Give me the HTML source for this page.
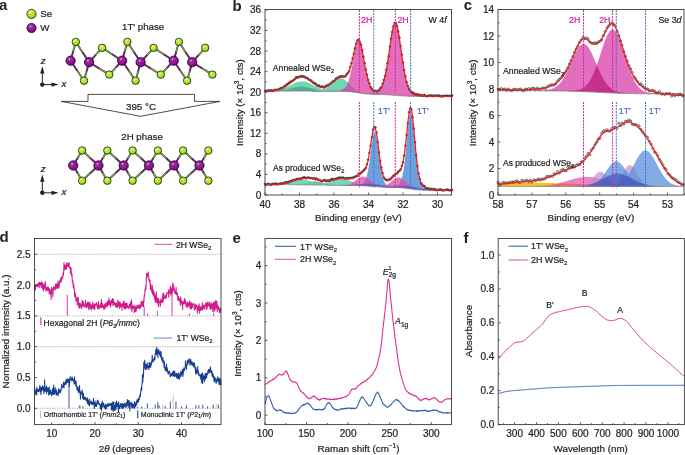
<!DOCTYPE html>
<html><head><meta charset="utf-8"><style>
html,body{margin:0;padding:0;background:#fff;width:685px;height:455px;overflow:hidden}
svg{display:block}
text{font-family:"Liberation Sans", sans-serif}
</style></head><body>
<svg width="685" height="455" viewBox="0 0 685 455">
<rect width="685" height="455" fill="#fff"/>
<text x="-1" y="10.4" font-size="15" text-anchor="start" font-weight="bold" font-style="normal" fill="#231f20" stroke="#231f20" stroke-width="0.0" >a</text>
<defs>
<radialGradient id="gse" cx="0.38" cy="0.33" r="0.75">
<stop offset="0" stop-color="#f4ffd0"/><stop offset="0.2" stop-color="#c2f048"/><stop offset="0.7" stop-color="#a2dc28"/><stop offset="1" stop-color="#6e9c10"/></radialGradient>
<radialGradient id="gw" cx="0.38" cy="0.33" r="0.75">
<stop offset="0" stop-color="#f4d0f4"/><stop offset="0.18" stop-color="#a22aa8"/><stop offset="0.7" stop-color="#88128e"/><stop offset="1" stop-color="#55065e"/></radialGradient>
</defs>
<circle cx="31.5" cy="13.9" r="4.6" fill="url(#gse)" stroke="#1e2410" stroke-width="0.8"/>
<text x="40.2" y="17.3" font-size="9.7" text-anchor="start" font-weight="normal" font-style="normal" fill="#231f20" stroke="#231f20" stroke-width="0.22" >Se</text>
<circle cx="31.5" cy="28" r="4.6" fill="url(#gw)" stroke="#1a0420" stroke-width="0.8"/>
<text x="40.2" y="31.3" font-size="9.7" text-anchor="start" font-weight="normal" font-style="normal" fill="#231f20" stroke="#231f20" stroke-width="0.22" >W</text>
<text x="122" y="30" font-size="9.7" text-anchor="start" font-weight="normal" font-style="normal" fill="#231f20" stroke="#231f20" stroke-width="0.22" >1T' phase</text>
<line x1="70.6" y1="60.7" x2="75.8" y2="41.9" stroke="#3b3b3b" stroke-width="1.9" />
<line x1="70.6" y1="60.7" x2="73.2" y2="51.3" stroke="#7d1d86" stroke-width="1.15" />
<line x1="73.2" y1="51.3" x2="75.8" y2="41.9" stroke="#86a83a" stroke-width="1.15" />
<line x1="70.6" y1="60.7" x2="84" y2="80.7" stroke="#3b3b3b" stroke-width="1.9" />
<line x1="70.6" y1="60.7" x2="77.3" y2="70.7" stroke="#7d1d86" stroke-width="1.15" />
<line x1="77.3" y1="70.7" x2="84" y2="80.7" stroke="#86a83a" stroke-width="1.15" />
<line x1="89.1" y1="62.2" x2="75.8" y2="41.9" stroke="#3b3b3b" stroke-width="1.9" />
<line x1="89.1" y1="62.2" x2="82.45" y2="52.05" stroke="#7d1d86" stroke-width="1.15" />
<line x1="82.45" y1="52.05" x2="75.8" y2="41.9" stroke="#86a83a" stroke-width="1.15" />
<line x1="89.1" y1="62.2" x2="84" y2="80.7" stroke="#3b3b3b" stroke-width="1.9" />
<line x1="89.1" y1="62.2" x2="86.55" y2="71.45" stroke="#7d1d86" stroke-width="1.15" />
<line x1="86.55" y1="71.45" x2="84" y2="80.7" stroke="#86a83a" stroke-width="1.15" />
<line x1="89.1" y1="62.2" x2="102.1" y2="47.8" stroke="#3b3b3b" stroke-width="1.9" />
<line x1="89.1" y1="62.2" x2="95.6" y2="55" stroke="#7d1d86" stroke-width="1.15" />
<line x1="95.6" y1="55" x2="102.1" y2="47.8" stroke="#86a83a" stroke-width="1.15" />
<line x1="89.1" y1="62.2" x2="109.3" y2="74.6" stroke="#3b3b3b" stroke-width="1.9" />
<line x1="89.1" y1="62.2" x2="99.2" y2="68.4" stroke="#7d1d86" stroke-width="1.15" />
<line x1="99.2" y1="68.4" x2="109.3" y2="74.6" stroke="#86a83a" stroke-width="1.15" />
<line x1="122.15" y1="60.7" x2="127.35" y2="41.9" stroke="#3b3b3b" stroke-width="1.9" />
<line x1="122.15" y1="60.7" x2="124.75" y2="51.3" stroke="#7d1d86" stroke-width="1.15" />
<line x1="124.75" y1="51.3" x2="127.35" y2="41.9" stroke="#86a83a" stroke-width="1.15" />
<line x1="122.15" y1="60.7" x2="135.55" y2="80.7" stroke="#3b3b3b" stroke-width="1.9" />
<line x1="122.15" y1="60.7" x2="128.85" y2="70.7" stroke="#7d1d86" stroke-width="1.15" />
<line x1="128.85" y1="70.7" x2="135.55" y2="80.7" stroke="#86a83a" stroke-width="1.15" />
<line x1="140.65" y1="62.2" x2="127.35" y2="41.9" stroke="#3b3b3b" stroke-width="1.9" />
<line x1="140.65" y1="62.2" x2="134" y2="52.05" stroke="#7d1d86" stroke-width="1.15" />
<line x1="134" y1="52.05" x2="127.35" y2="41.9" stroke="#86a83a" stroke-width="1.15" />
<line x1="140.65" y1="62.2" x2="135.55" y2="80.7" stroke="#3b3b3b" stroke-width="1.9" />
<line x1="140.65" y1="62.2" x2="138.1" y2="71.45" stroke="#7d1d86" stroke-width="1.15" />
<line x1="138.1" y1="71.45" x2="135.55" y2="80.7" stroke="#86a83a" stroke-width="1.15" />
<line x1="140.65" y1="62.2" x2="153.65" y2="47.8" stroke="#3b3b3b" stroke-width="1.9" />
<line x1="140.65" y1="62.2" x2="147.15" y2="55" stroke="#7d1d86" stroke-width="1.15" />
<line x1="147.15" y1="55" x2="153.65" y2="47.8" stroke="#86a83a" stroke-width="1.15" />
<line x1="140.65" y1="62.2" x2="160.85" y2="74.6" stroke="#3b3b3b" stroke-width="1.9" />
<line x1="140.65" y1="62.2" x2="150.75" y2="68.4" stroke="#7d1d86" stroke-width="1.15" />
<line x1="150.75" y1="68.4" x2="160.85" y2="74.6" stroke="#86a83a" stroke-width="1.15" />
<line x1="122.15" y1="60.7" x2="102.1" y2="47.8" stroke="#3b3b3b" stroke-width="1.9" />
<line x1="122.15" y1="60.7" x2="112.12" y2="54.25" stroke="#7d1d86" stroke-width="1.15" />
<line x1="112.12" y1="54.25" x2="102.1" y2="47.8" stroke="#86a83a" stroke-width="1.15" />
<line x1="122.15" y1="60.7" x2="109.3" y2="74.6" stroke="#3b3b3b" stroke-width="1.9" />
<line x1="122.15" y1="60.7" x2="115.72" y2="67.65" stroke="#7d1d86" stroke-width="1.15" />
<line x1="115.72" y1="67.65" x2="109.3" y2="74.6" stroke="#86a83a" stroke-width="1.15" />
<line x1="173.7" y1="60.7" x2="178.9" y2="41.9" stroke="#3b3b3b" stroke-width="1.9" />
<line x1="173.7" y1="60.7" x2="176.3" y2="51.3" stroke="#7d1d86" stroke-width="1.15" />
<line x1="176.3" y1="51.3" x2="178.9" y2="41.9" stroke="#86a83a" stroke-width="1.15" />
<line x1="173.7" y1="60.7" x2="187.1" y2="80.7" stroke="#3b3b3b" stroke-width="1.9" />
<line x1="173.7" y1="60.7" x2="180.4" y2="70.7" stroke="#7d1d86" stroke-width="1.15" />
<line x1="180.4" y1="70.7" x2="187.1" y2="80.7" stroke="#86a83a" stroke-width="1.15" />
<line x1="192.2" y1="62.2" x2="178.9" y2="41.9" stroke="#3b3b3b" stroke-width="1.9" />
<line x1="192.2" y1="62.2" x2="185.55" y2="52.05" stroke="#7d1d86" stroke-width="1.15" />
<line x1="185.55" y1="52.05" x2="178.9" y2="41.9" stroke="#86a83a" stroke-width="1.15" />
<line x1="192.2" y1="62.2" x2="187.1" y2="80.7" stroke="#3b3b3b" stroke-width="1.9" />
<line x1="192.2" y1="62.2" x2="189.65" y2="71.45" stroke="#7d1d86" stroke-width="1.15" />
<line x1="189.65" y1="71.45" x2="187.1" y2="80.7" stroke="#86a83a" stroke-width="1.15" />
<line x1="192.2" y1="62.2" x2="205.2" y2="47.8" stroke="#3b3b3b" stroke-width="1.9" />
<line x1="192.2" y1="62.2" x2="198.7" y2="55" stroke="#7d1d86" stroke-width="1.15" />
<line x1="198.7" y1="55" x2="205.2" y2="47.8" stroke="#86a83a" stroke-width="1.15" />
<line x1="192.2" y1="62.2" x2="212.4" y2="74.6" stroke="#3b3b3b" stroke-width="1.9" />
<line x1="192.2" y1="62.2" x2="202.3" y2="68.4" stroke="#7d1d86" stroke-width="1.15" />
<line x1="202.3" y1="68.4" x2="212.4" y2="74.6" stroke="#86a83a" stroke-width="1.15" />
<line x1="173.7" y1="60.7" x2="153.65" y2="47.8" stroke="#3b3b3b" stroke-width="1.9" />
<line x1="173.7" y1="60.7" x2="163.67" y2="54.25" stroke="#7d1d86" stroke-width="1.15" />
<line x1="163.67" y1="54.25" x2="153.65" y2="47.8" stroke="#86a83a" stroke-width="1.15" />
<line x1="173.7" y1="60.7" x2="160.85" y2="74.6" stroke="#3b3b3b" stroke-width="1.9" />
<line x1="173.7" y1="60.7" x2="167.27" y2="67.65" stroke="#7d1d86" stroke-width="1.15" />
<line x1="167.27" y1="67.65" x2="160.85" y2="74.6" stroke="#86a83a" stroke-width="1.15" />
<circle cx="70.6" cy="60.7" r="4.65" fill="url(#gw)" stroke="#1a0420" stroke-width="0.8"/>
<circle cx="89.1" cy="62.2" r="4.65" fill="url(#gw)" stroke="#1a0420" stroke-width="0.8"/>
<circle cx="122.15" cy="60.7" r="4.65" fill="url(#gw)" stroke="#1a0420" stroke-width="0.8"/>
<circle cx="140.65" cy="62.2" r="4.65" fill="url(#gw)" stroke="#1a0420" stroke-width="0.8"/>
<circle cx="173.7" cy="60.7" r="4.65" fill="url(#gw)" stroke="#1a0420" stroke-width="0.8"/>
<circle cx="192.2" cy="62.2" r="4.65" fill="url(#gw)" stroke="#1a0420" stroke-width="0.8"/>
<circle cx="75.8" cy="41.9" r="3.75" fill="url(#gse)" stroke="#1e2410" stroke-width="0.8"/>
<circle cx="102.1" cy="47.8" r="3.75" fill="url(#gse)" stroke="#1e2410" stroke-width="0.8"/>
<circle cx="84" cy="80.7" r="3.75" fill="url(#gse)" stroke="#1e2410" stroke-width="0.8"/>
<circle cx="109.3" cy="74.6" r="3.75" fill="url(#gse)" stroke="#1e2410" stroke-width="0.8"/>
<circle cx="127.35" cy="41.9" r="3.75" fill="url(#gse)" stroke="#1e2410" stroke-width="0.8"/>
<circle cx="153.65" cy="47.8" r="3.75" fill="url(#gse)" stroke="#1e2410" stroke-width="0.8"/>
<circle cx="135.55" cy="80.7" r="3.75" fill="url(#gse)" stroke="#1e2410" stroke-width="0.8"/>
<circle cx="160.85" cy="74.6" r="3.75" fill="url(#gse)" stroke="#1e2410" stroke-width="0.8"/>
<circle cx="178.9" cy="41.9" r="3.75" fill="url(#gse)" stroke="#1e2410" stroke-width="0.8"/>
<circle cx="205.2" cy="47.8" r="3.75" fill="url(#gse)" stroke="#1e2410" stroke-width="0.8"/>
<circle cx="187.1" cy="80.7" r="3.75" fill="url(#gse)" stroke="#1e2410" stroke-width="0.8"/>
<circle cx="212.4" cy="74.6" r="3.75" fill="url(#gse)" stroke="#1e2410" stroke-width="0.8"/>
<line x1="42.3" y1="84.6" x2="42.3" y2="72.2" stroke="#231f20" stroke-width="1.0" />
<path d="M40.2,73.5 L42.3,66.2 L44.4,73.5 Z" fill="#231f20"/>
<line x1="42.3" y1="84.6" x2="52.3" y2="84.6" stroke="#231f20" stroke-width="1.0" />
<path d="M51.5,82.5 L58.5,84.6 L51.5,86.7 Z" fill="#231f20"/>
<circle cx="42.3" cy="84.6" r="2.2" fill="#231f20"/>
<text x="40.7" y="63.6" font-size="9.8" text-anchor="start" font-weight="normal" font-style="italic" fill="#231f20" stroke="#231f20" stroke-width="0.22" >z</text>
<text x="61.6" y="86.9" font-size="9.8" text-anchor="start" font-weight="normal" font-style="italic" fill="#231f20" stroke="#231f20" stroke-width="0.22" >x</text>
<path d="M61.2,101.4 L88,101.4 L88,94.4 L194.5,94.4 L194.5,101.4 L220,101.4 L140.6,116.3 Z" fill="#fff" stroke="#231f20" stroke-width="0.8" stroke-linejoin="miter"/>
<text x="141" y="109.8" font-size="9.8" text-anchor="middle" font-weight="normal" font-style="normal" fill="#231f20" stroke="#231f20" stroke-width="0.22" >395 °C</text>
<text x="121.3" y="140" font-size="9.7" text-anchor="start" font-weight="normal" font-style="normal" fill="#231f20" stroke="#231f20" stroke-width="0.22" >2H phase</text>
<line x1="73.2" y1="165.5" x2="82.1" y2="150.5" stroke="#3b3b3b" stroke-width="1.9" />
<line x1="73.2" y1="165.5" x2="77.65" y2="158" stroke="#7d1d86" stroke-width="1.15" />
<line x1="77.65" y1="158" x2="82.1" y2="150.5" stroke="#86a83a" stroke-width="1.15" />
<line x1="73.2" y1="165.5" x2="82.1" y2="180.7" stroke="#3b3b3b" stroke-width="1.9" />
<line x1="73.2" y1="165.5" x2="77.65" y2="173.1" stroke="#7d1d86" stroke-width="1.15" />
<line x1="77.65" y1="173.1" x2="82.1" y2="180.7" stroke="#86a83a" stroke-width="1.15" />
<line x1="98.45" y1="165.5" x2="107.35" y2="150.5" stroke="#3b3b3b" stroke-width="1.9" />
<line x1="98.45" y1="165.5" x2="102.9" y2="158" stroke="#7d1d86" stroke-width="1.15" />
<line x1="102.9" y1="158" x2="107.35" y2="150.5" stroke="#86a83a" stroke-width="1.15" />
<line x1="98.45" y1="165.5" x2="107.35" y2="180.7" stroke="#3b3b3b" stroke-width="1.9" />
<line x1="98.45" y1="165.5" x2="102.9" y2="173.1" stroke="#7d1d86" stroke-width="1.15" />
<line x1="102.9" y1="173.1" x2="107.35" y2="180.7" stroke="#86a83a" stroke-width="1.15" />
<line x1="98.45" y1="165.5" x2="82.1" y2="150.5" stroke="#3b3b3b" stroke-width="1.9" />
<line x1="98.45" y1="165.5" x2="90.28" y2="158" stroke="#7d1d86" stroke-width="1.15" />
<line x1="90.28" y1="158" x2="82.1" y2="150.5" stroke="#86a83a" stroke-width="1.15" />
<line x1="98.45" y1="165.5" x2="82.1" y2="180.7" stroke="#3b3b3b" stroke-width="1.9" />
<line x1="98.45" y1="165.5" x2="90.28" y2="173.1" stroke="#7d1d86" stroke-width="1.15" />
<line x1="90.28" y1="173.1" x2="82.1" y2="180.7" stroke="#86a83a" stroke-width="1.15" />
<line x1="123.7" y1="165.5" x2="132.6" y2="150.5" stroke="#3b3b3b" stroke-width="1.9" />
<line x1="123.7" y1="165.5" x2="128.15" y2="158" stroke="#7d1d86" stroke-width="1.15" />
<line x1="128.15" y1="158" x2="132.6" y2="150.5" stroke="#86a83a" stroke-width="1.15" />
<line x1="123.7" y1="165.5" x2="132.6" y2="180.7" stroke="#3b3b3b" stroke-width="1.9" />
<line x1="123.7" y1="165.5" x2="128.15" y2="173.1" stroke="#7d1d86" stroke-width="1.15" />
<line x1="128.15" y1="173.1" x2="132.6" y2="180.7" stroke="#86a83a" stroke-width="1.15" />
<line x1="123.7" y1="165.5" x2="107.35" y2="150.5" stroke="#3b3b3b" stroke-width="1.9" />
<line x1="123.7" y1="165.5" x2="115.53" y2="158" stroke="#7d1d86" stroke-width="1.15" />
<line x1="115.53" y1="158" x2="107.35" y2="150.5" stroke="#86a83a" stroke-width="1.15" />
<line x1="123.7" y1="165.5" x2="107.35" y2="180.7" stroke="#3b3b3b" stroke-width="1.9" />
<line x1="123.7" y1="165.5" x2="115.53" y2="173.1" stroke="#7d1d86" stroke-width="1.15" />
<line x1="115.53" y1="173.1" x2="107.35" y2="180.7" stroke="#86a83a" stroke-width="1.15" />
<line x1="148.95" y1="165.5" x2="157.85" y2="150.5" stroke="#3b3b3b" stroke-width="1.9" />
<line x1="148.95" y1="165.5" x2="153.4" y2="158" stroke="#7d1d86" stroke-width="1.15" />
<line x1="153.4" y1="158" x2="157.85" y2="150.5" stroke="#86a83a" stroke-width="1.15" />
<line x1="148.95" y1="165.5" x2="157.85" y2="180.7" stroke="#3b3b3b" stroke-width="1.9" />
<line x1="148.95" y1="165.5" x2="153.4" y2="173.1" stroke="#7d1d86" stroke-width="1.15" />
<line x1="153.4" y1="173.1" x2="157.85" y2="180.7" stroke="#86a83a" stroke-width="1.15" />
<line x1="148.95" y1="165.5" x2="132.6" y2="150.5" stroke="#3b3b3b" stroke-width="1.9" />
<line x1="148.95" y1="165.5" x2="140.77" y2="158" stroke="#7d1d86" stroke-width="1.15" />
<line x1="140.77" y1="158" x2="132.6" y2="150.5" stroke="#86a83a" stroke-width="1.15" />
<line x1="148.95" y1="165.5" x2="132.6" y2="180.7" stroke="#3b3b3b" stroke-width="1.9" />
<line x1="148.95" y1="165.5" x2="140.77" y2="173.1" stroke="#7d1d86" stroke-width="1.15" />
<line x1="140.77" y1="173.1" x2="132.6" y2="180.7" stroke="#86a83a" stroke-width="1.15" />
<line x1="174.2" y1="165.5" x2="183.1" y2="150.5" stroke="#3b3b3b" stroke-width="1.9" />
<line x1="174.2" y1="165.5" x2="178.65" y2="158" stroke="#7d1d86" stroke-width="1.15" />
<line x1="178.65" y1="158" x2="183.1" y2="150.5" stroke="#86a83a" stroke-width="1.15" />
<line x1="174.2" y1="165.5" x2="183.1" y2="180.7" stroke="#3b3b3b" stroke-width="1.9" />
<line x1="174.2" y1="165.5" x2="178.65" y2="173.1" stroke="#7d1d86" stroke-width="1.15" />
<line x1="178.65" y1="173.1" x2="183.1" y2="180.7" stroke="#86a83a" stroke-width="1.15" />
<line x1="174.2" y1="165.5" x2="157.85" y2="150.5" stroke="#3b3b3b" stroke-width="1.9" />
<line x1="174.2" y1="165.5" x2="166.02" y2="158" stroke="#7d1d86" stroke-width="1.15" />
<line x1="166.02" y1="158" x2="157.85" y2="150.5" stroke="#86a83a" stroke-width="1.15" />
<line x1="174.2" y1="165.5" x2="157.85" y2="180.7" stroke="#3b3b3b" stroke-width="1.9" />
<line x1="174.2" y1="165.5" x2="166.02" y2="173.1" stroke="#7d1d86" stroke-width="1.15" />
<line x1="166.02" y1="173.1" x2="157.85" y2="180.7" stroke="#86a83a" stroke-width="1.15" />
<line x1="199.45" y1="165.5" x2="208.35" y2="150.5" stroke="#3b3b3b" stroke-width="1.9" />
<line x1="199.45" y1="165.5" x2="203.9" y2="158" stroke="#7d1d86" stroke-width="1.15" />
<line x1="203.9" y1="158" x2="208.35" y2="150.5" stroke="#86a83a" stroke-width="1.15" />
<line x1="199.45" y1="165.5" x2="208.35" y2="180.7" stroke="#3b3b3b" stroke-width="1.9" />
<line x1="199.45" y1="165.5" x2="203.9" y2="173.1" stroke="#7d1d86" stroke-width="1.15" />
<line x1="203.9" y1="173.1" x2="208.35" y2="180.7" stroke="#86a83a" stroke-width="1.15" />
<line x1="199.45" y1="165.5" x2="183.1" y2="150.5" stroke="#3b3b3b" stroke-width="1.9" />
<line x1="199.45" y1="165.5" x2="191.27" y2="158" stroke="#7d1d86" stroke-width="1.15" />
<line x1="191.27" y1="158" x2="183.1" y2="150.5" stroke="#86a83a" stroke-width="1.15" />
<line x1="199.45" y1="165.5" x2="183.1" y2="180.7" stroke="#3b3b3b" stroke-width="1.9" />
<line x1="199.45" y1="165.5" x2="191.27" y2="173.1" stroke="#7d1d86" stroke-width="1.15" />
<line x1="191.27" y1="173.1" x2="183.1" y2="180.7" stroke="#86a83a" stroke-width="1.15" />
<circle cx="73.2" cy="165.5" r="4.65" fill="url(#gw)" stroke="#1a0420" stroke-width="0.8"/>
<circle cx="98.45" cy="165.5" r="4.65" fill="url(#gw)" stroke="#1a0420" stroke-width="0.8"/>
<circle cx="123.7" cy="165.5" r="4.65" fill="url(#gw)" stroke="#1a0420" stroke-width="0.8"/>
<circle cx="148.95" cy="165.5" r="4.65" fill="url(#gw)" stroke="#1a0420" stroke-width="0.8"/>
<circle cx="174.2" cy="165.5" r="4.65" fill="url(#gw)" stroke="#1a0420" stroke-width="0.8"/>
<circle cx="199.45" cy="165.5" r="4.65" fill="url(#gw)" stroke="#1a0420" stroke-width="0.8"/>
<circle cx="82.1" cy="150.5" r="3.75" fill="url(#gse)" stroke="#1e2410" stroke-width="0.8"/>
<circle cx="82.1" cy="180.7" r="3.75" fill="url(#gse)" stroke="#1e2410" stroke-width="0.8"/>
<circle cx="107.35" cy="150.5" r="3.75" fill="url(#gse)" stroke="#1e2410" stroke-width="0.8"/>
<circle cx="107.35" cy="180.7" r="3.75" fill="url(#gse)" stroke="#1e2410" stroke-width="0.8"/>
<circle cx="132.6" cy="150.5" r="3.75" fill="url(#gse)" stroke="#1e2410" stroke-width="0.8"/>
<circle cx="132.6" cy="180.7" r="3.75" fill="url(#gse)" stroke="#1e2410" stroke-width="0.8"/>
<circle cx="157.85" cy="150.5" r="3.75" fill="url(#gse)" stroke="#1e2410" stroke-width="0.8"/>
<circle cx="157.85" cy="180.7" r="3.75" fill="url(#gse)" stroke="#1e2410" stroke-width="0.8"/>
<circle cx="183.1" cy="150.5" r="3.75" fill="url(#gse)" stroke="#1e2410" stroke-width="0.8"/>
<circle cx="183.1" cy="180.7" r="3.75" fill="url(#gse)" stroke="#1e2410" stroke-width="0.8"/>
<circle cx="208.35" cy="150.5" r="3.75" fill="url(#gse)" stroke="#1e2410" stroke-width="0.8"/>
<circle cx="208.35" cy="180.7" r="3.75" fill="url(#gse)" stroke="#1e2410" stroke-width="0.8"/>
<line x1="42.3" y1="192.8" x2="42.3" y2="180.4" stroke="#231f20" stroke-width="1.0" />
<path d="M40.2,181.7 L42.3,174.4 L44.4,181.7 Z" fill="#231f20"/>
<line x1="42.3" y1="192.8" x2="52.3" y2="192.8" stroke="#231f20" stroke-width="1.0" />
<path d="M51.5,190.7 L58.5,192.8 L51.5,194.9 Z" fill="#231f20"/>
<circle cx="42.3" cy="192.8" r="2.2" fill="#231f20"/>
<text x="40.7" y="171.8" font-size="9.8" text-anchor="start" font-weight="normal" font-style="italic" fill="#231f20" stroke="#231f20" stroke-width="0.22" >z</text>
<text x="61.6" y="195.1" font-size="9.8" text-anchor="start" font-weight="normal" font-style="italic" fill="#231f20" stroke="#231f20" stroke-width="0.22" >x</text>
<text x="232.4" y="10.6" font-size="15" text-anchor="start" font-weight="bold" font-style="normal" fill="#231f20" stroke="#231f20" stroke-width="0.0" >b</text>
<path d="M266.3,91 266.8,90.9 267.2,90.9 267.7,90.9 268.1,90.9 268.6,90.9 269,90.9 269.5,90.9 269.9,90.8 270.4,90.8 270.8,90.8 271.3,90.8 271.7,90.7 272.2,90.7 272.6,90.7 273.1,90.6 273.5,90.6 274,90.6 274.4,90.5 274.8,90.5 275.3,90.4 275.7,90.3 276.2,90.3 276.6,90.2 277.1,90.1 277.5,90.1 278,90 278.4,89.9 278.9,89.8 279.3,89.7 279.8,89.6 280.2,89.5 280.7,89.3 281.1,89.2 281.6,89.1 282,88.9 282.5,88.8 282.9,88.6 283.3,88.5 283.8,88.3 284.2,88.1 284.7,87.9 285.1,87.7 285.6,87.6 286,87.4 286.5,87.1 286.9,86.9 287.4,86.7 287.8,86.5 288.3,86.3 288.7,86.1 289.2,85.8 289.6,85.6 290.1,85.4 290.5,85.1 291,84.9 291.4,84.7 291.9,84.4 292.3,84.2 292.7,84 293.2,83.8 293.6,83.6 294.1,83.3 294.5,83.1 295,82.9 295.4,82.8 295.9,82.6 296.3,82.4 296.8,82.2 297.2,82.1 297.7,82 298.1,81.8 298.6,81.7 299,81.6 299.5,81.5 299.9,81.5 300.4,81.4 300.8,81.4 301.2,81.3 301.7,81.3 302.1,81.3 302.6,81.3 303,81.4 303.5,81.4 303.9,81.5 304.4,81.5 304.8,81.6 305.3,81.7 305.7,81.8 306.2,82 306.6,82.1 307.1,82.3 307.5,82.4 308,82.6 308.4,82.8 308.9,83 309.3,83.2 309.8,83.4 310.2,83.6 310.6,83.8 311.1,84 311.5,84.3 312,84.5 312.4,84.7 312.9,85 313.3,85.2 313.8,85.4 314.2,85.7 314.7,85.9 315.1,86.1 315.6,86.4 316,86.6 316.5,86.8 316.9,87 317.4,87.2 317.8,87.4 318.3,87.6 318.7,87.8 319.1,88 319.6,88.2 320,88.4 320.5,88.6 320.9,88.7 321.4,88.9 321.8,89 322.3,89.2 322.7,89.3 323.2,89.5 323.6,89.6 324.1,89.7 324.5,89.8 325,89.9 325.4,90 325.9,90.1 326.3,90.2 326.8,90.3 327.2,90.4 327.7,90.4 328.1,90.5 328.5,90.6 329,90.6 329.4,90.7 329.9,90.7 330.3,90.8 330.8,90.8 331.2,90.9 331.7,90.9 332.1,90.9 332.6,91 333,91 333.5,91 333.9,91 334.4,91.1 334.8,91.1 335.3,91.1 335.7,91.1 336.2,91.1 336.6,91.2 337,91.2 337.5,91.2 L337.5,91.3 L337,91.3 L336.6,91.3 L336.2,91.3 L335.7,91.3 L335.3,91.2 L334.8,91.2 L334.4,91.2 L333.9,91.2 L333.5,91.2 L333,91.2 L332.6,91.2 L332.1,91.2 L331.7,91.2 L331.2,91.2 L330.8,91.2 L330.3,91.2 L329.9,91.2 L329.4,91.2 L329,91.2 L328.5,91.2 L328.1,91.2 L327.7,91.2 L327.2,91.2 L326.8,91.2 L326.3,91.2 L325.9,91.2 L325.4,91.2 L325,91.2 L324.5,91.2 L324.1,91.2 L323.6,91.2 L323.2,91.2 L322.7,91.2 L322.3,91.2 L321.8,91.2 L321.4,91.2 L320.9,91.2 L320.5,91.2 L320,91.2 L319.6,91.2 L319.1,91.2 L318.7,91.2 L318.3,91.2 L317.8,91.2 L317.4,91.2 L316.9,91.2 L316.5,91.2 L316,91.2 L315.6,91.2 L315.1,91.2 L314.7,91.2 L314.2,91.2 L313.8,91.2 L313.3,91.2 L312.9,91.2 L312.4,91.2 L312,91.2 L311.5,91.2 L311.1,91.1 L310.6,91.1 L310.2,91.1 L309.8,91.1 L309.3,91.1 L308.9,91.1 L308.4,91.1 L308,91.1 L307.5,91.1 L307.1,91.1 L306.6,91.1 L306.2,91.1 L305.7,91.1 L305.3,91.1 L304.8,91.1 L304.4,91.1 L303.9,91.1 L303.5,91.1 L303,91.1 L302.6,91.1 L302.1,91.1 L301.7,91.1 L301.2,91.1 L300.8,91.1 L300.4,91.1 L299.9,91.1 L299.5,91.1 L299,91.1 L298.6,91.1 L298.1,91.1 L297.7,91.1 L297.2,91.1 L296.8,91.1 L296.3,91.1 L295.9,91.1 L295.4,91.1 L295,91.1 L294.5,91.1 L294.1,91.1 L293.6,91.1 L293.2,91.1 L292.7,91.1 L292.3,91.1 L291.9,91.1 L291.4,91.1 L291,91.1 L290.5,91.1 L290.1,91.1 L289.6,91.1 L289.2,91.1 L288.7,91.1 L288.3,91.1 L287.8,91.1 L287.4,91.1 L286.9,91.1 L286.5,91.1 L286,91.1 L285.6,91.1 L285.1,91.1 L284.7,91.1 L284.2,91.1 L283.8,91.1 L283.3,91.1 L282.9,91.1 L282.5,91.1 L282,91.1 L281.6,91.1 L281.1,91.1 L280.7,91.1 L280.2,91.1 L279.8,91.1 L279.3,91.1 L278.9,91.1 L278.4,91.1 L278,91.1 L277.5,91.1 L277.1,91.1 L276.6,91.1 L276.2,91.1 L275.7,91.1 L275.3,91.1 L274.8,91.1 L274.4,91.1 L274,91 L273.5,91 L273.1,91 L272.6,91 L272.2,91 L271.7,91 L271.3,91 L270.8,91 L270.4,91 L269.9,91 L269.5,91 L269,91 L268.6,91 L268.1,91 L267.7,91 L267.2,91 L266.8,91 L266.3,91 Z" fill="#6ed7b4" fill-opacity="1.0" />
<path d="M271.7,91 272.2,91 272.6,91 273.1,90.9 273.5,90.9 274,90.9 274.4,90.9 274.8,90.9 275.3,90.9 275.7,90.8 276.2,90.8 276.6,90.8 277.1,90.8 277.5,90.7 278,90.7 278.4,90.7 278.9,90.6 279.3,90.6 279.8,90.6 280.2,90.5 280.7,90.5 281.1,90.4 281.6,90.3 282,90.3 282.5,90.2 282.9,90.2 283.3,90.1 283.8,90 284.2,89.9 284.7,89.8 285.1,89.8 285.6,89.7 286,89.6 286.5,89.5 286.9,89.4 287.4,89.3 287.8,89.2 288.3,89 288.7,88.9 289.2,88.8 289.6,88.7 290.1,88.6 290.5,88.5 291,88.4 291.4,88.2 291.9,88.1 292.3,88 292.7,87.9 293.2,87.8 293.6,87.7 294.1,87.5 294.5,87.4 295,87.3 295.4,87.2 295.9,87.2 296.3,87.1 296.8,87 297.2,86.9 297.7,86.9 298.1,86.8 298.6,86.7 299,86.7 299.5,86.7 299.9,86.6 300.4,86.6 300.8,86.6 301.2,86.6 301.7,86.6 302.1,86.6 302.6,86.6 303,86.7 303.5,86.7 303.9,86.8 304.4,86.8 304.8,86.9 305.3,86.9 305.7,87 306.2,87.1 306.6,87.2 307.1,87.3 307.5,87.4 308,87.5 308.4,87.6 308.9,87.7 309.3,87.8 309.8,87.9 310.2,88.1 310.6,88.2 311.1,88.3 311.5,88.4 312,88.5 312.4,88.7 312.9,88.8 313.3,88.9 313.8,89 314.2,89.1 314.7,89.2 315.1,89.3 315.6,89.5 316,89.6 316.5,89.7 316.9,89.8 317.4,89.8 317.8,89.9 318.3,90 318.7,90.1 319.1,90.2 319.6,90.3 320,90.3 320.5,90.4 320.9,90.5 321.4,90.5 321.8,90.6 322.3,90.6 322.7,90.7 323.2,90.7 323.6,90.8 324.1,90.8 324.5,90.8 325,90.9 325.4,90.9 325.9,90.9 326.3,91 326.8,91 327.2,91 327.7,91 328.1,91.1 328.5,91.1 329,91.1 329.4,91.1 329.9,91.1 330.3,91.1 330.8,91.1 L330.8,91.2 L330.3,91.2 L329.9,91.2 L329.4,91.2 L329,91.2 L328.5,91.2 L328.1,91.2 L327.7,91.2 L327.2,91.2 L326.8,91.2 L326.3,91.2 L325.9,91.2 L325.4,91.2 L325,91.2 L324.5,91.2 L324.1,91.2 L323.6,91.2 L323.2,91.2 L322.7,91.2 L322.3,91.2 L321.8,91.2 L321.4,91.2 L320.9,91.2 L320.5,91.2 L320,91.2 L319.6,91.2 L319.1,91.2 L318.7,91.2 L318.3,91.2 L317.8,91.2 L317.4,91.2 L316.9,91.2 L316.5,91.2 L316,91.2 L315.6,91.2 L315.1,91.2 L314.7,91.2 L314.2,91.2 L313.8,91.2 L313.3,91.2 L312.9,91.2 L312.4,91.2 L312,91.2 L311.5,91.2 L311.1,91.1 L310.6,91.1 L310.2,91.1 L309.8,91.1 L309.3,91.1 L308.9,91.1 L308.4,91.1 L308,91.1 L307.5,91.1 L307.1,91.1 L306.6,91.1 L306.2,91.1 L305.7,91.1 L305.3,91.1 L304.8,91.1 L304.4,91.1 L303.9,91.1 L303.5,91.1 L303,91.1 L302.6,91.1 L302.1,91.1 L301.7,91.1 L301.2,91.1 L300.8,91.1 L300.4,91.1 L299.9,91.1 L299.5,91.1 L299,91.1 L298.6,91.1 L298.1,91.1 L297.7,91.1 L297.2,91.1 L296.8,91.1 L296.3,91.1 L295.9,91.1 L295.4,91.1 L295,91.1 L294.5,91.1 L294.1,91.1 L293.6,91.1 L293.2,91.1 L292.7,91.1 L292.3,91.1 L291.9,91.1 L291.4,91.1 L291,91.1 L290.5,91.1 L290.1,91.1 L289.6,91.1 L289.2,91.1 L288.7,91.1 L288.3,91.1 L287.8,91.1 L287.4,91.1 L286.9,91.1 L286.5,91.1 L286,91.1 L285.6,91.1 L285.1,91.1 L284.7,91.1 L284.2,91.1 L283.8,91.1 L283.3,91.1 L282.9,91.1 L282.5,91.1 L282,91.1 L281.6,91.1 L281.1,91.1 L280.7,91.1 L280.2,91.1 L279.8,91.1 L279.3,91.1 L278.9,91.1 L278.4,91.1 L278,91.1 L277.5,91.1 L277.1,91.1 L276.6,91.1 L276.2,91.1 L275.7,91.1 L275.3,91.1 L274.8,91.1 L274.4,91.1 L274,91 L273.5,91 L273.1,91 L272.6,91 L272.2,91 L271.7,91 Z" fill="#b9cfcd" fill-opacity="1.0" style="mix-blend-mode:multiply" />
<path d="M312.9,91.1 313.3,91.1 313.8,91 314.2,91 314.7,91 315.1,91 315.6,91 316,90.9 316.5,90.9 316.9,90.8 317.4,90.8 317.8,90.8 318.3,90.7 318.7,90.6 319.1,90.6 319.6,90.5 320,90.4 320.5,90.3 320.9,90.2 321.4,90 321.8,89.9 322.3,89.8 322.7,89.6 323.2,89.4 323.6,89.2 324.1,89 324.5,88.8 325,88.6 325.4,88.4 325.9,88.1 326.3,87.8 326.8,87.5 327.2,87.2 327.7,86.9 328.1,86.6 328.5,86.2 329,85.8 329.4,85.5 329.9,85.1 330.3,84.7 330.8,84.3 331.2,83.9 331.7,83.5 332.1,83.1 332.6,82.7 333,82.3 333.5,81.9 333.9,81.5 334.4,81.1 334.8,80.8 335.3,80.4 335.7,80.1 336.2,79.8 336.6,79.5 337,79.2 337.5,79 337.9,78.8 338.4,78.6 338.8,78.5 339.3,78.4 339.7,78.3 340.2,78.3 340.6,78.3 341.1,78.3 341.5,78.4 342,78.5 342.4,78.6 342.9,78.8 343.3,79 343.8,79.2 344.2,79.5 344.7,79.8 345.1,80.1 345.6,80.4 346,80.8 346.4,81.2 346.9,81.6 347.3,82 347.8,82.4 348.2,82.8 348.7,83.3 349.1,83.7 349.6,84.2 350,84.6 350.5,85 350.9,85.5 351.4,85.9 351.8,86.3 352.3,86.8 352.7,87.2 353.2,87.6 353.6,88 354.1,88.3 354.5,88.7 354.9,89.1 355.4,89.4 355.8,89.7 356.3,90 356.7,90.3 357.2,90.6 357.6,90.9 358.1,91.1 358.5,91.4 359,91.6 359.4,91.8 359.9,92 360.3,92.2 360.8,92.4 361.2,92.5 361.7,92.7 362.1,92.8 362.6,92.9 363,93.1 363.5,93.2 363.9,93.3 364.3,93.4 364.8,93.5 365.2,93.6 365.7,93.6 366.1,93.7 366.6,93.8 367,93.8 367.5,93.9 367.9,93.9 368.4,94 L368.4,94 L367.9,94 L367.5,94 L367,93.9 L366.6,93.9 L366.1,93.9 L365.7,93.8 L365.2,93.8 L364.8,93.7 L364.3,93.7 L363.9,93.6 L363.5,93.6 L363,93.5 L362.6,93.5 L362.1,93.4 L361.7,93.3 L361.2,93.3 L360.8,93.2 L360.3,93.2 L359.9,93.1 L359.4,93 L359,93 L358.5,92.9 L358.1,92.8 L357.6,92.7 L357.2,92.7 L356.7,92.6 L356.3,92.5 L355.8,92.5 L355.4,92.4 L354.9,92.3 L354.5,92.3 L354.1,92.2 L353.6,92.2 L353.2,92.1 L352.7,92.1 L352.3,92 L351.8,92 L351.4,91.9 L350.9,91.9 L350.5,91.8 L350,91.8 L349.6,91.7 L349.1,91.7 L348.7,91.7 L348.2,91.6 L347.8,91.6 L347.3,91.6 L346.9,91.6 L346.4,91.5 L346,91.5 L345.6,91.5 L345.1,91.5 L344.7,91.4 L344.2,91.4 L343.8,91.4 L343.3,91.4 L342.9,91.4 L342.4,91.4 L342,91.4 L341.5,91.3 L341.1,91.3 L340.6,91.3 L340.2,91.3 L339.7,91.3 L339.3,91.3 L338.8,91.3 L338.4,91.3 L337.9,91.3 L337.5,91.3 L337,91.3 L336.6,91.3 L336.2,91.3 L335.7,91.3 L335.3,91.2 L334.8,91.2 L334.4,91.2 L333.9,91.2 L333.5,91.2 L333,91.2 L332.6,91.2 L332.1,91.2 L331.7,91.2 L331.2,91.2 L330.8,91.2 L330.3,91.2 L329.9,91.2 L329.4,91.2 L329,91.2 L328.5,91.2 L328.1,91.2 L327.7,91.2 L327.2,91.2 L326.8,91.2 L326.3,91.2 L325.9,91.2 L325.4,91.2 L325,91.2 L324.5,91.2 L324.1,91.2 L323.6,91.2 L323.2,91.2 L322.7,91.2 L322.3,91.2 L321.8,91.2 L321.4,91.2 L320.9,91.2 L320.5,91.2 L320,91.2 L319.6,91.2 L319.1,91.2 L318.7,91.2 L318.3,91.2 L317.8,91.2 L317.4,91.2 L316.9,91.2 L316.5,91.2 L316,91.2 L315.6,91.2 L315.1,91.2 L314.7,91.2 L314.2,91.2 L313.8,91.2 L313.3,91.2 L312.9,91.2 Z" fill="#6ed7b4" fill-opacity="1.0" />
<path d="M291.4,91 291.9,91 292.3,91 292.7,91 293.2,91 293.6,91 294.1,91 294.5,91 295,91 295.4,91 295.9,91 296.3,91 296.8,91 297.2,91 297.7,91 298.1,91 298.6,91 299,91 299.5,91 299.9,91 300.4,91 300.8,91 301.2,91 301.7,91 302.1,91 302.6,91 303,91 303.5,91 303.9,91 304.4,91 304.8,91 305.3,91 305.7,91 306.2,91 306.6,91 307.1,91 307.5,91 308,91 308.4,91 308.9,91 309.3,91 309.8,91 310.2,91 310.6,91 311.1,91 311.5,91 312,91 312.4,91 312.9,91 313.3,91 313.8,91 314.2,91 314.7,91 315.1,91 315.6,91 316,91 316.5,91 316.9,91 317.4,91 317.8,91 318.3,91 318.7,90.9 319.1,90.9 319.6,90.9 320,90.9 320.5,90.9 320.9,90.9 321.4,90.9 321.8,90.9 322.3,90.9 322.7,90.9 323.2,90.9 323.6,90.9 324.1,90.9 324.5,90.9 325,90.9 325.4,90.9 325.9,90.9 326.3,90.9 326.8,90.9 327.2,90.8 327.7,90.8 328.1,90.8 328.5,90.8 329,90.8 329.4,90.8 329.9,90.8 330.3,90.8 330.8,90.8 331.2,90.8 331.7,90.8 332.1,90.7 332.6,90.7 333,90.7 333.5,90.7 333.9,90.7 334.4,90.7 334.8,90.7 335.3,90.6 335.7,90.6 336.2,90.6 336.6,90.6 337,90.5 337.5,90.5 337.9,90.5 338.4,90.4 338.8,90.4 339.3,90.3 339.7,90.3 340.2,90.2 340.6,90.1 341.1,90 341.5,89.9 342,89.7 342.4,89.5 342.9,89.3 343.3,89.1 343.8,88.8 344.2,88.4 344.7,88 345.1,87.6 345.6,87 346,86.4 346.4,85.7 346.9,84.8 347.3,83.9 347.8,82.9 348.2,81.7 348.7,80.4 349.1,79 349.6,77.4 350,75.7 350.5,73.9 350.9,72 351.4,69.9 351.8,67.8 352.3,65.5 352.7,63.3 353.2,60.9 353.6,58.6 354.1,56.3 354.5,54 354.9,51.8 355.4,49.8 355.8,47.9 356.3,46.2 356.7,44.7 357.2,43.5 357.6,42.6 358.1,42 358.5,41.7 359,41.8 359.4,42.2 359.9,43 360.3,44.1 360.8,45.4 361.2,47.1 361.7,48.9 362.1,50.9 362.6,53.1 363,55.4 363.5,57.8 363.9,60.3 364.3,62.7 364.8,65.1 365.2,67.5 365.7,69.8 366.1,72 366.6,74.2 367,76.2 367.5,78.1 367.9,79.8 368.4,81.4 368.8,82.9 369.3,84.3 369.7,85.5 370.2,86.6 370.6,87.5 371.1,88.4 371.5,89.2 372,89.8 372.4,90.4 372.9,90.9 373.3,91.3 373.7,91.7 374.2,92 374.6,92.3 375.1,92.5 375.5,92.7 376,92.9 376.4,93.1 376.9,93.2 377.3,93.3 377.8,93.4 378.2,93.5 378.7,93.5 379.1,93.6 379.6,93.7 380,93.7 380.5,93.8 380.9,93.8 381.4,93.9 381.8,93.9 382.2,93.9 382.7,94 383.1,94 383.6,94 384,94.1 384.5,94.1 384.9,94.2 385.4,94.2 385.8,94.2 386.3,94.3 386.7,94.3 387.2,94.3 387.6,94.4 388.1,94.4 388.5,94.5 389,94.5 389.4,94.5 389.9,94.6 390.3,94.6 390.8,94.7 391.2,94.7 391.6,94.8 392.1,94.8 392.5,94.8 393,94.9 393.4,94.9 393.9,95 394.3,95 394.8,95.1 395.2,95.1 395.7,95.2 396.1,95.2 396.6,95.3 397,95.3 397.5,95.4 397.9,95.4 398.4,95.4 398.8,95.5 399.3,95.5 399.7,95.6 400.1,95.6 400.6,95.6 401,95.7 401.5,95.7 401.9,95.7 402.4,95.8 402.8,95.8 403.3,95.8 403.7,95.8 404.2,95.9 404.6,95.9 405.1,95.9 405.5,95.9 406,95.9 406.4,96 406.9,96 407.3,96 407.8,96 408.2,96 408.7,96 409.1,96 409.5,96.1 410,96.1 410.4,96.1 410.9,96.1 411.3,96.1 411.8,96.1 412.2,96.1 412.7,96.1 413.1,96.1 413.6,96.1 414,96.1 414.5,96.1 414.9,96.1 415.4,96.2 415.8,96.2 416.3,96.2 416.7,96.2 417.2,96.2 417.6,96.2 418,96.2 418.5,96.2 418.9,96.2 419.4,96.2 419.8,96.2 420.3,96.2 420.7,96.2 421.2,96.2 421.6,96.2 422.1,96.2 422.5,96.2 423,96.2 423.4,96.2 423.9,96.2 424.3,96.2 424.8,96.2 425.2,96.2 425.7,96.2 426.1,96.2 L426.1,96.3 L425.7,96.3 L425.2,96.3 L424.8,96.3 L424.3,96.3 L423.9,96.3 L423.4,96.3 L423,96.3 L422.5,96.3 L422.1,96.3 L421.6,96.3 L421.2,96.3 L420.7,96.3 L420.3,96.3 L419.8,96.3 L419.4,96.3 L418.9,96.3 L418.5,96.3 L418,96.3 L417.6,96.3 L417.2,96.3 L416.7,96.3 L416.3,96.3 L415.8,96.3 L415.4,96.3 L414.9,96.3 L414.5,96.3 L414,96.3 L413.6,96.3 L413.1,96.2 L412.7,96.2 L412.2,96.2 L411.8,96.2 L411.3,96.2 L410.9,96.2 L410.4,96.2 L410,96.2 L409.5,96.2 L409.1,96.2 L408.7,96.2 L408.2,96.2 L407.8,96.2 L407.3,96.1 L406.9,96.1 L406.4,96.1 L406,96.1 L405.5,96.1 L405.1,96.1 L404.6,96.1 L404.2,96 L403.7,96 L403.3,96 L402.8,96 L402.4,95.9 L401.9,95.9 L401.5,95.9 L401,95.9 L400.6,95.8 L400.1,95.8 L399.7,95.8 L399.3,95.7 L398.8,95.7 L398.4,95.7 L397.9,95.6 L397.5,95.6 L397,95.6 L396.6,95.5 L396.1,95.5 L395.7,95.4 L395.2,95.4 L394.8,95.4 L394.3,95.3 L393.9,95.3 L393.4,95.2 L393,95.2 L392.5,95.2 L392.1,95.1 L391.6,95.1 L391.2,95 L390.8,95 L390.3,95 L389.9,94.9 L389.4,94.9 L389,94.9 L388.5,94.8 L388.1,94.8 L387.6,94.8 L387.2,94.8 L386.7,94.7 L386.3,94.7 L385.8,94.7 L385.4,94.7 L384.9,94.7 L384.5,94.6 L384,94.6 L383.6,94.6 L383.1,94.6 L382.7,94.6 L382.2,94.5 L381.8,94.5 L381.4,94.5 L380.9,94.5 L380.5,94.5 L380,94.5 L379.6,94.5 L379.1,94.5 L378.7,94.4 L378.2,94.4 L377.8,94.4 L377.3,94.4 L376.9,94.4 L376.4,94.4 L376,94.4 L375.5,94.4 L375.1,94.4 L374.6,94.3 L374.2,94.3 L373.7,94.3 L373.3,94.3 L372.9,94.3 L372.4,94.3 L372,94.2 L371.5,94.2 L371.1,94.2 L370.6,94.2 L370.2,94.2 L369.7,94.1 L369.3,94.1 L368.8,94.1 L368.4,94 L367.9,94 L367.5,94 L367,93.9 L366.6,93.9 L366.1,93.9 L365.7,93.8 L365.2,93.8 L364.8,93.7 L364.3,93.7 L363.9,93.6 L363.5,93.6 L363,93.5 L362.6,93.5 L362.1,93.4 L361.7,93.3 L361.2,93.3 L360.8,93.2 L360.3,93.2 L359.9,93.1 L359.4,93 L359,93 L358.5,92.9 L358.1,92.8 L357.6,92.7 L357.2,92.7 L356.7,92.6 L356.3,92.5 L355.8,92.5 L355.4,92.4 L354.9,92.3 L354.5,92.3 L354.1,92.2 L353.6,92.2 L353.2,92.1 L352.7,92.1 L352.3,92 L351.8,92 L351.4,91.9 L350.9,91.9 L350.5,91.8 L350,91.8 L349.6,91.7 L349.1,91.7 L348.7,91.7 L348.2,91.6 L347.8,91.6 L347.3,91.6 L346.9,91.6 L346.4,91.5 L346,91.5 L345.6,91.5 L345.1,91.5 L344.7,91.4 L344.2,91.4 L343.8,91.4 L343.3,91.4 L342.9,91.4 L342.4,91.4 L342,91.4 L341.5,91.3 L341.1,91.3 L340.6,91.3 L340.2,91.3 L339.7,91.3 L339.3,91.3 L338.8,91.3 L338.4,91.3 L337.9,91.3 L337.5,91.3 L337,91.3 L336.6,91.3 L336.2,91.3 L335.7,91.3 L335.3,91.2 L334.8,91.2 L334.4,91.2 L333.9,91.2 L333.5,91.2 L333,91.2 L332.6,91.2 L332.1,91.2 L331.7,91.2 L331.2,91.2 L330.8,91.2 L330.3,91.2 L329.9,91.2 L329.4,91.2 L329,91.2 L328.5,91.2 L328.1,91.2 L327.7,91.2 L327.2,91.2 L326.8,91.2 L326.3,91.2 L325.9,91.2 L325.4,91.2 L325,91.2 L324.5,91.2 L324.1,91.2 L323.6,91.2 L323.2,91.2 L322.7,91.2 L322.3,91.2 L321.8,91.2 L321.4,91.2 L320.9,91.2 L320.5,91.2 L320,91.2 L319.6,91.2 L319.1,91.2 L318.7,91.2 L318.3,91.2 L317.8,91.2 L317.4,91.2 L316.9,91.2 L316.5,91.2 L316,91.2 L315.6,91.2 L315.1,91.2 L314.7,91.2 L314.2,91.2 L313.8,91.2 L313.3,91.2 L312.9,91.2 L312.4,91.2 L312,91.2 L311.5,91.2 L311.1,91.1 L310.6,91.1 L310.2,91.1 L309.8,91.1 L309.3,91.1 L308.9,91.1 L308.4,91.1 L308,91.1 L307.5,91.1 L307.1,91.1 L306.6,91.1 L306.2,91.1 L305.7,91.1 L305.3,91.1 L304.8,91.1 L304.4,91.1 L303.9,91.1 L303.5,91.1 L303,91.1 L302.6,91.1 L302.1,91.1 L301.7,91.1 L301.2,91.1 L300.8,91.1 L300.4,91.1 L299.9,91.1 L299.5,91.1 L299,91.1 L298.6,91.1 L298.1,91.1 L297.7,91.1 L297.2,91.1 L296.8,91.1 L296.3,91.1 L295.9,91.1 L295.4,91.1 L295,91.1 L294.5,91.1 L294.1,91.1 L293.6,91.1 L293.2,91.1 L292.7,91.1 L292.3,91.1 L291.9,91.1 L291.4,91.1 Z" fill="#d73ea8" fill-opacity="0.75" />
<path d="M308.9,91.1 309.3,91.1 309.8,91.1 310.2,91.1 310.6,91.1 311.1,91.1 311.5,91.1 312,91.1 312.4,91.1 312.9,91.1 313.3,91.1 313.8,91.1 314.2,91.1 314.7,91.1 315.1,91.1 315.6,91.1 316,91.1 316.5,91.1 316.9,91.1 317.4,91.1 317.8,91.1 318.3,91.1 318.7,91.1 319.1,91.1 319.6,91.1 320,91.1 320.5,91.1 320.9,91.1 321.4,91.1 321.8,91.1 322.3,91.1 322.7,91.1 323.2,91.1 323.6,91.1 324.1,91.1 324.5,91.1 325,91.1 325.4,91.1 325.9,91.1 326.3,91.1 326.8,91.1 327.2,91.1 327.7,91.1 328.1,91.1 328.5,91.1 329,91.1 329.4,91.1 329.9,91.1 330.3,91.1 330.8,91.1 331.2,91.1 331.7,91.1 332.1,91.1 332.6,91.1 333,91.1 333.5,91.1 333.9,91.1 334.4,91.1 334.8,91.1 335.3,91.1 335.7,91.1 336.2,91.1 336.6,91.1 337,91.1 337.5,91.1 337.9,91.1 338.4,91.1 338.8,91.1 339.3,91.1 339.7,91.1 340.2,91.1 340.6,91.1 341.1,91.1 341.5,91.1 342,91.2 342.4,91.2 342.9,91.2 343.3,91.2 343.8,91.2 344.2,91.2 344.7,91.2 345.1,91.2 345.6,91.3 346,91.3 346.4,91.3 346.9,91.3 347.3,91.3 347.8,91.4 348.2,91.4 348.7,91.4 349.1,91.4 349.6,91.5 350,91.5 350.5,91.5 350.9,91.6 351.4,91.6 351.8,91.6 352.3,91.7 352.7,91.7 353.2,91.8 353.6,91.8 354.1,91.9 354.5,91.9 354.9,92 355.4,92 355.8,92.1 356.3,92.2 356.7,92.2 357.2,92.3 357.6,92.3 358.1,92.4 358.5,92.5 359,92.5 359.4,92.6 359.9,92.6 360.3,92.7 360.8,92.7 361.2,92.8 361.7,92.8 362.1,92.9 362.6,92.9 363,93 363.5,93 363.9,93.1 364.3,93.1 364.8,93.1 365.2,93.2 365.7,93.2 366.1,93.2 366.6,93.2 367,93.2 367.5,93.3 367.9,93.3 368.4,93.3 368.8,93.3 369.3,93.3 369.7,93.3 370.2,93.3 370.6,93.3 371.1,93.2 371.5,93.2 372,93.2 372.4,93.2 372.9,93.1 373.3,93.1 373.7,93 374.2,93 374.6,92.9 375.1,92.8 375.5,92.7 376,92.6 376.4,92.4 376.9,92.3 377.3,92.1 377.8,91.8 378.2,91.5 378.7,91.2 379.1,90.8 379.6,90.4 380,89.9 380.5,89.3 380.9,88.6 381.4,87.8 381.8,86.9 382.2,85.9 382.7,84.7 383.1,83.5 383.6,82 384,80.5 384.5,78.7 384.9,76.9 385.4,74.8 385.8,72.6 386.3,70.2 386.7,67.7 387.2,65 387.6,62.3 388.1,59.4 388.5,56.4 389,53.3 389.4,50.2 389.9,47.1 390.3,44 390.8,41 391.2,38.1 391.6,35.3 392.1,32.7 392.5,30.3 393,28.2 393.4,26.4 393.9,25 394.3,23.9 394.8,23.2 395.2,22.9 395.7,23.1 396.1,23.6 396.6,24.6 397,25.9 397.5,27.7 397.9,29.7 398.4,32 398.8,34.6 399.3,37.3 399.7,40.2 400.1,43.3 400.6,46.4 401,49.6 401.5,52.7 401.9,55.9 402.4,58.9 402.8,61.9 403.3,64.8 403.7,67.6 404.2,70.3 404.6,72.7 405.1,75.1 405.5,77.2 406,79.3 406.4,81.1 406.9,82.8 407.3,84.3 407.8,85.7 408.2,86.9 408.7,88 409.1,89 409.5,89.9 410,90.6 410.4,91.3 410.9,91.9 411.3,92.4 411.8,92.8 412.2,93.2 412.7,93.5 413.1,93.8 413.6,94 414,94.2 414.5,94.4 414.9,94.5 415.4,94.7 415.8,94.8 416.3,94.9 416.7,95 417.2,95 417.6,95.1 418,95.2 418.5,95.2 418.9,95.3 419.4,95.3 419.8,95.4 420.3,95.4 420.7,95.4 421.2,95.5 421.6,95.5 422.1,95.5 422.5,95.5 423,95.6 423.4,95.6 423.9,95.6 424.3,95.6 424.8,95.6 425.2,95.7 425.7,95.7 426.1,95.7 426.6,95.7 427,95.7 427.4,95.7 427.9,95.8 428.3,95.8 428.8,95.8 429.2,95.8 429.7,95.8 430.1,95.8 430.6,95.8 431,95.8 431.5,95.9 431.9,95.9 432.4,95.9 432.8,95.9 433.3,95.9 433.7,95.9 434.2,95.9 434.6,95.9 435.1,95.9 435.5,95.9 435.9,95.9 436.4,96 436.8,96 437.3,96 437.7,96 438.2,96 438.6,96 439.1,96 439.5,96 440,96 440.4,96 440.9,96 441.3,96 441.8,96 442.2,96 442.7,96 443.1,96 443.6,96 444,96.1 444.5,96.1 444.9,96.1 445.3,96.1 445.8,96.1 446.2,96.1 446.7,96.1 447.1,96.1 447.6,96.1 448,96.1 448.5,96.1 448.9,96.1 449.4,96.1 449.8,96.1 450.3,96.1 450.7,96.1 451.2,96.1 451.6,96.1 452.1,96.1 452.5,96.1 L452.5,96.3 L452.1,96.3 L451.6,96.3 L451.2,96.3 L450.7,96.3 L450.3,96.3 L449.8,96.3 L449.4,96.3 L448.9,96.3 L448.5,96.3 L448,96.3 L447.6,96.3 L447.1,96.3 L446.7,96.3 L446.2,96.3 L445.8,96.3 L445.3,96.3 L444.9,96.3 L444.5,96.3 L444,96.3 L443.6,96.3 L443.1,96.3 L442.7,96.3 L442.2,96.3 L441.8,96.3 L441.3,96.3 L440.9,96.3 L440.4,96.3 L440,96.3 L439.5,96.3 L439.1,96.3 L438.6,96.3 L438.2,96.3 L437.7,96.3 L437.3,96.3 L436.8,96.3 L436.4,96.3 L435.9,96.3 L435.5,96.3 L435.1,96.3 L434.6,96.3 L434.2,96.3 L433.7,96.3 L433.3,96.3 L432.8,96.3 L432.4,96.3 L431.9,96.3 L431.5,96.3 L431,96.3 L430.6,96.3 L430.1,96.3 L429.7,96.3 L429.2,96.3 L428.8,96.3 L428.3,96.3 L427.9,96.3 L427.4,96.3 L427,96.3 L426.6,96.3 L426.1,96.3 L425.7,96.3 L425.2,96.3 L424.8,96.3 L424.3,96.3 L423.9,96.3 L423.4,96.3 L423,96.3 L422.5,96.3 L422.1,96.3 L421.6,96.3 L421.2,96.3 L420.7,96.3 L420.3,96.3 L419.8,96.3 L419.4,96.3 L418.9,96.3 L418.5,96.3 L418,96.3 L417.6,96.3 L417.2,96.3 L416.7,96.3 L416.3,96.3 L415.8,96.3 L415.4,96.3 L414.9,96.3 L414.5,96.3 L414,96.3 L413.6,96.3 L413.1,96.2 L412.7,96.2 L412.2,96.2 L411.8,96.2 L411.3,96.2 L410.9,96.2 L410.4,96.2 L410,96.2 L409.5,96.2 L409.1,96.2 L408.7,96.2 L408.2,96.2 L407.8,96.2 L407.3,96.1 L406.9,96.1 L406.4,96.1 L406,96.1 L405.5,96.1 L405.1,96.1 L404.6,96.1 L404.2,96 L403.7,96 L403.3,96 L402.8,96 L402.4,95.9 L401.9,95.9 L401.5,95.9 L401,95.9 L400.6,95.8 L400.1,95.8 L399.7,95.8 L399.3,95.7 L398.8,95.7 L398.4,95.7 L397.9,95.6 L397.5,95.6 L397,95.6 L396.6,95.5 L396.1,95.5 L395.7,95.4 L395.2,95.4 L394.8,95.4 L394.3,95.3 L393.9,95.3 L393.4,95.2 L393,95.2 L392.5,95.2 L392.1,95.1 L391.6,95.1 L391.2,95 L390.8,95 L390.3,95 L389.9,94.9 L389.4,94.9 L389,94.9 L388.5,94.8 L388.1,94.8 L387.6,94.8 L387.2,94.8 L386.7,94.7 L386.3,94.7 L385.8,94.7 L385.4,94.7 L384.9,94.7 L384.5,94.6 L384,94.6 L383.6,94.6 L383.1,94.6 L382.7,94.6 L382.2,94.5 L381.8,94.5 L381.4,94.5 L380.9,94.5 L380.5,94.5 L380,94.5 L379.6,94.5 L379.1,94.5 L378.7,94.4 L378.2,94.4 L377.8,94.4 L377.3,94.4 L376.9,94.4 L376.4,94.4 L376,94.4 L375.5,94.4 L375.1,94.4 L374.6,94.3 L374.2,94.3 L373.7,94.3 L373.3,94.3 L372.9,94.3 L372.4,94.3 L372,94.2 L371.5,94.2 L371.1,94.2 L370.6,94.2 L370.2,94.2 L369.7,94.1 L369.3,94.1 L368.8,94.1 L368.4,94 L367.9,94 L367.5,94 L367,93.9 L366.6,93.9 L366.1,93.9 L365.7,93.8 L365.2,93.8 L364.8,93.7 L364.3,93.7 L363.9,93.6 L363.5,93.6 L363,93.5 L362.6,93.5 L362.1,93.4 L361.7,93.3 L361.2,93.3 L360.8,93.2 L360.3,93.2 L359.9,93.1 L359.4,93 L359,93 L358.5,92.9 L358.1,92.8 L357.6,92.7 L357.2,92.7 L356.7,92.6 L356.3,92.5 L355.8,92.5 L355.4,92.4 L354.9,92.3 L354.5,92.3 L354.1,92.2 L353.6,92.2 L353.2,92.1 L352.7,92.1 L352.3,92 L351.8,92 L351.4,91.9 L350.9,91.9 L350.5,91.8 L350,91.8 L349.6,91.7 L349.1,91.7 L348.7,91.7 L348.2,91.6 L347.8,91.6 L347.3,91.6 L346.9,91.6 L346.4,91.5 L346,91.5 L345.6,91.5 L345.1,91.5 L344.7,91.4 L344.2,91.4 L343.8,91.4 L343.3,91.4 L342.9,91.4 L342.4,91.4 L342,91.4 L341.5,91.3 L341.1,91.3 L340.6,91.3 L340.2,91.3 L339.7,91.3 L339.3,91.3 L338.8,91.3 L338.4,91.3 L337.9,91.3 L337.5,91.3 L337,91.3 L336.6,91.3 L336.2,91.3 L335.7,91.3 L335.3,91.2 L334.8,91.2 L334.4,91.2 L333.9,91.2 L333.5,91.2 L333,91.2 L332.6,91.2 L332.1,91.2 L331.7,91.2 L331.2,91.2 L330.8,91.2 L330.3,91.2 L329.9,91.2 L329.4,91.2 L329,91.2 L328.5,91.2 L328.1,91.2 L327.7,91.2 L327.2,91.2 L326.8,91.2 L326.3,91.2 L325.9,91.2 L325.4,91.2 L325,91.2 L324.5,91.2 L324.1,91.2 L323.6,91.2 L323.2,91.2 L322.7,91.2 L322.3,91.2 L321.8,91.2 L321.4,91.2 L320.9,91.2 L320.5,91.2 L320,91.2 L319.6,91.2 L319.1,91.2 L318.7,91.2 L318.3,91.2 L317.8,91.2 L317.4,91.2 L316.9,91.2 L316.5,91.2 L316,91.2 L315.6,91.2 L315.1,91.2 L314.7,91.2 L314.2,91.2 L313.8,91.2 L313.3,91.2 L312.9,91.2 L312.4,91.2 L312,91.2 L311.5,91.2 L311.1,91.1 L310.6,91.1 L310.2,91.1 L309.8,91.1 L309.3,91.1 L308.9,91.1 Z" fill="#d73ea8" fill-opacity="0.75" />
<path d="M265,91 265.4,91 265.9,91 266.3,91 266.8,91 267.2,91 267.7,91 268.1,91 268.6,91 269,91 269.5,91 269.9,91 270.4,91 270.8,91 271.3,91 271.7,91 272.2,91 272.6,91 273.1,91 273.5,91 274,91 274.4,91.1 274.8,91.1 275.3,91.1 275.7,91.1 276.2,91.1 276.6,91.1 277.1,91.1 277.5,91.1 278,91.1 278.4,91.1 278.9,91.1 279.3,91.1 279.8,91.1 280.2,91.1 280.7,91.1 281.1,91.1 281.6,91.1 282,91.1 282.5,91.1 282.9,91.1 283.3,91.1 283.8,91.1 284.2,91.1 284.7,91.1 285.1,91.1 285.6,91.1 286,91.1 286.5,91.1 286.9,91.1 287.4,91.1 287.8,91.1 288.3,91.1 288.7,91.1 289.2,91.1 289.6,91.1 290.1,91.1 290.5,91.1 291,91.1 291.4,91.1 291.9,91.1 292.3,91.1 292.7,91.1 293.2,91.1 293.6,91.1 294.1,91.1 294.5,91.1 295,91.1 295.4,91.1 295.9,91.1 296.3,91.1 296.8,91.1 297.2,91.1 297.7,91.1 298.1,91.1 298.6,91.1 299,91.1 299.5,91.1 299.9,91.1 300.4,91.1 300.8,91.1 301.2,91.1 301.7,91.1 302.1,91.1 302.6,91.1 303,91.1 303.5,91.1 303.9,91.1 304.4,91.1 304.8,91.1 305.3,91.1 305.7,91.1 306.2,91.1 306.6,91.1 307.1,91.1 307.5,91.1 308,91.1 308.4,91.1 308.9,91.1 309.3,91.1 309.8,91.1 310.2,91.1 310.6,91.1 311.1,91.1 311.5,91.2 312,91.2 312.4,91.2 312.9,91.2 313.3,91.2 313.8,91.2 314.2,91.2 314.7,91.2 315.1,91.2 315.6,91.2 316,91.2 316.5,91.2 316.9,91.2 317.4,91.2 317.8,91.2 318.3,91.2 318.7,91.2 319.1,91.2 319.6,91.2 320,91.2 320.5,91.2 320.9,91.2 321.4,91.2 321.8,91.2 322.3,91.2 322.7,91.2 323.2,91.2 323.6,91.2 324.1,91.2 324.5,91.2 325,91.2 325.4,91.2 325.9,91.2 326.3,91.2 326.8,91.2 327.2,91.2 327.7,91.2 328.1,91.2 328.5,91.2 329,91.2 329.4,91.2 329.9,91.2 330.3,91.2 330.8,91.2 331.2,91.2 331.7,91.2 332.1,91.2 332.6,91.2 333,91.2 333.5,91.2 333.9,91.2 334.4,91.2 334.8,91.2 335.3,91.2 335.7,91.3 336.2,91.3 336.6,91.3 337,91.3 337.5,91.3 337.9,91.3 338.4,91.3 338.8,91.3 339.3,91.3 339.7,91.3 340.2,91.3 340.6,91.3 341.1,91.3 341.5,91.3 342,91.4 342.4,91.4 342.9,91.4 343.3,91.4 343.8,91.4 344.2,91.4 344.7,91.4 345.1,91.5 345.6,91.5 346,91.5 346.4,91.5 346.9,91.6 347.3,91.6 347.8,91.6 348.2,91.6 348.7,91.7 349.1,91.7 349.6,91.7 350,91.8 350.5,91.8 350.9,91.9 351.4,91.9 351.8,92 352.3,92 352.7,92.1 353.2,92.1 353.6,92.2 354.1,92.2 354.5,92.3 354.9,92.3 355.4,92.4 355.8,92.5 356.3,92.5 356.7,92.6 357.2,92.7 357.6,92.7 358.1,92.8 358.5,92.9 359,93 359.4,93 359.9,93.1 360.3,93.2 360.8,93.2 361.2,93.3 361.7,93.3 362.1,93.4 362.6,93.5 363,93.5 363.5,93.6 363.9,93.6 364.3,93.7 364.8,93.7 365.2,93.8 365.7,93.8 366.1,93.9 366.6,93.9 367,93.9 367.5,94 367.9,94 368.4,94 368.8,94.1 369.3,94.1 369.7,94.1 370.2,94.2 370.6,94.2 371.1,94.2 371.5,94.2 372,94.2 372.4,94.3 372.9,94.3 373.3,94.3 373.7,94.3 374.2,94.3 374.6,94.3 375.1,94.4 375.5,94.4 376,94.4 376.4,94.4 376.9,94.4 377.3,94.4 377.8,94.4 378.2,94.4 378.7,94.4 379.1,94.5 379.6,94.5 380,94.5 380.5,94.5 380.9,94.5 381.4,94.5 381.8,94.5 382.2,94.5 382.7,94.6 383.1,94.6 383.6,94.6 384,94.6 384.5,94.6 384.9,94.7 385.4,94.7 385.8,94.7 386.3,94.7 386.7,94.7 387.2,94.8 387.6,94.8 388.1,94.8 388.5,94.8 389,94.9 389.4,94.9 389.9,94.9 390.3,95 390.8,95 391.2,95 391.6,95.1 392.1,95.1 392.5,95.2 393,95.2 393.4,95.2 393.9,95.3 394.3,95.3 394.8,95.4 395.2,95.4 395.7,95.4 396.1,95.5 396.6,95.5 397,95.6 397.5,95.6 397.9,95.6 398.4,95.7 398.8,95.7 399.3,95.7 399.7,95.8 400.1,95.8 400.6,95.8 401,95.9 401.5,95.9 401.9,95.9 402.4,95.9 402.8,96 403.3,96 403.7,96 404.2,96 404.6,96.1 405.1,96.1 405.5,96.1 406,96.1 406.4,96.1 406.9,96.1 407.3,96.1 407.8,96.2 408.2,96.2 408.7,96.2 409.1,96.2 409.5,96.2 410,96.2 410.4,96.2 410.9,96.2 411.3,96.2 411.8,96.2 412.2,96.2 412.7,96.2 413.1,96.2 413.6,96.3 414,96.3 414.5,96.3 414.9,96.3 415.4,96.3 415.8,96.3 416.3,96.3 416.7,96.3 417.2,96.3 417.6,96.3 418,96.3 418.5,96.3 418.9,96.3 419.4,96.3 419.8,96.3 420.3,96.3 420.7,96.3 421.2,96.3 421.6,96.3 422.1,96.3 422.5,96.3 423,96.3 423.4,96.3 423.9,96.3 424.3,96.3 424.8,96.3 425.2,96.3 425.7,96.3 426.1,96.3 426.6,96.3 427,96.3 427.4,96.3 427.9,96.3 428.3,96.3 428.8,96.3 429.2,96.3 429.7,96.3 430.1,96.3 430.6,96.3 431,96.3 431.5,96.3 431.9,96.3 432.4,96.3 432.8,96.3 433.3,96.3 433.7,96.3 434.2,96.3 434.6,96.3 435.1,96.3 435.5,96.3 435.9,96.3 436.4,96.3 436.8,96.3 437.3,96.3 437.7,96.3 438.2,96.3 438.6,96.3 439.1,96.3 439.5,96.3 440,96.3 440.4,96.3 440.9,96.3 441.3,96.3 441.8,96.3 442.2,96.3 442.7,96.3 443.1,96.3 443.6,96.3 444,96.3 444.5,96.3 444.9,96.3 445.3,96.3 445.8,96.3 446.2,96.3 446.7,96.3 447.1,96.3 447.6,96.3 448,96.3 448.5,96.3 448.9,96.3 449.4,96.3 449.8,96.3 450.3,96.3 450.7,96.3 451.2,96.3 451.6,96.3 452.1,96.3 452.5,96.3" fill="none" stroke="#8a8a8a" stroke-width="0.9"/>
<path d="M264,90.9a1.0,1.0 0 1,0 2.0,0a1.0,1.0 0 1,0 -2.0,0M265.2,91a1.0,1.0 0 1,0 2.0,0a1.0,1.0 0 1,0 -2.0,0M266.4,90.7a1.0,1.0 0 1,0 2.0,0a1.0,1.0 0 1,0 -2.0,0M267.6,90.4a1.0,1.0 0 1,0 2.0,0a1.0,1.0 0 1,0 -2.0,0M268.8,90.5a1.0,1.0 0 1,0 2.0,0a1.0,1.0 0 1,0 -2.0,0M270,90.2a1.0,1.0 0 1,0 2.0,0a1.0,1.0 0 1,0 -2.0,0M271.2,90.6a1.0,1.0 0 1,0 2.0,0a1.0,1.0 0 1,0 -2.0,0M272.4,90.9a1.0,1.0 0 1,0 2.0,0a1.0,1.0 0 1,0 -2.0,0M273.6,90a1.0,1.0 0 1,0 2.0,0a1.0,1.0 0 1,0 -2.0,0M274.8,89.8a1.0,1.0 0 1,0 2.0,0a1.0,1.0 0 1,0 -2.0,0M276,90a1.0,1.0 0 1,0 2.0,0a1.0,1.0 0 1,0 -2.0,0M277.2,89.6a1.0,1.0 0 1,0 2.0,0a1.0,1.0 0 1,0 -2.0,0M278.4,89.1a1.0,1.0 0 1,0 2.0,0a1.0,1.0 0 1,0 -2.0,0M279.6,88.3a1.0,1.0 0 1,0 2.0,0a1.0,1.0 0 1,0 -2.0,0M280.8,88.1a1.0,1.0 0 1,0 2.0,0a1.0,1.0 0 1,0 -2.0,0M282,87.8a1.0,1.0 0 1,0 2.0,0a1.0,1.0 0 1,0 -2.0,0M283.2,86.3a1.0,1.0 0 1,0 2.0,0a1.0,1.0 0 1,0 -2.0,0M284.4,86a1.0,1.0 0 1,0 2.0,0a1.0,1.0 0 1,0 -2.0,0M285.6,84.6a1.0,1.0 0 1,0 2.0,0a1.0,1.0 0 1,0 -2.0,0M286.8,84a1.0,1.0 0 1,0 2.0,0a1.0,1.0 0 1,0 -2.0,0M288,82.8a1.0,1.0 0 1,0 2.0,0a1.0,1.0 0 1,0 -2.0,0M289.2,82.5a1.0,1.0 0 1,0 2.0,0a1.0,1.0 0 1,0 -2.0,0M290.4,81.2a1.0,1.0 0 1,0 2.0,0a1.0,1.0 0 1,0 -2.0,0M291.6,80.9a1.0,1.0 0 1,0 2.0,0a1.0,1.0 0 1,0 -2.0,0M292.8,79.9a1.0,1.0 0 1,0 2.0,0a1.0,1.0 0 1,0 -2.0,0M294,78.9a1.0,1.0 0 1,0 2.0,0a1.0,1.0 0 1,0 -2.0,0M295.2,77.3a1.0,1.0 0 1,0 2.0,0a1.0,1.0 0 1,0 -2.0,0M296.4,77.4a1.0,1.0 0 1,0 2.0,0a1.0,1.0 0 1,0 -2.0,0M297.6,77.1a1.0,1.0 0 1,0 2.0,0a1.0,1.0 0 1,0 -2.0,0M298.8,76.9a1.0,1.0 0 1,0 2.0,0a1.0,1.0 0 1,0 -2.0,0M300,76a1.0,1.0 0 1,0 2.0,0a1.0,1.0 0 1,0 -2.0,0M301.2,76.4a1.0,1.0 0 1,0 2.0,0a1.0,1.0 0 1,0 -2.0,0M302.4,76.4a1.0,1.0 0 1,0 2.0,0a1.0,1.0 0 1,0 -2.0,0M303.6,76.8a1.0,1.0 0 1,0 2.0,0a1.0,1.0 0 1,0 -2.0,0M304.8,78a1.0,1.0 0 1,0 2.0,0a1.0,1.0 0 1,0 -2.0,0M306,77.8a1.0,1.0 0 1,0 2.0,0a1.0,1.0 0 1,0 -2.0,0M307.2,78.9a1.0,1.0 0 1,0 2.0,0a1.0,1.0 0 1,0 -2.0,0M308.4,80a1.0,1.0 0 1,0 2.0,0a1.0,1.0 0 1,0 -2.0,0M309.6,80.3a1.0,1.0 0 1,0 2.0,0a1.0,1.0 0 1,0 -2.0,0M310.8,81.4a1.0,1.0 0 1,0 2.0,0a1.0,1.0 0 1,0 -2.0,0M312,82.4a1.0,1.0 0 1,0 2.0,0a1.0,1.0 0 1,0 -2.0,0M313.2,83.2a1.0,1.0 0 1,0 2.0,0a1.0,1.0 0 1,0 -2.0,0M314.4,83.6a1.0,1.0 0 1,0 2.0,0a1.0,1.0 0 1,0 -2.0,0M315.6,84.8a1.0,1.0 0 1,0 2.0,0a1.0,1.0 0 1,0 -2.0,0M316.8,86a1.0,1.0 0 1,0 2.0,0a1.0,1.0 0 1,0 -2.0,0M318,85.4a1.0,1.0 0 1,0 2.0,0a1.0,1.0 0 1,0 -2.0,0M319.2,86.8a1.0,1.0 0 1,0 2.0,0a1.0,1.0 0 1,0 -2.0,0M320.4,86.8a1.0,1.0 0 1,0 2.0,0a1.0,1.0 0 1,0 -2.0,0M321.6,86.6a1.0,1.0 0 1,0 2.0,0a1.0,1.0 0 1,0 -2.0,0M322.8,87.6a1.0,1.0 0 1,0 2.0,0a1.0,1.0 0 1,0 -2.0,0M324,86.9a1.0,1.0 0 1,0 2.0,0a1.0,1.0 0 1,0 -2.0,0M325.2,85.7a1.0,1.0 0 1,0 2.0,0a1.0,1.0 0 1,0 -2.0,0M326.4,85.6a1.0,1.0 0 1,0 2.0,0a1.0,1.0 0 1,0 -2.0,0M327.6,85.1a1.0,1.0 0 1,0 2.0,0a1.0,1.0 0 1,0 -2.0,0M328.8,83.9a1.0,1.0 0 1,0 2.0,0a1.0,1.0 0 1,0 -2.0,0M330,83.3a1.0,1.0 0 1,0 2.0,0a1.0,1.0 0 1,0 -2.0,0M331.2,82a1.0,1.0 0 1,0 2.0,0a1.0,1.0 0 1,0 -2.0,0M332.4,81.3a1.0,1.0 0 1,0 2.0,0a1.0,1.0 0 1,0 -2.0,0M333.6,80.6a1.0,1.0 0 1,0 2.0,0a1.0,1.0 0 1,0 -2.0,0M334.8,78.8a1.0,1.0 0 1,0 2.0,0a1.0,1.0 0 1,0 -2.0,0M336,78.3a1.0,1.0 0 1,0 2.0,0a1.0,1.0 0 1,0 -2.0,0M337.2,77.4a1.0,1.0 0 1,0 2.0,0a1.0,1.0 0 1,0 -2.0,0M338.4,77.2a1.0,1.0 0 1,0 2.0,0a1.0,1.0 0 1,0 -2.0,0M339.6,76.3a1.0,1.0 0 1,0 2.0,0a1.0,1.0 0 1,0 -2.0,0M340.8,76.4a1.0,1.0 0 1,0 2.0,0a1.0,1.0 0 1,0 -2.0,0M342,76.4a1.0,1.0 0 1,0 2.0,0a1.0,1.0 0 1,0 -2.0,0M343.2,76.6a1.0,1.0 0 1,0 2.0,0a1.0,1.0 0 1,0 -2.0,0M344.4,76.3a1.0,1.0 0 1,0 2.0,0a1.0,1.0 0 1,0 -2.0,0M345.6,74.4a1.0,1.0 0 1,0 2.0,0a1.0,1.0 0 1,0 -2.0,0M346.8,73.1a1.0,1.0 0 1,0 2.0,0a1.0,1.0 0 1,0 -2.0,0M348,71.3a1.0,1.0 0 1,0 2.0,0a1.0,1.0 0 1,0 -2.0,0M349.2,66.9a1.0,1.0 0 1,0 2.0,0a1.0,1.0 0 1,0 -2.0,0M350.4,63.3a1.0,1.0 0 1,0 2.0,0a1.0,1.0 0 1,0 -2.0,0M351.6,58.5a1.0,1.0 0 1,0 2.0,0a1.0,1.0 0 1,0 -2.0,0M352.8,53.7a1.0,1.0 0 1,0 2.0,0a1.0,1.0 0 1,0 -2.0,0M354,48.3a1.0,1.0 0 1,0 2.0,0a1.0,1.0 0 1,0 -2.0,0M355.2,43.5a1.0,1.0 0 1,0 2.0,0a1.0,1.0 0 1,0 -2.0,0M356.4,40.6a1.0,1.0 0 1,0 2.0,0a1.0,1.0 0 1,0 -2.0,0M357.6,39.7a1.0,1.0 0 1,0 2.0,0a1.0,1.0 0 1,0 -2.0,0M358.8,41.9a1.0,1.0 0 1,0 2.0,0a1.0,1.0 0 1,0 -2.0,0M360,44.8a1.0,1.0 0 1,0 2.0,0a1.0,1.0 0 1,0 -2.0,0M361.2,50.2a1.0,1.0 0 1,0 2.0,0a1.0,1.0 0 1,0 -2.0,0M362.4,56.7a1.0,1.0 0 1,0 2.0,0a1.0,1.0 0 1,0 -2.0,0M363.6,63.1a1.0,1.0 0 1,0 2.0,0a1.0,1.0 0 1,0 -2.0,0M364.8,69.4a1.0,1.0 0 1,0 2.0,0a1.0,1.0 0 1,0 -2.0,0M366,74.7a1.0,1.0 0 1,0 2.0,0a1.0,1.0 0 1,0 -2.0,0M367.2,79.9a1.0,1.0 0 1,0 2.0,0a1.0,1.0 0 1,0 -2.0,0M368.4,83.5a1.0,1.0 0 1,0 2.0,0a1.0,1.0 0 1,0 -2.0,0M369.6,87a1.0,1.0 0 1,0 2.0,0a1.0,1.0 0 1,0 -2.0,0M370.8,88.8a1.0,1.0 0 1,0 2.0,0a1.0,1.0 0 1,0 -2.0,0M372,89.9a1.0,1.0 0 1,0 2.0,0a1.0,1.0 0 1,0 -2.0,0M373.2,91a1.0,1.0 0 1,0 2.0,0a1.0,1.0 0 1,0 -2.0,0M374.4,90.9a1.0,1.0 0 1,0 2.0,0a1.0,1.0 0 1,0 -2.0,0M375.6,91.5a1.0,1.0 0 1,0 2.0,0a1.0,1.0 0 1,0 -2.0,0M376.8,90.8a1.0,1.0 0 1,0 2.0,0a1.0,1.0 0 1,0 -2.0,0M378,90.3a1.0,1.0 0 1,0 2.0,0a1.0,1.0 0 1,0 -2.0,0M379.2,88.3a1.0,1.0 0 1,0 2.0,0a1.0,1.0 0 1,0 -2.0,0M380.4,87.2a1.0,1.0 0 1,0 2.0,0a1.0,1.0 0 1,0 -2.0,0M381.6,83.7a1.0,1.0 0 1,0 2.0,0a1.0,1.0 0 1,0 -2.0,0M382.8,79.9a1.0,1.0 0 1,0 2.0,0a1.0,1.0 0 1,0 -2.0,0M384,75.9a1.0,1.0 0 1,0 2.0,0a1.0,1.0 0 1,0 -2.0,0M385.2,69.8a1.0,1.0 0 1,0 2.0,0a1.0,1.0 0 1,0 -2.0,0M386.4,63.3a1.0,1.0 0 1,0 2.0,0a1.0,1.0 0 1,0 -2.0,0M387.6,56.3a1.0,1.0 0 1,0 2.0,0a1.0,1.0 0 1,0 -2.0,0M388.8,46.8a1.0,1.0 0 1,0 2.0,0a1.0,1.0 0 1,0 -2.0,0M390,38.8a1.0,1.0 0 1,0 2.0,0a1.0,1.0 0 1,0 -2.0,0M391.2,31.9a1.0,1.0 0 1,0 2.0,0a1.0,1.0 0 1,0 -2.0,0M392.4,26.5a1.0,1.0 0 1,0 2.0,0a1.0,1.0 0 1,0 -2.0,0M393.6,23.1a1.0,1.0 0 1,0 2.0,0a1.0,1.0 0 1,0 -2.0,0M394.8,22.9a1.0,1.0 0 1,0 2.0,0a1.0,1.0 0 1,0 -2.0,0M396,25.9a1.0,1.0 0 1,0 2.0,0a1.0,1.0 0 1,0 -2.0,0M397.2,31.2a1.0,1.0 0 1,0 2.0,0a1.0,1.0 0 1,0 -2.0,0M398.4,37.6a1.0,1.0 0 1,0 2.0,0a1.0,1.0 0 1,0 -2.0,0M399.6,46.2a1.0,1.0 0 1,0 2.0,0a1.0,1.0 0 1,0 -2.0,0M400.8,54.7a1.0,1.0 0 1,0 2.0,0a1.0,1.0 0 1,0 -2.0,0M402,62.4a1.0,1.0 0 1,0 2.0,0a1.0,1.0 0 1,0 -2.0,0M403.2,70.3a1.0,1.0 0 1,0 2.0,0a1.0,1.0 0 1,0 -2.0,0M404.4,76.2a1.0,1.0 0 1,0 2.0,0a1.0,1.0 0 1,0 -2.0,0M405.6,82a1.0,1.0 0 1,0 2.0,0a1.0,1.0 0 1,0 -2.0,0M406.8,85.7a1.0,1.0 0 1,0 2.0,0a1.0,1.0 0 1,0 -2.0,0M408,88.7a1.0,1.0 0 1,0 2.0,0a1.0,1.0 0 1,0 -2.0,0M409.2,90.6a1.0,1.0 0 1,0 2.0,0a1.0,1.0 0 1,0 -2.0,0M410.4,92.3a1.0,1.0 0 1,0 2.0,0a1.0,1.0 0 1,0 -2.0,0M411.6,92.5a1.0,1.0 0 1,0 2.0,0a1.0,1.0 0 1,0 -2.0,0M412.8,93.5a1.0,1.0 0 1,0 2.0,0a1.0,1.0 0 1,0 -2.0,0M414,94.6a1.0,1.0 0 1,0 2.0,0a1.0,1.0 0 1,0 -2.0,0M415.2,93.9a1.0,1.0 0 1,0 2.0,0a1.0,1.0 0 1,0 -2.0,0M416.4,95.3a1.0,1.0 0 1,0 2.0,0a1.0,1.0 0 1,0 -2.0,0M417.6,94.4a1.0,1.0 0 1,0 2.0,0a1.0,1.0 0 1,0 -2.0,0M418.8,95.6a1.0,1.0 0 1,0 2.0,0a1.0,1.0 0 1,0 -2.0,0M420,95a1.0,1.0 0 1,0 2.0,0a1.0,1.0 0 1,0 -2.0,0M421.2,95.7a1.0,1.0 0 1,0 2.0,0a1.0,1.0 0 1,0 -2.0,0M422.4,95.5a1.0,1.0 0 1,0 2.0,0a1.0,1.0 0 1,0 -2.0,0M423.6,94.9a1.0,1.0 0 1,0 2.0,0a1.0,1.0 0 1,0 -2.0,0M424.8,96.1a1.0,1.0 0 1,0 2.0,0a1.0,1.0 0 1,0 -2.0,0M426,96.2a1.0,1.0 0 1,0 2.0,0a1.0,1.0 0 1,0 -2.0,0M427.2,95.7a1.0,1.0 0 1,0 2.0,0a1.0,1.0 0 1,0 -2.0,0M428.4,95.6a1.0,1.0 0 1,0 2.0,0a1.0,1.0 0 1,0 -2.0,0M429.6,95.7a1.0,1.0 0 1,0 2.0,0a1.0,1.0 0 1,0 -2.0,0M430.8,95.4a1.0,1.0 0 1,0 2.0,0a1.0,1.0 0 1,0 -2.0,0M432,96.3a1.0,1.0 0 1,0 2.0,0a1.0,1.0 0 1,0 -2.0,0M433.2,95.6a1.0,1.0 0 1,0 2.0,0a1.0,1.0 0 1,0 -2.0,0M434.4,95.9a1.0,1.0 0 1,0 2.0,0a1.0,1.0 0 1,0 -2.0,0M435.6,95.6a1.0,1.0 0 1,0 2.0,0a1.0,1.0 0 1,0 -2.0,0M436.8,95.7a1.0,1.0 0 1,0 2.0,0a1.0,1.0 0 1,0 -2.0,0M438,95.4a1.0,1.0 0 1,0 2.0,0a1.0,1.0 0 1,0 -2.0,0M439.2,96.5a1.0,1.0 0 1,0 2.0,0a1.0,1.0 0 1,0 -2.0,0M440.4,95.9a1.0,1.0 0 1,0 2.0,0a1.0,1.0 0 1,0 -2.0,0M441.6,96.4a1.0,1.0 0 1,0 2.0,0a1.0,1.0 0 1,0 -2.0,0M442.8,96a1.0,1.0 0 1,0 2.0,0a1.0,1.0 0 1,0 -2.0,0M444,95.7a1.0,1.0 0 1,0 2.0,0a1.0,1.0 0 1,0 -2.0,0M445.2,95.9a1.0,1.0 0 1,0 2.0,0a1.0,1.0 0 1,0 -2.0,0M446.4,95.8a1.0,1.0 0 1,0 2.0,0a1.0,1.0 0 1,0 -2.0,0M447.6,96.1a1.0,1.0 0 1,0 2.0,0a1.0,1.0 0 1,0 -2.0,0M448.8,95.9a1.0,1.0 0 1,0 2.0,0a1.0,1.0 0 1,0 -2.0,0M450,95.9a1.0,1.0 0 1,0 2.0,0a1.0,1.0 0 1,0 -2.0,0M451.2,95.5a1.0,1.0 0 1,0 2.0,0a1.0,1.0 0 1,0 -2.0,0" fill="#3a3a3a" stroke="#3a3a3a" stroke-width="0.4"/>
<path d="M265,91.2 265.4,91.2 265.9,91.2 266.3,91.2 266.8,91.1 267.2,91.1 267.7,91.1 268.1,91.1 268.6,91.1 269,91.1 269.5,91 269.9,91 270.4,91 270.8,91 271.3,90.9 271.7,90.9 272.2,90.8 272.6,90.8 273.1,90.8 273.5,90.7 274,90.6 274.4,90.6 274.8,90.5 275.3,90.4 275.7,90.3 276.2,90.3 276.6,90.2 277.1,90.1 277.5,89.9 278,89.8 278.4,89.7 278.9,89.6 279.3,89.4 279.8,89.3 280.2,89.1 280.7,88.9 281.1,88.7 281.6,88.5 282,88.3 282.5,88.1 282.9,87.9 283.3,87.7 283.8,87.4 284.2,87.1 284.7,86.9 285.1,86.6 285.6,86.3 286,86 286.5,85.7 286.9,85.4 287.4,85.1 287.8,84.8 288.3,84.4 288.7,84.1 289.2,83.7 289.6,83.4 290.1,83 290.5,82.7 291,82.3 291.4,82 291.9,81.6 292.3,81.3 292.7,80.9 293.2,80.6 293.6,80.3 294.1,79.9 294.5,79.6 295,79.3 295.4,79 295.9,78.8 296.3,78.5 296.8,78.3 297.2,78 297.7,77.8 298.1,77.6 298.6,77.5 299,77.3 299.5,77.2 299.9,77.1 300.4,77 300.8,77 301.2,76.9 301.7,76.9 302.1,76.9 302.6,77 303,77 303.5,77.1 303.9,77.2 304.4,77.3 304.8,77.5 305.3,77.6 305.7,77.8 306.2,78 306.6,78.3 307.1,78.5 307.5,78.8 308,79 308.4,79.3 308.9,79.6 309.3,79.9 309.8,80.2 310.2,80.6 310.6,80.9 311.1,81.2 311.5,81.5 312,81.9 312.4,82.2 312.9,82.6 313.3,82.9 313.8,83.2 314.2,83.5 314.7,83.9 315.1,84.2 315.6,84.5 316,84.8 316.5,85 316.9,85.3 317.4,85.6 317.8,85.8 318.3,86 318.7,86.2 319.1,86.4 319.6,86.6 320,86.7 320.5,86.8 320.9,87 321.4,87 321.8,87.1 322.3,87.1 322.7,87.2 323.2,87.2 323.6,87.1 324.1,87.1 324.5,87 325,86.9 325.4,86.8 325.9,86.6 326.3,86.4 326.8,86.2 327.2,86 327.7,85.8 328.1,85.5 328.5,85.2 329,84.9 329.4,84.6 329.9,84.3 330.3,83.9 330.8,83.5 331.2,83.2 331.7,82.8 332.1,82.4 332.6,82 333,81.6 333.5,81.3 333.9,80.9 334.4,80.5 334.8,80.1 335.3,79.8 335.7,79.4 336.2,79.1 336.6,78.8 337,78.5 337.5,78.3 337.9,78 338.4,77.8 338.8,77.6 339.3,77.5 339.7,77.3 340.2,77.2 340.6,77.1 341.1,77 341.5,77 342,76.9 342.4,76.9 342.9,76.8 343.3,76.7 343.8,76.7 344.2,76.6 344.7,76.4 345.1,76.3 345.6,76 346,75.7 346.4,75.4 346.9,74.9 347.3,74.3 347.8,73.7 348.2,72.9 348.7,72 349.1,71 349.6,69.8 350,68.5 350.5,67.1 350.9,65.6 351.4,63.9 351.8,62.1 352.3,60.3 352.7,58.4 353.2,56.4 353.6,54.4 354.1,52.4 354.5,50.4 354.9,48.5 355.4,46.7 355.8,45.1 356.3,43.6 356.7,42.3 357.2,41.3 357.6,40.6 358.1,40.2 358.5,40.1 359,40.3 359.4,40.9 359.9,41.8 360.3,42.9 360.8,44.4 361.2,46.1 361.7,48 362.1,50.1 362.6,52.4 363,54.7 363.5,57.2 363.9,59.6 364.3,62.1 364.8,64.5 365.2,66.9 365.7,69.3 366.1,71.5 366.6,73.6 367,75.6 367.5,77.5 367.9,79.3 368.4,80.9 368.8,82.3 369.3,83.7 369.7,84.9 370.2,85.9 370.6,86.9 371.1,87.7 371.5,88.4 372,89.1 372.4,89.6 372.9,90.1 373.3,90.4 373.7,90.7 374.2,91 374.6,91.2 375.1,91.3 375.5,91.4 376,91.4 376.4,91.4 376.9,91.4 377.3,91.2 377.8,91.1 378.2,90.9 378.7,90.6 379.1,90.3 379.6,89.9 380,89.4 380.5,88.8 380.9,88.2 381.4,87.4 381.8,86.6 382.2,85.6 382.7,84.4 383.1,83.2 383.6,81.8 384,80.2 384.5,78.5 384.9,76.7 385.4,74.6 385.8,72.4 386.3,70.1 386.7,67.6 387.2,64.9 387.6,62.1 388.1,59.3 388.5,56.3 389,53.2 389.4,50.1 389.9,47 390.3,44 390.8,41 391.2,38.1 391.6,35.3 392.1,32.7 392.5,30.3 393,28.2 393.4,26.5 393.9,25 394.3,23.9 394.8,23.2 395.2,23 395.7,23.1 396.1,23.7 396.6,24.7 397,26 397.5,27.7 397.9,29.8 398.4,32.1 398.8,34.6 399.3,37.4 399.7,40.3 400.1,43.4 400.6,46.5 401,49.7 401.5,52.8 401.9,56 402.4,59.1 402.8,62.1 403.3,65 403.7,67.7 404.2,70.4 404.6,72.9 405.1,75.2 405.5,77.4 406,79.4 406.4,81.2 406.9,82.9 407.3,84.5 407.8,85.8 408.2,87.1 408.7,88.2 409.1,89.2 409.5,90 410,90.8 410.4,91.5 410.9,92 411.3,92.5 411.8,93 412.2,93.4 412.7,93.7 413.1,94 413.6,94.2 414,94.4 414.5,94.6 414.9,94.7 415.4,94.9 415.8,95 416.3,95.1 416.7,95.2 417.2,95.2 417.6,95.3 418,95.4 418.5,95.4 418.9,95.5 419.4,95.5 419.8,95.6 420.3,95.6 420.7,95.6 421.2,95.7 421.6,95.7 422.1,95.7 422.5,95.7 423,95.8 423.4,95.8 423.9,95.8 424.3,95.8 424.8,95.9 425.2,95.9 425.7,95.9 426.1,95.9 426.6,95.9 427,96 427.4,96 427.9,96 428.3,96 428.8,96 429.2,96 429.7,96 430.1,96.1 430.6,96.1 431,96.1 431.5,96.1 431.9,96.1 432.4,96.1 432.8,96.1 433.3,96.1 433.7,96.1 434.2,96.2 434.6,96.2 435.1,96.2 435.5,96.2 435.9,96.2 436.4,96.2 436.8,96.2 437.3,96.2 437.7,96.2 438.2,96.2 438.6,96.2 439.1,96.2 439.5,96.2 440,96.3 440.4,96.3 440.9,96.3 441.3,96.3 441.8,96.3 442.2,96.3 442.7,96.3 443.1,96.3 443.6,96.3 444,96.3 444.5,96.3 444.9,96.3 445.3,96.3 445.8,96.3 446.2,96.3 446.7,96.3 447.1,96.3 447.6,96.3 448,96.3 448.5,96.3 448.9,96.4 449.4,96.4 449.8,96.4 450.3,96.4 450.7,96.4 451.2,96.4 451.6,96.4 452.1,96.4 452.5,96.4" fill="none" stroke="#ee1c1c" stroke-width="1.25" stroke-linejoin="round"/>
<text x="272.8" y="71.2" font-size="8.7" text-anchor="start" font-weight="normal" font-style="normal" fill="#231f20" stroke="#231f20" stroke-width="0.22" >Annealed WSe<tspan font-size="6.2" dy="2">2</tspan></text>
<path d="M292.3,184.6 292.7,184.6 293.2,184.6 293.6,184.6 294.1,184.6 294.5,184.6 295,184.6 295.4,184.6 295.9,184.5 296.3,184.5 296.8,184.5 297.2,184.5 297.7,184.4 298.1,184.4 298.6,184.3 299,184.3 299.5,184.2 299.9,184.2 300.4,184.1 300.8,184 301.2,184 301.7,183.9 302.1,183.8 302.6,183.7 303,183.6 303.5,183.5 303.9,183.4 304.4,183.3 304.8,183.2 305.3,183.1 305.7,183 306.2,182.9 306.6,182.7 307.1,182.6 307.5,182.5 308,182.4 308.4,182.3 308.9,182.2 309.3,182.1 309.8,181.9 310.2,181.8 310.6,181.8 311.1,181.7 311.5,181.6 312,181.5 312.4,181.5 312.9,181.4 313.3,181.4 313.8,181.3 314.2,181.3 314.7,181.3 315.1,181.3 315.6,181.3 316,181.3 316.5,181.4 316.9,181.4 317.4,181.5 317.8,181.6 318.3,181.6 318.7,181.7 319.1,181.8 319.6,181.9 320,182 320.5,182.1 320.9,182.3 321.4,182.4 321.8,182.5 322.3,182.6 322.7,182.8 323.2,182.9 323.6,183 324.1,183.2 324.5,183.3 325,183.4 325.4,183.5 325.9,183.6 326.3,183.8 326.8,183.9 327.2,184 327.7,184.1 328.1,184.2 328.5,184.3 329,184.4 329.4,184.4 329.9,184.5 330.3,184.6 330.8,184.7 331.2,184.7 331.7,184.8 332.1,184.8 332.6,184.9 333,184.9 333.5,185 333.9,185 334.4,185.1 334.8,185.1 335.3,185.1 335.7,185.1 336.2,185.2 336.6,185.2 337,185.2 337.5,185.2 L337.5,185.3 L337,185.3 L336.6,185.3 L336.2,185.3 L335.7,185.3 L335.3,185.3 L334.8,185.3 L334.4,185.3 L333.9,185.3 L333.5,185.2 L333,185.2 L332.6,185.2 L332.1,185.2 L331.7,185.2 L331.2,185.2 L330.8,185.2 L330.3,185.2 L329.9,185.2 L329.4,185.2 L329,185.2 L328.5,185.2 L328.1,185.2 L327.7,185.2 L327.2,185.2 L326.8,185.2 L326.3,185.2 L325.9,185.1 L325.4,185.1 L325,185.1 L324.5,185.1 L324.1,185.1 L323.6,185.1 L323.2,185.1 L322.7,185.1 L322.3,185.1 L321.8,185.1 L321.4,185.1 L320.9,185.1 L320.5,185.1 L320,185.1 L319.6,185.1 L319.1,185.1 L318.7,185.1 L318.3,185 L317.8,185 L317.4,185 L316.9,185 L316.5,185 L316,185 L315.6,185 L315.1,185 L314.7,185 L314.2,185 L313.8,185 L313.3,185 L312.9,185 L312.4,185 L312,185 L311.5,185 L311.1,185 L310.6,184.9 L310.2,184.9 L309.8,184.9 L309.3,184.9 L308.9,184.9 L308.4,184.9 L308,184.9 L307.5,184.9 L307.1,184.9 L306.6,184.9 L306.2,184.9 L305.7,184.9 L305.3,184.9 L304.8,184.9 L304.4,184.9 L303.9,184.9 L303.5,184.9 L303,184.8 L302.6,184.8 L302.1,184.8 L301.7,184.8 L301.2,184.8 L300.8,184.8 L300.4,184.8 L299.9,184.8 L299.5,184.8 L299,184.8 L298.6,184.8 L298.1,184.8 L297.7,184.8 L297.2,184.8 L296.8,184.8 L296.3,184.8 L295.9,184.8 L295.4,184.7 L295,184.7 L294.5,184.7 L294.1,184.7 L293.6,184.7 L293.2,184.7 L292.7,184.7 L292.3,184.7 Z" fill="#8d8d8d" fill-opacity="0.8" />
<path d="M270.8,184.4 271.3,184.4 271.7,184.3 272.2,184.3 272.6,184.3 273.1,184.3 273.5,184.3 274,184.3 274.4,184.3 274.8,184.3 275.3,184.3 275.7,184.2 276.2,184.2 276.6,184.2 277.1,184.2 277.5,184.1 278,184.1 278.4,184 278.9,184 279.3,184 279.8,183.9 280.2,183.8 280.7,183.8 281.1,183.7 281.6,183.7 282,183.6 282.5,183.5 282.9,183.4 283.3,183.3 283.8,183.3 284.2,183.2 284.7,183.1 285.1,182.9 285.6,182.8 286,182.7 286.5,182.6 286.9,182.5 287.4,182.4 287.8,182.2 288.3,182.1 288.7,181.9 289.2,181.8 289.6,181.7 290.1,181.5 290.5,181.4 291,181.2 291.4,181.1 291.9,180.9 292.3,180.8 292.7,180.7 293.2,180.5 293.6,180.4 294.1,180.3 294.5,180.1 295,180 295.4,179.9 295.9,179.8 296.3,179.7 296.8,179.6 297.2,179.5 297.7,179.4 298.1,179.3 298.6,179.3 299,179.2 299.5,179.2 299.9,179.1 300.4,179.1 300.8,179.1 301.2,179.1 301.7,179.1 302.1,179.2 302.6,179.2 303,179.2 303.5,179.3 303.9,179.4 304.4,179.4 304.8,179.5 305.3,179.6 305.7,179.7 306.2,179.8 306.6,179.9 307.1,180.1 307.5,180.2 308,180.3 308.4,180.5 308.9,180.6 309.3,180.7 309.8,180.9 310.2,181.1 310.6,181.2 311.1,181.4 311.5,181.5 312,181.7 312.4,181.8 312.9,182 313.3,182.1 313.8,182.3 314.2,182.4 314.7,182.6 315.1,182.7 315.6,182.9 316,183 316.5,183.1 316.9,183.3 317.4,183.4 317.8,183.5 318.3,183.6 318.7,183.7 319.1,183.8 319.6,183.9 320,184 320.5,184.1 320.9,184.2 321.4,184.3 321.8,184.3 322.3,184.4 322.7,184.5 323.2,184.5 323.6,184.6 324.1,184.6 324.5,184.7 325,184.7 325.4,184.8 325.9,184.8 326.3,184.9 326.8,184.9 327.2,184.9 327.7,185 328.1,185 328.5,185 329,185 329.4,185.1 329.9,185.1 330.3,185.1 330.8,185.1 331.2,185.1 L331.2,185.2 L330.8,185.2 L330.3,185.2 L329.9,185.2 L329.4,185.2 L329,185.2 L328.5,185.2 L328.1,185.2 L327.7,185.2 L327.2,185.2 L326.8,185.2 L326.3,185.2 L325.9,185.1 L325.4,185.1 L325,185.1 L324.5,185.1 L324.1,185.1 L323.6,185.1 L323.2,185.1 L322.7,185.1 L322.3,185.1 L321.8,185.1 L321.4,185.1 L320.9,185.1 L320.5,185.1 L320,185.1 L319.6,185.1 L319.1,185.1 L318.7,185.1 L318.3,185 L317.8,185 L317.4,185 L316.9,185 L316.5,185 L316,185 L315.6,185 L315.1,185 L314.7,185 L314.2,185 L313.8,185 L313.3,185 L312.9,185 L312.4,185 L312,185 L311.5,185 L311.1,185 L310.6,184.9 L310.2,184.9 L309.8,184.9 L309.3,184.9 L308.9,184.9 L308.4,184.9 L308,184.9 L307.5,184.9 L307.1,184.9 L306.6,184.9 L306.2,184.9 L305.7,184.9 L305.3,184.9 L304.8,184.9 L304.4,184.9 L303.9,184.9 L303.5,184.9 L303,184.8 L302.6,184.8 L302.1,184.8 L301.7,184.8 L301.2,184.8 L300.8,184.8 L300.4,184.8 L299.9,184.8 L299.5,184.8 L299,184.8 L298.6,184.8 L298.1,184.8 L297.7,184.8 L297.2,184.8 L296.8,184.8 L296.3,184.8 L295.9,184.8 L295.4,184.7 L295,184.7 L294.5,184.7 L294.1,184.7 L293.6,184.7 L293.2,184.7 L292.7,184.7 L292.3,184.7 L291.9,184.7 L291.4,184.7 L291,184.7 L290.5,184.7 L290.1,184.7 L289.6,184.7 L289.2,184.7 L288.7,184.7 L288.3,184.7 L287.8,184.6 L287.4,184.6 L286.9,184.6 L286.5,184.6 L286,184.6 L285.6,184.6 L285.1,184.6 L284.7,184.6 L284.2,184.6 L283.8,184.6 L283.3,184.6 L282.9,184.6 L282.5,184.6 L282,184.6 L281.6,184.6 L281.1,184.6 L280.7,184.6 L280.2,184.5 L279.8,184.5 L279.3,184.5 L278.9,184.5 L278.4,184.5 L278,184.5 L277.5,184.5 L277.1,184.5 L276.6,184.5 L276.2,184.5 L275.7,184.5 L275.3,184.5 L274.8,184.5 L274.4,184.5 L274,184.5 L273.5,184.5 L273.1,184.5 L272.6,184.4 L272.2,184.4 L271.7,184.4 L271.3,184.4 L270.8,184.4 Z" fill="#5fcfa8" fill-opacity="0.85" />
<path d="M310.2,184.9 310.6,184.9 311.1,184.9 311.5,184.8 312,184.8 312.4,184.8 312.9,184.8 313.3,184.8 313.8,184.8 314.2,184.8 314.7,184.7 315.1,184.7 315.6,184.7 316,184.7 316.5,184.6 316.9,184.6 317.4,184.5 317.8,184.5 318.3,184.5 318.7,184.4 319.1,184.3 319.6,184.3 320,184.2 320.5,184.1 320.9,184.1 321.4,184 321.8,183.9 322.3,183.8 322.7,183.7 323.2,183.6 323.6,183.5 324.1,183.4 324.5,183.2 325,183.1 325.4,183 325.9,182.8 326.3,182.7 326.8,182.5 327.2,182.4 327.7,182.2 328.1,182.1 328.5,181.9 329,181.7 329.4,181.6 329.9,181.4 330.3,181.2 330.8,181 331.2,180.9 331.7,180.7 332.1,180.5 332.6,180.4 333,180.2 333.5,180 333.9,179.9 334.4,179.7 334.8,179.6 335.3,179.4 335.7,179.3 336.2,179.2 336.6,179.1 337,179 337.5,178.9 337.9,178.8 338.4,178.7 338.8,178.7 339.3,178.6 339.7,178.6 340.2,178.6 340.6,178.6 341.1,178.6 341.5,178.6 342,178.6 342.4,178.7 342.9,178.7 343.3,178.8 343.8,178.9 344.2,179 344.7,179.1 345.1,179.2 345.6,179.3 346,179.4 346.4,179.6 346.9,179.7 347.3,179.9 347.8,180 348.2,180.2 348.7,180.4 349.1,180.6 349.6,180.7 350,180.9 350.5,181.1 350.9,181.3 351.4,181.5 351.8,181.7 352.3,181.8 352.7,182 353.2,182.2 353.6,182.4 354.1,182.6 354.5,182.7 354.9,182.9 355.4,183.1 355.8,183.2 356.3,183.4 356.7,183.6 357.2,183.7 357.6,183.8 358.1,184 358.5,184.1 359,184.2 359.4,184.4 359.9,184.5 360.3,184.6 360.8,184.7 361.2,184.8 361.7,184.9 362.1,185 362.6,185.1 363,185.2 363.5,185.2 363.9,185.3 364.3,185.4 364.8,185.5 365.2,185.5 365.7,185.6 366.1,185.7 366.6,185.7 367,185.8 367.5,185.8 367.9,185.9 368.4,185.9 368.8,186 369.3,186 369.7,186.1 370.2,186.1 370.6,186.2 371.1,186.2 371.5,186.3 L371.5,186.4 L371.1,186.3 L370.6,186.3 L370.2,186.3 L369.7,186.2 L369.3,186.2 L368.8,186.2 L368.4,186.1 L367.9,186.1 L367.5,186.1 L367,186 L366.6,186 L366.1,186 L365.7,186 L365.2,185.9 L364.8,185.9 L364.3,185.9 L363.9,185.9 L363.5,185.8 L363,185.8 L362.6,185.8 L362.1,185.8 L361.7,185.8 L361.2,185.7 L360.8,185.7 L360.3,185.7 L359.9,185.7 L359.4,185.7 L359,185.7 L358.5,185.7 L358.1,185.6 L357.6,185.6 L357.2,185.6 L356.7,185.6 L356.3,185.6 L355.8,185.6 L355.4,185.6 L354.9,185.6 L354.5,185.6 L354.1,185.6 L353.6,185.5 L353.2,185.5 L352.7,185.5 L352.3,185.5 L351.8,185.5 L351.4,185.5 L350.9,185.5 L350.5,185.5 L350,185.5 L349.6,185.5 L349.1,185.5 L348.7,185.5 L348.2,185.5 L347.8,185.4 L347.3,185.4 L346.9,185.4 L346.4,185.4 L346,185.4 L345.6,185.4 L345.1,185.4 L344.7,185.4 L344.2,185.4 L343.8,185.4 L343.3,185.4 L342.9,185.4 L342.4,185.4 L342,185.4 L341.5,185.4 L341.1,185.4 L340.6,185.3 L340.2,185.3 L339.7,185.3 L339.3,185.3 L338.8,185.3 L338.4,185.3 L337.9,185.3 L337.5,185.3 L337,185.3 L336.6,185.3 L336.2,185.3 L335.7,185.3 L335.3,185.3 L334.8,185.3 L334.4,185.3 L333.9,185.3 L333.5,185.2 L333,185.2 L332.6,185.2 L332.1,185.2 L331.7,185.2 L331.2,185.2 L330.8,185.2 L330.3,185.2 L329.9,185.2 L329.4,185.2 L329,185.2 L328.5,185.2 L328.1,185.2 L327.7,185.2 L327.2,185.2 L326.8,185.2 L326.3,185.2 L325.9,185.1 L325.4,185.1 L325,185.1 L324.5,185.1 L324.1,185.1 L323.6,185.1 L323.2,185.1 L322.7,185.1 L322.3,185.1 L321.8,185.1 L321.4,185.1 L320.9,185.1 L320.5,185.1 L320,185.1 L319.6,185.1 L319.1,185.1 L318.7,185.1 L318.3,185 L317.8,185 L317.4,185 L316.9,185 L316.5,185 L316,185 L315.6,185 L315.1,185 L314.7,185 L314.2,185 L313.8,185 L313.3,185 L312.9,185 L312.4,185 L312,185 L311.5,185 L311.1,185 L310.6,184.9 L310.2,184.9 Z" fill="#5fcfa8" fill-opacity="0.85" />
<path d="M313.8,184.9 314.2,184.9 314.7,184.9 315.1,184.9 315.6,184.9 316,184.9 316.5,184.9 316.9,184.9 317.4,184.9 317.8,185 318.3,185 318.7,185 319.1,185 319.6,185 320,185 320.5,185 320.9,185 321.4,185 321.8,185 322.3,185 322.7,185 323.2,185 323.6,185 324.1,185 324.5,185 325,185 325.4,185 325.9,185 326.3,185 326.8,185 327.2,185 327.7,185 328.1,185 328.5,185 329,185 329.4,185.1 329.9,185.1 330.3,185.1 330.8,185.1 331.2,185.1 331.7,185.1 332.1,185.1 332.6,185.1 333,185.1 333.5,185.1 333.9,185.1 334.4,185.1 334.8,185.1 335.3,185.1 335.7,185.1 336.2,185.1 336.6,185.1 337,185.1 337.5,185.1 337.9,185.1 338.4,185.1 338.8,185.1 339.3,185.1 339.7,185.1 340.2,185.1 340.6,185.1 341.1,185.1 341.5,185.1 342,185.1 342.4,185.1 342.9,185.1 343.3,185.1 343.8,185.1 344.2,185.1 344.7,185.1 345.1,185.1 345.6,185.1 346,185.1 346.4,185.1 346.9,185.1 347.3,185.1 347.8,185 348.2,185 348.7,185 349.1,185 349.6,185 350,185 350.5,185 350.9,185 351.4,185 351.8,185 352.3,185 352.7,184.9 353.2,184.9 353.6,184.9 354.1,184.9 354.5,184.9 354.9,184.9 355.4,184.8 355.8,184.8 356.3,184.8 356.7,184.8 357.2,184.7 357.6,184.7 358.1,184.6 358.5,184.6 359,184.5 359.4,184.5 359.9,184.4 360.3,184.3 360.8,184.2 361.2,184.1 361.7,183.9 362.1,183.7 362.6,183.5 363,183.2 363.5,182.8 363.9,182.4 364.3,181.8 364.8,181.1 365.2,180.3 365.7,179.2 366.1,178 366.6,176.6 367,175 367.5,173.1 367.9,170.9 368.4,168.6 368.8,165.9 369.3,163 369.7,160 370.2,156.7 370.6,153.4 371.1,150 371.5,146.7 372,143.5 372.4,140.5 372.9,137.8 373.3,135.6 373.7,133.9 374.2,132.8 374.6,132.4 375.1,132.7 375.5,133.6 376,135.2 376.4,137.4 376.9,140 377.3,142.9 377.8,146.2 378.2,149.5 378.7,153 379.1,156.4 379.6,159.7 380,162.9 380.5,165.9 380.9,168.7 381.4,171.2 381.8,173.5 382.2,175.5 382.7,177.2 383.1,178.8 383.6,180.1 384,181.2 384.5,182.1 384.9,182.9 385.4,183.6 385.8,184.1 386.3,184.5 386.7,184.9 387.2,185.2 387.6,185.4 388.1,185.6 388.5,185.8 389,185.9 389.4,186 389.9,186.1 390.3,186.2 390.8,186.3 391.2,186.4 391.6,186.4 392.1,186.5 392.5,186.5 393,186.6 393.4,186.6 393.9,186.7 394.3,186.7 394.8,186.8 395.2,186.8 395.7,186.9 396.1,186.9 396.6,186.9 397,187 397.5,187 397.9,187.1 398.4,187.1 398.8,187.2 399.3,187.2 399.7,187.2 400.1,187.3 400.6,187.3 401,187.4 401.5,187.4 401.9,187.5 402.4,187.5 402.8,187.6 403.3,187.6 403.7,187.7 404.2,187.7 404.6,187.8 405.1,187.8 405.5,187.9 406,188 406.4,188 406.9,188.1 407.3,188.2 407.8,188.2 408.2,188.3 408.7,188.4 409.1,188.4 409.5,188.5 410,188.6 410.4,188.7 410.9,188.7 411.3,188.8 411.8,188.9 412.2,188.9 412.7,189 413.1,189.1 413.6,189.1 414,189.2 414.5,189.3 414.9,189.3 415.4,189.4 415.8,189.4 416.3,189.5 416.7,189.5 417.2,189.6 417.6,189.6 418,189.7 418.5,189.7 418.9,189.8 419.4,189.8 419.8,189.9 420.3,189.9 420.7,189.9 421.2,189.9 421.6,190 422.1,190 422.5,190 423,190.1 423.4,190.1 423.9,190.1 424.3,190.1 424.8,190.1 425.2,190.1 425.7,190.2 426.1,190.2 426.6,190.2 427,190.2 427.4,190.2 427.9,190.2 428.3,190.2 428.8,190.2 429.2,190.3 429.7,190.3 430.1,190.3 430.6,190.3 431,190.3 431.5,190.3 431.9,190.3 432.4,190.3 432.8,190.3 433.3,190.3 433.7,190.3 434.2,190.3 434.6,190.3 435.1,190.3 435.5,190.3 L435.5,190.4 L435.1,190.4 L434.6,190.4 L434.2,190.4 L433.7,190.4 L433.3,190.4 L432.8,190.4 L432.4,190.4 L431.9,190.4 L431.5,190.4 L431,190.4 L430.6,190.4 L430.1,190.4 L429.7,190.4 L429.2,190.4 L428.8,190.3 L428.3,190.3 L427.9,190.3 L427.4,190.3 L427,190.3 L426.6,190.3 L426.1,190.3 L425.7,190.3 L425.2,190.3 L424.8,190.2 L424.3,190.2 L423.9,190.2 L423.4,190.2 L423,190.2 L422.5,190.2 L422.1,190.1 L421.6,190.1 L421.2,190.1 L420.7,190.1 L420.3,190 L419.8,190 L419.4,190 L418.9,189.9 L418.5,189.9 L418,189.8 L417.6,189.8 L417.2,189.8 L416.7,189.7 L416.3,189.7 L415.8,189.6 L415.4,189.6 L414.9,189.5 L414.5,189.5 L414,189.4 L413.6,189.3 L413.1,189.3 L412.7,189.2 L412.2,189.1 L411.8,189.1 L411.3,189 L410.9,188.9 L410.4,188.9 L410,188.8 L409.5,188.7 L409.1,188.7 L408.7,188.6 L408.2,188.6 L407.8,188.5 L407.3,188.4 L406.9,188.4 L406.4,188.3 L406,188.3 L405.5,188.2 L405.1,188.2 L404.6,188.1 L404.2,188.1 L403.7,188 L403.3,188 L402.8,187.9 L402.4,187.9 L401.9,187.8 L401.5,187.8 L401,187.8 L400.6,187.8 L400.1,187.7 L399.7,187.7 L399.3,187.7 L398.8,187.6 L398.4,187.6 L397.9,187.6 L397.5,187.6 L397,187.6 L396.6,187.5 L396.1,187.5 L395.7,187.5 L395.2,187.5 L394.8,187.5 L394.3,187.5 L393.9,187.5 L393.4,187.4 L393,187.4 L392.5,187.4 L392.1,187.4 L391.6,187.4 L391.2,187.4 L390.8,187.4 L390.3,187.4 L389.9,187.4 L389.4,187.3 L389,187.3 L388.5,187.3 L388.1,187.3 L387.6,187.3 L387.2,187.3 L386.7,187.3 L386.3,187.3 L385.8,187.2 L385.4,187.2 L384.9,187.2 L384.5,187.2 L384,187.2 L383.6,187.2 L383.1,187.2 L382.7,187.1 L382.2,187.1 L381.8,187.1 L381.4,187.1 L380.9,187 L380.5,187 L380,187 L379.6,187 L379.1,186.9 L378.7,186.9 L378.2,186.9 L377.8,186.8 L377.3,186.8 L376.9,186.8 L376.4,186.7 L376,186.7 L375.5,186.7 L375.1,186.6 L374.6,186.6 L374.2,186.6 L373.7,186.5 L373.3,186.5 L372.9,186.5 L372.4,186.4 L372,186.4 L371.5,186.4 L371.1,186.3 L370.6,186.3 L370.2,186.3 L369.7,186.2 L369.3,186.2 L368.8,186.2 L368.4,186.1 L367.9,186.1 L367.5,186.1 L367,186 L366.6,186 L366.1,186 L365.7,186 L365.2,185.9 L364.8,185.9 L364.3,185.9 L363.9,185.9 L363.5,185.8 L363,185.8 L362.6,185.8 L362.1,185.8 L361.7,185.8 L361.2,185.7 L360.8,185.7 L360.3,185.7 L359.9,185.7 L359.4,185.7 L359,185.7 L358.5,185.7 L358.1,185.6 L357.6,185.6 L357.2,185.6 L356.7,185.6 L356.3,185.6 L355.8,185.6 L355.4,185.6 L354.9,185.6 L354.5,185.6 L354.1,185.6 L353.6,185.5 L353.2,185.5 L352.7,185.5 L352.3,185.5 L351.8,185.5 L351.4,185.5 L350.9,185.5 L350.5,185.5 L350,185.5 L349.6,185.5 L349.1,185.5 L348.7,185.5 L348.2,185.5 L347.8,185.4 L347.3,185.4 L346.9,185.4 L346.4,185.4 L346,185.4 L345.6,185.4 L345.1,185.4 L344.7,185.4 L344.2,185.4 L343.8,185.4 L343.3,185.4 L342.9,185.4 L342.4,185.4 L342,185.4 L341.5,185.4 L341.1,185.4 L340.6,185.3 L340.2,185.3 L339.7,185.3 L339.3,185.3 L338.8,185.3 L338.4,185.3 L337.9,185.3 L337.5,185.3 L337,185.3 L336.6,185.3 L336.2,185.3 L335.7,185.3 L335.3,185.3 L334.8,185.3 L334.4,185.3 L333.9,185.3 L333.5,185.2 L333,185.2 L332.6,185.2 L332.1,185.2 L331.7,185.2 L331.2,185.2 L330.8,185.2 L330.3,185.2 L329.9,185.2 L329.4,185.2 L329,185.2 L328.5,185.2 L328.1,185.2 L327.7,185.2 L327.2,185.2 L326.8,185.2 L326.3,185.2 L325.9,185.1 L325.4,185.1 L325,185.1 L324.5,185.1 L324.1,185.1 L323.6,185.1 L323.2,185.1 L322.7,185.1 L322.3,185.1 L321.8,185.1 L321.4,185.1 L320.9,185.1 L320.5,185.1 L320,185.1 L319.6,185.1 L319.1,185.1 L318.7,185.1 L318.3,185 L317.8,185 L317.4,185 L316.9,185 L316.5,185 L316,185 L315.6,185 L315.1,185 L314.7,185 L314.2,185 L313.8,185 Z" fill="#6ea0e0" fill-opacity="1.0" />
<path d="M338.8,185.2 339.3,185.2 339.7,185.3 340.2,185.3 340.6,185.3 341.1,185.3 341.5,185.3 342,185.3 342.4,185.3 342.9,185.3 343.3,185.3 343.8,185.3 344.2,185.3 344.7,185.3 345.1,185.3 345.6,185.3 346,185.3 346.4,185.3 346.9,185.3 347.3,185.3 347.8,185.3 348.2,185.3 348.7,185.4 349.1,185.4 349.6,185.4 350,185.4 350.5,185.4 350.9,185.4 351.4,185.4 351.8,185.4 352.3,185.4 352.7,185.4 353.2,185.4 353.6,185.4 354.1,185.4 354.5,185.4 354.9,185.4 355.4,185.4 355.8,185.5 356.3,185.5 356.7,185.5 357.2,185.5 357.6,185.5 358.1,185.5 358.5,185.5 359,185.5 359.4,185.5 359.9,185.5 360.3,185.6 360.8,185.6 361.2,185.6 361.7,185.6 362.1,185.6 362.6,185.6 363,185.6 363.5,185.7 363.9,185.7 364.3,185.7 364.8,185.7 365.2,185.7 365.7,185.8 366.1,185.8 366.6,185.8 367,185.8 367.5,185.9 367.9,185.9 368.4,185.9 368.8,185.9 369.3,186 369.7,186 370.2,186 370.6,186 371.1,186.1 371.5,186.1 372,186.1 372.4,186.2 372.9,186.2 373.3,186.2 373.7,186.2 374.2,186.3 374.6,186.3 375.1,186.3 375.5,186.4 376,186.4 376.4,186.4 376.9,186.4 377.3,186.5 377.8,186.5 378.2,186.5 378.7,186.5 379.1,186.5 379.6,186.6 380,186.6 380.5,186.6 380.9,186.6 381.4,186.6 381.8,186.6 382.2,186.6 382.7,186.6 383.1,186.6 383.6,186.6 384,186.6 384.5,186.6 384.9,186.6 385.4,186.6 385.8,186.6 386.3,186.6 386.7,186.6 387.2,186.6 387.6,186.6 388.1,186.5 388.5,186.5 389,186.5 389.4,186.5 389.9,186.5 390.3,186.4 390.8,186.4 391.2,186.4 391.6,186.3 392.1,186.3 392.5,186.3 393,186.2 393.4,186.2 393.9,186.1 394.3,186 394.8,186 395.2,185.9 395.7,185.8 396.1,185.7 396.6,185.6 397,185.4 397.5,185.2 397.9,185 398.4,184.7 398.8,184.3 399.3,183.8 399.7,183.3 400.1,182.6 400.6,181.7 401,180.6 401.5,179.4 401.9,177.8 402.4,176 402.8,173.9 403.3,171.4 403.7,168.6 404.2,165.4 404.6,161.9 405.1,158 405.5,153.9 406,149.4 406.4,144.8 406.9,140.1 407.3,135.3 407.8,130.7 408.2,126.3 408.7,122.3 409.1,118.8 409.5,116 410,114.1 410.4,113 410.9,112.9 411.3,113.9 411.8,115.7 412.2,118.4 412.7,121.8 413.1,125.8 413.6,130.3 414,135 414.5,139.8 414.9,144.7 415.4,149.4 415.8,154 416.3,158.4 416.7,162.5 417.2,166.2 417.6,169.5 418,172.5 418.5,175.2 418.9,177.5 419.4,179.4 419.8,181.1 420.3,182.5 420.7,183.7 421.2,184.7 421.6,185.5 422.1,186.1 422.5,186.7 423,187.1 423.4,187.5 423.9,187.8 424.3,188 424.8,188.2 425.2,188.4 425.7,188.5 426.1,188.7 426.6,188.8 427,188.9 427.4,188.9 427.9,189 428.3,189.1 428.8,189.2 429.2,189.2 429.7,189.3 430.1,189.3 430.6,189.4 431,189.4 431.5,189.5 431.9,189.5 432.4,189.6 432.8,189.6 433.3,189.6 433.7,189.7 434.2,189.7 434.6,189.7 435.1,189.7 435.5,189.8 435.9,189.8 436.4,189.8 436.8,189.8 437.3,189.9 437.7,189.9 438.2,189.9 438.6,189.9 439.1,189.9 439.5,189.9 440,190 440.4,190 440.9,190 441.3,190 441.8,190 442.2,190 442.7,190 443.1,190 443.6,190.1 444,190.1 444.5,190.1 444.9,190.1 445.3,190.1 445.8,190.1 446.2,190.1 446.7,190.1 447.1,190.1 447.6,190.1 448,190.1 448.5,190.1 448.9,190.2 449.4,190.2 449.8,190.2 450.3,190.2 450.7,190.2 451.2,190.2 451.6,190.2 452.1,190.2 452.5,190.2 L452.5,190.4 L452.1,190.4 L451.6,190.4 L451.2,190.4 L450.7,190.4 L450.3,190.4 L449.8,190.4 L449.4,190.4 L448.9,190.4 L448.5,190.4 L448,190.4 L447.6,190.4 L447.1,190.4 L446.7,190.4 L446.2,190.4 L445.8,190.4 L445.3,190.4 L444.9,190.4 L444.5,190.4 L444,190.4 L443.6,190.4 L443.1,190.4 L442.7,190.4 L442.2,190.4 L441.8,190.4 L441.3,190.4 L440.9,190.4 L440.4,190.4 L440,190.4 L439.5,190.4 L439.1,190.4 L438.6,190.4 L438.2,190.4 L437.7,190.4 L437.3,190.4 L436.8,190.4 L436.4,190.4 L435.9,190.4 L435.5,190.4 L435.1,190.4 L434.6,190.4 L434.2,190.4 L433.7,190.4 L433.3,190.4 L432.8,190.4 L432.4,190.4 L431.9,190.4 L431.5,190.4 L431,190.4 L430.6,190.4 L430.1,190.4 L429.7,190.4 L429.2,190.4 L428.8,190.3 L428.3,190.3 L427.9,190.3 L427.4,190.3 L427,190.3 L426.6,190.3 L426.1,190.3 L425.7,190.3 L425.2,190.3 L424.8,190.2 L424.3,190.2 L423.9,190.2 L423.4,190.2 L423,190.2 L422.5,190.2 L422.1,190.1 L421.6,190.1 L421.2,190.1 L420.7,190.1 L420.3,190 L419.8,190 L419.4,190 L418.9,189.9 L418.5,189.9 L418,189.8 L417.6,189.8 L417.2,189.8 L416.7,189.7 L416.3,189.7 L415.8,189.6 L415.4,189.6 L414.9,189.5 L414.5,189.5 L414,189.4 L413.6,189.3 L413.1,189.3 L412.7,189.2 L412.2,189.1 L411.8,189.1 L411.3,189 L410.9,188.9 L410.4,188.9 L410,188.8 L409.5,188.7 L409.1,188.7 L408.7,188.6 L408.2,188.6 L407.8,188.5 L407.3,188.4 L406.9,188.4 L406.4,188.3 L406,188.3 L405.5,188.2 L405.1,188.2 L404.6,188.1 L404.2,188.1 L403.7,188 L403.3,188 L402.8,187.9 L402.4,187.9 L401.9,187.8 L401.5,187.8 L401,187.8 L400.6,187.8 L400.1,187.7 L399.7,187.7 L399.3,187.7 L398.8,187.6 L398.4,187.6 L397.9,187.6 L397.5,187.6 L397,187.6 L396.6,187.5 L396.1,187.5 L395.7,187.5 L395.2,187.5 L394.8,187.5 L394.3,187.5 L393.9,187.5 L393.4,187.4 L393,187.4 L392.5,187.4 L392.1,187.4 L391.6,187.4 L391.2,187.4 L390.8,187.4 L390.3,187.4 L389.9,187.4 L389.4,187.3 L389,187.3 L388.5,187.3 L388.1,187.3 L387.6,187.3 L387.2,187.3 L386.7,187.3 L386.3,187.3 L385.8,187.2 L385.4,187.2 L384.9,187.2 L384.5,187.2 L384,187.2 L383.6,187.2 L383.1,187.2 L382.7,187.1 L382.2,187.1 L381.8,187.1 L381.4,187.1 L380.9,187 L380.5,187 L380,187 L379.6,187 L379.1,186.9 L378.7,186.9 L378.2,186.9 L377.8,186.8 L377.3,186.8 L376.9,186.8 L376.4,186.7 L376,186.7 L375.5,186.7 L375.1,186.6 L374.6,186.6 L374.2,186.6 L373.7,186.5 L373.3,186.5 L372.9,186.5 L372.4,186.4 L372,186.4 L371.5,186.4 L371.1,186.3 L370.6,186.3 L370.2,186.3 L369.7,186.2 L369.3,186.2 L368.8,186.2 L368.4,186.1 L367.9,186.1 L367.5,186.1 L367,186 L366.6,186 L366.1,186 L365.7,186 L365.2,185.9 L364.8,185.9 L364.3,185.9 L363.9,185.9 L363.5,185.8 L363,185.8 L362.6,185.8 L362.1,185.8 L361.7,185.8 L361.2,185.7 L360.8,185.7 L360.3,185.7 L359.9,185.7 L359.4,185.7 L359,185.7 L358.5,185.7 L358.1,185.6 L357.6,185.6 L357.2,185.6 L356.7,185.6 L356.3,185.6 L355.8,185.6 L355.4,185.6 L354.9,185.6 L354.5,185.6 L354.1,185.6 L353.6,185.5 L353.2,185.5 L352.7,185.5 L352.3,185.5 L351.8,185.5 L351.4,185.5 L350.9,185.5 L350.5,185.5 L350,185.5 L349.6,185.5 L349.1,185.5 L348.7,185.5 L348.2,185.5 L347.8,185.4 L347.3,185.4 L346.9,185.4 L346.4,185.4 L346,185.4 L345.6,185.4 L345.1,185.4 L344.7,185.4 L344.2,185.4 L343.8,185.4 L343.3,185.4 L342.9,185.4 L342.4,185.4 L342,185.4 L341.5,185.4 L341.1,185.4 L340.6,185.3 L340.2,185.3 L339.7,185.3 L339.3,185.3 L338.8,185.3 Z" fill="#6ea0e0" fill-opacity="1.0" />
<path d="M341.5,185.3 342,185.3 342.4,185.3 342.9,185.3 343.3,185.2 343.8,185.2 344.2,185.2 344.7,185.1 345.1,185.1 345.6,185.1 346,185 346.4,184.9 346.9,184.9 347.3,184.8 347.8,184.7 348.2,184.6 348.7,184.4 349.1,184.3 349.6,184.2 350,184 350.5,183.8 350.9,183.6 351.4,183.4 351.8,183.2 352.3,182.9 352.7,182.6 353.2,182.4 353.6,182.1 354.1,181.7 354.5,181.4 354.9,181.1 355.4,180.7 355.8,180.4 356.3,180 356.7,179.7 357.2,179.4 357.6,179 358.1,178.7 358.5,178.4 359,178.1 359.4,177.8 359.9,177.5 360.3,177.3 360.8,177.1 361.2,176.9 361.7,176.8 362.1,176.7 362.6,176.6 363,176.6 363.5,176.6 363.9,176.6 364.3,176.7 364.8,176.9 365.2,177 365.7,177.2 366.1,177.5 366.6,177.7 367,178 367.5,178.3 367.9,178.7 368.4,179 368.8,179.4 369.3,179.8 369.7,180.2 370.2,180.5 370.6,180.9 371.1,181.3 371.5,181.7 372,182.1 372.4,182.5 372.9,182.8 373.3,183.2 373.7,183.5 374.2,183.8 374.6,184.1 375.1,184.4 375.5,184.7 376,184.9 376.4,185.2 376.9,185.4 377.3,185.6 377.8,185.8 378.2,185.9 378.7,186.1 379.1,186.2 379.6,186.4 380,186.5 380.5,186.6 380.9,186.7 381.4,186.7 381.8,186.8 382.2,186.9 382.7,186.9 383.1,187 383.6,187 384,187.1 384.5,187.1 384.9,187.1 L384.9,187.2 L384.5,187.2 L384,187.2 L383.6,187.2 L383.1,187.2 L382.7,187.1 L382.2,187.1 L381.8,187.1 L381.4,187.1 L380.9,187 L380.5,187 L380,187 L379.6,187 L379.1,186.9 L378.7,186.9 L378.2,186.9 L377.8,186.8 L377.3,186.8 L376.9,186.8 L376.4,186.7 L376,186.7 L375.5,186.7 L375.1,186.6 L374.6,186.6 L374.2,186.6 L373.7,186.5 L373.3,186.5 L372.9,186.5 L372.4,186.4 L372,186.4 L371.5,186.4 L371.1,186.3 L370.6,186.3 L370.2,186.3 L369.7,186.2 L369.3,186.2 L368.8,186.2 L368.4,186.1 L367.9,186.1 L367.5,186.1 L367,186 L366.6,186 L366.1,186 L365.7,186 L365.2,185.9 L364.8,185.9 L364.3,185.9 L363.9,185.9 L363.5,185.8 L363,185.8 L362.6,185.8 L362.1,185.8 L361.7,185.8 L361.2,185.7 L360.8,185.7 L360.3,185.7 L359.9,185.7 L359.4,185.7 L359,185.7 L358.5,185.7 L358.1,185.6 L357.6,185.6 L357.2,185.6 L356.7,185.6 L356.3,185.6 L355.8,185.6 L355.4,185.6 L354.9,185.6 L354.5,185.6 L354.1,185.6 L353.6,185.5 L353.2,185.5 L352.7,185.5 L352.3,185.5 L351.8,185.5 L351.4,185.5 L350.9,185.5 L350.5,185.5 L350,185.5 L349.6,185.5 L349.1,185.5 L348.7,185.5 L348.2,185.5 L347.8,185.4 L347.3,185.4 L346.9,185.4 L346.4,185.4 L346,185.4 L345.6,185.4 L345.1,185.4 L344.7,185.4 L344.2,185.4 L343.8,185.4 L343.3,185.4 L342.9,185.4 L342.4,185.4 L342,185.4 L341.5,185.4 Z" fill="#dc4aa6" fill-opacity="0.75" />
<path d="M376.9,186.7 377.3,186.7 377.8,186.7 378.2,186.7 378.7,186.7 379.1,186.7 379.6,186.7 380,186.7 380.5,186.7 380.9,186.7 381.4,186.6 381.8,186.5 382.2,186.5 382.7,186.4 383.1,186.3 383.6,186.2 384,186.1 384.5,185.9 384.9,185.8 385.4,185.6 385.8,185.4 386.3,185.2 386.7,184.9 387.2,184.7 387.6,184.4 388.1,184.1 388.5,183.8 389,183.5 389.4,183.1 389.9,182.8 390.3,182.4 390.8,182 391.2,181.6 391.6,181.2 392.1,180.8 392.5,180.5 393,180.1 393.4,179.7 393.9,179.4 394.3,179 394.8,178.7 395.2,178.4 395.7,178.2 396.1,177.9 396.6,177.7 397,177.6 397.5,177.5 397.9,177.4 398.4,177.4 398.8,177.4 399.3,177.4 399.7,177.5 400.1,177.7 400.6,177.9 401,178.1 401.5,178.3 401.9,178.6 402.4,179 402.8,179.3 403.3,179.7 403.7,180.1 404.2,180.5 404.6,181 405.1,181.4 405.5,181.9 406,182.3 406.4,182.8 406.9,183.2 407.3,183.7 407.8,184.1 408.2,184.5 408.7,184.9 409.1,185.3 409.5,185.7 410,186.1 410.4,186.4 410.9,186.7 411.3,187 411.8,187.3 412.2,187.6 412.7,187.8 413.1,188.1 413.6,188.3 414,188.5 414.5,188.7 414.9,188.8 415.4,189 415.8,189.1 416.3,189.2 416.7,189.4 417.2,189.5 417.6,189.6 418,189.6 418.5,189.7 418.9,189.8 419.4,189.8 419.8,189.9 420.3,189.9 420.7,190 L420.7,190.1 L420.3,190 L419.8,190 L419.4,190 L418.9,189.9 L418.5,189.9 L418,189.8 L417.6,189.8 L417.2,189.8 L416.7,189.7 L416.3,189.7 L415.8,189.6 L415.4,189.6 L414.9,189.5 L414.5,189.5 L414,189.4 L413.6,189.3 L413.1,189.3 L412.7,189.2 L412.2,189.1 L411.8,189.1 L411.3,189 L410.9,188.9 L410.4,188.9 L410,188.8 L409.5,188.7 L409.1,188.7 L408.7,188.6 L408.2,188.6 L407.8,188.5 L407.3,188.4 L406.9,188.4 L406.4,188.3 L406,188.3 L405.5,188.2 L405.1,188.2 L404.6,188.1 L404.2,188.1 L403.7,188 L403.3,188 L402.8,187.9 L402.4,187.9 L401.9,187.8 L401.5,187.8 L401,187.8 L400.6,187.8 L400.1,187.7 L399.7,187.7 L399.3,187.7 L398.8,187.6 L398.4,187.6 L397.9,187.6 L397.5,187.6 L397,187.6 L396.6,187.5 L396.1,187.5 L395.7,187.5 L395.2,187.5 L394.8,187.5 L394.3,187.5 L393.9,187.5 L393.4,187.4 L393,187.4 L392.5,187.4 L392.1,187.4 L391.6,187.4 L391.2,187.4 L390.8,187.4 L390.3,187.4 L389.9,187.4 L389.4,187.3 L389,187.3 L388.5,187.3 L388.1,187.3 L387.6,187.3 L387.2,187.3 L386.7,187.3 L386.3,187.3 L385.8,187.2 L385.4,187.2 L384.9,187.2 L384.5,187.2 L384,187.2 L383.6,187.2 L383.1,187.2 L382.7,187.1 L382.2,187.1 L381.8,187.1 L381.4,187.1 L380.9,187 L380.5,187 L380,187 L379.6,187 L379.1,186.9 L378.7,186.9 L378.2,186.9 L377.8,186.8 L377.3,186.8 L376.9,186.8 Z" fill="#dc4aa6" fill-opacity="0.75" />
<path d="M341.5,185.3 342,185.3 342.4,185.3 342.9,185.3 343.3,185.3 343.8,185.3 344.2,185.3 344.7,185.3 345.1,185.2 345.6,185.2 346,185.2 346.4,185.2 346.9,185.2 347.3,185.2 347.8,185.2 348.2,185.2 348.7,185.2 349.1,185.1 349.6,185.1 350,185.1 350.5,185.1 350.9,185 351.4,185 351.8,185 352.3,185 352.7,184.9 353.2,184.9 353.6,184.9 354.1,184.8 354.5,184.8 354.9,184.8 355.4,184.7 355.8,184.7 356.3,184.6 356.7,184.6 357.2,184.6 357.6,184.5 358.1,184.5 358.5,184.4 359,184.4 359.4,184.3 359.9,184.3 360.3,184.3 360.8,184.2 361.2,184.2 361.7,184.1 362.1,184.1 362.6,184 363,184 363.5,184 363.9,183.9 364.3,183.9 364.8,183.9 365.2,183.8 365.7,183.8 366.1,183.8 366.6,183.8 367,183.8 367.5,183.8 367.9,183.7 368.4,183.7 368.8,183.7 369.3,183.7 369.7,183.7 370.2,183.8 370.6,183.8 371.1,183.8 371.5,183.8 372,183.8 372.4,183.9 372.9,183.9 373.3,183.9 373.7,184 374.2,184 374.6,184.1 375.1,184.1 375.5,184.2 376,184.2 376.4,184.3 376.9,184.4 377.3,184.4 377.8,184.5 378.2,184.6 378.7,184.6 379.1,184.7 379.6,184.8 380,184.9 380.5,184.9 380.9,185 381.4,185.1 381.8,185.2 382.2,185.3 382.7,185.3 383.1,185.4 383.6,185.5 384,185.6 384.5,185.6 384.9,185.7 385.4,185.8 385.8,185.9 386.3,185.9 386.7,186 387.2,186.1 387.6,186.1 388.1,186.2 388.5,186.3 389,186.3 389.4,186.4 389.9,186.5 390.3,186.5 390.8,186.6 391.2,186.6 391.6,186.7 392.1,186.7 392.5,186.8 393,186.8 393.4,186.9 393.9,186.9 394.3,187 394.8,187 395.2,187.1 395.7,187.1 396.1,187.2 396.6,187.2 397,187.3 397.5,187.3 397.9,187.3 398.4,187.4 398.8,187.4 399.3,187.5 399.7,187.5 400.1,187.6 400.6,187.6 401,187.6 401.5,187.7 401.9,187.7 402.4,187.8 402.8,187.8 403.3,187.9 403.7,187.9 L403.7,188 L403.3,188 L402.8,187.9 L402.4,187.9 L401.9,187.8 L401.5,187.8 L401,187.8 L400.6,187.8 L400.1,187.7 L399.7,187.7 L399.3,187.7 L398.8,187.6 L398.4,187.6 L397.9,187.6 L397.5,187.6 L397,187.6 L396.6,187.5 L396.1,187.5 L395.7,187.5 L395.2,187.5 L394.8,187.5 L394.3,187.5 L393.9,187.5 L393.4,187.4 L393,187.4 L392.5,187.4 L392.1,187.4 L391.6,187.4 L391.2,187.4 L390.8,187.4 L390.3,187.4 L389.9,187.4 L389.4,187.3 L389,187.3 L388.5,187.3 L388.1,187.3 L387.6,187.3 L387.2,187.3 L386.7,187.3 L386.3,187.3 L385.8,187.2 L385.4,187.2 L384.9,187.2 L384.5,187.2 L384,187.2 L383.6,187.2 L383.1,187.2 L382.7,187.1 L382.2,187.1 L381.8,187.1 L381.4,187.1 L380.9,187 L380.5,187 L380,187 L379.6,187 L379.1,186.9 L378.7,186.9 L378.2,186.9 L377.8,186.8 L377.3,186.8 L376.9,186.8 L376.4,186.7 L376,186.7 L375.5,186.7 L375.1,186.6 L374.6,186.6 L374.2,186.6 L373.7,186.5 L373.3,186.5 L372.9,186.5 L372.4,186.4 L372,186.4 L371.5,186.4 L371.1,186.3 L370.6,186.3 L370.2,186.3 L369.7,186.2 L369.3,186.2 L368.8,186.2 L368.4,186.1 L367.9,186.1 L367.5,186.1 L367,186 L366.6,186 L366.1,186 L365.7,186 L365.2,185.9 L364.8,185.9 L364.3,185.9 L363.9,185.9 L363.5,185.8 L363,185.8 L362.6,185.8 L362.1,185.8 L361.7,185.8 L361.2,185.7 L360.8,185.7 L360.3,185.7 L359.9,185.7 L359.4,185.7 L359,185.7 L358.5,185.7 L358.1,185.6 L357.6,185.6 L357.2,185.6 L356.7,185.6 L356.3,185.6 L355.8,185.6 L355.4,185.6 L354.9,185.6 L354.5,185.6 L354.1,185.6 L353.6,185.5 L353.2,185.5 L352.7,185.5 L352.3,185.5 L351.8,185.5 L351.4,185.5 L350.9,185.5 L350.5,185.5 L350,185.5 L349.6,185.5 L349.1,185.5 L348.7,185.5 L348.2,185.5 L347.8,185.4 L347.3,185.4 L346.9,185.4 L346.4,185.4 L346,185.4 L345.6,185.4 L345.1,185.4 L344.7,185.4 L344.2,185.4 L343.8,185.4 L343.3,185.4 L342.9,185.4 L342.4,185.4 L342,185.4 L341.5,185.4 Z" fill="#5a4fc0" fill-opacity="0.7" />
<path d="M378.7,186.8 379.1,186.8 379.6,186.9 380,186.9 380.5,186.9 380.9,186.9 381.4,186.9 381.8,186.9 382.2,186.9 382.7,186.9 383.1,186.9 383.6,186.9 384,186.9 384.5,186.9 384.9,186.9 385.4,186.9 385.8,186.9 386.3,186.9 386.7,186.9 387.2,186.9 387.6,186.9 388.1,186.8 388.5,186.8 389,186.8 389.4,186.8 389.9,186.7 390.3,186.7 390.8,186.7 391.2,186.6 391.6,186.6 392.1,186.6 392.5,186.5 393,186.5 393.4,186.4 393.9,186.4 394.3,186.4 394.8,186.3 395.2,186.3 395.7,186.2 396.1,186.2 396.6,186.2 397,186.1 397.5,186.1 397.9,186 398.4,186 398.8,186 399.3,185.9 399.7,185.9 400.1,185.9 400.6,185.8 401,185.8 401.5,185.8 401.9,185.8 402.4,185.8 402.8,185.7 403.3,185.7 403.7,185.7 404.2,185.7 404.6,185.8 405.1,185.8 405.5,185.8 406,185.8 406.4,185.8 406.9,185.9 407.3,185.9 407.8,186 408.2,186 408.7,186.1 409.1,186.1 409.5,186.2 410,186.2 410.4,186.3 410.9,186.4 411.3,186.5 411.8,186.6 412.2,186.6 412.7,186.7 413.1,186.8 413.6,186.9 414,187 414.5,187.1 414.9,187.2 415.4,187.3 415.8,187.4 416.3,187.5 416.7,187.6 417.2,187.7 417.6,187.8 418,187.9 418.5,188 418.9,188.1 419.4,188.2 419.8,188.2 420.3,188.3 420.7,188.4 421.2,188.5 421.6,188.6 422.1,188.7 422.5,188.8 423,188.8 423.4,188.9 423.9,189 424.3,189.1 424.8,189.1 425.2,189.2 425.7,189.3 426.1,189.3 426.6,189.4 427,189.5 427.4,189.5 427.9,189.6 428.3,189.6 428.8,189.7 429.2,189.7 429.7,189.8 430.1,189.8 430.6,189.9 431,189.9 431.5,189.9 431.9,190 432.4,190 432.8,190 433.3,190.1 433.7,190.1 434.2,190.1 434.6,190.1 435.1,190.2 435.5,190.2 435.9,190.2 436.4,190.2 436.8,190.2 437.3,190.3 437.7,190.3 438.2,190.3 438.6,190.3 439.1,190.3 439.5,190.3 440,190.3 440.4,190.3 440.9,190.4 L440.9,190.4 L440.4,190.4 L440,190.4 L439.5,190.4 L439.1,190.4 L438.6,190.4 L438.2,190.4 L437.7,190.4 L437.3,190.4 L436.8,190.4 L436.4,190.4 L435.9,190.4 L435.5,190.4 L435.1,190.4 L434.6,190.4 L434.2,190.4 L433.7,190.4 L433.3,190.4 L432.8,190.4 L432.4,190.4 L431.9,190.4 L431.5,190.4 L431,190.4 L430.6,190.4 L430.1,190.4 L429.7,190.4 L429.2,190.4 L428.8,190.3 L428.3,190.3 L427.9,190.3 L427.4,190.3 L427,190.3 L426.6,190.3 L426.1,190.3 L425.7,190.3 L425.2,190.3 L424.8,190.2 L424.3,190.2 L423.9,190.2 L423.4,190.2 L423,190.2 L422.5,190.2 L422.1,190.1 L421.6,190.1 L421.2,190.1 L420.7,190.1 L420.3,190 L419.8,190 L419.4,190 L418.9,189.9 L418.5,189.9 L418,189.8 L417.6,189.8 L417.2,189.8 L416.7,189.7 L416.3,189.7 L415.8,189.6 L415.4,189.6 L414.9,189.5 L414.5,189.5 L414,189.4 L413.6,189.3 L413.1,189.3 L412.7,189.2 L412.2,189.1 L411.8,189.1 L411.3,189 L410.9,188.9 L410.4,188.9 L410,188.8 L409.5,188.7 L409.1,188.7 L408.7,188.6 L408.2,188.6 L407.8,188.5 L407.3,188.4 L406.9,188.4 L406.4,188.3 L406,188.3 L405.5,188.2 L405.1,188.2 L404.6,188.1 L404.2,188.1 L403.7,188 L403.3,188 L402.8,187.9 L402.4,187.9 L401.9,187.8 L401.5,187.8 L401,187.8 L400.6,187.8 L400.1,187.7 L399.7,187.7 L399.3,187.7 L398.8,187.6 L398.4,187.6 L397.9,187.6 L397.5,187.6 L397,187.6 L396.6,187.5 L396.1,187.5 L395.7,187.5 L395.2,187.5 L394.8,187.5 L394.3,187.5 L393.9,187.5 L393.4,187.4 L393,187.4 L392.5,187.4 L392.1,187.4 L391.6,187.4 L391.2,187.4 L390.8,187.4 L390.3,187.4 L389.9,187.4 L389.4,187.3 L389,187.3 L388.5,187.3 L388.1,187.3 L387.6,187.3 L387.2,187.3 L386.7,187.3 L386.3,187.3 L385.8,187.2 L385.4,187.2 L384.9,187.2 L384.5,187.2 L384,187.2 L383.6,187.2 L383.1,187.2 L382.7,187.1 L382.2,187.1 L381.8,187.1 L381.4,187.1 L380.9,187 L380.5,187 L380,187 L379.6,187 L379.1,186.9 L378.7,186.9 Z" fill="#5a4fc0" fill-opacity="0.7" />
<path d="M265,184.3 265.4,184.4 265.9,184.4 266.3,184.4 266.8,184.4 267.2,184.4 267.7,184.4 268.1,184.4 268.6,184.4 269,184.4 269.5,184.4 269.9,184.4 270.4,184.4 270.8,184.4 271.3,184.4 271.7,184.4 272.2,184.4 272.6,184.4 273.1,184.5 273.5,184.5 274,184.5 274.4,184.5 274.8,184.5 275.3,184.5 275.7,184.5 276.2,184.5 276.6,184.5 277.1,184.5 277.5,184.5 278,184.5 278.4,184.5 278.9,184.5 279.3,184.5 279.8,184.5 280.2,184.5 280.7,184.6 281.1,184.6 281.6,184.6 282,184.6 282.5,184.6 282.9,184.6 283.3,184.6 283.8,184.6 284.2,184.6 284.7,184.6 285.1,184.6 285.6,184.6 286,184.6 286.5,184.6 286.9,184.6 287.4,184.6 287.8,184.6 288.3,184.7 288.7,184.7 289.2,184.7 289.6,184.7 290.1,184.7 290.5,184.7 291,184.7 291.4,184.7 291.9,184.7 292.3,184.7 292.7,184.7 293.2,184.7 293.6,184.7 294.1,184.7 294.5,184.7 295,184.7 295.4,184.7 295.9,184.8 296.3,184.8 296.8,184.8 297.2,184.8 297.7,184.8 298.1,184.8 298.6,184.8 299,184.8 299.5,184.8 299.9,184.8 300.4,184.8 300.8,184.8 301.2,184.8 301.7,184.8 302.1,184.8 302.6,184.8 303,184.8 303.5,184.9 303.9,184.9 304.4,184.9 304.8,184.9 305.3,184.9 305.7,184.9 306.2,184.9 306.6,184.9 307.1,184.9 307.5,184.9 308,184.9 308.4,184.9 308.9,184.9 309.3,184.9 309.8,184.9 310.2,184.9 310.6,184.9 311.1,185 311.5,185 312,185 312.4,185 312.9,185 313.3,185 313.8,185 314.2,185 314.7,185 315.1,185 315.6,185 316,185 316.5,185 316.9,185 317.4,185 317.8,185 318.3,185 318.7,185.1 319.1,185.1 319.6,185.1 320,185.1 320.5,185.1 320.9,185.1 321.4,185.1 321.8,185.1 322.3,185.1 322.7,185.1 323.2,185.1 323.6,185.1 324.1,185.1 324.5,185.1 325,185.1 325.4,185.1 325.9,185.1 326.3,185.2 326.8,185.2 327.2,185.2 327.7,185.2 328.1,185.2 328.5,185.2 329,185.2 329.4,185.2 329.9,185.2 330.3,185.2 330.8,185.2 331.2,185.2 331.7,185.2 332.1,185.2 332.6,185.2 333,185.2 333.5,185.2 333.9,185.3 334.4,185.3 334.8,185.3 335.3,185.3 335.7,185.3 336.2,185.3 336.6,185.3 337,185.3 337.5,185.3 337.9,185.3 338.4,185.3 338.8,185.3 339.3,185.3 339.7,185.3 340.2,185.3 340.6,185.3 341.1,185.4 341.5,185.4 342,185.4 342.4,185.4 342.9,185.4 343.3,185.4 343.8,185.4 344.2,185.4 344.7,185.4 345.1,185.4 345.6,185.4 346,185.4 346.4,185.4 346.9,185.4 347.3,185.4 347.8,185.4 348.2,185.5 348.7,185.5 349.1,185.5 349.6,185.5 350,185.5 350.5,185.5 350.9,185.5 351.4,185.5 351.8,185.5 352.3,185.5 352.7,185.5 353.2,185.5 353.6,185.5 354.1,185.6 354.5,185.6 354.9,185.6 355.4,185.6 355.8,185.6 356.3,185.6 356.7,185.6 357.2,185.6 357.6,185.6 358.1,185.6 358.5,185.7 359,185.7 359.4,185.7 359.9,185.7 360.3,185.7 360.8,185.7 361.2,185.7 361.7,185.8 362.1,185.8 362.6,185.8 363,185.8 363.5,185.8 363.9,185.9 364.3,185.9 364.8,185.9 365.2,185.9 365.7,186 366.1,186 366.6,186 367,186 367.5,186.1 367.9,186.1 368.4,186.1 368.8,186.2 369.3,186.2 369.7,186.2 370.2,186.3 370.6,186.3 371.1,186.3 371.5,186.4 372,186.4 372.4,186.4 372.9,186.5 373.3,186.5 373.7,186.5 374.2,186.6 374.6,186.6 375.1,186.6 375.5,186.7 376,186.7 376.4,186.7 376.9,186.8 377.3,186.8 377.8,186.8 378.2,186.9 378.7,186.9 379.1,186.9 379.6,187 380,187 380.5,187 380.9,187 381.4,187.1 381.8,187.1 382.2,187.1 382.7,187.1 383.1,187.2 383.6,187.2 384,187.2 384.5,187.2 384.9,187.2 385.4,187.2 385.8,187.2 386.3,187.3 386.7,187.3 387.2,187.3 387.6,187.3 388.1,187.3 388.5,187.3 389,187.3 389.4,187.3 389.9,187.4 390.3,187.4 390.8,187.4 391.2,187.4 391.6,187.4 392.1,187.4 392.5,187.4 393,187.4 393.4,187.4 393.9,187.5 394.3,187.5 394.8,187.5 395.2,187.5 395.7,187.5 396.1,187.5 396.6,187.5 397,187.6 397.5,187.6 397.9,187.6 398.4,187.6 398.8,187.6 399.3,187.7 399.7,187.7 400.1,187.7 400.6,187.8 401,187.8 401.5,187.8 401.9,187.8 402.4,187.9 402.8,187.9 403.3,188 403.7,188 404.2,188.1 404.6,188.1 405.1,188.2 405.5,188.2 406,188.3 406.4,188.3 406.9,188.4 407.3,188.4 407.8,188.5 408.2,188.6 408.7,188.6 409.1,188.7 409.5,188.7 410,188.8 410.4,188.9 410.9,188.9 411.3,189 411.8,189.1 412.2,189.1 412.7,189.2 413.1,189.3 413.6,189.3 414,189.4 414.5,189.5 414.9,189.5 415.4,189.6 415.8,189.6 416.3,189.7 416.7,189.7 417.2,189.8 417.6,189.8 418,189.8 418.5,189.9 418.9,189.9 419.4,190 419.8,190 420.3,190 420.7,190.1 421.2,190.1 421.6,190.1 422.1,190.1 422.5,190.2 423,190.2 423.4,190.2 423.9,190.2 424.3,190.2 424.8,190.2 425.2,190.3 425.7,190.3 426.1,190.3 426.6,190.3 427,190.3 427.4,190.3 427.9,190.3 428.3,190.3 428.8,190.3 429.2,190.4 429.7,190.4 430.1,190.4 430.6,190.4 431,190.4 431.5,190.4 431.9,190.4 432.4,190.4 432.8,190.4 433.3,190.4 433.7,190.4 434.2,190.4 434.6,190.4 435.1,190.4 435.5,190.4 435.9,190.4 436.4,190.4 436.8,190.4 437.3,190.4 437.7,190.4 438.2,190.4 438.6,190.4 439.1,190.4 439.5,190.4 440,190.4 440.4,190.4 440.9,190.4 441.3,190.4 441.8,190.4 442.2,190.4 442.7,190.4 443.1,190.4 443.6,190.4 444,190.4 444.5,190.4 444.9,190.4 445.3,190.4 445.8,190.4 446.2,190.4 446.7,190.4 447.1,190.4 447.6,190.4 448,190.4 448.5,190.4 448.9,190.4 449.4,190.4 449.8,190.4 450.3,190.4 450.7,190.4 451.2,190.4 451.6,190.4 452.1,190.4 452.5,190.4" fill="none" stroke="#8a8a8a" stroke-width="0.9"/>
<path d="M264,184a1.0,1.0 0 1,0 2.0,0a1.0,1.0 0 1,0 -2.0,0M265.2,185a1.0,1.0 0 1,0 2.0,0a1.0,1.0 0 1,0 -2.0,0M266.4,184a1.0,1.0 0 1,0 2.0,0a1.0,1.0 0 1,0 -2.0,0M267.6,183.9a1.0,1.0 0 1,0 2.0,0a1.0,1.0 0 1,0 -2.0,0M268.8,184.4a1.0,1.0 0 1,0 2.0,0a1.0,1.0 0 1,0 -2.0,0M270,184.9a1.0,1.0 0 1,0 2.0,0a1.0,1.0 0 1,0 -2.0,0M271.2,183.7a1.0,1.0 0 1,0 2.0,0a1.0,1.0 0 1,0 -2.0,0M272.4,184.2a1.0,1.0 0 1,0 2.0,0a1.0,1.0 0 1,0 -2.0,0M273.6,184a1.0,1.0 0 1,0 2.0,0a1.0,1.0 0 1,0 -2.0,0M274.8,183.5a1.0,1.0 0 1,0 2.0,0a1.0,1.0 0 1,0 -2.0,0M276,184.4a1.0,1.0 0 1,0 2.0,0a1.0,1.0 0 1,0 -2.0,0M277.2,184a1.0,1.0 0 1,0 2.0,0a1.0,1.0 0 1,0 -2.0,0M278.4,183.9a1.0,1.0 0 1,0 2.0,0a1.0,1.0 0 1,0 -2.0,0M279.6,183.4a1.0,1.0 0 1,0 2.0,0a1.0,1.0 0 1,0 -2.0,0M280.8,183.7a1.0,1.0 0 1,0 2.0,0a1.0,1.0 0 1,0 -2.0,0M282,183.1a1.0,1.0 0 1,0 2.0,0a1.0,1.0 0 1,0 -2.0,0M283.2,183a1.0,1.0 0 1,0 2.0,0a1.0,1.0 0 1,0 -2.0,0M284.4,182.4a1.0,1.0 0 1,0 2.0,0a1.0,1.0 0 1,0 -2.0,0M285.6,182a1.0,1.0 0 1,0 2.0,0a1.0,1.0 0 1,0 -2.0,0M286.8,182.7a1.0,1.0 0 1,0 2.0,0a1.0,1.0 0 1,0 -2.0,0M288,181.6a1.0,1.0 0 1,0 2.0,0a1.0,1.0 0 1,0 -2.0,0M289.2,181.5a1.0,1.0 0 1,0 2.0,0a1.0,1.0 0 1,0 -2.0,0M290.4,181a1.0,1.0 0 1,0 2.0,0a1.0,1.0 0 1,0 -2.0,0M291.6,180.4a1.0,1.0 0 1,0 2.0,0a1.0,1.0 0 1,0 -2.0,0M292.8,179.9a1.0,1.0 0 1,0 2.0,0a1.0,1.0 0 1,0 -2.0,0M294,180a1.0,1.0 0 1,0 2.0,0a1.0,1.0 0 1,0 -2.0,0M295.2,179.3a1.0,1.0 0 1,0 2.0,0a1.0,1.0 0 1,0 -2.0,0M296.4,179a1.0,1.0 0 1,0 2.0,0a1.0,1.0 0 1,0 -2.0,0M297.6,178.7a1.0,1.0 0 1,0 2.0,0a1.0,1.0 0 1,0 -2.0,0M298.8,178.9a1.0,1.0 0 1,0 2.0,0a1.0,1.0 0 1,0 -2.0,0M300,178.5a1.0,1.0 0 1,0 2.0,0a1.0,1.0 0 1,0 -2.0,0M301.2,178.2a1.0,1.0 0 1,0 2.0,0a1.0,1.0 0 1,0 -2.0,0M302.4,177.6a1.0,1.0 0 1,0 2.0,0a1.0,1.0 0 1,0 -2.0,0M303.6,177.2a1.0,1.0 0 1,0 2.0,0a1.0,1.0 0 1,0 -2.0,0M304.8,178.1a1.0,1.0 0 1,0 2.0,0a1.0,1.0 0 1,0 -2.0,0M306,178a1.0,1.0 0 1,0 2.0,0a1.0,1.0 0 1,0 -2.0,0M307.2,177.6a1.0,1.0 0 1,0 2.0,0a1.0,1.0 0 1,0 -2.0,0M308.4,177.9a1.0,1.0 0 1,0 2.0,0a1.0,1.0 0 1,0 -2.0,0M309.6,178.1a1.0,1.0 0 1,0 2.0,0a1.0,1.0 0 1,0 -2.0,0M310.8,178.3a1.0,1.0 0 1,0 2.0,0a1.0,1.0 0 1,0 -2.0,0M312,178.5a1.0,1.0 0 1,0 2.0,0a1.0,1.0 0 1,0 -2.0,0M313.2,178.2a1.0,1.0 0 1,0 2.0,0a1.0,1.0 0 1,0 -2.0,0M314.4,179.3a1.0,1.0 0 1,0 2.0,0a1.0,1.0 0 1,0 -2.0,0M315.6,178.5a1.0,1.0 0 1,0 2.0,0a1.0,1.0 0 1,0 -2.0,0M316.8,179.7a1.0,1.0 0 1,0 2.0,0a1.0,1.0 0 1,0 -2.0,0M318,179.9a1.0,1.0 0 1,0 2.0,0a1.0,1.0 0 1,0 -2.0,0M319.2,180.3a1.0,1.0 0 1,0 2.0,0a1.0,1.0 0 1,0 -2.0,0M320.4,181a1.0,1.0 0 1,0 2.0,0a1.0,1.0 0 1,0 -2.0,0M321.6,181.1a1.0,1.0 0 1,0 2.0,0a1.0,1.0 0 1,0 -2.0,0M322.8,180.3a1.0,1.0 0 1,0 2.0,0a1.0,1.0 0 1,0 -2.0,0M324,180.1a1.0,1.0 0 1,0 2.0,0a1.0,1.0 0 1,0 -2.0,0M325.2,181.2a1.0,1.0 0 1,0 2.0,0a1.0,1.0 0 1,0 -2.0,0M326.4,180.4a1.0,1.0 0 1,0 2.0,0a1.0,1.0 0 1,0 -2.0,0M327.6,180.6a1.0,1.0 0 1,0 2.0,0a1.0,1.0 0 1,0 -2.0,0M328.8,180.7a1.0,1.0 0 1,0 2.0,0a1.0,1.0 0 1,0 -2.0,0M330,179.5a1.0,1.0 0 1,0 2.0,0a1.0,1.0 0 1,0 -2.0,0M331.2,179a1.0,1.0 0 1,0 2.0,0a1.0,1.0 0 1,0 -2.0,0M332.4,179.6a1.0,1.0 0 1,0 2.0,0a1.0,1.0 0 1,0 -2.0,0M333.6,179.2a1.0,1.0 0 1,0 2.0,0a1.0,1.0 0 1,0 -2.0,0M334.8,178.7a1.0,1.0 0 1,0 2.0,0a1.0,1.0 0 1,0 -2.0,0M336,178.6a1.0,1.0 0 1,0 2.0,0a1.0,1.0 0 1,0 -2.0,0M337.2,178a1.0,1.0 0 1,0 2.0,0a1.0,1.0 0 1,0 -2.0,0M338.4,177.6a1.0,1.0 0 1,0 2.0,0a1.0,1.0 0 1,0 -2.0,0M339.6,178a1.0,1.0 0 1,0 2.0,0a1.0,1.0 0 1,0 -2.0,0M340.8,177.7a1.0,1.0 0 1,0 2.0,0a1.0,1.0 0 1,0 -2.0,0M342,177.5a1.0,1.0 0 1,0 2.0,0a1.0,1.0 0 1,0 -2.0,0M343.2,178.4a1.0,1.0 0 1,0 2.0,0a1.0,1.0 0 1,0 -2.0,0M344.4,178.3a1.0,1.0 0 1,0 2.0,0a1.0,1.0 0 1,0 -2.0,0M345.6,178.6a1.0,1.0 0 1,0 2.0,0a1.0,1.0 0 1,0 -2.0,0M346.8,178.1a1.0,1.0 0 1,0 2.0,0a1.0,1.0 0 1,0 -2.0,0M348,178.3a1.0,1.0 0 1,0 2.0,0a1.0,1.0 0 1,0 -2.0,0M349.2,178a1.0,1.0 0 1,0 2.0,0a1.0,1.0 0 1,0 -2.0,0M350.4,177.9a1.0,1.0 0 1,0 2.0,0a1.0,1.0 0 1,0 -2.0,0M351.6,178a1.0,1.0 0 1,0 2.0,0a1.0,1.0 0 1,0 -2.0,0M352.8,177.1a1.0,1.0 0 1,0 2.0,0a1.0,1.0 0 1,0 -2.0,0M354,176.9a1.0,1.0 0 1,0 2.0,0a1.0,1.0 0 1,0 -2.0,0M355.2,176.1a1.0,1.0 0 1,0 2.0,0a1.0,1.0 0 1,0 -2.0,0M356.4,176a1.0,1.0 0 1,0 2.0,0a1.0,1.0 0 1,0 -2.0,0M357.6,173.8a1.0,1.0 0 1,0 2.0,0a1.0,1.0 0 1,0 -2.0,0M358.8,173.9a1.0,1.0 0 1,0 2.0,0a1.0,1.0 0 1,0 -2.0,0M360,172.7a1.0,1.0 0 1,0 2.0,0a1.0,1.0 0 1,0 -2.0,0M361.2,171.9a1.0,1.0 0 1,0 2.0,0a1.0,1.0 0 1,0 -2.0,0M362.4,170.4a1.0,1.0 0 1,0 2.0,0a1.0,1.0 0 1,0 -2.0,0M363.6,169.5a1.0,1.0 0 1,0 2.0,0a1.0,1.0 0 1,0 -2.0,0M364.8,167.9a1.0,1.0 0 1,0 2.0,0a1.0,1.0 0 1,0 -2.0,0M366,164.3a1.0,1.0 0 1,0 2.0,0a1.0,1.0 0 1,0 -2.0,0M367.2,159.5a1.0,1.0 0 1,0 2.0,0a1.0,1.0 0 1,0 -2.0,0M368.4,152.9a1.0,1.0 0 1,0 2.0,0a1.0,1.0 0 1,0 -2.0,0M369.6,145.7a1.0,1.0 0 1,0 2.0,0a1.0,1.0 0 1,0 -2.0,0M370.8,137.3a1.0,1.0 0 1,0 2.0,0a1.0,1.0 0 1,0 -2.0,0M372,129.7a1.0,1.0 0 1,0 2.0,0a1.0,1.0 0 1,0 -2.0,0M373.2,126.9a1.0,1.0 0 1,0 2.0,0a1.0,1.0 0 1,0 -2.0,0M374.4,127.6a1.0,1.0 0 1,0 2.0,0a1.0,1.0 0 1,0 -2.0,0M375.6,132.6a1.0,1.0 0 1,0 2.0,0a1.0,1.0 0 1,0 -2.0,0M376.8,142.2a1.0,1.0 0 1,0 2.0,0a1.0,1.0 0 1,0 -2.0,0M378,152.4a1.0,1.0 0 1,0 2.0,0a1.0,1.0 0 1,0 -2.0,0M379.2,160.7a1.0,1.0 0 1,0 2.0,0a1.0,1.0 0 1,0 -2.0,0M380.4,167.6a1.0,1.0 0 1,0 2.0,0a1.0,1.0 0 1,0 -2.0,0M381.6,173.1a1.0,1.0 0 1,0 2.0,0a1.0,1.0 0 1,0 -2.0,0M382.8,177.5a1.0,1.0 0 1,0 2.0,0a1.0,1.0 0 1,0 -2.0,0M384,179.1a1.0,1.0 0 1,0 2.0,0a1.0,1.0 0 1,0 -2.0,0M385.2,180a1.0,1.0 0 1,0 2.0,0a1.0,1.0 0 1,0 -2.0,0M386.4,180.2a1.0,1.0 0 1,0 2.0,0a1.0,1.0 0 1,0 -2.0,0M387.6,179.8a1.0,1.0 0 1,0 2.0,0a1.0,1.0 0 1,0 -2.0,0M388.8,179.5a1.0,1.0 0 1,0 2.0,0a1.0,1.0 0 1,0 -2.0,0M390,178.5a1.0,1.0 0 1,0 2.0,0a1.0,1.0 0 1,0 -2.0,0M391.2,177.3a1.0,1.0 0 1,0 2.0,0a1.0,1.0 0 1,0 -2.0,0M392.4,175.7a1.0,1.0 0 1,0 2.0,0a1.0,1.0 0 1,0 -2.0,0M393.6,175.2a1.0,1.0 0 1,0 2.0,0a1.0,1.0 0 1,0 -2.0,0M394.8,173.8a1.0,1.0 0 1,0 2.0,0a1.0,1.0 0 1,0 -2.0,0M396,173.5a1.0,1.0 0 1,0 2.0,0a1.0,1.0 0 1,0 -2.0,0M397.2,171.6a1.0,1.0 0 1,0 2.0,0a1.0,1.0 0 1,0 -2.0,0M398.4,170.9a1.0,1.0 0 1,0 2.0,0a1.0,1.0 0 1,0 -2.0,0M399.6,169.3a1.0,1.0 0 1,0 2.0,0a1.0,1.0 0 1,0 -2.0,0M400.8,165.9a1.0,1.0 0 1,0 2.0,0a1.0,1.0 0 1,0 -2.0,0M402,162.5a1.0,1.0 0 1,0 2.0,0a1.0,1.0 0 1,0 -2.0,0M403.2,155.6a1.0,1.0 0 1,0 2.0,0a1.0,1.0 0 1,0 -2.0,0M404.4,145.6a1.0,1.0 0 1,0 2.0,0a1.0,1.0 0 1,0 -2.0,0M405.6,134.9a1.0,1.0 0 1,0 2.0,0a1.0,1.0 0 1,0 -2.0,0M406.8,123.2a1.0,1.0 0 1,0 2.0,0a1.0,1.0 0 1,0 -2.0,0M408,112.3a1.0,1.0 0 1,0 2.0,0a1.0,1.0 0 1,0 -2.0,0M409.2,108.2a1.0,1.0 0 1,0 2.0,0a1.0,1.0 0 1,0 -2.0,0M410.4,109.4a1.0,1.0 0 1,0 2.0,0a1.0,1.0 0 1,0 -2.0,0M411.6,117.2a1.0,1.0 0 1,0 2.0,0a1.0,1.0 0 1,0 -2.0,0M412.8,128.6a1.0,1.0 0 1,0 2.0,0a1.0,1.0 0 1,0 -2.0,0M414,142.3a1.0,1.0 0 1,0 2.0,0a1.0,1.0 0 1,0 -2.0,0M415.2,155a1.0,1.0 0 1,0 2.0,0a1.0,1.0 0 1,0 -2.0,0M416.4,166a1.0,1.0 0 1,0 2.0,0a1.0,1.0 0 1,0 -2.0,0M417.6,173.6a1.0,1.0 0 1,0 2.0,0a1.0,1.0 0 1,0 -2.0,0M418.8,179a1.0,1.0 0 1,0 2.0,0a1.0,1.0 0 1,0 -2.0,0M420,183.1a1.0,1.0 0 1,0 2.0,0a1.0,1.0 0 1,0 -2.0,0M421.2,184.5a1.0,1.0 0 1,0 2.0,0a1.0,1.0 0 1,0 -2.0,0M422.4,185.9a1.0,1.0 0 1,0 2.0,0a1.0,1.0 0 1,0 -2.0,0M423.6,186.2a1.0,1.0 0 1,0 2.0,0a1.0,1.0 0 1,0 -2.0,0M424.8,188.1a1.0,1.0 0 1,0 2.0,0a1.0,1.0 0 1,0 -2.0,0M426,188.3a1.0,1.0 0 1,0 2.0,0a1.0,1.0 0 1,0 -2.0,0M427.2,188.6a1.0,1.0 0 1,0 2.0,0a1.0,1.0 0 1,0 -2.0,0M428.4,188.8a1.0,1.0 0 1,0 2.0,0a1.0,1.0 0 1,0 -2.0,0M429.6,188.8a1.0,1.0 0 1,0 2.0,0a1.0,1.0 0 1,0 -2.0,0M430.8,189.1a1.0,1.0 0 1,0 2.0,0a1.0,1.0 0 1,0 -2.0,0M432,189.1a1.0,1.0 0 1,0 2.0,0a1.0,1.0 0 1,0 -2.0,0M433.2,189.2a1.0,1.0 0 1,0 2.0,0a1.0,1.0 0 1,0 -2.0,0M434.4,189.5a1.0,1.0 0 1,0 2.0,0a1.0,1.0 0 1,0 -2.0,0M435.6,190.2a1.0,1.0 0 1,0 2.0,0a1.0,1.0 0 1,0 -2.0,0M436.8,189.9a1.0,1.0 0 1,0 2.0,0a1.0,1.0 0 1,0 -2.0,0M438,189.7a1.0,1.0 0 1,0 2.0,0a1.0,1.0 0 1,0 -2.0,0M439.2,189.6a1.0,1.0 0 1,0 2.0,0a1.0,1.0 0 1,0 -2.0,0M440.4,189.6a1.0,1.0 0 1,0 2.0,0a1.0,1.0 0 1,0 -2.0,0M441.6,190.6a1.0,1.0 0 1,0 2.0,0a1.0,1.0 0 1,0 -2.0,0M442.8,190.2a1.0,1.0 0 1,0 2.0,0a1.0,1.0 0 1,0 -2.0,0M444,190a1.0,1.0 0 1,0 2.0,0a1.0,1.0 0 1,0 -2.0,0M445.2,189.9a1.0,1.0 0 1,0 2.0,0a1.0,1.0 0 1,0 -2.0,0M446.4,189.6a1.0,1.0 0 1,0 2.0,0a1.0,1.0 0 1,0 -2.0,0M447.6,190.1a1.0,1.0 0 1,0 2.0,0a1.0,1.0 0 1,0 -2.0,0M448.8,190.5a1.0,1.0 0 1,0 2.0,0a1.0,1.0 0 1,0 -2.0,0M450,190a1.0,1.0 0 1,0 2.0,0a1.0,1.0 0 1,0 -2.0,0M451.2,190.1a1.0,1.0 0 1,0 2.0,0a1.0,1.0 0 1,0 -2.0,0" fill="#3a3a3a" stroke="#3a3a3a" stroke-width="0.4"/>
<path d="M265,184.6 265.4,184.6 265.9,184.6 266.3,184.6 266.8,184.6 267.2,184.6 267.7,184.6 268.1,184.6 268.6,184.6 269,184.6 269.5,184.6 269.9,184.6 270.4,184.6 270.8,184.6 271.3,184.6 271.7,184.6 272.2,184.6 272.6,184.6 273.1,184.6 273.5,184.6 274,184.5 274.4,184.5 274.8,184.5 275.3,184.5 275.7,184.5 276.2,184.5 276.6,184.4 277.1,184.4 277.5,184.4 278,184.3 278.4,184.3 278.9,184.2 279.3,184.2 279.8,184.1 280.2,184.1 280.7,184 281.1,184 281.6,183.9 282,183.8 282.5,183.7 282.9,183.7 283.3,183.6 283.8,183.5 284.2,183.4 284.7,183.3 285.1,183.2 285.6,183.1 286,183 286.5,182.8 286.9,182.7 287.4,182.6 287.8,182.4 288.3,182.3 288.7,182.2 289.2,182 289.6,181.9 290.1,181.7 290.5,181.6 291,181.4 291.4,181.3 291.9,181.1 292.3,181 292.7,180.8 293.2,180.7 293.6,180.5 294.1,180.4 294.5,180.2 295,180.1 295.4,179.9 295.9,179.8 296.3,179.6 296.8,179.5 297.2,179.4 297.7,179.3 298.1,179.1 298.6,179 299,178.9 299.5,178.8 299.9,178.7 300.4,178.6 300.8,178.5 301.2,178.5 301.7,178.4 302.1,178.3 302.6,178.3 303,178.2 303.5,178.2 303.9,178.1 304.4,178.1 304.8,178 305.3,178 305.7,178 306.2,178 306.6,178 307.1,177.9 307.5,177.9 308,178 308.4,178 308.9,178 309.3,178 309.8,178 310.2,178.1 310.6,178.1 311.1,178.2 311.5,178.2 312,178.3 312.4,178.4 312.9,178.4 313.3,178.5 313.8,178.6 314.2,178.7 314.7,178.8 315.1,178.9 315.6,179 316,179.1 316.5,179.3 316.9,179.4 317.4,179.5 317.8,179.6 318.3,179.8 318.7,179.9 319.1,180 319.6,180.1 320,180.3 320.5,180.4 320.9,180.5 321.4,180.6 321.8,180.7 322.3,180.8 322.7,180.9 323.2,180.9 323.6,181 324.1,181 324.5,181.1 325,181.1 325.4,181.1 325.9,181.1 326.3,181.1 326.8,181.1 327.2,181.1 327.7,181 328.1,181 328.5,180.9 329,180.9 329.4,180.8 329.9,180.7 330.3,180.6 330.8,180.5 331.2,180.4 331.7,180.3 332.1,180.1 332.6,180 333,179.9 333.5,179.8 333.9,179.6 334.4,179.5 334.8,179.4 335.3,179.3 335.7,179.2 336.2,179.1 336.6,179 337,178.9 337.5,178.8 337.9,178.7 338.4,178.6 338.8,178.6 339.3,178.5 339.7,178.5 340.2,178.4 340.6,178.4 341.1,178.4 341.5,178.4 342,178.4 342.4,178.4 342.9,178.4 343.3,178.4 343.8,178.5 344.2,178.5 344.7,178.5 345.1,178.6 345.6,178.6 346,178.7 346.4,178.7 346.9,178.7 347.3,178.8 347.8,178.8 348.2,178.8 348.7,178.8 349.1,178.8 349.6,178.8 350,178.8 350.5,178.7 350.9,178.6 351.4,178.5 351.8,178.4 352.3,178.3 352.7,178.1 353.2,178 353.6,177.8 354.1,177.6 354.5,177.3 354.9,177.1 355.4,176.8 355.8,176.5 356.3,176.2 356.7,175.9 357.2,175.6 357.6,175.3 358.1,175 358.5,174.7 359,174.4 359.4,174.1 359.9,173.8 360.3,173.5 360.8,173.2 361.2,172.9 361.7,172.6 362.1,172.3 362.6,171.9 363,171.6 363.5,171.2 363.9,170.8 364.3,170.3 364.8,169.7 365.2,169 365.7,168.1 366.1,167.1 366.6,165.9 367,164.5 367.5,162.9 367.9,161 368.4,158.9 368.8,156.6 369.3,154.1 369.7,151.3 370.2,148.5 370.6,145.5 371.1,142.4 371.5,139.4 372,136.6 372.4,133.9 372.9,131.6 373.3,129.6 373.7,128.2 374.2,127.4 374.6,127.3 375.1,127.8 375.5,129 376,130.8 376.4,133.2 376.9,136 377.3,139.1 377.8,142.5 378.2,146 378.7,149.5 379.1,153.1 379.6,156.5 380,159.7 380.5,162.8 380.9,165.6 381.4,168.1 381.8,170.4 382.2,172.4 382.7,174.1 383.1,175.6 383.6,176.8 384,177.9 384.5,178.7 384.9,179.3 385.4,179.8 385.8,180.1 386.3,180.3 386.7,180.5 387.2,180.5 387.6,180.5 388.1,180.3 388.5,180.2 389,180 389.4,179.7 389.9,179.4 390.3,179.1 390.8,178.7 391.2,178.4 391.6,178 392.1,177.6 392.5,177.2 393,176.8 393.4,176.4 393.9,176 394.3,175.6 394.8,175.2 395.2,174.8 395.7,174.4 396.1,174.1 396.6,173.7 397,173.4 397.5,173 397.9,172.7 398.4,172.3 398.8,171.9 399.3,171.5 399.7,170.9 400.1,170.3 400.6,169.6 401,168.7 401.5,167.6 401.9,166.3 402.4,164.8 402.8,162.9 403.3,160.8 403.7,158.3 404.2,155.5 404.6,152.3 405.1,148.8 405.5,145 406,141 406.4,136.7 406.9,132.4 407.3,128 407.8,123.8 408.2,119.7 408.7,116.1 409.1,112.9 409.5,110.5 410,108.8 410.4,108 410.9,108.2 411.3,109.4 411.8,111.5 412.2,114.4 412.7,118.1 413.1,122.3 413.6,126.9 414,131.8 414.5,136.8 414.9,141.8 415.4,146.7 415.8,151.4 416.3,155.9 416.7,160.1 417.2,163.9 417.6,167.4 418,170.5 418.5,173.2 418.9,175.6 419.4,177.7 419.8,179.4 420.3,180.9 420.7,182.2 421.2,183.2 421.6,184.1 422.1,184.8 422.5,185.4 423,185.9 423.4,186.4 423.9,186.7 424.3,187 424.8,187.3 425.2,187.5 425.7,187.7 426.1,187.9 426.6,188.1 427,188.2 427.4,188.3 427.9,188.5 428.3,188.6 428.8,188.7 429.2,188.8 429.7,188.9 430.1,189 430.6,189.1 431,189.2 431.5,189.2 431.9,189.3 432.4,189.4 432.8,189.4 433.3,189.5 433.7,189.6 434.2,189.6 434.6,189.7 435.1,189.7 435.5,189.8 435.9,189.8 436.4,189.8 436.8,189.9 437.3,189.9 437.7,190 438.2,190 438.6,190 439.1,190 439.5,190.1 440,190.1 440.4,190.1 440.9,190.1 441.3,190.2 441.8,190.2 442.2,190.2 442.7,190.2 443.1,190.2 443.6,190.3 444,190.3 444.5,190.3 444.9,190.3 445.3,190.3 445.8,190.3 446.2,190.3 446.7,190.3 447.1,190.4 447.6,190.4 448,190.4 448.5,190.4 448.9,190.4 449.4,190.4 449.8,190.4 450.3,190.4 450.7,190.4 451.2,190.4 451.6,190.4 452.1,190.4 452.5,190.5" fill="none" stroke="#ee1c1c" stroke-width="1.25" stroke-linejoin="round"/>
<text x="273" y="171.4" font-size="8.45" text-anchor="start" font-weight="normal" font-style="normal" fill="#231f20" stroke="#231f20" stroke-width="0.22" >As produced WSe<tspan font-size="6.2" dy="2">2</tspan></text>
<line x1="359.4" y1="10" x2="359.4" y2="93" stroke="#d4239b" stroke-width="1.0" stroke-dasharray="2,1.05"/>
<line x1="359.4" y1="102" x2="359.4" y2="188" stroke="#d4239b" stroke-width="1.0" stroke-dasharray="2,1.05"/>
<line x1="395.3" y1="10" x2="395.3" y2="93" stroke="#d4239b" stroke-width="1.0" stroke-dasharray="2,1.05"/>
<line x1="395.3" y1="102" x2="395.3" y2="188" stroke="#d4239b" stroke-width="1.0" stroke-dasharray="2,1.05"/>
<line x1="373.8" y1="10" x2="373.8" y2="93" stroke="#4a6fc4" stroke-width="1.0" stroke-dasharray="2,1.05"/>
<line x1="373.8" y1="102" x2="373.8" y2="188" stroke="#4a6fc4" stroke-width="1.0" stroke-dasharray="2,1.05"/>
<line x1="410.6" y1="10" x2="410.6" y2="93" stroke="#4a6fc4" stroke-width="1.0" stroke-dasharray="2,1.05"/>
<line x1="410.6" y1="102" x2="410.6" y2="188" stroke="#4a6fc4" stroke-width="1.0" stroke-dasharray="2,1.05"/>
<text x="361" y="23" font-size="8.8" text-anchor="start" font-weight="normal" font-style="normal" fill="#d4239b" stroke="#d4239b" stroke-width="0.22" >2H</text>
<text x="397.4" y="23" font-size="8.8" text-anchor="start" font-weight="normal" font-style="normal" fill="#d4239b" stroke="#d4239b" stroke-width="0.22" >2H</text>
<text x="428.5" y="23" font-size="8.8" text-anchor="start" font-weight="normal" font-style="normal" fill="#231f20" stroke="#231f20" stroke-width="0.22" >W 4<tspan font-style="italic">f</tspan></text>
<text x="378" y="113.8" font-size="8.8" text-anchor="start" font-weight="normal" font-style="normal" fill="#4a6fc4" stroke="#4a6fc4" stroke-width="0.22" >1T'</text>
<text x="416.9" y="113.8" font-size="8.8" text-anchor="start" font-weight="normal" font-style="normal" fill="#4a6fc4" stroke="#4a6fc4" stroke-width="0.22" >1T'</text>
<rect x="265" y="9.5" width="186.5" height="185.5" fill="none" stroke="#3a3a3a" stroke-width="0.9"/>
<line x1="265" y1="9.96" x2="267.5" y2="9.96" stroke="#3a3a3a" stroke-width="0.8" />
<text x="261.2" y="13.46" font-size="10" text-anchor="end" font-weight="normal" font-style="normal" fill="#231f20" stroke="#231f20" stroke-width="0.22" >36</text>
<line x1="265" y1="30.52" x2="267.5" y2="30.52" stroke="#3a3a3a" stroke-width="0.8" />
<text x="261.2" y="34.02" font-size="10" text-anchor="end" font-weight="normal" font-style="normal" fill="#231f20" stroke="#231f20" stroke-width="0.22" >32</text>
<line x1="265" y1="51.08" x2="267.5" y2="51.08" stroke="#3a3a3a" stroke-width="0.8" />
<text x="261.2" y="54.58" font-size="10" text-anchor="end" font-weight="normal" font-style="normal" fill="#231f20" stroke="#231f20" stroke-width="0.22" >28</text>
<line x1="265" y1="71.64" x2="267.5" y2="71.64" stroke="#3a3a3a" stroke-width="0.8" />
<text x="261.2" y="75.14" font-size="10" text-anchor="end" font-weight="normal" font-style="normal" fill="#231f20" stroke="#231f20" stroke-width="0.22" >24</text>
<line x1="265" y1="92.2" x2="267.5" y2="92.2" stroke="#3a3a3a" stroke-width="0.8" />
<text x="261.2" y="95.7" font-size="10" text-anchor="end" font-weight="normal" font-style="normal" fill="#231f20" stroke="#231f20" stroke-width="0.22" >20</text>
<line x1="265" y1="112.76" x2="267.5" y2="112.76" stroke="#3a3a3a" stroke-width="0.8" />
<text x="261.2" y="116.26" font-size="10" text-anchor="end" font-weight="normal" font-style="normal" fill="#231f20" stroke="#231f20" stroke-width="0.22" >16</text>
<line x1="265" y1="133.32" x2="267.5" y2="133.32" stroke="#3a3a3a" stroke-width="0.8" />
<text x="261.2" y="136.82" font-size="10" text-anchor="end" font-weight="normal" font-style="normal" fill="#231f20" stroke="#231f20" stroke-width="0.22" >12</text>
<line x1="265" y1="153.88" x2="267.5" y2="153.88" stroke="#3a3a3a" stroke-width="0.8" />
<text x="261.2" y="157.38" font-size="10" text-anchor="end" font-weight="normal" font-style="normal" fill="#231f20" stroke="#231f20" stroke-width="0.22" >8</text>
<line x1="265" y1="174.44" x2="267.5" y2="174.44" stroke="#3a3a3a" stroke-width="0.8" />
<text x="261.2" y="177.94" font-size="10" text-anchor="end" font-weight="normal" font-style="normal" fill="#231f20" stroke="#231f20" stroke-width="0.22" >4</text>
<line x1="265" y1="195" x2="267.5" y2="195" stroke="#3a3a3a" stroke-width="0.8" />
<text x="261.2" y="198.5" font-size="10" text-anchor="end" font-weight="normal" font-style="normal" fill="#231f20" stroke="#231f20" stroke-width="0.22" >0</text>
<line x1="265" y1="20.24" x2="266.6" y2="20.24" stroke="#3a3a3a" stroke-width="0.8" />
<line x1="265" y1="40.8" x2="266.6" y2="40.8" stroke="#3a3a3a" stroke-width="0.8" />
<line x1="265" y1="61.36" x2="266.6" y2="61.36" stroke="#3a3a3a" stroke-width="0.8" />
<line x1="265" y1="81.92" x2="266.6" y2="81.92" stroke="#3a3a3a" stroke-width="0.8" />
<line x1="265" y1="102.48" x2="266.6" y2="102.48" stroke="#3a3a3a" stroke-width="0.8" />
<line x1="265" y1="123.04" x2="266.6" y2="123.04" stroke="#3a3a3a" stroke-width="0.8" />
<line x1="265" y1="143.6" x2="266.6" y2="143.6" stroke="#3a3a3a" stroke-width="0.8" />
<line x1="265" y1="164.16" x2="266.6" y2="164.16" stroke="#3a3a3a" stroke-width="0.8" />
<line x1="265" y1="184.72" x2="266.6" y2="184.72" stroke="#3a3a3a" stroke-width="0.8" />
<line x1="265" y1="195" x2="265" y2="192.5" stroke="#3a3a3a" stroke-width="0.8" />
<text x="265" y="207.6" font-size="10" text-anchor="middle" font-weight="normal" font-style="normal" fill="#231f20" stroke="#231f20" stroke-width="0.22" >40</text>
<line x1="299.5" y1="195" x2="299.5" y2="192.5" stroke="#3a3a3a" stroke-width="0.8" />
<text x="299.5" y="207.6" font-size="10" text-anchor="middle" font-weight="normal" font-style="normal" fill="#231f20" stroke="#231f20" stroke-width="0.22" >38</text>
<line x1="334" y1="195" x2="334" y2="192.5" stroke="#3a3a3a" stroke-width="0.8" />
<text x="334" y="207.6" font-size="10" text-anchor="middle" font-weight="normal" font-style="normal" fill="#231f20" stroke="#231f20" stroke-width="0.22" >36</text>
<line x1="368.5" y1="195" x2="368.5" y2="192.5" stroke="#3a3a3a" stroke-width="0.8" />
<text x="368.5" y="207.6" font-size="10" text-anchor="middle" font-weight="normal" font-style="normal" fill="#231f20" stroke="#231f20" stroke-width="0.22" >34</text>
<line x1="403" y1="195" x2="403" y2="192.5" stroke="#3a3a3a" stroke-width="0.8" />
<text x="403" y="207.6" font-size="10" text-anchor="middle" font-weight="normal" font-style="normal" fill="#231f20" stroke="#231f20" stroke-width="0.22" >32</text>
<line x1="437.5" y1="195" x2="437.5" y2="192.5" stroke="#3a3a3a" stroke-width="0.8" />
<text x="437.5" y="207.6" font-size="10" text-anchor="middle" font-weight="normal" font-style="normal" fill="#231f20" stroke="#231f20" stroke-width="0.22" >30</text>
<line x1="282.25" y1="195" x2="282.25" y2="193.4" stroke="#3a3a3a" stroke-width="0.8" />
<line x1="316.75" y1="195" x2="316.75" y2="193.4" stroke="#3a3a3a" stroke-width="0.8" />
<line x1="351.25" y1="195" x2="351.25" y2="193.4" stroke="#3a3a3a" stroke-width="0.8" />
<line x1="385.75" y1="195" x2="385.75" y2="193.4" stroke="#3a3a3a" stroke-width="0.8" />
<line x1="420.25" y1="195" x2="420.25" y2="193.4" stroke="#3a3a3a" stroke-width="0.8" />
<text x="358.4" y="221" font-size="9.8" text-anchor="middle" font-weight="normal" font-style="normal" fill="#231f20" stroke="#231f20" stroke-width="0.22" >Binding energy (eV)</text>
<text x="242.7" y="102.6" font-size="9.8" text-anchor="middle" font-weight="normal" font-style="normal" fill="#231f20" stroke="#231f20" stroke-width="0.22" transform="rotate(-90 242.7 102.6)">Intensity (× 10<tspan font-size="6.5" dy="-3.8">3</tspan><tspan dy="3.8">, cts)</tspan></text>
<text x="463.8" y="10.4" font-size="15" text-anchor="start" font-weight="bold" font-style="normal" fill="#231f20" stroke="#231f20" stroke-width="0.0" >c</text>
<path d="M505.1,90.7 505.6,90.7 506,90.7 506.4,90.7 506.9,90.7 507.3,90.7 507.8,90.7 508.2,90.7 508.7,90.7 509.1,90.7 509.5,90.7 510,90.6 510.4,90.6 510.9,90.6 511.3,90.6 511.8,90.6 512.2,90.6 512.7,90.6 513.1,90.6 513.5,90.6 514,90.6 514.4,90.6 514.9,90.6 515.3,90.6 515.8,90.6 516.2,90.6 516.7,90.6 517.1,90.6 517.5,90.6 518,90.6 518.4,90.6 518.9,90.6 519.3,90.6 519.8,90.6 520.2,90.6 520.7,90.6 521.1,90.6 521.5,90.6 522,90.6 522.4,90.6 522.9,90.6 523.3,90.6 523.8,90.6 524.2,90.6 524.7,90.6 525.1,90.6 525.5,90.6 526,90.6 526.4,90.6 526.9,90.6 527.3,90.6 527.8,90.6 528.2,90.6 528.6,90.6 529.1,90.6 529.5,90.6 530,90.6 530.4,90.6 530.9,90.6 531.3,90.6 531.8,90.6 532.2,90.6 532.6,90.6 533.1,90.6 533.5,90.6 534,90.6 534.4,90.6 534.9,90.6 535.3,90.6 535.8,90.6 536.2,90.6 536.6,90.6 537.1,90.6 537.5,90.5 538,90.5 538.4,90.5 538.9,90.5 539.3,90.5 539.8,90.5 540.2,90.5 540.6,90.5 541.1,90.5 541.5,90.4 542,90.4 542.4,90.4 542.9,90.4 543.3,90.3 543.8,90.3 544.2,90.3 544.6,90.2 545.1,90.2 545.5,90.2 546,90.1 546.4,90.1 546.9,90 547.3,89.9 547.7,89.9 548.2,89.8 548.6,89.7 549.1,89.6 549.5,89.5 550,89.4 550.4,89.3 550.9,89.2 551.3,89 551.7,88.9 552.2,88.7 552.6,88.6 553.1,88.4 553.5,88.2 554,88 554.4,87.7 554.9,87.5 555.3,87.2 555.7,86.9 556.2,86.6 556.6,86.3 557.1,86 557.5,85.6 558,85.2 558.4,84.8 558.9,84.4 559.3,84 559.7,83.5 560.2,83 560.6,82.4 561.1,81.9 561.5,81.3 562,80.7 562.4,80.1 562.9,79.4 563.3,78.7 563.7,78 564.2,77.3 564.6,76.5 565.1,75.7 565.5,74.9 566,74.1 566.4,73.2 566.8,72.3 567.3,71.4 567.7,70.5 568.2,69.5 568.6,68.6 569.1,67.6 569.5,66.6 570,65.6 570.4,64.6 570.8,63.6 571.3,62.6 571.7,61.6 572.2,60.6 572.6,59.6 573.1,58.6 573.5,57.6 574,56.6 574.4,55.6 574.8,54.7 575.3,53.7 575.7,52.8 576.2,52 576.6,51.1 577.1,50.3 577.5,49.5 578,48.8 578.4,48.1 578.8,47.5 579.3,46.9 579.7,46.3 580.2,45.8 580.6,45.4 581.1,45 581.5,44.7 581.9,44.4 582.4,44.2 582.8,44.1 583.3,44 583.7,44 584.2,44 584.6,44.1 585.1,44.3 585.5,44.5 585.9,44.8 586.4,45.1 586.8,45.6 587.3,46 587.7,46.5 588.2,47.1 588.6,47.7 589.1,48.4 589.5,49.1 589.9,49.9 590.4,50.7 590.8,51.5 591.3,52.4 591.7,53.3 592.2,54.2 592.6,55.2 593.1,56.2 593.5,57.2 593.9,58.2 594.4,59.2 594.8,60.2 595.3,61.3 595.7,62.3 596.2,63.4 596.6,64.4 597.1,65.5 597.5,66.5 597.9,67.5 598.4,68.6 598.8,69.6 599.3,70.6 599.7,71.5 600.2,72.5 600.6,73.4 601,74.3 601.5,75.2 601.9,76.1 602.4,77 602.8,77.8 603.3,78.6 603.7,79.4 604.2,80.1 604.6,80.8 605,81.5 605.5,82.2 605.9,82.8 606.4,83.5 606.8,84 607.3,84.6 607.7,85.1 608.2,85.6 608.6,86.1 609,86.6 609.5,87 609.9,87.4 610.4,87.8 610.8,88.2 611.3,88.6 611.7,88.9 612.2,89.2 612.6,89.5 613,89.8 613.5,90 613.9,90.3 614.4,90.5 614.8,90.7 615.3,90.9 615.7,91.1 616.2,91.2 616.6,91.4 617,91.6 617.5,91.7 617.9,91.8 618.4,91.9 618.8,92 619.3,92.2 619.7,92.2 620.1,92.3 620.6,92.4 621,92.5 621.5,92.6 621.9,92.6 622.4,92.7 622.8,92.8 623.3,92.8 623.7,92.9 624.1,92.9 624.6,92.9 625,93 625.5,93 625.9,93.1 626.4,93.1 626.8,93.1 627.3,93.2 627.7,93.2 628.1,93.2 628.6,93.2 629,93.3 629.5,93.3 629.9,93.3 630.4,93.3 630.8,93.3 631.3,93.4 631.7,93.4 632.1,93.4 632.6,93.4 633,93.4 633.5,93.4 633.9,93.4 634.4,93.5 634.8,93.5 635.3,93.5 635.7,93.5 636.1,93.5 636.6,93.5 637,93.5 637.5,93.5 637.9,93.6 638.4,93.6 638.8,93.6 639.2,93.6 639.7,93.6 640.1,93.6 640.6,93.6 641,93.6 641.5,93.6 641.9,93.6 642.4,93.6 642.8,93.7 643.2,93.7 643.7,93.7 644.1,93.7 644.6,93.7 645,93.7 645.5,93.7 645.9,93.7 646.4,93.7 646.8,93.7 647.2,93.7 647.7,93.7 648.1,93.7 648.6,93.7 649,93.8 649.5,93.8 649.9,93.8 650.4,93.8 650.8,93.8 651.2,93.8 651.7,93.8 652.1,93.8 652.6,93.8 653,93.8 653.5,93.8 653.9,93.8 654.4,93.8 654.8,93.8 655.2,93.8 655.7,93.8 656.1,93.8 656.6,93.8 657,93.8 657.5,93.8 657.9,93.8 658.3,93.8 658.8,93.8 659.2,93.9 659.7,93.9 660.1,93.9 660.6,93.9 661,93.9 661.5,93.9 661.9,93.9 662.3,93.9 L662.3,94 L661.9,94 L661.5,94 L661,93.9 L660.6,93.9 L660.1,93.9 L659.7,93.9 L659.2,93.9 L658.8,93.9 L658.3,93.9 L657.9,93.9 L657.5,93.9 L657,93.9 L656.6,93.9 L656.1,93.9 L655.7,93.9 L655.2,93.9 L654.8,93.9 L654.4,93.9 L653.9,93.9 L653.5,93.9 L653,93.9 L652.6,93.9 L652.1,93.9 L651.7,93.9 L651.2,93.9 L650.8,93.9 L650.4,93.9 L649.9,93.9 L649.5,93.9 L649,93.9 L648.6,93.9 L648.1,93.9 L647.7,93.9 L647.2,93.8 L646.8,93.8 L646.4,93.8 L645.9,93.8 L645.5,93.8 L645,93.8 L644.6,93.8 L644.1,93.8 L643.7,93.8 L643.2,93.8 L642.8,93.8 L642.4,93.8 L641.9,93.8 L641.5,93.8 L641,93.8 L640.6,93.8 L640.1,93.8 L639.7,93.7 L639.2,93.7 L638.8,93.7 L638.4,93.7 L637.9,93.7 L637.5,93.7 L637,93.7 L636.6,93.7 L636.1,93.7 L635.7,93.7 L635.3,93.7 L634.8,93.7 L634.4,93.7 L633.9,93.6 L633.5,93.6 L633,93.6 L632.6,93.6 L632.1,93.6 L631.7,93.6 L631.3,93.6 L630.8,93.6 L630.4,93.6 L629.9,93.6 L629.5,93.5 L629,93.5 L628.6,93.5 L628.1,93.5 L627.7,93.5 L627.3,93.5 L626.8,93.5 L626.4,93.5 L625.9,93.5 L625.5,93.4 L625,93.4 L624.6,93.4 L624.1,93.4 L623.7,93.4 L623.3,93.4 L622.8,93.4 L622.4,93.3 L621.9,93.3 L621.5,93.3 L621,93.3 L620.6,93.3 L620.1,93.3 L619.7,93.3 L619.3,93.2 L618.8,93.2 L618.4,93.2 L617.9,93.2 L617.5,93.2 L617,93.2 L616.6,93.1 L616.2,93.1 L615.7,93.1 L615.3,93.1 L614.8,93.1 L614.4,93.1 L613.9,93 L613.5,93 L613,93 L612.6,93 L612.2,93 L611.7,92.9 L611.3,92.9 L610.8,92.9 L610.4,92.9 L609.9,92.9 L609.5,92.8 L609,92.8 L608.6,92.8 L608.2,92.8 L607.7,92.8 L607.3,92.7 L606.8,92.7 L606.4,92.7 L605.9,92.7 L605.5,92.7 L605,92.6 L604.6,92.6 L604.2,92.6 L603.7,92.6 L603.3,92.6 L602.8,92.5 L602.4,92.5 L601.9,92.5 L601.5,92.5 L601,92.4 L600.6,92.4 L600.2,92.4 L599.7,92.4 L599.3,92.4 L598.8,92.3 L598.4,92.3 L597.9,92.3 L597.5,92.3 L597.1,92.2 L596.6,92.2 L596.2,92.2 L595.7,92.2 L595.3,92.2 L594.8,92.1 L594.4,92.1 L593.9,92.1 L593.5,92.1 L593.1,92.1 L592.6,92 L592.2,92 L591.7,92 L591.3,92 L590.8,92 L590.4,91.9 L589.9,91.9 L589.5,91.9 L589.1,91.9 L588.6,91.9 L588.2,91.8 L587.7,91.8 L587.3,91.8 L586.8,91.8 L586.4,91.8 L585.9,91.7 L585.5,91.7 L585.1,91.7 L584.6,91.7 L584.2,91.7 L583.7,91.7 L583.3,91.6 L582.8,91.6 L582.4,91.6 L581.9,91.6 L581.5,91.6 L581.1,91.6 L580.6,91.5 L580.2,91.5 L579.7,91.5 L579.3,91.5 L578.8,91.5 L578.4,91.5 L578,91.4 L577.5,91.4 L577.1,91.4 L576.6,91.4 L576.2,91.4 L575.7,91.4 L575.3,91.4 L574.8,91.3 L574.4,91.3 L574,91.3 L573.5,91.3 L573.1,91.3 L572.6,91.3 L572.2,91.3 L571.7,91.3 L571.3,91.2 L570.8,91.2 L570.4,91.2 L570,91.2 L569.5,91.2 L569.1,91.2 L568.6,91.2 L568.2,91.2 L567.7,91.2 L567.3,91.1 L566.8,91.1 L566.4,91.1 L566,91.1 L565.5,91.1 L565.1,91.1 L564.6,91.1 L564.2,91.1 L563.7,91.1 L563.3,91.1 L562.9,91.1 L562.4,91.1 L562,91 L561.5,91 L561.1,91 L560.6,91 L560.2,91 L559.7,91 L559.3,91 L558.9,91 L558.4,91 L558,91 L557.5,91 L557.1,91 L556.6,91 L556.2,91 L555.7,91 L555.3,90.9 L554.9,90.9 L554.4,90.9 L554,90.9 L553.5,90.9 L553.1,90.9 L552.6,90.9 L552.2,90.9 L551.7,90.9 L551.3,90.9 L550.9,90.9 L550.4,90.9 L550,90.9 L549.5,90.9 L549.1,90.9 L548.6,90.9 L548.2,90.9 L547.7,90.9 L547.3,90.9 L546.9,90.9 L546.4,90.9 L546,90.9 L545.5,90.9 L545.1,90.8 L544.6,90.8 L544.2,90.8 L543.8,90.8 L543.3,90.8 L542.9,90.8 L542.4,90.8 L542,90.8 L541.5,90.8 L541.1,90.8 L540.6,90.8 L540.2,90.8 L539.8,90.8 L539.3,90.8 L538.9,90.8 L538.4,90.8 L538,90.8 L537.5,90.8 L537.1,90.8 L536.6,90.8 L536.2,90.8 L535.8,90.8 L535.3,90.8 L534.9,90.8 L534.4,90.8 L534,90.8 L533.5,90.8 L533.1,90.8 L532.6,90.8 L532.2,90.8 L531.8,90.8 L531.3,90.8 L530.9,90.8 L530.4,90.8 L530,90.8 L529.5,90.8 L529.1,90.8 L528.6,90.8 L528.2,90.8 L527.8,90.8 L527.3,90.8 L526.9,90.8 L526.4,90.8 L526,90.8 L525.5,90.8 L525.1,90.8 L524.7,90.8 L524.2,90.8 L523.8,90.8 L523.3,90.8 L522.9,90.8 L522.4,90.8 L522,90.8 L521.5,90.8 L521.1,90.8 L520.7,90.8 L520.2,90.8 L519.8,90.8 L519.3,90.8 L518.9,90.8 L518.4,90.7 L518,90.7 L517.5,90.7 L517.1,90.7 L516.7,90.7 L516.2,90.7 L515.8,90.7 L515.3,90.7 L514.9,90.7 L514.4,90.7 L514,90.7 L513.5,90.7 L513.1,90.7 L512.7,90.7 L512.2,90.7 L511.8,90.7 L511.3,90.7 L510.9,90.7 L510.4,90.7 L510,90.7 L509.5,90.7 L509.1,90.7 L508.7,90.7 L508.2,90.7 L507.8,90.7 L507.3,90.7 L506.9,90.7 L506.4,90.7 L506,90.7 L505.6,90.7 L505.1,90.7 Z" fill="#e16ebe" fill-opacity="1.0" style="mix-blend-mode:multiply" />
<path d="M523.8,90.7 524.2,90.7 524.7,90.7 525.1,90.7 525.5,90.7 526,90.7 526.4,90.7 526.9,90.7 527.3,90.7 527.8,90.7 528.2,90.7 528.6,90.7 529.1,90.7 529.5,90.7 530,90.7 530.4,90.7 530.9,90.7 531.3,90.7 531.8,90.7 532.2,90.7 532.6,90.7 533.1,90.7 533.5,90.7 534,90.7 534.4,90.7 534.9,90.7 535.3,90.7 535.8,90.7 536.2,90.7 536.6,90.7 537.1,90.7 537.5,90.7 538,90.7 538.4,90.7 538.9,90.7 539.3,90.7 539.8,90.7 540.2,90.7 540.6,90.7 541.1,90.7 541.5,90.7 542,90.7 542.4,90.7 542.9,90.7 543.3,90.7 543.8,90.7 544.2,90.7 544.6,90.7 545.1,90.7 545.5,90.7 546,90.7 546.4,90.7 546.9,90.7 547.3,90.7 547.7,90.7 548.2,90.7 548.6,90.7 549.1,90.7 549.5,90.7 550,90.7 550.4,90.7 550.9,90.7 551.3,90.7 551.7,90.7 552.2,90.7 552.6,90.7 553.1,90.7 553.5,90.8 554,90.8 554.4,90.8 554.9,90.8 555.3,90.8 555.7,90.8 556.2,90.8 556.6,90.8 557.1,90.8 557.5,90.8 558,90.8 558.4,90.8 558.9,90.8 559.3,90.8 559.7,90.8 560.2,90.8 560.6,90.8 561.1,90.8 561.5,90.8 562,90.8 562.4,90.8 562.9,90.8 563.3,90.8 563.7,90.8 564.2,90.8 564.6,90.8 565.1,90.8 565.5,90.8 566,90.8 566.4,90.8 566.8,90.8 567.3,90.8 567.7,90.8 568.2,90.8 568.6,90.8 569.1,90.8 569.5,90.8 570,90.8 570.4,90.8 570.8,90.7 571.3,90.7 571.7,90.7 572.2,90.7 572.6,90.7 573.1,90.6 573.5,90.6 574,90.6 574.4,90.5 574.8,90.5 575.3,90.4 575.7,90.4 576.2,90.3 576.6,90.2 577.1,90.2 577.5,90.1 578,90 578.4,89.9 578.8,89.8 579.3,89.6 579.7,89.5 580.2,89.3 580.6,89.2 581.1,89 581.5,88.8 581.9,88.6 582.4,88.4 582.8,88.1 583.3,87.8 583.7,87.5 584.2,87.2 584.6,86.9 585.1,86.5 585.5,86.1 585.9,85.7 586.4,85.3 586.8,84.8 587.3,84.3 587.7,83.8 588.2,83.2 588.6,82.6 589.1,82 589.5,81.3 589.9,80.6 590.4,79.8 590.8,79.1 591.3,78.3 591.7,77.4 592.2,76.5 592.6,75.6 593.1,74.6 593.5,73.6 593.9,72.6 594.4,71.5 594.8,70.4 595.3,69.3 595.7,68.1 596.2,66.9 596.6,65.7 597.1,64.4 597.5,63.1 597.9,61.8 598.4,60.5 598.8,59.2 599.3,57.8 599.7,56.5 600.2,55.1 600.6,53.7 601,52.3 601.5,51 601.9,49.6 602.4,48.3 602.8,46.9 603.3,45.6 603.7,44.3 604.2,43 604.6,41.8 605,40.6 605.5,39.5 605.9,38.3 606.4,37.3 606.8,36.3 607.3,35.3 607.7,34.4 608.2,33.6 608.6,32.9 609,32.2 609.5,31.6 609.9,31.1 610.4,30.6 610.8,30.3 611.3,30 611.7,29.8 612.2,29.7 612.6,29.6 613,29.7 613.5,29.9 613.9,30.1 614.4,30.4 614.8,30.8 615.3,31.3 615.7,31.9 616.2,32.5 616.6,33.3 617,34.1 617.5,34.9 617.9,35.9 618.4,36.8 618.8,37.9 619.3,39 619.7,40.1 620.1,41.3 620.6,42.6 621,43.8 621.5,45.1 621.9,46.5 622.4,47.8 622.8,49.2 623.3,50.6 623.7,52 624.1,53.4 624.6,54.8 625,56.2 625.5,57.6 625.9,59 626.4,60.4 626.8,61.8 627.3,63.1 627.7,64.5 628.1,65.8 628.6,67.1 629,68.3 629.5,69.6 629.9,70.8 630.4,71.9 630.8,73.1 631.3,74.2 631.7,75.2 632.1,76.2 632.6,77.2 633,78.2 633.5,79.1 633.9,80 634.4,80.8 634.8,81.6 635.3,82.4 635.7,83.1 636.1,83.8 636.6,84.5 637,85.1 637.5,85.7 637.9,86.3 638.4,86.8 638.8,87.3 639.2,87.8 639.7,88.2 640.1,88.6 640.6,89 641,89.4 641.5,89.7 641.9,90 642.4,90.3 642.8,90.6 643.2,90.8 643.7,91.1 644.1,91.3 644.6,91.5 645,91.7 645.5,91.8 645.9,92 646.4,92.1 646.8,92.3 647.2,92.4 647.7,92.5 648.1,92.6 648.6,92.7 649,92.8 649.5,92.9 649.9,93 650.4,93 650.8,93.1 651.2,93.1 651.7,93.2 652.1,93.2 652.6,93.3 653,93.3 653.5,93.4 653.9,93.4 654.4,93.4 654.8,93.5 655.2,93.5 655.7,93.5 656.1,93.5 656.6,93.5 657,93.6 657.5,93.6 657.9,93.6 658.3,93.6 658.8,93.6 659.2,93.6 659.7,93.6 660.1,93.7 660.6,93.7 661,93.7 661.5,93.7 661.9,93.7 662.3,93.7 662.8,93.7 663.2,93.7 663.7,93.7 664.1,93.7 664.6,93.7 665,93.7 665.5,93.7 665.9,93.8 666.3,93.8 666.8,93.8 667.2,93.8 667.7,93.8 668.1,93.8 668.6,93.8 669,93.8 669.5,93.8 669.9,93.8 670.3,93.8 670.8,93.8 671.2,93.8 671.7,93.8 672.1,93.8 672.6,93.8 673,93.8 673.5,93.8 673.9,93.8 674.3,93.8 674.8,93.8 675.2,93.8 675.7,93.8 676.1,93.8 676.6,93.9 677,93.9 677.4,93.9 677.9,93.9 678.3,93.9 678.8,93.9 679.2,93.9 679.7,93.9 680.1,93.9 680.6,93.9 681,93.9 681.4,93.9 681.9,93.9 682.3,93.9 682.8,93.9 683.2,93.9 683.7,93.9 684.1,93.9 L684.1,94 L683.7,94 L683.2,94 L682.8,94 L682.3,94 L681.9,94 L681.4,94 L681,94 L680.6,94 L680.1,94 L679.7,94 L679.2,94 L678.8,94 L678.3,94 L677.9,94 L677.4,94 L677,94 L676.6,94 L676.1,94 L675.7,94 L675.2,94 L674.8,94 L674.3,94 L673.9,94 L673.5,94 L673,94 L672.6,94 L672.1,94 L671.7,94 L671.2,94 L670.8,94 L670.3,94 L669.9,94 L669.5,94 L669,94 L668.6,94 L668.1,94 L667.7,94 L667.2,94 L666.8,94 L666.3,94 L665.9,94 L665.5,94 L665,94 L664.6,94 L664.1,94 L663.7,94 L663.2,94 L662.8,94 L662.3,94 L661.9,94 L661.5,94 L661,93.9 L660.6,93.9 L660.1,93.9 L659.7,93.9 L659.2,93.9 L658.8,93.9 L658.3,93.9 L657.9,93.9 L657.5,93.9 L657,93.9 L656.6,93.9 L656.1,93.9 L655.7,93.9 L655.2,93.9 L654.8,93.9 L654.4,93.9 L653.9,93.9 L653.5,93.9 L653,93.9 L652.6,93.9 L652.1,93.9 L651.7,93.9 L651.2,93.9 L650.8,93.9 L650.4,93.9 L649.9,93.9 L649.5,93.9 L649,93.9 L648.6,93.9 L648.1,93.9 L647.7,93.9 L647.2,93.8 L646.8,93.8 L646.4,93.8 L645.9,93.8 L645.5,93.8 L645,93.8 L644.6,93.8 L644.1,93.8 L643.7,93.8 L643.2,93.8 L642.8,93.8 L642.4,93.8 L641.9,93.8 L641.5,93.8 L641,93.8 L640.6,93.8 L640.1,93.8 L639.7,93.7 L639.2,93.7 L638.8,93.7 L638.4,93.7 L637.9,93.7 L637.5,93.7 L637,93.7 L636.6,93.7 L636.1,93.7 L635.7,93.7 L635.3,93.7 L634.8,93.7 L634.4,93.7 L633.9,93.6 L633.5,93.6 L633,93.6 L632.6,93.6 L632.1,93.6 L631.7,93.6 L631.3,93.6 L630.8,93.6 L630.4,93.6 L629.9,93.6 L629.5,93.5 L629,93.5 L628.6,93.5 L628.1,93.5 L627.7,93.5 L627.3,93.5 L626.8,93.5 L626.4,93.5 L625.9,93.5 L625.5,93.4 L625,93.4 L624.6,93.4 L624.1,93.4 L623.7,93.4 L623.3,93.4 L622.8,93.4 L622.4,93.3 L621.9,93.3 L621.5,93.3 L621,93.3 L620.6,93.3 L620.1,93.3 L619.7,93.3 L619.3,93.2 L618.8,93.2 L618.4,93.2 L617.9,93.2 L617.5,93.2 L617,93.2 L616.6,93.1 L616.2,93.1 L615.7,93.1 L615.3,93.1 L614.8,93.1 L614.4,93.1 L613.9,93 L613.5,93 L613,93 L612.6,93 L612.2,93 L611.7,92.9 L611.3,92.9 L610.8,92.9 L610.4,92.9 L609.9,92.9 L609.5,92.8 L609,92.8 L608.6,92.8 L608.2,92.8 L607.7,92.8 L607.3,92.7 L606.8,92.7 L606.4,92.7 L605.9,92.7 L605.5,92.7 L605,92.6 L604.6,92.6 L604.2,92.6 L603.7,92.6 L603.3,92.6 L602.8,92.5 L602.4,92.5 L601.9,92.5 L601.5,92.5 L601,92.4 L600.6,92.4 L600.2,92.4 L599.7,92.4 L599.3,92.4 L598.8,92.3 L598.4,92.3 L597.9,92.3 L597.5,92.3 L597.1,92.2 L596.6,92.2 L596.2,92.2 L595.7,92.2 L595.3,92.2 L594.8,92.1 L594.4,92.1 L593.9,92.1 L593.5,92.1 L593.1,92.1 L592.6,92 L592.2,92 L591.7,92 L591.3,92 L590.8,92 L590.4,91.9 L589.9,91.9 L589.5,91.9 L589.1,91.9 L588.6,91.9 L588.2,91.8 L587.7,91.8 L587.3,91.8 L586.8,91.8 L586.4,91.8 L585.9,91.7 L585.5,91.7 L585.1,91.7 L584.6,91.7 L584.2,91.7 L583.7,91.7 L583.3,91.6 L582.8,91.6 L582.4,91.6 L581.9,91.6 L581.5,91.6 L581.1,91.6 L580.6,91.5 L580.2,91.5 L579.7,91.5 L579.3,91.5 L578.8,91.5 L578.4,91.5 L578,91.4 L577.5,91.4 L577.1,91.4 L576.6,91.4 L576.2,91.4 L575.7,91.4 L575.3,91.4 L574.8,91.3 L574.4,91.3 L574,91.3 L573.5,91.3 L573.1,91.3 L572.6,91.3 L572.2,91.3 L571.7,91.3 L571.3,91.2 L570.8,91.2 L570.4,91.2 L570,91.2 L569.5,91.2 L569.1,91.2 L568.6,91.2 L568.2,91.2 L567.7,91.2 L567.3,91.1 L566.8,91.1 L566.4,91.1 L566,91.1 L565.5,91.1 L565.1,91.1 L564.6,91.1 L564.2,91.1 L563.7,91.1 L563.3,91.1 L562.9,91.1 L562.4,91.1 L562,91 L561.5,91 L561.1,91 L560.6,91 L560.2,91 L559.7,91 L559.3,91 L558.9,91 L558.4,91 L558,91 L557.5,91 L557.1,91 L556.6,91 L556.2,91 L555.7,91 L555.3,90.9 L554.9,90.9 L554.4,90.9 L554,90.9 L553.5,90.9 L553.1,90.9 L552.6,90.9 L552.2,90.9 L551.7,90.9 L551.3,90.9 L550.9,90.9 L550.4,90.9 L550,90.9 L549.5,90.9 L549.1,90.9 L548.6,90.9 L548.2,90.9 L547.7,90.9 L547.3,90.9 L546.9,90.9 L546.4,90.9 L546,90.9 L545.5,90.9 L545.1,90.8 L544.6,90.8 L544.2,90.8 L543.8,90.8 L543.3,90.8 L542.9,90.8 L542.4,90.8 L542,90.8 L541.5,90.8 L541.1,90.8 L540.6,90.8 L540.2,90.8 L539.8,90.8 L539.3,90.8 L538.9,90.8 L538.4,90.8 L538,90.8 L537.5,90.8 L537.1,90.8 L536.6,90.8 L536.2,90.8 L535.8,90.8 L535.3,90.8 L534.9,90.8 L534.4,90.8 L534,90.8 L533.5,90.8 L533.1,90.8 L532.6,90.8 L532.2,90.8 L531.8,90.8 L531.3,90.8 L530.9,90.8 L530.4,90.8 L530,90.8 L529.5,90.8 L529.1,90.8 L528.6,90.8 L528.2,90.8 L527.8,90.8 L527.3,90.8 L526.9,90.8 L526.4,90.8 L526,90.8 L525.5,90.8 L525.1,90.8 L524.7,90.8 L524.2,90.8 L523.8,90.8 Z" fill="#e16ebe" fill-opacity="1.0" style="mix-blend-mode:multiply" />
<path d="M498,90.7 498.4,90.7 498.9,90.7 499.3,90.7 499.8,90.7 500.2,90.7 500.7,90.7 501.1,90.7 501.6,90.7 502,90.7 502.4,90.7 502.9,90.7 503.3,90.7 503.8,90.7 504.2,90.7 504.7,90.7 505.1,90.7 505.6,90.7 506,90.7 506.4,90.7 506.9,90.7 507.3,90.7 507.8,90.7 508.2,90.7 508.7,90.7 509.1,90.7 509.5,90.7 510,90.7 510.4,90.7 510.9,90.7 511.3,90.7 511.8,90.7 512.2,90.7 512.7,90.7 513.1,90.7 513.5,90.7 514,90.7 514.4,90.7 514.9,90.7 515.3,90.7 515.8,90.7 516.2,90.7 516.7,90.7 517.1,90.7 517.5,90.7 518,90.7 518.4,90.7 518.9,90.8 519.3,90.8 519.8,90.8 520.2,90.8 520.7,90.8 521.1,90.8 521.5,90.8 522,90.8 522.4,90.8 522.9,90.8 523.3,90.8 523.8,90.8 524.2,90.8 524.7,90.8 525.1,90.8 525.5,90.8 526,90.8 526.4,90.8 526.9,90.8 527.3,90.8 527.8,90.8 528.2,90.8 528.6,90.8 529.1,90.8 529.5,90.8 530,90.8 530.4,90.8 530.9,90.8 531.3,90.8 531.8,90.8 532.2,90.8 532.6,90.8 533.1,90.8 533.5,90.8 534,90.8 534.4,90.8 534.9,90.8 535.3,90.8 535.8,90.8 536.2,90.8 536.6,90.8 537.1,90.8 537.5,90.8 538,90.8 538.4,90.8 538.9,90.8 539.3,90.8 539.8,90.8 540.2,90.8 540.6,90.8 541.1,90.8 541.5,90.8 542,90.8 542.4,90.8 542.9,90.8 543.3,90.8 543.8,90.8 544.2,90.8 544.6,90.8 545.1,90.8 545.5,90.9 546,90.9 546.4,90.9 546.9,90.9 547.3,90.9 547.7,90.9 548.2,90.9 548.6,90.9 549.1,90.9 549.5,90.9 550,90.9 550.4,90.9 550.9,90.9 551.3,90.9 551.7,90.9 552.2,90.9 552.6,90.9 553.1,90.9 553.5,90.9 554,90.9 554.4,90.9 554.9,90.9 555.3,90.9 555.7,91 556.2,91 556.6,91 557.1,91 557.5,91 558,91 558.4,91 558.9,91 559.3,91 559.7,91 560.2,91 560.6,91 561.1,91 561.5,91 562,91 562.4,91.1 562.9,91.1 563.3,91.1 563.7,91.1 564.2,91.1 564.6,91.1 565.1,91.1 565.5,91.1 566,91.1 566.4,91.1 566.8,91.1 567.3,91.1 567.7,91.2 568.2,91.2 568.6,91.2 569.1,91.2 569.5,91.2 570,91.2 570.4,91.2 570.8,91.2 571.3,91.2 571.7,91.3 572.2,91.3 572.6,91.3 573.1,91.3 573.5,91.3 574,91.3 574.4,91.3 574.8,91.3 575.3,91.4 575.7,91.4 576.2,91.4 576.6,91.4 577.1,91.4 577.5,91.4 578,91.4 578.4,91.5 578.8,91.5 579.3,91.5 579.7,91.5 580.2,91.5 580.6,91.5 581.1,91.6 581.5,91.6 581.9,91.6 582.4,91.6 582.8,91.6 583.3,91.6 583.7,91.7 584.2,91.7 584.6,91.7 585.1,91.7 585.5,91.7 585.9,91.7 586.4,91.8 586.8,91.8 587.3,91.8 587.7,91.8 588.2,91.8 588.6,91.9 589.1,91.9 589.5,91.9 589.9,91.9 590.4,91.9 590.8,92 591.3,92 591.7,92 592.2,92 592.6,92 593.1,92.1 593.5,92.1 593.9,92.1 594.4,92.1 594.8,92.1 595.3,92.2 595.7,92.2 596.2,92.2 596.6,92.2 597.1,92.2 597.5,92.3 597.9,92.3 598.4,92.3 598.8,92.3 599.3,92.4 599.7,92.4 600.2,92.4 600.6,92.4 601,92.4 601.5,92.5 601.9,92.5 602.4,92.5 602.8,92.5 603.3,92.6 603.7,92.6 604.2,92.6 604.6,92.6 605,92.6 605.5,92.7 605.9,92.7 606.4,92.7 606.8,92.7 607.3,92.7 607.7,92.8 608.2,92.8 608.6,92.8 609,92.8 609.5,92.8 609.9,92.9 610.4,92.9 610.8,92.9 611.3,92.9 611.7,92.9 612.2,93 612.6,93 613,93 613.5,93 613.9,93 614.4,93.1 614.8,93.1 615.3,93.1 615.7,93.1 616.2,93.1 616.6,93.1 617,93.2 617.5,93.2 617.9,93.2 618.4,93.2 618.8,93.2 619.3,93.2 619.7,93.3 620.1,93.3 620.6,93.3 621,93.3 621.5,93.3 621.9,93.3 622.4,93.3 622.8,93.4 623.3,93.4 623.7,93.4 624.1,93.4 624.6,93.4 625,93.4 625.5,93.4 625.9,93.5 626.4,93.5 626.8,93.5 627.3,93.5 627.7,93.5 628.1,93.5 628.6,93.5 629,93.5 629.5,93.5 629.9,93.6 630.4,93.6 630.8,93.6 631.3,93.6 631.7,93.6 632.1,93.6 632.6,93.6 633,93.6 633.5,93.6 633.9,93.6 634.4,93.7 634.8,93.7 635.3,93.7 635.7,93.7 636.1,93.7 636.6,93.7 637,93.7 637.5,93.7 637.9,93.7 638.4,93.7 638.8,93.7 639.2,93.7 639.7,93.7 640.1,93.8 640.6,93.8 641,93.8 641.5,93.8 641.9,93.8 642.4,93.8 642.8,93.8 643.2,93.8 643.7,93.8 644.1,93.8 644.6,93.8 645,93.8 645.5,93.8 645.9,93.8 646.4,93.8 646.8,93.8 647.2,93.8 647.7,93.9 648.1,93.9 648.6,93.9 649,93.9 649.5,93.9 649.9,93.9 650.4,93.9 650.8,93.9 651.2,93.9 651.7,93.9 652.1,93.9 652.6,93.9 653,93.9 653.5,93.9 653.9,93.9 654.4,93.9 654.8,93.9 655.2,93.9 655.7,93.9 656.1,93.9 656.6,93.9 657,93.9 657.5,93.9 657.9,93.9 658.3,93.9 658.8,93.9 659.2,93.9 659.7,93.9 660.1,93.9 660.6,93.9 661,93.9 661.5,94 661.9,94 662.3,94 662.8,94 663.2,94 663.7,94 664.1,94 664.6,94 665,94 665.5,94 665.9,94 666.3,94 666.8,94 667.2,94 667.7,94 668.1,94 668.6,94 669,94 669.5,94 669.9,94 670.3,94 670.8,94 671.2,94 671.7,94 672.1,94 672.6,94 673,94 673.5,94 673.9,94 674.3,94 674.8,94 675.2,94 675.7,94 676.1,94 676.6,94 677,94 677.4,94 677.9,94 678.3,94 678.8,94 679.2,94 679.7,94 680.1,94 680.6,94 681,94 681.4,94 681.9,94 682.3,94 682.8,94 683.2,94 683.7,94 684.1,94" fill="none" stroke="#8a8a8a" stroke-width="0.9"/>
<path d="M496.9,89.4a1.05,1.05 0 1,0 2.1,0a1.05,1.05 0 1,0 -2.1,0M498.6,89.6a1.05,1.05 0 1,0 2.1,0a1.05,1.05 0 1,0 -2.1,0M500.3,88.5a1.05,1.05 0 1,0 2.1,0a1.05,1.05 0 1,0 -2.1,0M502.1,89.5a1.05,1.05 0 1,0 2.1,0a1.05,1.05 0 1,0 -2.1,0M503.8,89a1.05,1.05 0 1,0 2.1,0a1.05,1.05 0 1,0 -2.1,0M505.4,90.3a1.05,1.05 0 1,0 2.1,0a1.05,1.05 0 1,0 -2.1,0M507.1,89.1a1.05,1.05 0 1,0 2.1,0a1.05,1.05 0 1,0 -2.1,0M508.8,90.1a1.05,1.05 0 1,0 2.1,0a1.05,1.05 0 1,0 -2.1,0M510.6,90.7a1.05,1.05 0 1,0 2.1,0a1.05,1.05 0 1,0 -2.1,0M512.2,89.5a1.05,1.05 0 1,0 2.1,0a1.05,1.05 0 1,0 -2.1,0M514,89.3a1.05,1.05 0 1,0 2.1,0a1.05,1.05 0 1,0 -2.1,0M515.7,89.8a1.05,1.05 0 1,0 2.1,0a1.05,1.05 0 1,0 -2.1,0M517.4,89.6a1.05,1.05 0 1,0 2.1,0a1.05,1.05 0 1,0 -2.1,0M519.1,88.9a1.05,1.05 0 1,0 2.1,0a1.05,1.05 0 1,0 -2.1,0M520.8,89.9a1.05,1.05 0 1,0 2.1,0a1.05,1.05 0 1,0 -2.1,0M522.5,90.9a1.05,1.05 0 1,0 2.1,0a1.05,1.05 0 1,0 -2.1,0M524.2,89.3a1.05,1.05 0 1,0 2.1,0a1.05,1.05 0 1,0 -2.1,0M525.9,89.3a1.05,1.05 0 1,0 2.1,0a1.05,1.05 0 1,0 -2.1,0M527.6,88.6a1.05,1.05 0 1,0 2.1,0a1.05,1.05 0 1,0 -2.1,0M529.2,89.5a1.05,1.05 0 1,0 2.1,0a1.05,1.05 0 1,0 -2.1,0M531,88.3a1.05,1.05 0 1,0 2.1,0a1.05,1.05 0 1,0 -2.1,0M532.7,88.2a1.05,1.05 0 1,0 2.1,0a1.05,1.05 0 1,0 -2.1,0M534.4,89.7a1.05,1.05 0 1,0 2.1,0a1.05,1.05 0 1,0 -2.1,0M536.1,88.1a1.05,1.05 0 1,0 2.1,0a1.05,1.05 0 1,0 -2.1,0M537.8,89.2a1.05,1.05 0 1,0 2.1,0a1.05,1.05 0 1,0 -2.1,0M539.5,89.3a1.05,1.05 0 1,0 2.1,0a1.05,1.05 0 1,0 -2.1,0M541.2,88.2a1.05,1.05 0 1,0 2.1,0a1.05,1.05 0 1,0 -2.1,0M542.9,88.1a1.05,1.05 0 1,0 2.1,0a1.05,1.05 0 1,0 -2.1,0M544.6,88.7a1.05,1.05 0 1,0 2.1,0a1.05,1.05 0 1,0 -2.1,0M546.2,86.7a1.05,1.05 0 1,0 2.1,0a1.05,1.05 0 1,0 -2.1,0M548,85.9a1.05,1.05 0 1,0 2.1,0a1.05,1.05 0 1,0 -2.1,0M549.7,84.8a1.05,1.05 0 1,0 2.1,0a1.05,1.05 0 1,0 -2.1,0M551.4,85a1.05,1.05 0 1,0 2.1,0a1.05,1.05 0 1,0 -2.1,0M553.1,85.1a1.05,1.05 0 1,0 2.1,0a1.05,1.05 0 1,0 -2.1,0M554.8,83.6a1.05,1.05 0 1,0 2.1,0a1.05,1.05 0 1,0 -2.1,0M556.5,81a1.05,1.05 0 1,0 2.1,0a1.05,1.05 0 1,0 -2.1,0M558.2,79.5a1.05,1.05 0 1,0 2.1,0a1.05,1.05 0 1,0 -2.1,0M559.9,77.9a1.05,1.05 0 1,0 2.1,0a1.05,1.05 0 1,0 -2.1,0M561.6,76.3a1.05,1.05 0 1,0 2.1,0a1.05,1.05 0 1,0 -2.1,0M563.2,73.5a1.05,1.05 0 1,0 2.1,0a1.05,1.05 0 1,0 -2.1,0M565,71a1.05,1.05 0 1,0 2.1,0a1.05,1.05 0 1,0 -2.1,0M566.7,67.9a1.05,1.05 0 1,0 2.1,0a1.05,1.05 0 1,0 -2.1,0M568.4,64a1.05,1.05 0 1,0 2.1,0a1.05,1.05 0 1,0 -2.1,0M570.1,60.4a1.05,1.05 0 1,0 2.1,0a1.05,1.05 0 1,0 -2.1,0M571.8,56.6a1.05,1.05 0 1,0 2.1,0a1.05,1.05 0 1,0 -2.1,0M573.5,52.4a1.05,1.05 0 1,0 2.1,0a1.05,1.05 0 1,0 -2.1,0M575.2,48.8a1.05,1.05 0 1,0 2.1,0a1.05,1.05 0 1,0 -2.1,0M576.9,46.2a1.05,1.05 0 1,0 2.1,0a1.05,1.05 0 1,0 -2.1,0M578.6,42.3a1.05,1.05 0 1,0 2.1,0a1.05,1.05 0 1,0 -2.1,0M580.2,39.8a1.05,1.05 0 1,0 2.1,0a1.05,1.05 0 1,0 -2.1,0M582,37.4a1.05,1.05 0 1,0 2.1,0a1.05,1.05 0 1,0 -2.1,0M583.7,38.6a1.05,1.05 0 1,0 2.1,0a1.05,1.05 0 1,0 -2.1,0M585.4,37.6a1.05,1.05 0 1,0 2.1,0a1.05,1.05 0 1,0 -2.1,0M587.1,39.1a1.05,1.05 0 1,0 2.1,0a1.05,1.05 0 1,0 -2.1,0M588.8,42a1.05,1.05 0 1,0 2.1,0a1.05,1.05 0 1,0 -2.1,0M590.5,43.2a1.05,1.05 0 1,0 2.1,0a1.05,1.05 0 1,0 -2.1,0M592.2,43.4a1.05,1.05 0 1,0 2.1,0a1.05,1.05 0 1,0 -2.1,0M593.9,42.7a1.05,1.05 0 1,0 2.1,0a1.05,1.05 0 1,0 -2.1,0M595.6,43.3a1.05,1.05 0 1,0 2.1,0a1.05,1.05 0 1,0 -2.1,0M597.2,42a1.05,1.05 0 1,0 2.1,0a1.05,1.05 0 1,0 -2.1,0M599,41.1a1.05,1.05 0 1,0 2.1,0a1.05,1.05 0 1,0 -2.1,0M600.7,39.8a1.05,1.05 0 1,0 2.1,0a1.05,1.05 0 1,0 -2.1,0M602.4,35.4a1.05,1.05 0 1,0 2.1,0a1.05,1.05 0 1,0 -2.1,0M604.1,31.5a1.05,1.05 0 1,0 2.1,0a1.05,1.05 0 1,0 -2.1,0M605.8,28a1.05,1.05 0 1,0 2.1,0a1.05,1.05 0 1,0 -2.1,0M607.5,26a1.05,1.05 0 1,0 2.1,0a1.05,1.05 0 1,0 -2.1,0M609.2,24a1.05,1.05 0 1,0 2.1,0a1.05,1.05 0 1,0 -2.1,0M610.9,22.7a1.05,1.05 0 1,0 2.1,0a1.05,1.05 0 1,0 -2.1,0M612.6,24.4a1.05,1.05 0 1,0 2.1,0a1.05,1.05 0 1,0 -2.1,0M614.2,25.8a1.05,1.05 0 1,0 2.1,0a1.05,1.05 0 1,0 -2.1,0M616,31a1.05,1.05 0 1,0 2.1,0a1.05,1.05 0 1,0 -2.1,0M617.7,35.7a1.05,1.05 0 1,0 2.1,0a1.05,1.05 0 1,0 -2.1,0M619.4,40.9a1.05,1.05 0 1,0 2.1,0a1.05,1.05 0 1,0 -2.1,0M621.1,45.4a1.05,1.05 0 1,0 2.1,0a1.05,1.05 0 1,0 -2.1,0M622.8,51.5a1.05,1.05 0 1,0 2.1,0a1.05,1.05 0 1,0 -2.1,0M624.5,56.4a1.05,1.05 0 1,0 2.1,0a1.05,1.05 0 1,0 -2.1,0M626.2,61.1a1.05,1.05 0 1,0 2.1,0a1.05,1.05 0 1,0 -2.1,0M627.9,65.6a1.05,1.05 0 1,0 2.1,0a1.05,1.05 0 1,0 -2.1,0M629.6,68.9a1.05,1.05 0 1,0 2.1,0a1.05,1.05 0 1,0 -2.1,0M631.2,72.4a1.05,1.05 0 1,0 2.1,0a1.05,1.05 0 1,0 -2.1,0M633,77.1a1.05,1.05 0 1,0 2.1,0a1.05,1.05 0 1,0 -2.1,0M634.7,79a1.05,1.05 0 1,0 2.1,0a1.05,1.05 0 1,0 -2.1,0M636.4,81.6a1.05,1.05 0 1,0 2.1,0a1.05,1.05 0 1,0 -2.1,0M638.1,84.1a1.05,1.05 0 1,0 2.1,0a1.05,1.05 0 1,0 -2.1,0M639.8,83.8a1.05,1.05 0 1,0 2.1,0a1.05,1.05 0 1,0 -2.1,0M641.5,85.9a1.05,1.05 0 1,0 2.1,0a1.05,1.05 0 1,0 -2.1,0M643.2,87.7a1.05,1.05 0 1,0 2.1,0a1.05,1.05 0 1,0 -2.1,0M644.9,88.8a1.05,1.05 0 1,0 2.1,0a1.05,1.05 0 1,0 -2.1,0M646.6,89.1a1.05,1.05 0 1,0 2.1,0a1.05,1.05 0 1,0 -2.1,0M648.2,90.8a1.05,1.05 0 1,0 2.1,0a1.05,1.05 0 1,0 -2.1,0M650,90.8a1.05,1.05 0 1,0 2.1,0a1.05,1.05 0 1,0 -2.1,0M651.7,90.4a1.05,1.05 0 1,0 2.1,0a1.05,1.05 0 1,0 -2.1,0M653.4,91a1.05,1.05 0 1,0 2.1,0a1.05,1.05 0 1,0 -2.1,0M655.1,92.7a1.05,1.05 0 1,0 2.1,0a1.05,1.05 0 1,0 -2.1,0M656.8,92.8a1.05,1.05 0 1,0 2.1,0a1.05,1.05 0 1,0 -2.1,0M658.5,91.5a1.05,1.05 0 1,0 2.1,0a1.05,1.05 0 1,0 -2.1,0M660.2,94a1.05,1.05 0 1,0 2.1,0a1.05,1.05 0 1,0 -2.1,0M661.9,93.8a1.05,1.05 0 1,0 2.1,0a1.05,1.05 0 1,0 -2.1,0M663.6,94.5a1.05,1.05 0 1,0 2.1,0a1.05,1.05 0 1,0 -2.1,0M665.2,93.5a1.05,1.05 0 1,0 2.1,0a1.05,1.05 0 1,0 -2.1,0M667,93.8a1.05,1.05 0 1,0 2.1,0a1.05,1.05 0 1,0 -2.1,0M668.7,93.4a1.05,1.05 0 1,0 2.1,0a1.05,1.05 0 1,0 -2.1,0M670.4,96.2a1.05,1.05 0 1,0 2.1,0a1.05,1.05 0 1,0 -2.1,0M672.1,94.4a1.05,1.05 0 1,0 2.1,0a1.05,1.05 0 1,0 -2.1,0M673.8,95.8a1.05,1.05 0 1,0 2.1,0a1.05,1.05 0 1,0 -2.1,0M675.5,94.4a1.05,1.05 0 1,0 2.1,0a1.05,1.05 0 1,0 -2.1,0M677.2,95.1a1.05,1.05 0 1,0 2.1,0a1.05,1.05 0 1,0 -2.1,0M678.9,93.9a1.05,1.05 0 1,0 2.1,0a1.05,1.05 0 1,0 -2.1,0M680.6,94.9a1.05,1.05 0 1,0 2.1,0a1.05,1.05 0 1,0 -2.1,0M682.2,96a1.05,1.05 0 1,0 2.1,0a1.05,1.05 0 1,0 -2.1,0" fill="none" stroke="#3a3a3a" stroke-width="0.75"/>
<path d="M498,89.8 498.4,89.8 498.9,89.9 499.3,89.9 499.8,89.9 500.2,89.9 500.7,89.9 501.1,89.9 501.6,89.9 502,89.9 502.4,89.9 502.9,89.9 503.3,89.9 503.8,89.9 504.2,89.9 504.7,89.9 505.1,89.9 505.6,89.9 506,90 506.4,90 506.9,90 507.3,90 507.8,90 508.2,90 508.7,90 509.1,90 509.5,90 510,90 510.4,90 510.9,90 511.3,90 511.8,90 512.2,90 512.7,90 513.1,90 513.5,90 514,90 514.4,90 514.9,90 515.3,90 515.8,90 516.2,90 516.7,90 517.1,90 517.5,89.9 518,89.9 518.4,89.9 518.9,89.9 519.3,89.9 519.8,89.9 520.2,89.9 520.7,89.9 521.1,89.9 521.5,89.9 522,89.9 522.4,89.9 522.9,89.8 523.3,89.8 523.8,89.8 524.2,89.8 524.7,89.8 525.1,89.8 525.5,89.8 526,89.7 526.4,89.7 526.9,89.7 527.3,89.7 527.8,89.7 528.2,89.6 528.6,89.6 529.1,89.6 529.5,89.6 530,89.6 530.4,89.5 530.9,89.5 531.3,89.5 531.8,89.4 532.2,89.4 532.6,89.4 533.1,89.3 533.5,89.3 534,89.3 534.4,89.2 534.9,89.2 535.3,89.2 535.8,89.1 536.2,89.1 536.6,89 537.1,89 537.5,88.9 538,88.9 538.4,88.8 538.9,88.8 539.3,88.7 539.8,88.7 540.2,88.6 540.6,88.5 541.1,88.5 541.5,88.4 542,88.3 542.4,88.3 542.9,88.2 543.3,88.1 543.8,88 544.2,87.9 544.6,87.8 545.1,87.7 545.5,87.6 546,87.5 546.4,87.4 546.9,87.3 547.3,87.2 547.7,87 548.2,86.9 548.6,86.8 549.1,86.6 549.5,86.5 550,86.3 550.4,86.1 550.9,85.9 551.3,85.8 551.7,85.6 552.2,85.4 552.6,85.1 553.1,84.9 553.5,84.7 554,84.4 554.4,84.2 554.9,83.9 555.3,83.6 555.7,83.3 556.2,83 556.6,82.6 557.1,82.3 557.5,81.9 558,81.5 558.4,81.1 558.9,80.7 559.3,80.3 559.7,79.8 560.2,79.4 560.6,78.9 561.1,78.4 561.5,77.8 562,77.3 562.4,76.7 562.9,76.1 563.3,75.5 563.7,74.8 564.2,74.1 564.6,73.4 565.1,72.7 565.5,72 566,71.2 566.4,70.4 566.8,69.6 567.3,68.8 567.7,67.9 568.2,67 568.6,66.1 569.1,65.2 569.5,64.3 570,63.3 570.4,62.3 570.8,61.3 571.3,60.3 571.7,59.3 572.2,58.3 572.6,57.2 573.1,56.2 573.5,55.1 574,54 574.4,53 574.8,51.9 575.3,50.9 575.7,49.9 576.2,48.8 576.6,47.9 577.1,46.9 577.5,46 578,45.1 578.4,44.2 578.8,43.4 579.3,42.7 579.7,42 580.2,41.3 580.6,40.8 581.1,40.3 581.5,39.8 581.9,39.5 582.4,39.2 582.8,38.9 583.3,38.7 583.7,38.6 584.2,38.6 584.6,38.6 585.1,38.7 585.5,38.8 585.9,39 586.4,39.2 586.8,39.5 587.3,39.8 587.7,40.1 588.2,40.4 588.6,40.8 589.1,41.1 589.5,41.5 589.9,41.8 590.4,42.2 590.8,42.5 591.3,42.8 591.7,43.1 592.2,43.4 592.6,43.6 593.1,43.8 593.5,44 593.9,44.1 594.4,44.2 594.8,44.2 595.3,44.2 595.7,44.1 596.2,44 596.6,43.8 597.1,43.6 597.5,43.4 597.9,43.1 598.4,42.7 598.8,42.3 599.3,41.8 599.7,41.3 600.2,40.8 600.6,40.2 601,39.6 601.5,38.9 601.9,38.2 602.4,37.4 602.8,36.6 603.3,35.8 603.7,35 604.2,34.2 604.6,33.3 605,32.5 605.5,31.6 605.9,30.8 606.4,29.9 606.8,29.1 607.3,28.3 607.7,27.6 608.2,26.9 608.6,26.2 609,25.6 609.5,25.1 609.9,24.7 610.4,24.3 610.8,24 611.3,23.8 611.7,23.8 612.2,23.8 612.6,23.9 613,24.1 613.5,24.5 613.9,24.9 614.4,25.4 614.8,26.1 615.3,26.8 615.7,27.7 616.2,28.6 616.6,29.6 617,30.7 617.5,31.8 617.9,33 618.4,34.3 618.8,35.6 619.3,36.9 619.7,38.3 620.1,39.7 620.6,41.1 621,42.5 621.5,44 621.9,45.4 622.4,46.9 622.8,48.3 623.3,49.8 623.7,51.2 624.1,52.6 624.6,54 625,55.3 625.5,56.7 625.9,58 626.4,59.3 626.8,60.6 627.3,61.8 627.7,63 628.1,64.2 628.6,65.3 629,66.5 629.5,67.5 629.9,68.6 630.4,69.6 630.8,70.6 631.3,71.6 631.7,72.5 632.1,73.4 632.6,74.3 633,75.1 633.5,75.9 633.9,76.7 634.4,77.4 634.8,78.1 635.3,78.8 635.7,79.5 636.1,80.1 636.6,80.7 637,81.3 637.5,81.8 637.9,82.4 638.4,82.9 638.8,83.4 639.2,83.8 639.7,84.3 640.1,84.7 640.6,85.1 641,85.5 641.5,85.9 641.9,86.3 642.4,86.6 642.8,86.9 643.2,87.2 643.7,87.5 644.1,87.8 644.6,88.1 645,88.4 645.5,88.6 645.9,88.9 646.4,89.1 646.8,89.3 647.2,89.5 647.7,89.7 648.1,89.9 648.6,90.1 649,90.3 649.5,90.5 649.9,90.6 650.4,90.8 650.8,90.9 651.2,91.1 651.7,91.2 652.1,91.4 652.6,91.5 653,91.6 653.5,91.7 653.9,91.9 654.4,92 654.8,92.1 655.2,92.2 655.7,92.3 656.1,92.4 656.6,92.5 657,92.6 657.5,92.7 657.9,92.8 658.3,92.9 658.8,92.9 659.2,93 659.7,93.1 660.1,93.2 660.6,93.3 661,93.3 661.5,93.4 661.9,93.5 662.3,93.6 662.8,93.6 663.2,93.7 663.7,93.8 664.1,93.8 664.6,93.9 665,93.9 665.5,94 665.9,94.1 666.3,94.1 666.8,94.2 667.2,94.2 667.7,94.3 668.1,94.3 668.6,94.4 669,94.4 669.5,94.5 669.9,94.5 670.3,94.6 670.8,94.6 671.2,94.7 671.7,94.7 672.1,94.8 672.6,94.8 673,94.8 673.5,94.9 673.9,94.9 674.3,95 674.8,95 675.2,95 675.7,95.1 676.1,95.1 676.6,95.1 677,95.2 677.4,95.2 677.9,95.2 678.3,95.3 678.8,95.3 679.2,95.3 679.7,95.4 680.1,95.4 680.6,95.4 681,95.5 681.4,95.5 681.9,95.5 682.3,95.5 682.8,95.6 683.2,95.6 683.7,95.6 684.1,95.7" fill="none" stroke="#ee1c1c" stroke-width="1.25" stroke-linejoin="round"/>
<text x="503" y="73.5" font-size="8.7" text-anchor="start" font-weight="normal" font-style="normal" fill="#231f20" stroke="#231f20" stroke-width="0.22" >Annealed WSe<tspan font-size="6.2" dy="2">2</tspan></text>
<path d="M498,183.5 498.4,183.5 498.9,183.5 499.3,183.5 499.8,183.5 500.2,183.5 500.7,183.4 501.1,183.4 501.6,183.4 502,183.4 502.4,183.4 502.9,183.4 503.3,183.3 503.8,183.3 504.2,183.3 504.7,183.3 505.1,183.3 505.6,183.3 506,183.3 506.4,183.2 506.9,183.2 507.3,183.2 507.8,183.2 508.2,183.2 508.7,183.2 509.1,183.2 509.5,183.1 510,183.1 510.4,183.1 510.9,183.1 511.3,183.1 511.8,183.1 512.2,183.1 512.7,183.1 513.1,183.1 513.5,183 514,183 514.4,183 514.9,183 515.3,183 515.8,183 516.2,183 516.7,183 517.1,183 517.5,183 518,182.9 518.4,182.9 518.9,182.9 519.3,182.9 519.8,182.9 520.2,182.9 520.7,182.9 521.1,182.9 521.5,182.9 522,182.9 522.4,182.9 522.9,182.9 523.3,182.9 523.8,182.9 524.2,182.9 524.7,182.8 525.1,182.8 525.5,182.8 526,182.8 526.4,182.8 526.9,182.8 527.3,182.8 527.8,182.8 528.2,182.8 528.6,182.8 529.1,182.8 529.5,182.8 530,182.8 530.4,182.8 530.9,182.8 531.3,182.8 531.8,182.8 532.2,182.8 532.6,182.8 533.1,182.8 533.5,182.8 534,182.8 534.4,182.8 534.9,182.8 535.3,182.8 535.8,182.8 536.2,182.8 536.6,182.8 537.1,182.8 537.5,182.8 538,182.8 538.4,182.8 538.9,182.8 539.3,182.8 539.8,182.9 540.2,182.9 540.6,182.9 541.1,182.9 541.5,182.9 542,182.9 542.4,182.9 542.9,182.9 543.3,182.9 543.8,182.9 544.2,182.9 544.6,182.9 545.1,182.9 545.5,182.9 546,182.9 546.4,183 546.9,183 547.3,183 547.7,183 548.2,183 548.6,183 549.1,183 549.5,183 550,183 550.4,183 550.9,183.1 551.3,183.1 551.7,183.1 552.2,183.1 552.6,183.1 553.1,183.1 553.5,183.1 554,183.1 554.4,183.1 554.9,183.2 555.3,183.2 555.7,183.2 556.2,183.2 556.6,183.2 557.1,183.2 557.5,183.2 558,183.3 558.4,183.3 558.9,183.3 559.3,183.3 559.7,183.3 560.2,183.3 560.6,183.3 561.1,183.4 561.5,183.4 562,183.4 562.4,183.4 562.9,183.4 563.3,183.4 563.7,183.5 564.2,183.5 564.6,183.5 565.1,183.5 565.5,183.5 566,183.5 566.4,183.6 566.8,183.6 567.3,183.6 567.7,183.6 568.2,183.6 568.6,183.6 569.1,183.7 569.5,183.7 570,183.7 570.4,183.7 570.8,183.7 571.3,183.8 571.7,183.8 572.2,183.8 572.6,183.8 573.1,183.8 573.5,183.8 574,183.9 574.4,183.9 574.8,183.9 575.3,183.9 575.7,183.9 576.2,184 576.6,184 577.1,184 577.5,184 578,184 578.4,184.1 578.8,184.1 579.3,184.1 579.7,184.1 580.2,184.1 580.6,184.1 581.1,184.2 581.5,184.2 581.9,184.2 582.4,184.2 582.8,184.2 583.3,184.3 583.7,184.3 584.2,184.3 584.6,184.3 585.1,184.3 585.5,184.4 585.9,184.4 586.4,184.4 586.8,184.4 587.3,184.4 587.7,184.5 588.2,184.5 588.6,184.5 589.1,184.5 589.5,184.5 589.9,184.5 590.4,184.6 590.8,184.6 591.3,184.6 591.7,184.6 592.2,184.6 592.6,184.7 593.1,184.7 593.5,184.7 593.9,184.7 594.4,184.7 594.8,184.7 595.3,184.8 595.7,184.8 596.2,184.8 596.6,184.8 597.1,184.8 597.5,184.9 597.9,184.9 598.4,184.9 598.8,184.9 599.3,184.9 599.7,184.9 600.2,185 600.6,185 601,185 601.5,185 601.9,185 602.4,185 602.8,185.1 603.3,185.1 603.7,185.1 604.2,185.1 604.6,185.1 605,185.1 605.5,185.2 605.9,185.2 606.4,185.2 606.8,185.2 607.3,185.2 607.7,185.2 608.2,185.2 608.6,185.3 609,185.3 609.5,185.3 609.9,185.3 610.4,185.3 610.8,185.3 611.3,185.4 611.7,185.4 612.2,185.4 612.6,185.4 613,185.4 613.5,185.4 613.9,185.4 614.4,185.5 614.8,185.5 615.3,185.5 615.7,185.5 616.2,185.5 616.6,185.5 617,185.5 617.5,185.5 617.9,185.6 618.4,185.6 618.8,185.6 619.3,185.6 619.7,185.6 620.1,185.6 620.6,185.6 621,185.6 621.5,185.7 621.9,185.7 622.4,185.7 622.8,185.7 623.3,185.7 623.7,185.7 624.1,185.7 624.6,185.7 625,185.7 625.5,185.7 625.9,185.8 626.4,185.8 626.8,185.8 627.3,185.8 627.7,185.8 628.1,185.8 628.6,185.8 629,185.8 629.5,185.8 629.9,185.8 630.4,185.9 630.8,185.9 631.3,185.9 631.7,185.9 632.1,185.9 632.6,185.9 633,185.9 633.5,185.9 633.9,185.9 634.4,185.9 634.8,185.9 635.3,186 635.7,186 636.1,186 636.6,186 637,186 637.5,186 637.9,186 638.4,186 638.8,186 639.2,186 639.7,186 640.1,186 640.6,186 641,186 641.5,186.1 641.9,186.1 642.4,186.1 642.8,186.1 643.2,186.1 643.7,186.1 644.1,186.1 644.6,186.1 645,186.1 645.5,186.1 645.9,186.1 646.4,186.1 646.8,186.1 647.2,186.1 647.7,186.1 648.1,186.1 648.6,186.1 649,186.1 649.5,186.2 649.9,186.2 650.4,186.2 650.8,186.2 651.2,186.2 651.7,186.2 652.1,186.2 652.6,186.2 653,186.2 653.5,186.2 653.9,186.2 654.4,186.2 654.8,186.2 655.2,186.2 655.7,186.2 656.1,186.2 656.6,186.2 657,186.2 657.5,186.2 657.9,186.2 658.3,186.2 658.8,186.2 659.2,186.2 659.7,186.2 660.1,186.2 660.6,186.3 661,186.3 661.5,186.3 661.9,186.3 662.3,186.3 662.8,186.3 663.2,186.3 663.7,186.3 664.1,186.3 664.6,186.3 665,186.3 665.5,186.3 665.9,186.3 666.3,186.3 666.8,186.3 667.2,186.3 667.7,186.3 668.1,186.3 668.6,186.3 669,186.3 669.5,186.3 669.9,186.3 670.3,186.3 670.8,186.3 671.2,186.3 L671.2,186.4 L670.8,186.4 L670.3,186.4 L669.9,186.4 L669.5,186.4 L669,186.4 L668.6,186.4 L668.1,186.4 L667.7,186.4 L667.2,186.4 L666.8,186.4 L666.3,186.4 L665.9,186.4 L665.5,186.4 L665,186.4 L664.6,186.4 L664.1,186.4 L663.7,186.4 L663.2,186.4 L662.8,186.4 L662.3,186.4 L661.9,186.4 L661.5,186.4 L661,186.4 L660.6,186.4 L660.1,186.4 L659.7,186.4 L659.2,186.4 L658.8,186.4 L658.3,186.4 L657.9,186.4 L657.5,186.4 L657,186.4 L656.6,186.4 L656.1,186.4 L655.7,186.4 L655.2,186.4 L654.8,186.4 L654.4,186.4 L653.9,186.4 L653.5,186.4 L653,186.4 L652.6,186.4 L652.1,186.4 L651.7,186.4 L651.2,186.4 L650.8,186.4 L650.4,186.4 L649.9,186.4 L649.5,186.4 L649,186.4 L648.6,186.4 L648.1,186.4 L647.7,186.4 L647.2,186.4 L646.8,186.4 L646.4,186.4 L645.9,186.4 L645.5,186.4 L645,186.4 L644.6,186.4 L644.1,186.4 L643.7,186.4 L643.2,186.4 L642.8,186.4 L642.4,186.4 L641.9,186.4 L641.5,186.4 L641,186.4 L640.6,186.4 L640.1,186.4 L639.7,186.4 L639.2,186.4 L638.8,186.4 L638.4,186.4 L637.9,186.4 L637.5,186.4 L637,186.4 L636.6,186.4 L636.1,186.4 L635.7,186.4 L635.3,186.4 L634.8,186.4 L634.4,186.4 L633.9,186.4 L633.5,186.4 L633,186.4 L632.6,186.4 L632.1,186.4 L631.7,186.4 L631.3,186.4 L630.8,186.4 L630.4,186.4 L629.9,186.4 L629.5,186.4 L629,186.4 L628.6,186.4 L628.1,186.4 L627.7,186.4 L627.3,186.4 L626.8,186.4 L626.4,186.4 L625.9,186.4 L625.5,186.4 L625,186.4 L624.6,186.4 L624.1,186.4 L623.7,186.4 L623.3,186.4 L622.8,186.4 L622.4,186.4 L621.9,186.4 L621.5,186.4 L621,186.4 L620.6,186.4 L620.1,186.4 L619.7,186.4 L619.3,186.4 L618.8,186.4 L618.4,186.4 L617.9,186.4 L617.5,186.4 L617,186.4 L616.6,186.4 L616.2,186.4 L615.7,186.4 L615.3,186.4 L614.8,186.4 L614.4,186.4 L613.9,186.4 L613.5,186.4 L613,186.4 L612.6,186.4 L612.2,186.4 L611.7,186.4 L611.3,186.4 L610.8,186.4 L610.4,186.4 L609.9,186.4 L609.5,186.4 L609,186.4 L608.6,186.4 L608.2,186.4 L607.7,186.4 L607.3,186.4 L606.8,186.4 L606.4,186.4 L605.9,186.4 L605.5,186.4 L605,186.4 L604.6,186.4 L604.2,186.4 L603.7,186.4 L603.3,186.4 L602.8,186.4 L602.4,186.4 L601.9,186.4 L601.5,186.4 L601,186.4 L600.6,186.4 L600.2,186.4 L599.7,186.4 L599.3,186.4 L598.8,186.4 L598.4,186.4 L597.9,186.4 L597.5,186.4 L597.1,186.4 L596.6,186.4 L596.2,186.4 L595.7,186.4 L595.3,186.4 L594.8,186.4 L594.4,186.4 L593.9,186.4 L593.5,186.4 L593.1,186.4 L592.6,186.4 L592.2,186.4 L591.7,186.4 L591.3,186.4 L590.8,186.4 L590.4,186.4 L589.9,186.4 L589.5,186.4 L589.1,186.4 L588.6,186.4 L588.2,186.4 L587.7,186.4 L587.3,186.4 L586.8,186.4 L586.4,186.4 L585.9,186.4 L585.5,186.4 L585.1,186.4 L584.6,186.4 L584.2,186.4 L583.7,186.4 L583.3,186.4 L582.8,186.4 L582.4,186.4 L581.9,186.4 L581.5,186.4 L581.1,186.4 L580.6,186.4 L580.2,186.4 L579.7,186.4 L579.3,186.4 L578.8,186.4 L578.4,186.4 L578,186.4 L577.5,186.4 L577.1,186.4 L576.6,186.4 L576.2,186.4 L575.7,186.4 L575.3,186.4 L574.8,186.4 L574.4,186.4 L574,186.4 L573.5,186.4 L573.1,186.4 L572.6,186.4 L572.2,186.4 L571.7,186.4 L571.3,186.4 L570.8,186.4 L570.4,186.4 L570,186.4 L569.5,186.4 L569.1,186.4 L568.6,186.4 L568.2,186.4 L567.7,186.4 L567.3,186.4 L566.8,186.4 L566.4,186.4 L566,186.4 L565.5,186.4 L565.1,186.4 L564.6,186.4 L564.2,186.4 L563.7,186.4 L563.3,186.4 L562.9,186.4 L562.4,186.4 L562,186.4 L561.5,186.4 L561.1,186.4 L560.6,186.4 L560.2,186.4 L559.7,186.4 L559.3,186.4 L558.9,186.4 L558.4,186.4 L558,186.4 L557.5,186.4 L557.1,186.4 L556.6,186.4 L556.2,186.4 L555.7,186.4 L555.3,186.4 L554.9,186.4 L554.4,186.4 L554,186.4 L553.5,186.4 L553.1,186.4 L552.6,186.4 L552.2,186.4 L551.7,186.4 L551.3,186.4 L550.9,186.4 L550.4,186.4 L550,186.4 L549.5,186.4 L549.1,186.4 L548.6,186.4 L548.2,186.4 L547.7,186.4 L547.3,186.4 L546.9,186.4 L546.4,186.4 L546,186.4 L545.5,186.4 L545.1,186.4 L544.6,186.4 L544.2,186.4 L543.8,186.4 L543.3,186.4 L542.9,186.4 L542.4,186.4 L542,186.4 L541.5,186.4 L541.1,186.4 L540.6,186.4 L540.2,186.4 L539.8,186.4 L539.3,186.4 L538.9,186.4 L538.4,186.4 L538,186.4 L537.5,186.4 L537.1,186.4 L536.6,186.4 L536.2,186.4 L535.8,186.4 L535.3,186.4 L534.9,186.4 L534.4,186.4 L534,186.4 L533.5,186.4 L533.1,186.4 L532.6,186.4 L532.2,186.4 L531.8,186.4 L531.3,186.4 L530.9,186.4 L530.4,186.4 L530,186.4 L529.5,186.4 L529.1,186.4 L528.6,186.4 L528.2,186.4 L527.8,186.4 L527.3,186.4 L526.9,186.4 L526.4,186.4 L526,186.4 L525.5,186.4 L525.1,186.4 L524.7,186.4 L524.2,186.4 L523.8,186.4 L523.3,186.4 L522.9,186.4 L522.4,186.4 L522,186.4 L521.5,186.4 L521.1,186.4 L520.7,186.4 L520.2,186.4 L519.8,186.4 L519.3,186.4 L518.9,186.4 L518.4,186.4 L518,186.4 L517.5,186.4 L517.1,186.4 L516.7,186.4 L516.2,186.4 L515.8,186.4 L515.3,186.4 L514.9,186.4 L514.4,186.4 L514,186.4 L513.5,186.4 L513.1,186.4 L512.7,186.4 L512.2,186.4 L511.8,186.4 L511.3,186.4 L510.9,186.4 L510.4,186.4 L510,186.4 L509.5,186.4 L509.1,186.4 L508.7,186.4 L508.2,186.4 L507.8,186.4 L507.3,186.4 L506.9,186.4 L506.4,186.4 L506,186.4 L505.6,186.4 L505.1,186.4 L504.7,186.4 L504.2,186.4 L503.8,186.4 L503.3,186.4 L502.9,186.4 L502.4,186.4 L502,186.4 L501.6,186.4 L501.1,186.4 L500.7,186.4 L500.2,186.4 L499.8,186.4 L499.3,186.4 L498.9,186.4 L498.4,186.4 L498,186.4 Z" fill="#f6c21c" fill-opacity="1.0" />
<path d="M528.6,186.3 529.1,186.3 529.5,186.3 530,186.3 530.4,186.3 530.9,186.3 531.3,186.3 531.8,186.3 532.2,186.3 532.6,186.2 533.1,186.2 533.5,186.2 534,186.2 534.4,186.2 534.9,186.2 535.3,186.2 535.8,186.2 536.2,186.1 536.6,186.1 537.1,186.1 537.5,186.1 538,186.1 538.4,186.1 538.9,186 539.3,186 539.8,186 540.2,186 540.6,185.9 541.1,185.9 541.5,185.9 542,185.8 542.4,185.8 542.9,185.8 543.3,185.7 543.8,185.7 544.2,185.7 544.6,185.6 545.1,185.6 545.5,185.6 546,185.5 546.4,185.5 546.9,185.4 547.3,185.4 547.7,185.3 548.2,185.3 548.6,185.2 549.1,185.1 549.5,185.1 550,185 550.4,184.9 550.9,184.9 551.3,184.8 551.7,184.7 552.2,184.7 552.6,184.6 553.1,184.5 553.5,184.4 554,184.3 554.4,184.3 554.9,184.2 555.3,184.1 555.7,184 556.2,183.9 556.6,183.8 557.1,183.7 557.5,183.6 558,183.5 558.4,183.4 558.9,183.3 559.3,183.2 559.7,183 560.2,182.9 560.6,182.8 561.1,182.7 561.5,182.6 562,182.4 562.4,182.3 562.9,182.2 563.3,182.1 563.7,181.9 564.2,181.8 564.6,181.7 565.1,181.5 565.5,181.4 566,181.3 566.4,181.1 566.8,181 567.3,180.9 567.7,180.7 568.2,180.6 568.6,180.4 569.1,180.3 569.5,180.2 570,180 570.4,179.9 570.8,179.8 571.3,179.6 571.7,179.5 572.2,179.4 572.6,179.2 573.1,179.1 573.5,179 574,178.9 574.4,178.7 574.8,178.6 575.3,178.5 575.7,178.4 576.2,178.3 576.6,178.2 577.1,178.1 577.5,178 578,177.9 578.4,177.8 578.8,177.7 579.3,177.6 579.7,177.5 580.2,177.4 580.6,177.4 581.1,177.3 581.5,177.2 581.9,177.2 582.4,177.1 582.8,177.1 583.3,177 583.7,177 584.2,176.9 584.6,176.9 585.1,176.9 585.5,176.9 585.9,176.9 586.4,176.8 586.8,176.8 587.3,176.9 587.7,176.9 588.2,176.9 588.6,176.9 589.1,176.9 589.5,176.9 589.9,177 590.4,177 590.8,177.1 591.3,177.1 591.7,177.2 592.2,177.2 592.6,177.3 593.1,177.4 593.5,177.4 593.9,177.5 594.4,177.6 594.8,177.7 595.3,177.8 595.7,177.9 596.2,178 596.6,178.1 597.1,178.2 597.5,178.3 597.9,178.4 598.4,178.5 598.8,178.6 599.3,178.7 599.7,178.9 600.2,179 600.6,179.1 601,179.2 601.5,179.4 601.9,179.5 602.4,179.6 602.8,179.8 603.3,179.9 603.7,180 604.2,180.2 604.6,180.3 605,180.5 605.5,180.6 605.9,180.7 606.4,180.9 606.8,181 607.3,181.1 607.7,181.3 608.2,181.4 608.6,181.5 609,181.7 609.5,181.8 609.9,181.9 610.4,182.1 610.8,182.2 611.3,182.3 611.7,182.4 612.2,182.6 612.6,182.7 613,182.8 613.5,182.9 613.9,183 614.4,183.2 614.8,183.3 615.3,183.4 615.7,183.5 616.2,183.6 616.6,183.7 617,183.8 617.5,183.9 617.9,184 618.4,184.1 618.8,184.2 619.3,184.3 619.7,184.4 620.1,184.4 620.6,184.5 621,184.6 621.5,184.7 621.9,184.7 622.4,184.8 622.8,184.9 623.3,185 623.7,185 624.1,185.1 624.6,185.1 625,185.2 625.5,185.3 625.9,185.3 626.4,185.4 626.8,185.4 627.3,185.5 627.7,185.5 628.1,185.6 628.6,185.6 629,185.6 629.5,185.7 629.9,185.7 630.4,185.8 630.8,185.8 631.3,185.8 631.7,185.8 632.1,185.9 632.6,185.9 633,185.9 633.5,186 633.9,186 634.4,186 634.8,186 635.3,186.1 635.7,186.1 636.1,186.1 636.6,186.1 637,186.1 637.5,186.1 637.9,186.2 638.4,186.2 638.8,186.2 639.2,186.2 639.7,186.2 640.1,186.2 640.6,186.2 641,186.2 641.5,186.3 641.9,186.3 642.4,186.3 642.8,186.3 643.2,186.3 643.7,186.3 644.1,186.3 644.6,186.3 645,186.3 L645,186.4 L644.6,186.4 L644.1,186.4 L643.7,186.4 L643.2,186.4 L642.8,186.4 L642.4,186.4 L641.9,186.4 L641.5,186.4 L641,186.4 L640.6,186.4 L640.1,186.4 L639.7,186.4 L639.2,186.4 L638.8,186.4 L638.4,186.4 L637.9,186.4 L637.5,186.4 L637,186.4 L636.6,186.4 L636.1,186.4 L635.7,186.4 L635.3,186.4 L634.8,186.4 L634.4,186.4 L633.9,186.4 L633.5,186.4 L633,186.4 L632.6,186.4 L632.1,186.4 L631.7,186.4 L631.3,186.4 L630.8,186.4 L630.4,186.4 L629.9,186.4 L629.5,186.4 L629,186.4 L628.6,186.4 L628.1,186.4 L627.7,186.4 L627.3,186.4 L626.8,186.4 L626.4,186.4 L625.9,186.4 L625.5,186.4 L625,186.4 L624.6,186.4 L624.1,186.4 L623.7,186.4 L623.3,186.4 L622.8,186.4 L622.4,186.4 L621.9,186.4 L621.5,186.4 L621,186.4 L620.6,186.4 L620.1,186.4 L619.7,186.4 L619.3,186.4 L618.8,186.4 L618.4,186.4 L617.9,186.4 L617.5,186.4 L617,186.4 L616.6,186.4 L616.2,186.4 L615.7,186.4 L615.3,186.4 L614.8,186.4 L614.4,186.4 L613.9,186.4 L613.5,186.4 L613,186.4 L612.6,186.4 L612.2,186.4 L611.7,186.4 L611.3,186.4 L610.8,186.4 L610.4,186.4 L609.9,186.4 L609.5,186.4 L609,186.4 L608.6,186.4 L608.2,186.4 L607.7,186.4 L607.3,186.4 L606.8,186.4 L606.4,186.4 L605.9,186.4 L605.5,186.4 L605,186.4 L604.6,186.4 L604.2,186.4 L603.7,186.4 L603.3,186.4 L602.8,186.4 L602.4,186.4 L601.9,186.4 L601.5,186.4 L601,186.4 L600.6,186.4 L600.2,186.4 L599.7,186.4 L599.3,186.4 L598.8,186.4 L598.4,186.4 L597.9,186.4 L597.5,186.4 L597.1,186.4 L596.6,186.4 L596.2,186.4 L595.7,186.4 L595.3,186.4 L594.8,186.4 L594.4,186.4 L593.9,186.4 L593.5,186.4 L593.1,186.4 L592.6,186.4 L592.2,186.4 L591.7,186.4 L591.3,186.4 L590.8,186.4 L590.4,186.4 L589.9,186.4 L589.5,186.4 L589.1,186.4 L588.6,186.4 L588.2,186.4 L587.7,186.4 L587.3,186.4 L586.8,186.4 L586.4,186.4 L585.9,186.4 L585.5,186.4 L585.1,186.4 L584.6,186.4 L584.2,186.4 L583.7,186.4 L583.3,186.4 L582.8,186.4 L582.4,186.4 L581.9,186.4 L581.5,186.4 L581.1,186.4 L580.6,186.4 L580.2,186.4 L579.7,186.4 L579.3,186.4 L578.8,186.4 L578.4,186.4 L578,186.4 L577.5,186.4 L577.1,186.4 L576.6,186.4 L576.2,186.4 L575.7,186.4 L575.3,186.4 L574.8,186.4 L574.4,186.4 L574,186.4 L573.5,186.4 L573.1,186.4 L572.6,186.4 L572.2,186.4 L571.7,186.4 L571.3,186.4 L570.8,186.4 L570.4,186.4 L570,186.4 L569.5,186.4 L569.1,186.4 L568.6,186.4 L568.2,186.4 L567.7,186.4 L567.3,186.4 L566.8,186.4 L566.4,186.4 L566,186.4 L565.5,186.4 L565.1,186.4 L564.6,186.4 L564.2,186.4 L563.7,186.4 L563.3,186.4 L562.9,186.4 L562.4,186.4 L562,186.4 L561.5,186.4 L561.1,186.4 L560.6,186.4 L560.2,186.4 L559.7,186.4 L559.3,186.4 L558.9,186.4 L558.4,186.4 L558,186.4 L557.5,186.4 L557.1,186.4 L556.6,186.4 L556.2,186.4 L555.7,186.4 L555.3,186.4 L554.9,186.4 L554.4,186.4 L554,186.4 L553.5,186.4 L553.1,186.4 L552.6,186.4 L552.2,186.4 L551.7,186.4 L551.3,186.4 L550.9,186.4 L550.4,186.4 L550,186.4 L549.5,186.4 L549.1,186.4 L548.6,186.4 L548.2,186.4 L547.7,186.4 L547.3,186.4 L546.9,186.4 L546.4,186.4 L546,186.4 L545.5,186.4 L545.1,186.4 L544.6,186.4 L544.2,186.4 L543.8,186.4 L543.3,186.4 L542.9,186.4 L542.4,186.4 L542,186.4 L541.5,186.4 L541.1,186.4 L540.6,186.4 L540.2,186.4 L539.8,186.4 L539.3,186.4 L538.9,186.4 L538.4,186.4 L538,186.4 L537.5,186.4 L537.1,186.4 L536.6,186.4 L536.2,186.4 L535.8,186.4 L535.3,186.4 L534.9,186.4 L534.4,186.4 L534,186.4 L533.5,186.4 L533.1,186.4 L532.6,186.4 L532.2,186.4 L531.8,186.4 L531.3,186.4 L530.9,186.4 L530.4,186.4 L530,186.4 L529.5,186.4 L529.1,186.4 L528.6,186.4 Z" fill="#e0309a" fill-opacity="0.6" />
<path d="M577.1,186.3 577.5,186.3 578,186.3 578.4,186.2 578.8,186.2 579.3,186.2 579.7,186.1 580.2,186.1 580.6,186 581.1,186 581.5,185.9 581.9,185.8 582.4,185.7 582.8,185.6 583.3,185.5 583.7,185.4 584.2,185.2 584.6,185.1 585.1,184.9 585.5,184.6 585.9,184.4 586.4,184.2 586.8,183.9 587.3,183.6 587.7,183.3 588.2,182.9 588.6,182.5 589.1,182.1 589.5,181.7 589.9,181.2 590.4,180.8 590.8,180.3 591.3,179.8 591.7,179.3 592.2,178.7 592.6,178.2 593.1,177.6 593.5,177.1 593.9,176.5 594.4,176 594.8,175.5 595.3,174.9 595.7,174.5 596.2,174 596.6,173.6 597.1,173.2 597.5,172.8 597.9,172.5 598.4,172.2 598.8,172 599.3,171.9 599.7,171.7 600.2,171.7 600.6,171.7 601,171.7 601.5,171.9 601.9,172 602.4,172.2 602.8,172.5 603.3,172.8 603.7,173.2 604.2,173.6 604.6,174 605,174.5 605.5,175 605.9,175.5 606.4,176 606.8,176.5 607.3,177.1 607.7,177.6 608.2,178.2 608.6,178.7 609,179.3 609.5,179.8 609.9,180.3 610.4,180.8 610.8,181.3 611.3,181.7 611.7,182.1 612.2,182.5 612.6,182.9 613,183.3 613.5,183.6 613.9,183.9 614.4,184.2 614.8,184.4 615.3,184.7 615.7,184.9 616.2,185.1 616.6,185.2 617,185.4 617.5,185.5 617.9,185.6 618.4,185.7 618.8,185.8 619.3,185.9 619.7,186 620.1,186 620.6,186.1 621,186.1 621.5,186.2 621.9,186.2 622.4,186.2 622.8,186.3 623.3,186.3 623.7,186.3 L623.7,186.4 L623.3,186.4 L622.8,186.4 L622.4,186.4 L621.9,186.4 L621.5,186.4 L621,186.4 L620.6,186.4 L620.1,186.4 L619.7,186.4 L619.3,186.4 L618.8,186.4 L618.4,186.4 L617.9,186.4 L617.5,186.4 L617,186.4 L616.6,186.4 L616.2,186.4 L615.7,186.4 L615.3,186.4 L614.8,186.4 L614.4,186.4 L613.9,186.4 L613.5,186.4 L613,186.4 L612.6,186.4 L612.2,186.4 L611.7,186.4 L611.3,186.4 L610.8,186.4 L610.4,186.4 L609.9,186.4 L609.5,186.4 L609,186.4 L608.6,186.4 L608.2,186.4 L607.7,186.4 L607.3,186.4 L606.8,186.4 L606.4,186.4 L605.9,186.4 L605.5,186.4 L605,186.4 L604.6,186.4 L604.2,186.4 L603.7,186.4 L603.3,186.4 L602.8,186.4 L602.4,186.4 L601.9,186.4 L601.5,186.4 L601,186.4 L600.6,186.4 L600.2,186.4 L599.7,186.4 L599.3,186.4 L598.8,186.4 L598.4,186.4 L597.9,186.4 L597.5,186.4 L597.1,186.4 L596.6,186.4 L596.2,186.4 L595.7,186.4 L595.3,186.4 L594.8,186.4 L594.4,186.4 L593.9,186.4 L593.5,186.4 L593.1,186.4 L592.6,186.4 L592.2,186.4 L591.7,186.4 L591.3,186.4 L590.8,186.4 L590.4,186.4 L589.9,186.4 L589.5,186.4 L589.1,186.4 L588.6,186.4 L588.2,186.4 L587.7,186.4 L587.3,186.4 L586.8,186.4 L586.4,186.4 L585.9,186.4 L585.5,186.4 L585.1,186.4 L584.6,186.4 L584.2,186.4 L583.7,186.4 L583.3,186.4 L582.8,186.4 L582.4,186.4 L581.9,186.4 L581.5,186.4 L581.1,186.4 L580.6,186.4 L580.2,186.4 L579.7,186.4 L579.3,186.4 L578.8,186.4 L578.4,186.4 L578,186.4 L577.5,186.4 L577.1,186.4 Z" fill="#c090c8" fill-opacity="0.7" />
<path d="M605.5,186.3 605.9,186.3 606.4,186.3 606.8,186.3 607.3,186.2 607.7,186.2 608.2,186.2 608.6,186.1 609,186.1 609.5,186 609.9,185.9 610.4,185.8 610.8,185.7 611.3,185.6 611.7,185.5 612.2,185.4 612.6,185.2 613,185 613.5,184.8 613.9,184.6 614.4,184.3 614.8,184 615.3,183.7 615.7,183.3 616.2,182.9 616.6,182.5 617,182 617.5,181.5 617.9,181 618.4,180.4 618.8,179.8 619.3,179.2 619.7,178.5 620.1,177.8 620.6,177.1 621,176.3 621.5,175.6 621.9,174.8 622.4,174 622.8,173.2 623.3,172.4 623.7,171.6 624.1,170.8 624.6,170.1 625,169.4 625.5,168.7 625.9,168 626.4,167.4 626.8,166.9 627.3,166.4 627.7,166 628.1,165.7 628.6,165.4 629,165.2 629.5,165.1 629.9,165.1 630.4,165.1 630.8,165.2 631.3,165.4 631.7,165.7 632.1,166.1 632.6,166.5 633,167 633.5,167.6 633.9,168.2 634.4,168.8 634.8,169.5 635.3,170.3 635.7,171 636.1,171.8 636.6,172.6 637,173.4 637.5,174.2 637.9,175 638.4,175.7 638.8,176.5 639.2,177.3 639.7,178 640.1,178.7 640.6,179.3 641,180 641.5,180.6 641.9,181.1 642.4,181.7 642.8,182.1 643.2,182.6 643.7,183 644.1,183.4 644.6,183.7 645,184.1 645.5,184.3 645.9,184.6 646.4,184.8 646.8,185 647.2,185.2 647.7,185.4 648.1,185.5 648.6,185.7 649,185.8 649.5,185.9 649.9,185.9 650.4,186 650.8,186.1 651.2,186.1 651.7,186.2 652.1,186.2 652.6,186.2 653,186.3 653.5,186.3 653.9,186.3 654.4,186.3 L654.4,186.4 L653.9,186.4 L653.5,186.4 L653,186.4 L652.6,186.4 L652.1,186.4 L651.7,186.4 L651.2,186.4 L650.8,186.4 L650.4,186.4 L649.9,186.4 L649.5,186.4 L649,186.4 L648.6,186.4 L648.1,186.4 L647.7,186.4 L647.2,186.4 L646.8,186.4 L646.4,186.4 L645.9,186.4 L645.5,186.4 L645,186.4 L644.6,186.4 L644.1,186.4 L643.7,186.4 L643.2,186.4 L642.8,186.4 L642.4,186.4 L641.9,186.4 L641.5,186.4 L641,186.4 L640.6,186.4 L640.1,186.4 L639.7,186.4 L639.2,186.4 L638.8,186.4 L638.4,186.4 L637.9,186.4 L637.5,186.4 L637,186.4 L636.6,186.4 L636.1,186.4 L635.7,186.4 L635.3,186.4 L634.8,186.4 L634.4,186.4 L633.9,186.4 L633.5,186.4 L633,186.4 L632.6,186.4 L632.1,186.4 L631.7,186.4 L631.3,186.4 L630.8,186.4 L630.4,186.4 L629.9,186.4 L629.5,186.4 L629,186.4 L628.6,186.4 L628.1,186.4 L627.7,186.4 L627.3,186.4 L626.8,186.4 L626.4,186.4 L625.9,186.4 L625.5,186.4 L625,186.4 L624.6,186.4 L624.1,186.4 L623.7,186.4 L623.3,186.4 L622.8,186.4 L622.4,186.4 L621.9,186.4 L621.5,186.4 L621,186.4 L620.6,186.4 L620.1,186.4 L619.7,186.4 L619.3,186.4 L618.8,186.4 L618.4,186.4 L617.9,186.4 L617.5,186.4 L617,186.4 L616.6,186.4 L616.2,186.4 L615.7,186.4 L615.3,186.4 L614.8,186.4 L614.4,186.4 L613.9,186.4 L613.5,186.4 L613,186.4 L612.6,186.4 L612.2,186.4 L611.7,186.4 L611.3,186.4 L610.8,186.4 L610.4,186.4 L609.9,186.4 L609.5,186.4 L609,186.4 L608.6,186.4 L608.2,186.4 L607.7,186.4 L607.3,186.4 L606.8,186.4 L606.4,186.4 L605.9,186.4 L605.5,186.4 Z" fill="#c090c8" fill-opacity="0.7" />
<path d="M581.9,186.3 582.4,186.3 582.8,186.3 583.3,186.3 583.7,186.3 584.2,186.2 584.6,186.2 585.1,186.2 585.5,186.2 585.9,186.1 586.4,186.1 586.8,186 587.3,186 587.7,185.9 588.2,185.9 588.6,185.8 589.1,185.7 589.5,185.7 589.9,185.6 590.4,185.5 590.8,185.4 591.3,185.2 591.7,185.1 592.2,185 592.6,184.8 593.1,184.6 593.5,184.5 593.9,184.3 594.4,184 594.8,183.8 595.3,183.6 595.7,183.3 596.2,183 596.6,182.7 597.1,182.4 597.5,182 597.9,181.6 598.4,181.2 598.8,180.8 599.3,180.4 599.7,179.9 600.2,179.5 600.6,179 601,178.4 601.5,177.9 601.9,177.3 602.4,176.8 602.8,176.2 603.3,175.5 603.7,174.9 604.2,174.3 604.6,173.6 605,173 605.5,172.3 605.9,171.6 606.4,171 606.8,170.3 607.3,169.6 607.7,169 608.2,168.3 608.6,167.7 609,167.1 609.5,166.5 609.9,165.9 610.4,165.3 610.8,164.8 611.3,164.3 611.7,163.8 612.2,163.4 612.6,163 613,162.6 613.5,162.3 613.9,162 614.4,161.8 614.8,161.6 615.3,161.5 615.7,161.4 616.2,161.3 616.6,161.4 617,161.4 617.5,161.5 617.9,161.7 618.4,161.9 618.8,162.1 619.3,162.4 619.7,162.7 620.1,163.1 620.6,163.5 621,164 621.5,164.4 621.9,164.9 622.4,165.5 622.8,166.1 623.3,166.6 623.7,167.3 624.1,167.9 624.6,168.5 625,169.2 625.5,169.8 625.9,170.5 626.4,171.2 626.8,171.8 627.3,172.5 627.7,173.2 628.1,173.8 628.6,174.5 629,175.1 629.5,175.7 629.9,176.3 630.4,176.9 630.8,177.5 631.3,178 631.7,178.6 632.1,179.1 632.6,179.6 633,180.1 633.5,180.5 633.9,180.9 634.4,181.4 634.8,181.7 635.3,182.1 635.7,182.5 636.1,182.8 636.6,183.1 637,183.4 637.5,183.6 637.9,183.9 638.4,184.1 638.8,184.3 639.2,184.5 639.7,184.7 640.1,184.9 640.6,185 641,185.1 641.5,185.3 641.9,185.4 642.4,185.5 642.8,185.6 643.2,185.7 643.7,185.8 644.1,185.8 644.6,185.9 645,186 645.5,186 645.9,186.1 646.4,186.1 646.8,186.1 647.2,186.2 647.7,186.2 648.1,186.2 648.6,186.2 649,186.3 649.5,186.3 649.9,186.3 650.4,186.3 650.8,186.3 L650.8,186.4 L650.4,186.4 L649.9,186.4 L649.5,186.4 L649,186.4 L648.6,186.4 L648.1,186.4 L647.7,186.4 L647.2,186.4 L646.8,186.4 L646.4,186.4 L645.9,186.4 L645.5,186.4 L645,186.4 L644.6,186.4 L644.1,186.4 L643.7,186.4 L643.2,186.4 L642.8,186.4 L642.4,186.4 L641.9,186.4 L641.5,186.4 L641,186.4 L640.6,186.4 L640.1,186.4 L639.7,186.4 L639.2,186.4 L638.8,186.4 L638.4,186.4 L637.9,186.4 L637.5,186.4 L637,186.4 L636.6,186.4 L636.1,186.4 L635.7,186.4 L635.3,186.4 L634.8,186.4 L634.4,186.4 L633.9,186.4 L633.5,186.4 L633,186.4 L632.6,186.4 L632.1,186.4 L631.7,186.4 L631.3,186.4 L630.8,186.4 L630.4,186.4 L629.9,186.4 L629.5,186.4 L629,186.4 L628.6,186.4 L628.1,186.4 L627.7,186.4 L627.3,186.4 L626.8,186.4 L626.4,186.4 L625.9,186.4 L625.5,186.4 L625,186.4 L624.6,186.4 L624.1,186.4 L623.7,186.4 L623.3,186.4 L622.8,186.4 L622.4,186.4 L621.9,186.4 L621.5,186.4 L621,186.4 L620.6,186.4 L620.1,186.4 L619.7,186.4 L619.3,186.4 L618.8,186.4 L618.4,186.4 L617.9,186.4 L617.5,186.4 L617,186.4 L616.6,186.4 L616.2,186.4 L615.7,186.4 L615.3,186.4 L614.8,186.4 L614.4,186.4 L613.9,186.4 L613.5,186.4 L613,186.4 L612.6,186.4 L612.2,186.4 L611.7,186.4 L611.3,186.4 L610.8,186.4 L610.4,186.4 L609.9,186.4 L609.5,186.4 L609,186.4 L608.6,186.4 L608.2,186.4 L607.7,186.4 L607.3,186.4 L606.8,186.4 L606.4,186.4 L605.9,186.4 L605.5,186.4 L605,186.4 L604.6,186.4 L604.2,186.4 L603.7,186.4 L603.3,186.4 L602.8,186.4 L602.4,186.4 L601.9,186.4 L601.5,186.4 L601,186.4 L600.6,186.4 L600.2,186.4 L599.7,186.4 L599.3,186.4 L598.8,186.4 L598.4,186.4 L597.9,186.4 L597.5,186.4 L597.1,186.4 L596.6,186.4 L596.2,186.4 L595.7,186.4 L595.3,186.4 L594.8,186.4 L594.4,186.4 L593.9,186.4 L593.5,186.4 L593.1,186.4 L592.6,186.4 L592.2,186.4 L591.7,186.4 L591.3,186.4 L590.8,186.4 L590.4,186.4 L589.9,186.4 L589.5,186.4 L589.1,186.4 L588.6,186.4 L588.2,186.4 L587.7,186.4 L587.3,186.4 L586.8,186.4 L586.4,186.4 L585.9,186.4 L585.5,186.4 L585.1,186.4 L584.6,186.4 L584.2,186.4 L583.7,186.4 L583.3,186.4 L582.8,186.4 L582.4,186.4 L581.9,186.4 Z" fill="#5a8fdc" fill-opacity="0.75" />
<path d="M605,186.3 605.5,186.3 605.9,186.3 606.4,186.3 606.8,186.3 607.3,186.2 607.7,186.2 608.2,186.2 608.6,186.2 609,186.1 609.5,186.1 609.9,186.1 610.4,186 610.8,186 611.3,185.9 611.7,185.9 612.2,185.8 612.6,185.8 613,185.7 613.5,185.6 613.9,185.5 614.4,185.4 614.8,185.3 615.3,185.2 615.7,185.1 616.2,185 616.6,184.8 617,184.7 617.5,184.5 617.9,184.3 618.4,184.1 618.8,183.9 619.3,183.7 619.7,183.4 620.1,183.2 620.6,182.9 621,182.6 621.5,182.3 621.9,181.9 622.4,181.6 622.8,181.2 623.3,180.8 623.7,180.3 624.1,179.9 624.6,179.4 625,178.9 625.5,178.4 625.9,177.8 626.4,177.3 626.8,176.7 627.3,176.1 627.7,175.4 628.1,174.8 628.6,174.1 629,173.4 629.5,172.6 629.9,171.9 630.4,171.1 630.8,170.3 631.3,169.6 631.7,168.7 632.1,167.9 632.6,167.1 633,166.3 633.5,165.4 633.9,164.6 634.4,163.7 634.8,162.9 635.3,162.1 635.7,161.2 636.1,160.4 636.6,159.6 637,158.8 637.5,158.1 637.9,157.3 638.4,156.6 638.8,155.9 639.2,155.2 639.7,154.6 640.1,154 640.6,153.4 641,152.9 641.5,152.5 641.9,152 642.4,151.6 642.8,151.3 643.2,151 643.7,150.8 644.1,150.6 644.6,150.5 645,150.4 645.5,150.3 645.9,150.4 646.4,150.5 646.8,150.6 647.2,150.8 647.7,151 648.1,151.3 648.6,151.6 649,152 649.5,152.5 649.9,152.9 650.4,153.5 650.8,154 651.2,154.6 651.7,155.2 652.1,155.9 652.6,156.6 653,157.3 653.5,158.1 653.9,158.8 654.4,159.6 654.8,160.4 655.2,161.2 655.7,162.1 656.1,162.9 656.6,163.8 657,164.6 657.5,165.4 657.9,166.3 658.3,167.1 658.8,167.9 659.2,168.8 659.7,169.6 660.1,170.4 660.6,171.1 661,171.9 661.5,172.6 661.9,173.4 662.3,174.1 662.8,174.8 663.2,175.4 663.7,176.1 664.1,176.7 664.6,177.3 665,177.9 665.5,178.4 665.9,178.9 666.3,179.4 666.8,179.9 667.2,180.3 667.7,180.8 668.1,181.2 668.6,181.6 669,181.9 669.5,182.3 669.9,182.6 670.3,182.9 670.8,183.2 671.2,183.4 671.7,183.7 672.1,183.9 672.6,184.1 673,184.3 673.5,184.5 673.9,184.7 674.3,184.8 674.8,185 675.2,185.1 675.7,185.2 676.1,185.3 676.6,185.4 677,185.5 677.4,185.6 677.9,185.7 678.3,185.8 678.8,185.8 679.2,185.9 679.7,185.9 680.1,186 680.6,186 681,186.1 681.4,186.1 681.9,186.1 682.3,186.2 682.8,186.2 683.2,186.2 683.7,186.2 684.1,186.3 L684.1,186.4 L683.7,186.4 L683.2,186.4 L682.8,186.4 L682.3,186.4 L681.9,186.4 L681.4,186.4 L681,186.4 L680.6,186.4 L680.1,186.4 L679.7,186.4 L679.2,186.4 L678.8,186.4 L678.3,186.4 L677.9,186.4 L677.4,186.4 L677,186.4 L676.6,186.4 L676.1,186.4 L675.7,186.4 L675.2,186.4 L674.8,186.4 L674.3,186.4 L673.9,186.4 L673.5,186.4 L673,186.4 L672.6,186.4 L672.1,186.4 L671.7,186.4 L671.2,186.4 L670.8,186.4 L670.3,186.4 L669.9,186.4 L669.5,186.4 L669,186.4 L668.6,186.4 L668.1,186.4 L667.7,186.4 L667.2,186.4 L666.8,186.4 L666.3,186.4 L665.9,186.4 L665.5,186.4 L665,186.4 L664.6,186.4 L664.1,186.4 L663.7,186.4 L663.2,186.4 L662.8,186.4 L662.3,186.4 L661.9,186.4 L661.5,186.4 L661,186.4 L660.6,186.4 L660.1,186.4 L659.7,186.4 L659.2,186.4 L658.8,186.4 L658.3,186.4 L657.9,186.4 L657.5,186.4 L657,186.4 L656.6,186.4 L656.1,186.4 L655.7,186.4 L655.2,186.4 L654.8,186.4 L654.4,186.4 L653.9,186.4 L653.5,186.4 L653,186.4 L652.6,186.4 L652.1,186.4 L651.7,186.4 L651.2,186.4 L650.8,186.4 L650.4,186.4 L649.9,186.4 L649.5,186.4 L649,186.4 L648.6,186.4 L648.1,186.4 L647.7,186.4 L647.2,186.4 L646.8,186.4 L646.4,186.4 L645.9,186.4 L645.5,186.4 L645,186.4 L644.6,186.4 L644.1,186.4 L643.7,186.4 L643.2,186.4 L642.8,186.4 L642.4,186.4 L641.9,186.4 L641.5,186.4 L641,186.4 L640.6,186.4 L640.1,186.4 L639.7,186.4 L639.2,186.4 L638.8,186.4 L638.4,186.4 L637.9,186.4 L637.5,186.4 L637,186.4 L636.6,186.4 L636.1,186.4 L635.7,186.4 L635.3,186.4 L634.8,186.4 L634.4,186.4 L633.9,186.4 L633.5,186.4 L633,186.4 L632.6,186.4 L632.1,186.4 L631.7,186.4 L631.3,186.4 L630.8,186.4 L630.4,186.4 L629.9,186.4 L629.5,186.4 L629,186.4 L628.6,186.4 L628.1,186.4 L627.7,186.4 L627.3,186.4 L626.8,186.4 L626.4,186.4 L625.9,186.4 L625.5,186.4 L625,186.4 L624.6,186.4 L624.1,186.4 L623.7,186.4 L623.3,186.4 L622.8,186.4 L622.4,186.4 L621.9,186.4 L621.5,186.4 L621,186.4 L620.6,186.4 L620.1,186.4 L619.7,186.4 L619.3,186.4 L618.8,186.4 L618.4,186.4 L617.9,186.4 L617.5,186.4 L617,186.4 L616.6,186.4 L616.2,186.4 L615.7,186.4 L615.3,186.4 L614.8,186.4 L614.4,186.4 L613.9,186.4 L613.5,186.4 L613,186.4 L612.6,186.4 L612.2,186.4 L611.7,186.4 L611.3,186.4 L610.8,186.4 L610.4,186.4 L609.9,186.4 L609.5,186.4 L609,186.4 L608.6,186.4 L608.2,186.4 L607.7,186.4 L607.3,186.4 L606.8,186.4 L606.4,186.4 L605.9,186.4 L605.5,186.4 L605,186.4 Z" fill="#5a8fdc" fill-opacity="0.75" />
<path d="M571.7,186.3 572.2,186.3 572.6,186.3 573.1,186.3 573.5,186.3 574,186.3 574.4,186.2 574.8,186.2 575.3,186.2 575.7,186.2 576.2,186.2 576.6,186.2 577.1,186.1 577.5,186.1 578,186.1 578.4,186.1 578.8,186.1 579.3,186 579.7,186 580.2,186 580.6,185.9 581.1,185.9 581.5,185.8 581.9,185.8 582.4,185.8 582.8,185.7 583.3,185.6 583.7,185.6 584.2,185.5 584.6,185.5 585.1,185.4 585.5,185.3 585.9,185.3 586.4,185.2 586.8,185.1 587.3,185 587.7,184.9 588.2,184.8 588.6,184.7 589.1,184.6 589.5,184.5 589.9,184.4 590.4,184.3 590.8,184.1 591.3,184 591.7,183.9 592.2,183.7 592.6,183.6 593.1,183.4 593.5,183.3 593.9,183.1 594.4,182.9 594.8,182.8 595.3,182.6 595.7,182.4 596.2,182.2 596.6,182 597.1,181.8 597.5,181.6 597.9,181.4 598.4,181.2 598.8,181 599.3,180.7 599.7,180.5 600.2,180.3 600.6,180.1 601,179.8 601.5,179.6 601.9,179.3 602.4,179.1 602.8,178.9 603.3,178.6 603.7,178.4 604.2,178.2 604.6,177.9 605,177.7 605.5,177.4 605.9,177.2 606.4,177 606.8,176.8 607.3,176.5 607.7,176.3 608.2,176.1 608.6,175.9 609,175.7 609.5,175.5 609.9,175.3 610.4,175.1 610.8,175 611.3,174.8 611.7,174.7 612.2,174.5 612.6,174.4 613,174.2 613.5,174.1 613.9,174 614.4,173.9 614.8,173.8 615.3,173.8 615.7,173.7 616.2,173.7 616.6,173.6 617,173.6 617.5,173.6 617.9,173.6 618.4,173.6 618.8,173.6 619.3,173.7 619.7,173.7 620.1,173.8 620.6,173.9 621,173.9 621.5,174 621.9,174.1 622.4,174.3 622.8,174.4 623.3,174.5 623.7,174.7 624.1,174.8 624.6,175 625,175.2 625.5,175.4 625.9,175.5 626.4,175.7 626.8,175.9 627.3,176.1 627.7,176.4 628.1,176.6 628.6,176.8 629,177 629.5,177.3 629.9,177.5 630.4,177.7 630.8,178 631.3,178.2 631.7,178.4 632.1,178.7 632.6,178.9 633,179.2 633.5,179.4 633.9,179.6 634.4,179.9 634.8,180.1 635.3,180.3 635.7,180.6 636.1,180.8 636.6,181 637,181.2 637.5,181.4 637.9,181.6 638.4,181.8 638.8,182 639.2,182.2 639.7,182.4 640.1,182.6 640.6,182.8 641,183 641.5,183.1 641.9,183.3 642.4,183.5 642.8,183.6 643.2,183.8 643.7,183.9 644.1,184 644.6,184.2 645,184.3 645.5,184.4 645.9,184.5 646.4,184.6 646.8,184.7 647.2,184.8 647.7,184.9 648.1,185 648.6,185.1 649,185.2 649.5,185.3 649.9,185.3 650.4,185.4 650.8,185.5 651.2,185.5 651.7,185.6 652.1,185.7 652.6,185.7 653,185.8 653.5,185.8 653.9,185.8 654.4,185.9 654.8,185.9 655.2,186 655.7,186 656.1,186 656.6,186.1 657,186.1 657.5,186.1 657.9,186.1 658.3,186.2 658.8,186.2 659.2,186.2 659.7,186.2 660.1,186.2 660.6,186.2 661,186.3 661.5,186.3 661.9,186.3 662.3,186.3 662.8,186.3 663.2,186.3 663.7,186.3 L663.7,186.4 L663.2,186.4 L662.8,186.4 L662.3,186.4 L661.9,186.4 L661.5,186.4 L661,186.4 L660.6,186.4 L660.1,186.4 L659.7,186.4 L659.2,186.4 L658.8,186.4 L658.3,186.4 L657.9,186.4 L657.5,186.4 L657,186.4 L656.6,186.4 L656.1,186.4 L655.7,186.4 L655.2,186.4 L654.8,186.4 L654.4,186.4 L653.9,186.4 L653.5,186.4 L653,186.4 L652.6,186.4 L652.1,186.4 L651.7,186.4 L651.2,186.4 L650.8,186.4 L650.4,186.4 L649.9,186.4 L649.5,186.4 L649,186.4 L648.6,186.4 L648.1,186.4 L647.7,186.4 L647.2,186.4 L646.8,186.4 L646.4,186.4 L645.9,186.4 L645.5,186.4 L645,186.4 L644.6,186.4 L644.1,186.4 L643.7,186.4 L643.2,186.4 L642.8,186.4 L642.4,186.4 L641.9,186.4 L641.5,186.4 L641,186.4 L640.6,186.4 L640.1,186.4 L639.7,186.4 L639.2,186.4 L638.8,186.4 L638.4,186.4 L637.9,186.4 L637.5,186.4 L637,186.4 L636.6,186.4 L636.1,186.4 L635.7,186.4 L635.3,186.4 L634.8,186.4 L634.4,186.4 L633.9,186.4 L633.5,186.4 L633,186.4 L632.6,186.4 L632.1,186.4 L631.7,186.4 L631.3,186.4 L630.8,186.4 L630.4,186.4 L629.9,186.4 L629.5,186.4 L629,186.4 L628.6,186.4 L628.1,186.4 L627.7,186.4 L627.3,186.4 L626.8,186.4 L626.4,186.4 L625.9,186.4 L625.5,186.4 L625,186.4 L624.6,186.4 L624.1,186.4 L623.7,186.4 L623.3,186.4 L622.8,186.4 L622.4,186.4 L621.9,186.4 L621.5,186.4 L621,186.4 L620.6,186.4 L620.1,186.4 L619.7,186.4 L619.3,186.4 L618.8,186.4 L618.4,186.4 L617.9,186.4 L617.5,186.4 L617,186.4 L616.6,186.4 L616.2,186.4 L615.7,186.4 L615.3,186.4 L614.8,186.4 L614.4,186.4 L613.9,186.4 L613.5,186.4 L613,186.4 L612.6,186.4 L612.2,186.4 L611.7,186.4 L611.3,186.4 L610.8,186.4 L610.4,186.4 L609.9,186.4 L609.5,186.4 L609,186.4 L608.6,186.4 L608.2,186.4 L607.7,186.4 L607.3,186.4 L606.8,186.4 L606.4,186.4 L605.9,186.4 L605.5,186.4 L605,186.4 L604.6,186.4 L604.2,186.4 L603.7,186.4 L603.3,186.4 L602.8,186.4 L602.4,186.4 L601.9,186.4 L601.5,186.4 L601,186.4 L600.6,186.4 L600.2,186.4 L599.7,186.4 L599.3,186.4 L598.8,186.4 L598.4,186.4 L597.9,186.4 L597.5,186.4 L597.1,186.4 L596.6,186.4 L596.2,186.4 L595.7,186.4 L595.3,186.4 L594.8,186.4 L594.4,186.4 L593.9,186.4 L593.5,186.4 L593.1,186.4 L592.6,186.4 L592.2,186.4 L591.7,186.4 L591.3,186.4 L590.8,186.4 L590.4,186.4 L589.9,186.4 L589.5,186.4 L589.1,186.4 L588.6,186.4 L588.2,186.4 L587.7,186.4 L587.3,186.4 L586.8,186.4 L586.4,186.4 L585.9,186.4 L585.5,186.4 L585.1,186.4 L584.6,186.4 L584.2,186.4 L583.7,186.4 L583.3,186.4 L582.8,186.4 L582.4,186.4 L581.9,186.4 L581.5,186.4 L581.1,186.4 L580.6,186.4 L580.2,186.4 L579.7,186.4 L579.3,186.4 L578.8,186.4 L578.4,186.4 L578,186.4 L577.5,186.4 L577.1,186.4 L576.6,186.4 L576.2,186.4 L575.7,186.4 L575.3,186.4 L574.8,186.4 L574.4,186.4 L574,186.4 L573.5,186.4 L573.1,186.4 L572.6,186.4 L572.2,186.4 L571.7,186.4 Z" fill="#3a3cb0" fill-opacity="0.55" />
<path d="M498,186.4 498.4,186.4 498.9,186.4 499.3,186.4 499.8,186.4 500.2,186.4 500.7,186.4 501.1,186.4 501.6,186.4 502,186.4 502.4,186.4 502.9,186.4 503.3,186.4 503.8,186.4 504.2,186.4 504.7,186.4 505.1,186.4 505.6,186.4 506,186.4 506.4,186.4 506.9,186.4 507.3,186.4 507.8,186.4 508.2,186.4 508.7,186.4 509.1,186.4 509.5,186.4 510,186.4 510.4,186.4 510.9,186.4 511.3,186.4 511.8,186.4 512.2,186.4 512.7,186.4 513.1,186.4 513.5,186.4 514,186.4 514.4,186.4 514.9,186.4 515.3,186.4 515.8,186.4 516.2,186.4 516.7,186.4 517.1,186.4 517.5,186.4 518,186.4 518.4,186.4 518.9,186.4 519.3,186.4 519.8,186.4 520.2,186.4 520.7,186.4 521.1,186.4 521.5,186.4 522,186.4 522.4,186.4 522.9,186.4 523.3,186.4 523.8,186.4 524.2,186.4 524.7,186.4 525.1,186.4 525.5,186.4 526,186.4 526.4,186.4 526.9,186.4 527.3,186.4 527.8,186.4 528.2,186.4 528.6,186.4 529.1,186.4 529.5,186.4 530,186.4 530.4,186.4 530.9,186.4 531.3,186.4 531.8,186.4 532.2,186.4 532.6,186.4 533.1,186.4 533.5,186.4 534,186.4 534.4,186.4 534.9,186.4 535.3,186.4 535.8,186.4 536.2,186.4 536.6,186.4 537.1,186.4 537.5,186.4 538,186.4 538.4,186.4 538.9,186.4 539.3,186.4 539.8,186.4 540.2,186.4 540.6,186.4 541.1,186.4 541.5,186.4 542,186.4 542.4,186.4 542.9,186.4 543.3,186.4 543.8,186.4 544.2,186.4 544.6,186.4 545.1,186.4 545.5,186.4 546,186.4 546.4,186.4 546.9,186.4 547.3,186.4 547.7,186.4 548.2,186.4 548.6,186.4 549.1,186.4 549.5,186.4 550,186.4 550.4,186.4 550.9,186.4 551.3,186.4 551.7,186.4 552.2,186.4 552.6,186.4 553.1,186.4 553.5,186.4 554,186.4 554.4,186.4 554.9,186.4 555.3,186.4 555.7,186.4 556.2,186.4 556.6,186.4 557.1,186.4 557.5,186.4 558,186.4 558.4,186.4 558.9,186.4 559.3,186.4 559.7,186.4 560.2,186.4 560.6,186.4 561.1,186.4 561.5,186.4 562,186.4 562.4,186.4 562.9,186.4 563.3,186.4 563.7,186.4 564.2,186.4 564.6,186.4 565.1,186.4 565.5,186.4 566,186.4 566.4,186.4 566.8,186.4 567.3,186.4 567.7,186.4 568.2,186.4 568.6,186.4 569.1,186.4 569.5,186.4 570,186.4 570.4,186.4 570.8,186.4 571.3,186.4 571.7,186.4 572.2,186.4 572.6,186.4 573.1,186.4 573.5,186.4 574,186.4 574.4,186.4 574.8,186.4 575.3,186.4 575.7,186.4 576.2,186.4 576.6,186.4 577.1,186.4 577.5,186.4 578,186.4 578.4,186.4 578.8,186.4 579.3,186.4 579.7,186.4 580.2,186.4 580.6,186.4 581.1,186.4 581.5,186.4 581.9,186.4 582.4,186.4 582.8,186.4 583.3,186.4 583.7,186.4 584.2,186.4 584.6,186.4 585.1,186.4 585.5,186.4 585.9,186.4 586.4,186.4 586.8,186.4 587.3,186.4 587.7,186.4 588.2,186.4 588.6,186.4 589.1,186.4 589.5,186.4 589.9,186.4 590.4,186.4 590.8,186.4 591.3,186.4 591.7,186.4 592.2,186.4 592.6,186.4 593.1,186.4 593.5,186.4 593.9,186.4 594.4,186.4 594.8,186.4 595.3,186.4 595.7,186.4 596.2,186.4 596.6,186.4 597.1,186.4 597.5,186.4 597.9,186.4 598.4,186.4 598.8,186.4 599.3,186.4 599.7,186.4 600.2,186.4 600.6,186.4 601,186.4 601.5,186.4 601.9,186.4 602.4,186.4 602.8,186.4 603.3,186.4 603.7,186.4 604.2,186.4 604.6,186.4 605,186.4 605.5,186.4 605.9,186.4 606.4,186.4 606.8,186.4 607.3,186.4 607.7,186.4 608.2,186.4 608.6,186.4 609,186.4 609.5,186.4 609.9,186.4 610.4,186.4 610.8,186.4 611.3,186.4 611.7,186.4 612.2,186.4 612.6,186.4 613,186.4 613.5,186.4 613.9,186.4 614.4,186.4 614.8,186.4 615.3,186.4 615.7,186.4 616.2,186.4 616.6,186.4 617,186.4 617.5,186.4 617.9,186.4 618.4,186.4 618.8,186.4 619.3,186.4 619.7,186.4 620.1,186.4 620.6,186.4 621,186.4 621.5,186.4 621.9,186.4 622.4,186.4 622.8,186.4 623.3,186.4 623.7,186.4 624.1,186.4 624.6,186.4 625,186.4 625.5,186.4 625.9,186.4 626.4,186.4 626.8,186.4 627.3,186.4 627.7,186.4 628.1,186.4 628.6,186.4 629,186.4 629.5,186.4 629.9,186.4 630.4,186.4 630.8,186.4 631.3,186.4 631.7,186.4 632.1,186.4 632.6,186.4 633,186.4 633.5,186.4 633.9,186.4 634.4,186.4 634.8,186.4 635.3,186.4 635.7,186.4 636.1,186.4 636.6,186.4 637,186.4 637.5,186.4 637.9,186.4 638.4,186.4 638.8,186.4 639.2,186.4 639.7,186.4 640.1,186.4 640.6,186.4 641,186.4 641.5,186.4 641.9,186.4 642.4,186.4 642.8,186.4 643.2,186.4 643.7,186.4 644.1,186.4 644.6,186.4 645,186.4 645.5,186.4 645.9,186.4 646.4,186.4 646.8,186.4 647.2,186.4 647.7,186.4 648.1,186.4 648.6,186.4 649,186.4 649.5,186.4 649.9,186.4 650.4,186.4 650.8,186.4 651.2,186.4 651.7,186.4 652.1,186.4 652.6,186.4 653,186.4 653.5,186.4 653.9,186.4 654.4,186.4 654.8,186.4 655.2,186.4 655.7,186.4 656.1,186.4 656.6,186.4 657,186.4 657.5,186.4 657.9,186.4 658.3,186.4 658.8,186.4 659.2,186.4 659.7,186.4 660.1,186.4 660.6,186.4 661,186.4 661.5,186.4 661.9,186.4 662.3,186.4 662.8,186.4 663.2,186.4 663.7,186.4 664.1,186.4 664.6,186.4 665,186.4 665.5,186.4 665.9,186.4 666.3,186.4 666.8,186.4 667.2,186.4 667.7,186.4 668.1,186.4 668.6,186.4 669,186.4 669.5,186.4 669.9,186.4 670.3,186.4 670.8,186.4 671.2,186.4 671.7,186.4 672.1,186.4 672.6,186.4 673,186.4 673.5,186.4 673.9,186.4 674.3,186.4 674.8,186.4 675.2,186.4 675.7,186.4 676.1,186.4 676.6,186.4 677,186.4 677.4,186.4 677.9,186.4 678.3,186.4 678.8,186.4 679.2,186.4 679.7,186.4 680.1,186.4 680.6,186.4 681,186.4 681.4,186.4 681.9,186.4 682.3,186.4 682.8,186.4 683.2,186.4 683.7,186.4 684.1,186.4" fill="none" stroke="#8a8a8a" stroke-width="0.9"/>
<path d="M496.9,182.7a1.05,1.05 0 1,0 2.1,0a1.05,1.05 0 1,0 -2.1,0M498.6,184.9a1.05,1.05 0 1,0 2.1,0a1.05,1.05 0 1,0 -2.1,0M500.3,184a1.05,1.05 0 1,0 2.1,0a1.05,1.05 0 1,0 -2.1,0M502.1,182.5a1.05,1.05 0 1,0 2.1,0a1.05,1.05 0 1,0 -2.1,0M503.8,182.9a1.05,1.05 0 1,0 2.1,0a1.05,1.05 0 1,0 -2.1,0M505.4,182.8a1.05,1.05 0 1,0 2.1,0a1.05,1.05 0 1,0 -2.1,0M507.1,183a1.05,1.05 0 1,0 2.1,0a1.05,1.05 0 1,0 -2.1,0M508.8,182.4a1.05,1.05 0 1,0 2.1,0a1.05,1.05 0 1,0 -2.1,0M510.6,181.9a1.05,1.05 0 1,0 2.1,0a1.05,1.05 0 1,0 -2.1,0M512.2,182.3a1.05,1.05 0 1,0 2.1,0a1.05,1.05 0 1,0 -2.1,0M514,181.4a1.05,1.05 0 1,0 2.1,0a1.05,1.05 0 1,0 -2.1,0M515.7,180.9a1.05,1.05 0 1,0 2.1,0a1.05,1.05 0 1,0 -2.1,0M517.4,182a1.05,1.05 0 1,0 2.1,0a1.05,1.05 0 1,0 -2.1,0M519.1,182.8a1.05,1.05 0 1,0 2.1,0a1.05,1.05 0 1,0 -2.1,0M520.8,180.2a1.05,1.05 0 1,0 2.1,0a1.05,1.05 0 1,0 -2.1,0M522.5,181.5a1.05,1.05 0 1,0 2.1,0a1.05,1.05 0 1,0 -2.1,0M524.2,180.7a1.05,1.05 0 1,0 2.1,0a1.05,1.05 0 1,0 -2.1,0M525.9,180.2a1.05,1.05 0 1,0 2.1,0a1.05,1.05 0 1,0 -2.1,0M527.6,181.9a1.05,1.05 0 1,0 2.1,0a1.05,1.05 0 1,0 -2.1,0M529.2,180.3a1.05,1.05 0 1,0 2.1,0a1.05,1.05 0 1,0 -2.1,0M531,182.2a1.05,1.05 0 1,0 2.1,0a1.05,1.05 0 1,0 -2.1,0M532.7,179.7a1.05,1.05 0 1,0 2.1,0a1.05,1.05 0 1,0 -2.1,0M534.4,180.7a1.05,1.05 0 1,0 2.1,0a1.05,1.05 0 1,0 -2.1,0M536.1,179.8a1.05,1.05 0 1,0 2.1,0a1.05,1.05 0 1,0 -2.1,0M537.8,179a1.05,1.05 0 1,0 2.1,0a1.05,1.05 0 1,0 -2.1,0M539.5,180a1.05,1.05 0 1,0 2.1,0a1.05,1.05 0 1,0 -2.1,0M541.2,178.9a1.05,1.05 0 1,0 2.1,0a1.05,1.05 0 1,0 -2.1,0M542.9,179.2a1.05,1.05 0 1,0 2.1,0a1.05,1.05 0 1,0 -2.1,0M544.6,177.9a1.05,1.05 0 1,0 2.1,0a1.05,1.05 0 1,0 -2.1,0M546.2,176.3a1.05,1.05 0 1,0 2.1,0a1.05,1.05 0 1,0 -2.1,0M548,176.6a1.05,1.05 0 1,0 2.1,0a1.05,1.05 0 1,0 -2.1,0M549.7,176.1a1.05,1.05 0 1,0 2.1,0a1.05,1.05 0 1,0 -2.1,0M551.4,176.4a1.05,1.05 0 1,0 2.1,0a1.05,1.05 0 1,0 -2.1,0M553.1,173.8a1.05,1.05 0 1,0 2.1,0a1.05,1.05 0 1,0 -2.1,0M554.8,174a1.05,1.05 0 1,0 2.1,0a1.05,1.05 0 1,0 -2.1,0M556.5,171.5a1.05,1.05 0 1,0 2.1,0a1.05,1.05 0 1,0 -2.1,0M558.2,173.1a1.05,1.05 0 1,0 2.1,0a1.05,1.05 0 1,0 -2.1,0M559.9,170.7a1.05,1.05 0 1,0 2.1,0a1.05,1.05 0 1,0 -2.1,0M561.6,169.2a1.05,1.05 0 1,0 2.1,0a1.05,1.05 0 1,0 -2.1,0M563.2,170.3a1.05,1.05 0 1,0 2.1,0a1.05,1.05 0 1,0 -2.1,0M565,170.8a1.05,1.05 0 1,0 2.1,0a1.05,1.05 0 1,0 -2.1,0M566.7,167.6a1.05,1.05 0 1,0 2.1,0a1.05,1.05 0 1,0 -2.1,0M568.4,167.5a1.05,1.05 0 1,0 2.1,0a1.05,1.05 0 1,0 -2.1,0M570.1,167.3a1.05,1.05 0 1,0 2.1,0a1.05,1.05 0 1,0 -2.1,0M571.8,166.4a1.05,1.05 0 1,0 2.1,0a1.05,1.05 0 1,0 -2.1,0M573.5,167.2a1.05,1.05 0 1,0 2.1,0a1.05,1.05 0 1,0 -2.1,0M575.2,165.3a1.05,1.05 0 1,0 2.1,0a1.05,1.05 0 1,0 -2.1,0M576.9,164.5a1.05,1.05 0 1,0 2.1,0a1.05,1.05 0 1,0 -2.1,0M578.6,164.6a1.05,1.05 0 1,0 2.1,0a1.05,1.05 0 1,0 -2.1,0M580.2,161.9a1.05,1.05 0 1,0 2.1,0a1.05,1.05 0 1,0 -2.1,0M582,161.5a1.05,1.05 0 1,0 2.1,0a1.05,1.05 0 1,0 -2.1,0M583.7,158.3a1.05,1.05 0 1,0 2.1,0a1.05,1.05 0 1,0 -2.1,0M585.4,156.2a1.05,1.05 0 1,0 2.1,0a1.05,1.05 0 1,0 -2.1,0M587.1,153.4a1.05,1.05 0 1,0 2.1,0a1.05,1.05 0 1,0 -2.1,0M588.8,154.7a1.05,1.05 0 1,0 2.1,0a1.05,1.05 0 1,0 -2.1,0M590.5,149.9a1.05,1.05 0 1,0 2.1,0a1.05,1.05 0 1,0 -2.1,0M592.2,147.8a1.05,1.05 0 1,0 2.1,0a1.05,1.05 0 1,0 -2.1,0M593.9,144.8a1.05,1.05 0 1,0 2.1,0a1.05,1.05 0 1,0 -2.1,0M595.6,142.1a1.05,1.05 0 1,0 2.1,0a1.05,1.05 0 1,0 -2.1,0M597.2,139.1a1.05,1.05 0 1,0 2.1,0a1.05,1.05 0 1,0 -2.1,0M599,138.3a1.05,1.05 0 1,0 2.1,0a1.05,1.05 0 1,0 -2.1,0M600.7,133.1a1.05,1.05 0 1,0 2.1,0a1.05,1.05 0 1,0 -2.1,0M602.4,131.1a1.05,1.05 0 1,0 2.1,0a1.05,1.05 0 1,0 -2.1,0M604.1,130.7a1.05,1.05 0 1,0 2.1,0a1.05,1.05 0 1,0 -2.1,0M605.8,129.8a1.05,1.05 0 1,0 2.1,0a1.05,1.05 0 1,0 -2.1,0M607.5,131.3a1.05,1.05 0 1,0 2.1,0a1.05,1.05 0 1,0 -2.1,0M609.2,130.9a1.05,1.05 0 1,0 2.1,0a1.05,1.05 0 1,0 -2.1,0M610.9,128.5a1.05,1.05 0 1,0 2.1,0a1.05,1.05 0 1,0 -2.1,0M612.6,127.3a1.05,1.05 0 1,0 2.1,0a1.05,1.05 0 1,0 -2.1,0M614.2,127.5a1.05,1.05 0 1,0 2.1,0a1.05,1.05 0 1,0 -2.1,0M616,128.4a1.05,1.05 0 1,0 2.1,0a1.05,1.05 0 1,0 -2.1,0M617.7,123.2a1.05,1.05 0 1,0 2.1,0a1.05,1.05 0 1,0 -2.1,0M619.4,125.6a1.05,1.05 0 1,0 2.1,0a1.05,1.05 0 1,0 -2.1,0M621.1,123a1.05,1.05 0 1,0 2.1,0a1.05,1.05 0 1,0 -2.1,0M622.8,124.1a1.05,1.05 0 1,0 2.1,0a1.05,1.05 0 1,0 -2.1,0M624.5,121.2a1.05,1.05 0 1,0 2.1,0a1.05,1.05 0 1,0 -2.1,0M626.2,121.5a1.05,1.05 0 1,0 2.1,0a1.05,1.05 0 1,0 -2.1,0M627.9,120.2a1.05,1.05 0 1,0 2.1,0a1.05,1.05 0 1,0 -2.1,0M629.6,121.1a1.05,1.05 0 1,0 2.1,0a1.05,1.05 0 1,0 -2.1,0M631.2,124.3a1.05,1.05 0 1,0 2.1,0a1.05,1.05 0 1,0 -2.1,0M633,124.7a1.05,1.05 0 1,0 2.1,0a1.05,1.05 0 1,0 -2.1,0M634.7,124.6a1.05,1.05 0 1,0 2.1,0a1.05,1.05 0 1,0 -2.1,0M636.4,125.5a1.05,1.05 0 1,0 2.1,0a1.05,1.05 0 1,0 -2.1,0M638.1,126a1.05,1.05 0 1,0 2.1,0a1.05,1.05 0 1,0 -2.1,0M639.8,129.3a1.05,1.05 0 1,0 2.1,0a1.05,1.05 0 1,0 -2.1,0M641.5,131.7a1.05,1.05 0 1,0 2.1,0a1.05,1.05 0 1,0 -2.1,0M643.2,133.9a1.05,1.05 0 1,0 2.1,0a1.05,1.05 0 1,0 -2.1,0M644.9,136.2a1.05,1.05 0 1,0 2.1,0a1.05,1.05 0 1,0 -2.1,0M646.6,137.6a1.05,1.05 0 1,0 2.1,0a1.05,1.05 0 1,0 -2.1,0M648.2,141.3a1.05,1.05 0 1,0 2.1,0a1.05,1.05 0 1,0 -2.1,0M650,144.1a1.05,1.05 0 1,0 2.1,0a1.05,1.05 0 1,0 -2.1,0M651.7,148.4a1.05,1.05 0 1,0 2.1,0a1.05,1.05 0 1,0 -2.1,0M653.4,152a1.05,1.05 0 1,0 2.1,0a1.05,1.05 0 1,0 -2.1,0M655.1,153.1a1.05,1.05 0 1,0 2.1,0a1.05,1.05 0 1,0 -2.1,0M656.8,155.7a1.05,1.05 0 1,0 2.1,0a1.05,1.05 0 1,0 -2.1,0M658.5,159.5a1.05,1.05 0 1,0 2.1,0a1.05,1.05 0 1,0 -2.1,0M660.2,162a1.05,1.05 0 1,0 2.1,0a1.05,1.05 0 1,0 -2.1,0M661.9,164.7a1.05,1.05 0 1,0 2.1,0a1.05,1.05 0 1,0 -2.1,0M663.6,168.1a1.05,1.05 0 1,0 2.1,0a1.05,1.05 0 1,0 -2.1,0M665.2,169.7a1.05,1.05 0 1,0 2.1,0a1.05,1.05 0 1,0 -2.1,0M667,173.7a1.05,1.05 0 1,0 2.1,0a1.05,1.05 0 1,0 -2.1,0M668.7,175a1.05,1.05 0 1,0 2.1,0a1.05,1.05 0 1,0 -2.1,0M670.4,177.2a1.05,1.05 0 1,0 2.1,0a1.05,1.05 0 1,0 -2.1,0M672.1,178.4a1.05,1.05 0 1,0 2.1,0a1.05,1.05 0 1,0 -2.1,0M673.8,179.3a1.05,1.05 0 1,0 2.1,0a1.05,1.05 0 1,0 -2.1,0M675.5,180.3a1.05,1.05 0 1,0 2.1,0a1.05,1.05 0 1,0 -2.1,0M677.2,182.1a1.05,1.05 0 1,0 2.1,0a1.05,1.05 0 1,0 -2.1,0M678.9,182.7a1.05,1.05 0 1,0 2.1,0a1.05,1.05 0 1,0 -2.1,0M680.6,184.3a1.05,1.05 0 1,0 2.1,0a1.05,1.05 0 1,0 -2.1,0M682.2,184.6a1.05,1.05 0 1,0 2.1,0a1.05,1.05 0 1,0 -2.1,0" fill="none" stroke="#3a3a3a" stroke-width="0.75"/>
<path d="M498,184.2 498.4,184.2 498.9,184.2 499.3,184.2 499.8,184.1 500.2,184.1 500.7,184.1 501.1,184 501.6,184 502,183.9 502.4,183.9 502.9,183.9 503.3,183.8 503.8,183.8 504.2,183.7 504.7,183.7 505.1,183.7 505.6,183.6 506,183.6 506.4,183.5 506.9,183.5 507.3,183.5 507.8,183.4 508.2,183.4 508.7,183.3 509.1,183.3 509.5,183.2 510,183.2 510.4,183.2 510.9,183.1 511.3,183.1 511.8,183 512.2,183 512.7,182.9 513.1,182.9 513.5,182.8 514,182.8 514.4,182.8 514.9,182.7 515.3,182.7 515.8,182.6 516.2,182.6 516.7,182.5 517.1,182.5 517.5,182.4 518,182.4 518.4,182.3 518.9,182.3 519.3,182.3 519.8,182.2 520.2,182.2 520.7,182.1 521.1,182.1 521.5,182 522,182 522.4,181.9 522.9,181.9 523.3,181.8 523.8,181.8 524.2,181.7 524.7,181.7 525.1,181.7 525.5,181.6 526,181.6 526.4,181.5 526.9,181.5 527.3,181.4 527.8,181.4 528.2,181.4 528.6,181.3 529.1,181.3 529.5,181.2 530,181.2 530.4,181.1 530.9,181.1 531.3,181.1 531.8,181 532.2,181 532.6,180.9 533.1,180.9 533.5,180.8 534,180.8 534.4,180.7 534.9,180.6 535.3,180.6 535.8,180.5 536.2,180.5 536.6,180.4 537.1,180.3 537.5,180.3 538,180.2 538.4,180.1 538.9,180.1 539.3,180 539.8,179.9 540.2,179.8 540.6,179.7 541.1,179.6 541.5,179.5 542,179.4 542.4,179.3 542.9,179.2 543.3,179 543.8,178.9 544.2,178.8 544.6,178.6 545.1,178.5 545.5,178.3 546,178.2 546.4,178 546.9,177.8 547.3,177.7 547.7,177.5 548.2,177.3 548.6,177.2 549.1,177 549.5,176.8 550,176.7 550.4,176.5 550.9,176.3 551.3,176.2 551.7,176 552.2,175.8 552.6,175.6 553.1,175.4 553.5,175.3 554,175.1 554.4,174.9 554.9,174.7 555.3,174.5 555.7,174.3 556.2,174.1 556.6,173.9 557.1,173.7 557.5,173.5 558,173.3 558.4,173.1 558.9,172.9 559.3,172.7 559.7,172.5 560.2,172.3 560.6,172.2 561.1,172 561.5,171.8 562,171.6 562.4,171.4 562.9,171.2 563.3,171 563.7,170.9 564.2,170.7 564.6,170.5 565.1,170.3 565.5,170.2 566,170 566.4,169.9 566.8,169.7 567.3,169.6 567.7,169.4 568.2,169.3 568.6,169.2 569.1,169 569.5,168.9 570,168.7 570.4,168.6 570.8,168.5 571.3,168.3 571.7,168.2 572.2,168 572.6,167.9 573.1,167.7 573.5,167.5 574,167.4 574.4,167.2 574.8,167 575.3,166.8 575.7,166.6 576.2,166.4 576.6,166.2 577.1,166 577.5,165.7 578,165.5 578.4,165.2 578.8,164.9 579.3,164.6 579.7,164.2 580.2,163.9 580.6,163.5 581.1,163.2 581.5,162.8 581.9,162.4 582.4,162 582.8,161.5 583.3,161.1 583.7,160.6 584.2,160.2 584.6,159.7 585.1,159.2 585.5,158.7 585.9,158.2 586.4,157.7 586.8,157.2 587.3,156.6 587.7,156 588.2,155.4 588.6,154.8 589.1,154.2 589.5,153.6 589.9,152.9 590.4,152.2 590.8,151.6 591.3,150.9 591.7,150.2 592.2,149.5 592.6,148.8 593.1,148.1 593.5,147.4 593.9,146.7 594.4,146 594.8,145.2 595.3,144.5 595.7,143.8 596.2,143 596.6,142.3 597.1,141.5 597.5,140.7 597.9,140 598.4,139.2 598.8,138.5 599.3,137.8 599.7,137.1 600.2,136.4 600.6,135.8 601,135.2 601.5,134.7 601.9,134.2 602.4,133.8 602.8,133.4 603.3,133 603.7,132.7 604.2,132.5 604.6,132.2 605,132 605.5,131.8 605.9,131.7 606.4,131.5 606.8,131.4 607.3,131.3 607.7,131.1 608.2,131 608.6,130.9 609,130.7 609.5,130.6 609.9,130.5 610.4,130.3 610.8,130.2 611.3,130 611.7,129.8 612.2,129.7 612.6,129.5 613,129.3 613.5,129.1 613.9,128.9 614.4,128.6 614.8,128.4 615.3,128.2 615.7,128 616.2,127.7 616.6,127.5 617,127.3 617.5,127 617.9,126.8 618.4,126.5 618.8,126.3 619.3,126.1 619.7,125.8 620.1,125.6 620.6,125.3 621,125 621.5,124.8 621.9,124.5 622.4,124.2 622.8,124 623.3,123.7 623.7,123.5 624.1,123.2 624.6,123 625,122.8 625.5,122.6 625.9,122.4 626.4,122.3 626.8,122.1 627.3,122.1 627.7,122 628.1,122 628.6,122 629,122 629.5,122.1 629.9,122.2 630.4,122.3 630.8,122.5 631.3,122.7 631.7,122.9 632.1,123.1 632.6,123.3 633,123.6 633.5,123.8 633.9,124.1 634.4,124.4 634.8,124.7 635.3,125 635.7,125.3 636.1,125.6 636.6,126 637,126.3 637.5,126.7 637.9,127.1 638.4,127.5 638.8,127.9 639.2,128.3 639.7,128.8 640.1,129.3 640.6,129.8 641,130.3 641.5,130.8 641.9,131.3 642.4,131.9 642.8,132.4 643.2,133 643.7,133.6 644.1,134.2 644.6,134.8 645,135.4 645.5,136 645.9,136.6 646.4,137.2 646.8,137.8 647.2,138.5 647.7,139.2 648.1,139.8 648.6,140.5 649,141.2 649.5,141.9 649.9,142.6 650.4,143.4 650.8,144.1 651.2,144.9 651.7,145.6 652.1,146.4 652.6,147.1 653,147.9 653.5,148.7 653.9,149.5 654.4,150.3 654.8,151.1 655.2,151.9 655.7,152.8 656.1,153.6 656.6,154.4 657,155.3 657.5,156.1 657.9,156.9 658.3,157.8 658.8,158.6 659.2,159.4 659.7,160.2 660.1,161 660.6,161.8 661,162.6 661.5,163.3 661.9,164.1 662.3,164.8 662.8,165.5 663.2,166.3 663.7,167 664.1,167.7 664.6,168.4 665,169.1 665.5,169.8 665.9,170.4 666.3,171.1 666.8,171.7 667.2,172.3 667.7,172.9 668.1,173.5 668.6,174.1 669,174.6 669.5,175.2 669.9,175.7 670.3,176.2 670.8,176.6 671.2,177.1 671.7,177.5 672.1,178 672.6,178.4 673,178.8 673.5,179.2 673.9,179.6 674.3,180 674.8,180.3 675.2,180.7 675.7,181 676.1,181.3 676.6,181.6 677,181.9 677.4,182.2 677.9,182.5 678.3,182.8 678.8,183 679.2,183.2 679.7,183.5 680.1,183.7 680.6,183.9 681,184.1 681.4,184.3 681.9,184.5 682.3,184.6 682.8,184.8 683.2,184.9 683.7,185 684.1,185.1" fill="none" stroke="#ee1c1c" stroke-width="1.25" stroke-linejoin="round"/>
<text x="503" y="166.1" font-size="8.45" text-anchor="start" font-weight="normal" font-style="normal" fill="#231f20" stroke="#231f20" stroke-width="0.22" >As produced WSe<tspan font-size="6.2" dy="2">2</tspan></text>
<line x1="583.5" y1="10" x2="583.5" y2="92" stroke="#d4239b" stroke-width="1.0" stroke-dasharray="2,1.05"/>
<line x1="583.5" y1="102" x2="583.5" y2="188" stroke="#d4239b" stroke-width="1.0" stroke-dasharray="2,1.05"/>
<line x1="612.6" y1="10" x2="612.6" y2="92" stroke="#d4239b" stroke-width="1.0" stroke-dasharray="2,1.05"/>
<line x1="612.6" y1="102" x2="612.6" y2="188" stroke="#d4239b" stroke-width="1.0" stroke-dasharray="2,1.05"/>
<line x1="616.3" y1="10" x2="616.3" y2="92" stroke="#4a6fc4" stroke-width="1.0" stroke-dasharray="2,1.05"/>
<line x1="616.3" y1="102" x2="616.3" y2="188" stroke="#4a6fc4" stroke-width="1.0" stroke-dasharray="2,1.05"/>
<line x1="645.5" y1="10" x2="645.5" y2="92" stroke="#4a6fc4" stroke-width="1.0" stroke-dasharray="2,1.05"/>
<line x1="645.5" y1="102" x2="645.5" y2="188" stroke="#4a6fc4" stroke-width="1.0" stroke-dasharray="2,1.05"/>
<text x="569" y="23" font-size="8.8" text-anchor="start" font-weight="normal" font-style="normal" fill="#d4239b" stroke="#d4239b" stroke-width="0.22" >2H</text>
<text x="599.2" y="23" font-size="8.8" text-anchor="start" font-weight="normal" font-style="normal" fill="#d4239b" stroke="#d4239b" stroke-width="0.22" >2H</text>
<text x="658.5" y="23" font-size="8.8" text-anchor="start" font-weight="normal" font-style="normal" fill="#231f20" stroke="#231f20" stroke-width="0.22" >Se 3<tspan font-style="italic">d</tspan></text>
<text x="618.8" y="113.8" font-size="8.8" text-anchor="start" font-weight="normal" font-style="normal" fill="#4a6fc4" stroke="#4a6fc4" stroke-width="0.22" >1T'</text>
<text x="648.8" y="113.8" font-size="8.8" text-anchor="start" font-weight="normal" font-style="normal" fill="#4a6fc4" stroke="#4a6fc4" stroke-width="0.22" >1T'</text>
<rect x="498" y="9.5" width="186" height="185.5" fill="none" stroke="#3a3a3a" stroke-width="0.9"/>
<line x1="498" y1="9.5" x2="500.5" y2="9.5" stroke="#3a3a3a" stroke-width="0.8" />
<text x="494.2" y="13" font-size="10" text-anchor="end" font-weight="normal" font-style="normal" fill="#231f20" stroke="#231f20" stroke-width="0.22" >14</text>
<line x1="498" y1="36" x2="500.5" y2="36" stroke="#3a3a3a" stroke-width="0.8" />
<text x="494.2" y="39.5" font-size="10" text-anchor="end" font-weight="normal" font-style="normal" fill="#231f20" stroke="#231f20" stroke-width="0.22" >12</text>
<line x1="498" y1="62.5" x2="500.5" y2="62.5" stroke="#3a3a3a" stroke-width="0.8" />
<text x="494.2" y="66" font-size="10" text-anchor="end" font-weight="normal" font-style="normal" fill="#231f20" stroke="#231f20" stroke-width="0.22" >10</text>
<line x1="498" y1="89" x2="500.5" y2="89" stroke="#3a3a3a" stroke-width="0.8" />
<text x="494.2" y="92.5" font-size="10" text-anchor="end" font-weight="normal" font-style="normal" fill="#231f20" stroke="#231f20" stroke-width="0.22" >8</text>
<line x1="498" y1="115.5" x2="500.5" y2="115.5" stroke="#3a3a3a" stroke-width="0.8" />
<text x="494.2" y="119" font-size="10" text-anchor="end" font-weight="normal" font-style="normal" fill="#231f20" stroke="#231f20" stroke-width="0.22" >6</text>
<line x1="498" y1="142" x2="500.5" y2="142" stroke="#3a3a3a" stroke-width="0.8" />
<text x="494.2" y="145.5" font-size="10" text-anchor="end" font-weight="normal" font-style="normal" fill="#231f20" stroke="#231f20" stroke-width="0.22" >4</text>
<line x1="498" y1="168.5" x2="500.5" y2="168.5" stroke="#3a3a3a" stroke-width="0.8" />
<text x="494.2" y="172" font-size="10" text-anchor="end" font-weight="normal" font-style="normal" fill="#231f20" stroke="#231f20" stroke-width="0.22" >2</text>
<line x1="498" y1="195" x2="500.5" y2="195" stroke="#3a3a3a" stroke-width="0.8" />
<text x="494.2" y="198.5" font-size="10" text-anchor="end" font-weight="normal" font-style="normal" fill="#231f20" stroke="#231f20" stroke-width="0.22" >0</text>
<line x1="498" y1="22.75" x2="499.6" y2="22.75" stroke="#3a3a3a" stroke-width="0.8" />
<line x1="498" y1="49.25" x2="499.6" y2="49.25" stroke="#3a3a3a" stroke-width="0.8" />
<line x1="498" y1="75.75" x2="499.6" y2="75.75" stroke="#3a3a3a" stroke-width="0.8" />
<line x1="498" y1="102.25" x2="499.6" y2="102.25" stroke="#3a3a3a" stroke-width="0.8" />
<line x1="498" y1="128.75" x2="499.6" y2="128.75" stroke="#3a3a3a" stroke-width="0.8" />
<line x1="498" y1="155.25" x2="499.6" y2="155.25" stroke="#3a3a3a" stroke-width="0.8" />
<line x1="498" y1="181.75" x2="499.6" y2="181.75" stroke="#3a3a3a" stroke-width="0.8" />
<line x1="498" y1="195" x2="498" y2="192.5" stroke="#3a3a3a" stroke-width="0.8" />
<text x="498" y="207.6" font-size="10" text-anchor="middle" font-weight="normal" font-style="normal" fill="#231f20" stroke="#231f20" stroke-width="0.22" >58</text>
<line x1="531.9" y1="195" x2="531.9" y2="192.5" stroke="#3a3a3a" stroke-width="0.8" />
<text x="531.9" y="207.6" font-size="10" text-anchor="middle" font-weight="normal" font-style="normal" fill="#231f20" stroke="#231f20" stroke-width="0.22" >57</text>
<line x1="565.8" y1="195" x2="565.8" y2="192.5" stroke="#3a3a3a" stroke-width="0.8" />
<text x="565.8" y="207.6" font-size="10" text-anchor="middle" font-weight="normal" font-style="normal" fill="#231f20" stroke="#231f20" stroke-width="0.22" >56</text>
<line x1="599.7" y1="195" x2="599.7" y2="192.5" stroke="#3a3a3a" stroke-width="0.8" />
<text x="599.7" y="207.6" font-size="10" text-anchor="middle" font-weight="normal" font-style="normal" fill="#231f20" stroke="#231f20" stroke-width="0.22" >55</text>
<line x1="633.6" y1="195" x2="633.6" y2="192.5" stroke="#3a3a3a" stroke-width="0.8" />
<text x="633.6" y="207.6" font-size="10" text-anchor="middle" font-weight="normal" font-style="normal" fill="#231f20" stroke="#231f20" stroke-width="0.22" >54</text>
<line x1="667.5" y1="195" x2="667.5" y2="192.5" stroke="#3a3a3a" stroke-width="0.8" />
<text x="667.5" y="207.6" font-size="10" text-anchor="middle" font-weight="normal" font-style="normal" fill="#231f20" stroke="#231f20" stroke-width="0.22" >53</text>
<line x1="514.95" y1="195" x2="514.95" y2="193.4" stroke="#3a3a3a" stroke-width="0.8" />
<line x1="548.85" y1="195" x2="548.85" y2="193.4" stroke="#3a3a3a" stroke-width="0.8" />
<line x1="582.75" y1="195" x2="582.75" y2="193.4" stroke="#3a3a3a" stroke-width="0.8" />
<line x1="616.65" y1="195" x2="616.65" y2="193.4" stroke="#3a3a3a" stroke-width="0.8" />
<line x1="650.55" y1="195" x2="650.55" y2="193.4" stroke="#3a3a3a" stroke-width="0.8" />
<line x1="684.45" y1="195" x2="684.45" y2="193.4" stroke="#3a3a3a" stroke-width="0.8" />
<text x="590.9" y="221" font-size="9.8" text-anchor="middle" font-weight="normal" font-style="normal" fill="#231f20" stroke="#231f20" stroke-width="0.22" >Binding energy (eV)</text>
<text x="475.7" y="102.8" font-size="9.8" text-anchor="middle" font-weight="normal" font-style="normal" fill="#231f20" stroke="#231f20" stroke-width="0.22" transform="rotate(-90 475.7 102.8)">Intensity (× 10<tspan font-size="6.5" dy="-3.8">3</tspan><tspan dy="3.8">, cts)</tspan></text>
<text x="-0.6" y="242.4" font-size="15" text-anchor="start" font-weight="bold" font-style="normal" fill="#231f20" stroke="#231f20" stroke-width="0.0" >d</text>
<line x1="34.5" y1="254.3" x2="221" y2="254.3" stroke="#a0a0a0" stroke-width="0.8" stroke-dasharray="1.3,1.2"/>
<line x1="34.5" y1="315.9" x2="221" y2="315.9" stroke="#a0a0a0" stroke-width="0.8" stroke-dasharray="1.3,1.2"/>
<line x1="34.5" y1="346.7" x2="221" y2="346.7" stroke="#a0a0a0" stroke-width="0.8" stroke-dasharray="1.3,1.2"/>
<line x1="34.5" y1="408.3" x2="221" y2="408.3" stroke="#a0a0a0" stroke-width="0.8" stroke-dasharray="1.3,1.2"/>
<line x1="67.29" y1="315.9" x2="67.29" y2="294.96" stroke="#d4239b" stroke-width="0.9" />
<line x1="144.19" y1="315.9" x2="144.19" y2="306.66" stroke="#d4239b" stroke-width="0.9" />
<line x1="147.39" y1="315.9" x2="147.39" y2="313.44" stroke="#d4239b" stroke-width="0.9" />
<line x1="157.35" y1="315.9" x2="157.35" y2="310.97" stroke="#d4239b" stroke-width="0.9" />
<line x1="172.07" y1="315.9" x2="172.07" y2="287.56" stroke="#d4239b" stroke-width="0.9" />
<line x1="189.39" y1="315.9" x2="189.39" y2="313.44" stroke="#d4239b" stroke-width="0.9" />
<line x1="213.64" y1="315.9" x2="213.64" y2="312.82" stroke="#d4239b" stroke-width="0.9" />
<path d="M34.4,289 34.6,285.6 34.8,290.9 35.1,286.8 35.3,285.9 35.5,289.7 35.7,284.8 36,284.5 36.2,285.1 36.4,285.6 36.7,285.3 36.9,286.6 37.1,284.9 37.3,285.5 37.6,284 37.8,286.8 38,283.6 38.3,283.7 38.5,284.3 38.7,284.9 38.9,282.7 39.2,287.6 39.4,282.1 39.6,283.3 39.8,283.2 40.1,283 40.3,285.3 40.5,284.5 40.8,282.5 41,283 41.2,283.6 41.4,287.6 41.7,283.1 41.9,281.9 42.1,282.4 42.4,284.3 42.6,288.5 42.8,283.2 43,285.8 43.3,291.3 43.5,285.1 43.7,289.5 44,289.3 44.2,289.2 44.4,284.1 44.6,287.9 44.9,286.8 45.1,283.7 45.3,281.4 45.5,288.2 45.8,288.7 46,291.2 46.2,290.1 46.5,287.7 46.7,287.9 46.9,288.6 47.1,286.8 47.4,290.8 47.6,289.3 47.8,287.7 48.1,287.1 48.3,287.2 48.5,288.8 48.7,291 49,289 49.2,293.9 49.4,293.7 49.6,288.8 49.9,290.3 50.1,289.6 50.3,294.1 50.6,291.2 50.8,291.8 51,292.4 51.2,299.6 51.5,291.3 51.7,287 51.9,289.8 52.2,292 52.4,290.7 52.6,288.9 52.8,296.6 53.1,290.9 53.3,289.1 53.5,288.7 53.7,286.3 54,287.4 54.2,289 54.4,288.9 54.7,287.6 54.9,290.3 55.1,289 55.3,286.6 55.6,284 55.8,288.5 56,288 56.3,286.8 56.5,284.3 56.7,287.1 56.9,283.5 57.2,288.6 57.4,286.6 57.6,286.3 57.9,283.9 58.1,281.1 58.3,288.3 58.5,286.7 58.8,283.5 59,285.4 59.2,286.9 59.4,280.8 59.7,281.6 59.9,281.1 60.1,282.8 60.4,279 60.6,281.4 60.8,277.9 61,281.9 61.3,281.2 61.5,278.4 61.7,279.9 62,276.3 62.2,276.7 62.4,278.8 62.6,276 62.9,277 63.1,272.9 63.3,275.6 63.5,274.4 63.8,269.9 64,262.8 64.2,266.5 64.5,269.9 64.7,268.8 64.9,265.1 65.1,268.1 65.4,269.3 65.6,266.3 65.8,265.1 66.1,267.6 66.3,269.1 66.5,268.5 66.7,262.6 67,266.8 67.2,265.4 67.4,264.5 67.6,263.6 67.9,265.6 68.1,263.7 68.3,266.8 68.6,265.6 68.8,267 69,262.4 69.2,265.4 69.5,267.6 69.7,267.5 69.9,268.2 70.2,267.2 70.4,273.5 70.6,273.4 70.8,273.1 71.1,267.8 71.3,272.4 71.5,276 71.8,275.5 72,273.9 72.2,280.5 72.4,282.2 72.7,280.2 72.9,283.2 73.1,284.2 73.3,288 73.6,283.7 73.8,285.2 74,288.8 74.3,289.5 74.5,296.4 74.7,291.4 74.9,294.2 75.2,293.6 75.4,293.9 75.6,296.9 75.9,300.7 76.1,296.8 76.3,299.8 76.5,299.4 76.8,300.5 77,300.3 77.2,305.1 77.4,297.7 77.7,300.2 77.9,298.7 78.1,297.1 78.4,301.8 78.6,306.2 78.8,304.5 79,307.6 79.3,305.1 79.5,303.1 79.7,308.1 80,303.1 80.2,307.4 80.4,303.6 80.6,304.7 80.9,305.3 81.1,304.8 81.3,305.9 81.5,306.2 81.8,308.6 82,304.9 82.2,300.8 82.5,300.6 82.7,302 82.9,303.4 83.1,306.5 83.4,301.9 83.6,305.2 83.8,305.3 84.1,305.8 84.3,305 84.5,306.2 84.7,305.4 85,307.6 85.2,306.1 85.4,300.2 85.7,305.4 85.9,305.8 86.1,304.1 86.3,303.8 86.6,307.8 86.8,305.8 87,303.3 87.2,304.8 87.5,305.1 87.7,302 87.9,306.9 88.2,305.2 88.4,306.6 88.6,302.1 88.8,309.8 89.1,306.9 89.3,306.6 89.5,304 89.8,304.1 90,302.3 90.2,308.9 90.4,303.8 90.7,306.1 90.9,306.9 91.1,304.2 91.3,307.5 91.6,310 91.8,306.2 92,308.7 92.3,306.8 92.5,304.6 92.7,304.7 92.9,301.9 93.2,305.8 93.4,308.8 93.6,307.1 93.9,307.4 94.1,308.1 94.3,304.4 94.5,306.8 94.8,309.7 95,303.8 95.2,305.6 95.4,304.5 95.7,305.1 95.9,303.9 96.1,305.2 96.4,302.6 96.6,304.4 96.8,304.4 97,304.4 97.3,308.5 97.5,305.6 97.7,305.8 98,304.8 98.2,308.3 98.4,301.6 98.6,305 98.9,307.9 99.1,309 99.3,305.8 99.5,305.5 99.8,306.8 100,305 100.2,306.6 100.5,303.9 100.7,308 100.9,305.3 101.1,302.9 101.4,299.4 101.6,307.3 101.8,306.1 102.1,306.9 102.3,303.3 102.5,307.6 102.7,306.1 103,305.1 103.2,307.1 103.4,307.1 103.7,306 103.9,309.6 104.1,308.1 104.3,305.8 104.6,304.5 104.8,305.3 105,308.8 105.2,306.7 105.5,303 105.7,303.5 105.9,304.9 106.2,306.7 106.4,303.2 106.6,305.8 106.8,307.1 107.1,306.2 107.3,301.1 107.5,303.7 107.8,301.6 108,305.1 108.2,301.8 108.4,305.2 108.7,304.1 108.9,298.1 109.1,301.8 109.3,304.6 109.6,303.5 109.8,302.6 110,300.5 110.3,304.2 110.5,306.9 110.7,303.7 110.9,303 111.2,302.7 111.4,300 111.6,302.3 111.9,301.2 112.1,305.5 112.3,301.1 112.5,298.4 112.8,301.4 113,302.6 113.2,302.9 113.4,299.4 113.7,305.5 113.9,304 114.1,302.6 114.4,302.1 114.6,304.8 114.8,303.2 115,304.6 115.3,303.7 115.5,304.5 115.7,306.9 116,304.5 116.2,302.6 116.4,306.8 116.6,305.7 116.9,303.4 117.1,307.3 117.3,304.6 117.6,307.5 117.8,302.7 118,300.1 118.2,300.8 118.5,306.2 118.7,302.5 118.9,305.2 119.1,305.2 119.4,302.1 119.6,308.4 119.8,303.2 120.1,305.8 120.3,302.5 120.5,305.2 120.7,307.1 121,305 121.2,304 121.4,305.6 121.7,304.6 121.9,306.9 122.1,310.5 122.3,303.7 122.6,304.2 122.8,305.4 123,305.6 123.2,301.7 123.5,306.8 123.7,307.4 123.9,306.6 124.2,301.1 124.4,309 124.6,303.3 124.8,307.3 125.1,308.4 125.3,303.2 125.5,306.2 125.8,308.9 126,307.5 126.2,304 126.4,303.4 126.7,307.1 126.9,305.2 127.1,303.3 127.3,307.7 127.6,305.5 127.8,306.4 128,307.6 128.3,307.5 128.5,306.3 128.7,306.5 128.9,308.9 129.2,307.6 129.4,304.2 129.6,306.3 129.9,304.9 130.1,304.2 130.3,305.7 130.5,302 130.8,308.9 131,305.4 131.2,307.9 131.5,299.9 131.7,303.6 131.9,311.7 132.1,309.6 132.4,306 132.6,305.8 132.8,306 133,307.9 133.3,306.7 133.5,306.3 133.7,308.1 134,305.5 134.2,312.8 134.4,306.4 134.6,310.2 134.9,305.7 135.1,308.4 135.3,311.4 135.6,307.1 135.8,311.5 136,309.9 136.2,311.3 136.5,307.9 136.7,306.7 136.9,305.5 137.1,308 137.4,305.4 137.6,307.6 137.8,307.9 138.1,306.2 138.3,305.1 138.5,308.1 138.7,307.8 139,307.5 139.2,306.9 139.4,308.9 139.7,304.5 139.9,307.6 140.1,305.6 140.3,308.3 140.6,305.5 140.8,305.3 141,306.9 141.2,301.3 141.5,304.8 141.7,301.5 141.9,303.1 142.2,306.3 142.4,305.1 142.6,302.5 142.8,302.3 143.1,301.4 143.3,301.2 143.5,306.7 143.8,298.8 144,302.1 144.2,295.2 144.4,296.4 144.7,294.8 144.9,291.8 145.1,288.8 145.4,290.4 145.6,289 145.8,285.4 146,289.1 146.3,281.2 146.5,273.9 146.7,278.3 146.9,273.5 147.2,277.3 147.4,273.3 147.6,274.9 147.9,274.7 148.1,273.8 148.3,271.9 148.5,276.3 148.8,277.4 149,280.9 149.2,278.6 149.5,281.5 149.7,280.2 149.9,283.2 150.1,280.2 150.4,289.3 150.6,286.3 150.8,284.4 151,287.9 151.3,289.6 151.5,289.2 151.7,292.3 152,289.5 152.2,285.3 152.4,288.8 152.6,294.4 152.9,294.5 153.1,294 153.3,289.6 153.6,295.9 153.8,296.1 154,293 154.2,292 154.5,296.7 154.7,298.8 154.9,300.2 155.1,298.7 155.4,302.5 155.6,295 155.8,299.8 156.1,297.7 156.3,291.7 156.5,296.9 156.7,302.4 157,298.3 157.2,297.9 157.4,302.4 157.7,303.1 157.9,301.4 158.1,304.9 158.3,298.3 158.6,307 158.8,304.2 159,302.3 159.3,302.2 159.5,301.3 159.7,301 159.9,302 160.2,298.9 160.4,306.1 160.6,301.2 160.8,302.6 161.1,300.6 161.3,300.2 161.5,302.5 161.8,301.7 162,298.3 162.2,299 162.4,302.3 162.7,294.8 162.9,294 163.1,302.1 163.4,297.9 163.6,292.7 163.8,296.3 164,297.3 164.3,298 164.5,298.5 164.7,297.5 164.9,298 165.2,294.9 165.4,297.9 165.6,297.1 165.9,298.6 166.1,295.8 166.3,297.4 166.5,295.6 166.8,292.6 167,293.8 167.2,293.2 167.5,293.2 167.7,293.6 167.9,293.7 168.1,293.8 168.4,291.2 168.6,296.9 168.8,289.3 169,291.9 169.3,293.4 169.5,292.6 169.7,292.8 170,290.7 170.2,292.4 170.4,286.1 170.6,292.2 170.9,295.4 171.1,291.8 171.3,294.6 171.6,290.2 171.8,287.7 172,288.6 172.2,293 172.5,291.8 172.7,283 172.9,289.5 173.2,290.3 173.4,288 173.6,285 173.8,287.7 174.1,290.4 174.3,290 174.5,289.5 174.7,292.4 175,293.5 175.2,291.2 175.4,293.6 175.7,292 175.9,291.9 176.1,287.3 176.3,294.8 176.6,293.6 176.8,294.2 177,293.4 177.3,292.6 177.5,296.5 177.7,297.8 177.9,300.1 178.2,299.1 178.4,296.3 178.6,297.8 178.8,300.7 179.1,300.3 179.3,299.1 179.5,298.4 179.8,301.1 180,300.5 180.2,304.2 180.4,302.9 180.7,296.9 180.9,305.6 181.1,301.6 181.4,300.6 181.6,302 181.8,303.1 182,301.6 182.3,301.7 182.5,302 182.7,309.4 182.9,302.4 183.2,304.1 183.4,303.5 183.6,301.9 183.9,301.1 184.1,300.7 184.3,303.9 184.5,300.8 184.8,298.3 185,300.6 185.2,300.1 185.5,303.6 185.7,303.8 185.9,301.6 186.1,306.6 186.4,303.2 186.6,304.9 186.8,304.7 187.1,307.8 187.3,306 187.5,304.1 187.7,302.2 188,302.1 188.2,304.5 188.4,304.9 188.6,306.4 188.9,303.7 189.1,305.3 189.3,303.4 189.6,301 189.8,305 190,308.4 190.2,307 190.5,308.5 190.7,308 190.9,302.5 191.2,305 191.4,309 191.6,304.2 191.8,303 192.1,306.7 192.3,307.5 192.5,306.8 192.7,305.5 193,304.8 193.2,303.7 193.4,303.7 193.7,303.9 193.9,303.6 194.1,304 194.3,310.2 194.6,307.4 194.8,305.7 195,307.9 195.3,305.1 195.5,308 195.7,309.3 195.9,304.1 196.2,305.9 196.4,307 196.6,305.5 196.8,305.3 197.1,307 197.3,313.2 197.5,309.3 197.8,308.9 198,310.1 198.2,307.6 198.4,305.4 198.7,309.2 198.9,310.7 199.1,303.7 199.4,309.3 199.6,313.2 199.8,307.8 200,307.4 200.3,310 200.5,306.7 200.7,309.5 201,310.5 201.2,308.1 201.4,306.8 201.6,309.9 201.9,307.8 202.1,308.7 202.3,302.2 202.5,310 202.8,305.3 203,308.4 203.2,308.5 203.5,306.5 203.7,306 203.9,305 204.1,307 204.4,308.9 204.6,308.6 204.8,306.1 205.1,305.8 205.3,303.8 205.5,305.8 205.7,304.2 206,303.1 206.2,305.9 206.4,309.4 206.6,308.6 206.9,309.1 207.1,302.2 207.3,307.5 207.6,302.9 207.8,304.2 208,301.7 208.2,303.2 208.5,305.7 208.7,305.9 208.9,305.2 209.2,304.7 209.4,306.6 209.6,305.5 209.8,301.9 210.1,309.2 210.3,304.9 210.5,309.1 210.7,305.1 211,303.6 211.2,305.6 211.4,303.8 211.7,309 211.9,303.1 212.1,308 212.3,304.2 212.6,305.2 212.8,311.4 213,307.3 213.3,305.2 213.5,302.3 213.7,304.6 213.9,305.2 214.2,311.5 214.4,302.7 214.6,301.9 214.9,305.9 215.1,306.5 215.3,309.7 215.5,304.2 215.8,300.2 216,303.4 216.2,303.5 216.4,304.2 216.7,308.7 216.9,301.2 217.1,311.6 217.4,307.2 217.6,306.2 217.8,305 218,306.1 218.3,306.3 218.5,308.9 218.7,310.2 219,307.3 219.2,309.2 219.4,313 219.6,310.7 219.9,309.1 220.1,312.3 220.3,311.3 220.5,312.1 220.8,308.2 221,307.9" fill="none" stroke="#d01c8b" stroke-width="1.05" stroke-linejoin="round"/>
<line x1="173.37" y1="408.3" x2="173.37" y2="395.36" stroke="#c4c4c4" stroke-width="0.9" />
<line x1="216.24" y1="408.3" x2="216.24" y2="403.37" stroke="#c4c4c4" stroke-width="0.9" />
<line x1="78.98" y1="408.3" x2="78.98" y2="405.84" stroke="#c4c4c4" stroke-width="0.9" />
<line x1="162.55" y1="408.3" x2="162.55" y2="405.22" stroke="#c4c4c4" stroke-width="0.9" />
<line x1="69.02" y1="408.3" x2="69.02" y2="381.81" stroke="#1c4394" stroke-width="0.9" />
<line x1="79.84" y1="408.3" x2="79.84" y2="405.22" stroke="#1c4394" stroke-width="0.9" />
<line x1="82.88" y1="408.3" x2="82.88" y2="406.45" stroke="#1c4394" stroke-width="0.9" />
<line x1="137.43" y1="408.3" x2="137.43" y2="407.07" stroke="#1c4394" stroke-width="0.9" />
<line x1="147.39" y1="408.3" x2="147.39" y2="403.37" stroke="#1c4394" stroke-width="0.9" />
<line x1="155.19" y1="408.3" x2="155.19" y2="404.6" stroke="#1c4394" stroke-width="0.9" />
<line x1="157.79" y1="408.3" x2="157.79" y2="402.14" stroke="#1c4394" stroke-width="0.9" />
<line x1="159.08" y1="408.3" x2="159.08" y2="405.22" stroke="#1c4394" stroke-width="0.9" />
<line x1="170.34" y1="408.3" x2="170.34" y2="401.52" stroke="#1c4394" stroke-width="0.9" />
<line x1="175.97" y1="408.3" x2="175.97" y2="401.52" stroke="#1c4394" stroke-width="0.9" />
<line x1="186.36" y1="408.3" x2="186.36" y2="405.22" stroke="#1c4394" stroke-width="0.9" />
<line x1="195.89" y1="408.3" x2="195.89" y2="405.22" stroke="#1c4394" stroke-width="0.9" />
<line x1="198.92" y1="408.3" x2="198.92" y2="405.22" stroke="#1c4394" stroke-width="0.9" />
<line x1="202.82" y1="408.3" x2="202.82" y2="404.6" stroke="#1c4394" stroke-width="0.9" />
<line x1="213.21" y1="408.3" x2="213.21" y2="404.6" stroke="#1c4394" stroke-width="0.9" />
<line x1="218.41" y1="408.3" x2="218.41" y2="404.6" stroke="#1c4394" stroke-width="0.9" />
<line x1="141.76" y1="408.3" x2="141.76" y2="406.45" stroke="#1c4394" stroke-width="0.9" />
<line x1="165.15" y1="408.3" x2="165.15" y2="405.84" stroke="#1c4394" stroke-width="0.9" />
<line x1="181.6" y1="408.3" x2="181.6" y2="406.45" stroke="#1c4394" stroke-width="0.9" />
<line x1="207.58" y1="408.3" x2="207.58" y2="406.45" stroke="#1c4394" stroke-width="0.9" />
<path d="M34.4,387.8 34.6,394.9 34.8,388.5 35.1,391.4 35.3,391.3 35.5,392.5 35.7,394.1 36,391 36.2,391.5 36.4,389.1 36.7,395.2 36.9,387 37.1,389.2 37.3,390.1 37.6,390.9 37.8,391 38,391.6 38.3,390.4 38.5,389.2 38.7,389.5 38.9,391.9 39.2,390 39.4,390.7 39.6,388.6 39.8,385.2 40.1,387.6 40.3,389.4 40.5,392 40.8,391.5 41,394.7 41.2,387.3 41.4,391.4 41.7,388.5 41.9,389.9 42.1,388.4 42.4,385.8 42.6,390 42.8,389.3 43,390.2 43.3,386.9 43.5,390.6 43.7,390.8 44,393.6 44.2,391.5 44.4,387.8 44.6,379.7 44.9,390.9 45.1,387.1 45.3,388.6 45.5,391.4 45.8,389.9 46,390 46.2,391 46.5,386 46.7,393.7 46.9,388.8 47.1,389.6 47.4,391.6 47.6,390.3 47.8,387.6 48.1,390.6 48.3,390.2 48.5,389.8 48.7,395.3 49,388.5 49.2,387 49.4,389.6 49.6,389.6 49.9,394.5 50.1,392 50.3,393.4 50.6,393 50.8,390 51,393.5 51.2,392.3 51.5,395.8 51.7,392.4 51.9,392 52.2,393.6 52.4,393.7 52.6,388.6 52.8,394.7 53.1,394.5 53.3,394 53.5,390.1 53.7,385.1 54,391.9 54.2,394 54.4,394.1 54.7,390.6 54.9,394.5 55.1,387.6 55.3,390 55.6,392.6 55.8,391.5 56,391.3 56.3,389.8 56.5,394.9 56.7,390.5 56.9,393.6 57.2,394.4 57.4,392.7 57.6,393.3 57.9,394.8 58.1,396 58.3,394.6 58.5,389.8 58.8,388.6 59,391 59.2,389.7 59.4,392.7 59.7,391.6 59.9,390.5 60.1,392.9 60.4,392.3 60.6,389.8 60.8,390.2 61,391.3 61.3,388 61.5,388.8 61.7,384.3 62,387.5 62.2,387.7 62.4,386.4 62.6,386.6 62.9,387.2 63.1,386.3 63.3,383.7 63.5,382.6 63.8,382.1 64,387.7 64.2,384.9 64.5,384.7 64.7,383.3 64.9,384.3 65.1,384.2 65.4,381.4 65.6,382.3 65.8,384.7 66.1,379.6 66.3,380 66.5,382.9 66.7,379.9 67,382.7 67.2,378.8 67.4,381.2 67.6,382.2 67.9,381.7 68.1,381.7 68.3,379.6 68.6,379.5 68.8,379.5 69,380.6 69.2,386.6 69.5,379 69.7,382.9 69.9,378.5 70.2,376.7 70.4,378.3 70.6,379.6 70.8,379.1 71.1,379 71.3,379.8 71.5,379.9 71.8,380.7 72,376.7 72.2,379.3 72.4,377.5 72.7,380.2 72.9,379.8 73.1,380.6 73.3,379.7 73.6,379.3 73.8,380.9 74,383.1 74.3,383.7 74.5,376.7 74.7,383.6 74.9,384 75.2,381 75.4,382.1 75.6,383.7 75.9,385.9 76.1,380.9 76.3,385.2 76.5,385.2 76.8,387 77,389.8 77.2,390 77.4,386.9 77.7,387.3 77.9,388.9 78.1,391.1 78.4,392 78.6,390.2 78.8,392.8 79,387.1 79.3,388.4 79.5,385.5 79.7,389.7 80,392.9 80.2,393.8 80.4,399.3 80.6,394 80.9,393.5 81.1,391.6 81.3,392.6 81.5,392.9 81.8,394 82,393.4 82.2,389.9 82.5,397.4 82.7,396.5 82.9,398.7 83.1,393 83.4,394 83.6,395.3 83.8,399.5 84.1,397.1 84.3,398.2 84.5,397.8 84.7,398.6 85,397.5 85.2,399.6 85.4,397.4 85.7,398.4 85.9,400.1 86.1,400 86.3,400.8 86.6,398.6 86.8,400.9 87,399.9 87.2,401.5 87.5,403.7 87.7,397.7 87.9,403.1 88.2,399.8 88.4,400.5 88.6,404.7 88.8,403.4 89.1,402.6 89.3,403.3 89.5,406 89.8,399.3 90,402.5 90.2,401.3 90.4,403 90.7,401.7 90.9,403.8 91.1,402.5 91.3,401.4 91.6,402.5 91.8,403.6 92,404.9 92.3,402.5 92.5,402.2 92.7,403.5 92.9,404.5 93.2,402 93.4,398.3 93.6,403.8 93.9,402.6 94.1,402.6 94.3,408.4 94.5,403.2 94.8,406 95,400.8 95.2,404.1 95.4,406.4 95.7,404.1 95.9,403.4 96.1,404.9 96.4,403.9 96.6,406.6 96.8,404.4 97,402.4 97.3,400.1 97.5,402.7 97.7,403.6 98,401.8 98.2,402.2 98.4,400.9 98.6,402.1 98.9,404.5 99.1,403.8 99.3,404 99.5,403.8 99.8,404 100,406 100.2,408.7 100.5,405.9 100.7,408.6 100.9,404.5 101.1,404.7 101.4,410.7 101.6,403.4 101.8,403.1 102.1,404.6 102.3,401.6 102.5,401.2 102.7,407.3 103,402.9 103.2,404.1 103.4,404.2 103.7,403.2 103.9,406.5 104.1,407.2 104.3,406.8 104.6,407.9 104.8,405.4 105,408.1 105.2,409 105.5,404.2 105.7,405.5 105.9,404.6 106.2,409.1 106.4,407 106.6,406.5 106.8,405.4 107.1,406.6 107.3,403.7 107.5,405.7 107.8,405.5 108,405.6 108.2,404.2 108.4,406.6 108.7,403.4 108.9,404.8 109.1,405.1 109.3,405.6 109.6,404.7 109.8,403.7 110,403.9 110.3,405 110.5,404 110.7,405.5 110.9,403.3 111.2,405.9 111.4,409.9 111.6,403.2 111.9,405.6 112.1,410 112.3,406.5 112.5,407.6 112.8,401.7 113,404.9 113.2,411.4 113.4,404.8 113.7,406.6 113.9,402.1 114.1,407.9 114.4,410.3 114.6,405.7 114.8,406.5 115,406.6 115.3,410 115.5,405 115.7,402.5 116,409.5 116.2,403.5 116.4,406.9 116.6,401.1 116.9,404.9 117.1,406.1 117.3,403.5 117.6,404.7 117.8,406.9 118,403.2 118.2,407.5 118.5,412 118.7,401.7 118.9,406.3 119.1,406.8 119.4,405 119.6,408.7 119.8,408.3 120.1,406.6 120.3,406.6 120.5,405.4 120.7,403.3 121,406.5 121.2,404.5 121.4,404.3 121.7,407.6 121.9,405 122.1,408.8 122.3,403.4 122.6,403.8 122.8,405.4 123,408.1 123.2,405.2 123.5,408.1 123.7,404 123.9,405.6 124.2,407 124.4,403.5 124.6,403.9 124.8,406.5 125.1,403 125.3,405.9 125.5,405.9 125.8,405 126,407.9 126.2,406.1 126.4,405.6 126.7,402.2 126.9,402.3 127.1,406.2 127.3,399.5 127.6,405.3 127.8,404.5 128,403.5 128.3,404.6 128.5,400.5 128.7,404.7 128.9,407.6 129.2,400.6 129.4,406 129.6,405.8 129.9,411.1 130.1,403.2 130.3,403.6 130.5,403.6 130.8,403.3 131,401.9 131.2,405.3 131.5,403.4 131.7,407.9 131.9,405.9 132.1,403.1 132.4,404.4 132.6,407.8 132.8,404.5 133,405.6 133.3,406.8 133.5,404.4 133.7,406 134,408.3 134.2,407.4 134.4,401.6 134.6,408 134.9,404.4 135.1,403.5 135.3,403.2 135.6,406.6 135.8,404.6 136,403.4 136.2,401.8 136.5,404.3 136.7,405 136.9,400.3 137.1,399.8 137.4,400.3 137.6,402.5 137.8,400.1 138.1,400.2 138.3,398.3 138.5,401.9 138.7,398.7 139,398.6 139.2,399.9 139.4,396.2 139.7,396.2 139.9,397 140.1,394 140.3,396.8 140.6,393.2 140.8,391.2 141,389.9 141.2,387.5 141.5,390.5 141.7,389.7 141.9,384.7 142.2,382.7 142.4,374.6 142.6,379.4 142.8,382.2 143.1,375.7 143.3,377 143.5,376.3 143.8,362.2 144,369.1 144.2,366.8 144.4,366 144.7,360.1 144.9,365.9 145.1,364.1 145.4,368.7 145.6,369.6 145.8,364.2 146,364.4 146.3,366.5 146.5,367.3 146.7,367.6 146.9,369.5 147.2,362.8 147.4,367 147.6,367.2 147.9,367.4 148.1,365.9 148.3,366.8 148.5,366.1 148.8,369.6 149,366 149.2,362.4 149.5,367.4 149.7,366.2 149.9,363.8 150.1,363.3 150.4,363.5 150.6,367.5 150.8,362.9 151,365.8 151.3,364.7 151.5,361.5 151.7,362.8 152,360.2 152.2,355.2 152.4,359.5 152.6,359.2 152.9,361.9 153.1,361.9 153.3,361.2 153.6,359.6 153.8,360.2 154,358.8 154.2,357.3 154.5,358.3 154.7,358.6 154.9,360.1 155.1,353.8 155.4,354.1 155.6,351.7 155.8,349.5 156.1,353.4 156.3,350 156.5,354.9 156.7,347.2 157,349.1 157.2,351.7 157.4,353.4 157.7,350.3 157.9,357.7 158.1,353.9 158.3,349.7 158.6,351.3 158.8,352.6 159,350.1 159.3,354.3 159.5,352.1 159.7,354.1 159.9,355.2 160.2,353.1 160.4,356.4 160.6,351.2 160.8,356.6 161.1,352 161.3,358.6 161.5,355.7 161.8,359.7 162,360.5 162.2,358 162.4,357.6 162.7,362.1 162.9,357.9 163.1,362.5 163.4,361.3 163.6,361.5 163.8,360.9 164,367.2 164.3,361.2 164.5,364 164.7,367.3 164.9,368.4 165.2,370.3 165.4,370.3 165.6,367 165.9,369.2 166.1,371.2 166.3,370.4 166.5,364.1 166.8,370.5 167,371.3 167.2,367.7 167.5,369.7 167.7,370.7 167.9,372.2 168.1,374.3 168.4,373.7 168.6,373.3 168.8,372.2 169,371.2 169.3,371 169.5,371.8 169.7,371.9 170,374.5 170.2,376.9 170.4,373.8 170.6,376.3 170.9,374.3 171.1,373.7 171.3,375.7 171.6,375.6 171.8,373.7 172,373.4 172.2,375 172.5,372.1 172.7,374.4 172.9,376.1 173.2,374.2 173.4,370.7 173.6,375.8 173.8,372.3 174.1,372 174.3,371.9 174.5,376.6 174.7,371.1 175,375 175.2,375.8 175.4,376.2 175.7,374.3 175.9,375.5 176.1,376.3 176.3,373.2 176.6,377.3 176.8,378 177,374.4 177.3,374.6 177.5,373.9 177.7,378.3 177.9,374 178.2,375.3 178.4,372.8 178.6,378.7 178.8,375.8 179.1,376.8 179.3,379.4 179.5,377.5 179.8,373.8 180,376.8 180.2,377.1 180.4,373.7 180.7,371.6 180.9,372.9 181.1,376.1 181.4,374.3 181.6,371.8 181.8,374.7 182,374.5 182.3,369.7 182.5,369.2 182.7,374.1 182.9,376.6 183.2,373.9 183.4,372.7 183.6,370.6 183.9,367.8 184.1,369.8 184.3,370.5 184.5,368.3 184.8,370 185,367.6 185.2,368.2 185.5,361.1 185.7,364.1 185.9,366.8 186.1,366.5 186.4,364.9 186.6,369.3 186.8,364.4 187.1,365.1 187.3,360.3 187.5,362.5 187.7,362.9 188,363.8 188.2,363.3 188.4,361 188.6,361.3 188.9,358.7 189.1,362.2 189.3,359 189.6,360.7 189.8,361.3 190,365.4 190.2,364.2 190.5,360.4 190.7,359.3 190.9,361.6 191.2,361.1 191.4,364.3 191.6,363.8 191.8,364.7 192.1,361.8 192.3,362.7 192.5,364.7 192.7,365.2 193,363.7 193.2,364.4 193.4,367 193.7,362.3 193.9,365.5 194.1,366.3 194.3,363.8 194.6,363.5 194.8,367.7 195,366.9 195.3,370.5 195.5,370.1 195.7,373.7 195.9,367.3 196.2,373.9 196.4,369.2 196.6,372.6 196.8,373.3 197.1,372.2 197.3,371.6 197.5,371.3 197.8,366.5 198,372.4 198.2,370.3 198.4,374.8 198.7,372.5 198.9,373.9 199.1,375.4 199.4,374.9 199.6,375.1 199.8,374.9 200,374.8 200.3,377.6 200.5,377.5 200.7,374.8 201,379.9 201.2,378 201.4,373.9 201.6,382.5 201.9,378.7 202.1,375.1 202.3,383.5 202.5,372.7 202.8,383 203,375.2 203.2,375 203.5,376.3 203.7,378.9 203.9,377.4 204.1,379.8 204.4,376.3 204.6,381.6 204.8,378 205.1,373.6 205.3,379 205.5,377.2 205.7,375.8 206,378.4 206.2,373.1 206.4,374.3 206.6,377.5 206.9,374.2 207.1,375.2 207.3,374.6 207.6,372.8 207.8,373.9 208,370.3 208.2,373.3 208.5,369.6 208.7,371.4 208.9,369.4 209.2,372 209.4,371.8 209.6,373 209.8,369.6 210.1,369 210.3,366.8 210.5,368.7 210.7,371.1 211,372.4 211.2,371.6 211.4,372.9 211.7,370.5 211.9,372 212.1,376.1 212.3,376.3 212.6,372.8 212.8,375.4 213,376.9 213.3,374.6 213.5,378.1 213.7,378.2 213.9,378.9 214.2,382.1 214.4,376.7 214.6,381 214.9,379.9 215.1,380.5 215.3,377.8 215.5,379.5 215.8,379.6 216,383.1 216.2,380.2 216.4,383.1 216.7,379.7 216.9,379.8 217.1,380.7 217.4,376.8 217.6,380 217.8,380 218,381 218.3,381.8 218.5,379.7 218.7,377.8 219,384.4 219.2,379.8 219.4,381 219.6,378.7 219.9,381.2 220.1,384.7 220.3,384.6 220.5,378.7 220.8,381.9 221,385.2" fill="none" stroke="#183f8f" stroke-width="1.05" stroke-linejoin="round"/>
<line x1="154.7" y1="244.4" x2="172.3" y2="244.4" stroke="#e46aa8" stroke-width="1.2" />
<text x="176" y="247.8" font-size="8.6" text-anchor="start" font-weight="normal" font-style="normal" fill="#231f20" stroke="#231f20" stroke-width="0.22" >2H WSe<tspan font-size="6" dy="2">2</tspan></text>
<line x1="153.6" y1="338.1" x2="172.3" y2="338.1" stroke="#7b9ad0" stroke-width="1.2" />
<text x="176.6" y="341.2" font-size="8.6" text-anchor="start" font-weight="normal" font-style="normal" fill="#231f20" stroke="#231f20" stroke-width="0.22" >1T' WSe<tspan font-size="6" dy="2">2</tspan></text>
<line x1="40.9" y1="317.2" x2="40.9" y2="325" stroke="#d4239b" stroke-width="1.1" />
<text x="43.6" y="325.8" font-size="8.5" text-anchor="start" font-weight="normal" font-style="normal" fill="#231f20" stroke="#231f20" stroke-width="0.22" >Hexagonal 2H (<tspan font-style="italic">P6<tspan font-size="5.8" dy="2">3</tspan><tspan dy="-2">/mmc</tspan></tspan>)</text>
<line x1="40.5" y1="410.6" x2="40.5" y2="418.3" stroke="#c4c4c4" stroke-width="1.1" />
<text x="43.8" y="416.8" font-size="7.0" text-anchor="start" font-weight="normal" font-style="normal" fill="#231f20" stroke="#231f20" stroke-width="0.22" >Orthorhombic 1T' (<tspan font-style="italic">Pnm</tspan>2<tspan font-size="5" dy="1.6">1</tspan><tspan dy="-1.6">)</tspan></text>
<line x1="137.7" y1="410.6" x2="137.7" y2="418.3" stroke="#1c4394" stroke-width="1.1" />
<text x="140.8" y="416.8" font-size="7.0" text-anchor="start" font-weight="normal" font-style="normal" fill="#231f20" stroke="#231f20" stroke-width="0.22" >Monoclinic 1T' (<tspan font-style="italic">P</tspan>2<tspan font-size="5" dy="1.6">1</tspan><tspan dy="-1.6" font-style="italic">/m</tspan>)</text>
<rect x="34.5" y="238.5" width="186.5" height="186.1" fill="none" stroke="#3a3a3a" stroke-width="0.9"/>
<line x1="34.5" y1="254.3" x2="37" y2="254.3" stroke="#3a3a3a" stroke-width="0.8" />
<text x="30.7" y="257.8" font-size="10" text-anchor="end" font-weight="normal" font-style="normal" fill="#231f20" stroke="#231f20" stroke-width="0.22" >2.5</text>
<line x1="34.5" y1="285.1" x2="37" y2="285.1" stroke="#3a3a3a" stroke-width="0.8" />
<text x="30.7" y="288.6" font-size="10" text-anchor="end" font-weight="normal" font-style="normal" fill="#231f20" stroke="#231f20" stroke-width="0.22" >2.0</text>
<line x1="34.5" y1="315.9" x2="37" y2="315.9" stroke="#3a3a3a" stroke-width="0.8" />
<text x="30.7" y="319.4" font-size="10" text-anchor="end" font-weight="normal" font-style="normal" fill="#231f20" stroke="#231f20" stroke-width="0.22" >1.5</text>
<line x1="34.5" y1="346.7" x2="37" y2="346.7" stroke="#3a3a3a" stroke-width="0.8" />
<text x="30.7" y="350.2" font-size="10" text-anchor="end" font-weight="normal" font-style="normal" fill="#231f20" stroke="#231f20" stroke-width="0.22" >1.0</text>
<line x1="34.5" y1="377.5" x2="37" y2="377.5" stroke="#3a3a3a" stroke-width="0.8" />
<text x="30.7" y="381" font-size="10" text-anchor="end" font-weight="normal" font-style="normal" fill="#231f20" stroke="#231f20" stroke-width="0.22" >0.5</text>
<line x1="34.5" y1="408.3" x2="37" y2="408.3" stroke="#3a3a3a" stroke-width="0.8" />
<text x="30.7" y="411.8" font-size="10" text-anchor="end" font-weight="normal" font-style="normal" fill="#231f20" stroke="#231f20" stroke-width="0.22" >0.0</text>
<line x1="34.5" y1="269.7" x2="36.1" y2="269.7" stroke="#3a3a3a" stroke-width="0.8" />
<line x1="34.5" y1="300.5" x2="36.1" y2="300.5" stroke="#3a3a3a" stroke-width="0.8" />
<line x1="34.5" y1="331.3" x2="36.1" y2="331.3" stroke="#3a3a3a" stroke-width="0.8" />
<line x1="34.5" y1="362.1" x2="36.1" y2="362.1" stroke="#3a3a3a" stroke-width="0.8" />
<line x1="34.5" y1="392.9" x2="36.1" y2="392.9" stroke="#3a3a3a" stroke-width="0.8" />
<line x1="51.7" y1="424.6" x2="51.7" y2="422.1" stroke="#3a3a3a" stroke-width="0.8" />
<text x="51.7" y="437.2" font-size="10" text-anchor="middle" font-weight="normal" font-style="normal" fill="#231f20" stroke="#231f20" stroke-width="0.22" >10</text>
<line x1="95" y1="424.6" x2="95" y2="422.1" stroke="#3a3a3a" stroke-width="0.8" />
<text x="95" y="437.2" font-size="10" text-anchor="middle" font-weight="normal" font-style="normal" fill="#231f20" stroke="#231f20" stroke-width="0.22" >20</text>
<line x1="138.3" y1="424.6" x2="138.3" y2="422.1" stroke="#3a3a3a" stroke-width="0.8" />
<text x="138.3" y="437.2" font-size="10" text-anchor="middle" font-weight="normal" font-style="normal" fill="#231f20" stroke="#231f20" stroke-width="0.22" >30</text>
<line x1="181.6" y1="424.6" x2="181.6" y2="422.1" stroke="#3a3a3a" stroke-width="0.8" />
<text x="181.6" y="437.2" font-size="10" text-anchor="middle" font-weight="normal" font-style="normal" fill="#231f20" stroke="#231f20" stroke-width="0.22" >40</text>
<line x1="73.35" y1="424.6" x2="73.35" y2="423" stroke="#3a3a3a" stroke-width="0.8" />
<line x1="116.65" y1="424.6" x2="116.65" y2="423" stroke="#3a3a3a" stroke-width="0.8" />
<line x1="159.95" y1="424.6" x2="159.95" y2="423" stroke="#3a3a3a" stroke-width="0.8" />
<line x1="203.25" y1="424.6" x2="203.25" y2="423" stroke="#3a3a3a" stroke-width="0.8" />
<text x="126.5" y="452" font-size="9.8" text-anchor="middle" font-weight="normal" font-style="normal" fill="#231f20" stroke="#231f20" stroke-width="0.22" >2<tspan font-style="italic">θ</tspan> (degrees)</text>
<text x="9" y="331.5" font-size="9.8" text-anchor="middle" font-weight="normal" font-style="normal" fill="#231f20" stroke="#231f20" stroke-width="0.22" transform="rotate(-90 9 331.5)">Normalized intensity (a.u.)</text>
<text x="232.6" y="242.8" font-size="15" text-anchor="start" font-weight="bold" font-style="normal" fill="#231f20" stroke="#231f20" stroke-width="0.0" >e</text>
<path d="M265,404 265.3,403.1 265.7,401.6 266,400 266.3,398.9 266.7,398.1 267,397 267.3,396.6 267.7,396.3 268,396 268.3,395.9 268.7,395.5 269,396.6 269.3,396.6 269.7,397.4 270,398.6 270.3,399.5 270.7,400.5 271,401.3 271.3,402.1 271.7,403.2 272,404 272.3,405 272.7,406.1 273,406.9 273.3,407.6 273.7,408 274,408.8 274.3,408.8 274.7,409.2 275,409.7 275.3,409.3 275.7,410.3 276,410.4 276.3,410.3 276.7,411 277,410.8 277.3,411 277.7,410.8 278,410.6 278.3,410.3 278.7,410 279,410 279.3,409.8 279.7,409.9 280,410.2 280.3,409.9 280.7,410.4 281,410.6 281.3,410.3 281.7,410.7 282,411 282.3,411.1 282.7,411.3 283,412.1 283.4,412 283.7,412.4 284,412.3 284.4,412.6 284.7,412.2 285,412.5 285.4,412.9 285.7,412.8 286,413.1 286.4,412.9 286.7,412.8 287,412.9 287.4,413.5 287.7,413.1 288,413 288.4,413.1 288.7,412.9 289,413.5 289.4,413.1 289.7,413.4 290,413.3 290.4,413.2 290.7,413.2 291,413.5 291.4,413.3 291.7,413.6 292,413.6 292.4,413.2 292.7,413.3 293,413.6 293.4,413.4 293.7,413.1 294,412.7 294.4,412.8 294.7,412.7 295,413.2 295.4,412.8 295.7,412.6 296,412.5 296.4,412.3 296.7,412.2 297,411.5 297.4,411.2 297.7,411.1 298,410.9 298.4,409.7 298.7,409.8 299,408.9 299.4,408.2 299.7,408.4 300,407.6 300.4,407.4 300.7,406.8 301,406.5 301.4,405.8 301.7,405.9 302,405.8 302.4,405.3 302.7,405.5 303,405.3 303.4,404.5 303.7,405.1 304,404.8 304.4,404.5 304.7,404.6 305,404.7 305.4,403.8 305.7,404.1 306,403.9 306.4,403.7 306.7,403.7 307,403.6 307.4,403.3 307.7,402.8 308,403.2 308.4,403.3 308.7,403.9 309,403.8 309.4,404.4 309.7,404.3 310,404.9 310.4,405.3 310.7,405.8 311,406.3 311.4,407 311.7,407 312,407.9 312.4,408.3 312.7,408.5 313,408.9 313.4,409 313.7,409.1 314,409.4 314.4,409.5 314.7,409.6 315,409.4 315.4,410 315.7,409.5 316,409.8 316.4,409.9 316.7,409.6 317,409.7 317.4,409.5 317.7,409.4 318,410.1 318.4,409.6 318.7,409.2 319,409.4 319.4,409.3 319.7,409.6 320.1,409.9 320.4,409.9 320.7,409.4 321.1,409.4 321.4,409.8 321.7,409.7 322.1,409.5 322.4,410 322.7,409.7 323.1,409.2 323.4,409 323.7,409.4 324.1,408.7 324.4,408.8 324.7,408.4 325.1,408.2 325.4,406.9 325.7,406.6 326.1,405.3 326.4,405.1 326.7,404.6 327.1,404.4 327.4,403.2 327.7,403.2 328.1,402.9 328.4,403.2 328.7,402.4 329.1,402.5 329.4,403.1 329.7,403.3 330.1,403.6 330.4,403.9 330.7,404.6 331.1,404.8 331.4,405.8 331.7,406.4 332.1,406.9 332.4,407.8 332.7,407.8 333.1,407.7 333.4,408.2 333.7,408.6 334.1,408.6 334.4,409.4 334.7,409.2 335.1,409.2 335.4,409.3 335.7,409.8 336.1,409.5 336.4,409.4 336.7,410 337.1,409.8 337.4,410.3 337.7,410.4 338.1,409.8 338.4,409.8 338.7,409.7 339.1,409.8 339.4,409.7 339.7,409.3 340.1,409 340.4,409.4 340.7,409.6 341.1,408.9 341.4,408.9 341.7,408.8 342.1,408.9 342.4,408.3 342.7,408.8 343.1,408.6 343.4,409.1 343.7,408.8 344.1,408.8 344.4,408.6 344.7,408.5 345.1,408.7 345.4,408.1 345.7,408.7 346.1,408.5 346.4,408.3 346.7,408.6 347.1,408.1 347.4,408.1 347.7,408.3 348.1,407.8 348.4,408.2 348.7,408.1 349.1,408.4 349.4,408.5 349.7,408.3 350.1,408.2 350.4,408.2 350.7,407.9 351.1,408.7 351.4,408.4 351.7,408.6 352.1,407.9 352.4,408.4 352.7,408.4 353.1,408.6 353.4,408.1 353.7,408.5 354.1,408.3 354.4,408.9 354.7,408.2 355.1,408.4 355.4,408.3 355.8,408.1 356.1,408.2 356.4,407.9 356.8,407.3 357.1,406.8 357.4,406.3 357.8,405.6 358.1,404.9 358.4,403.8 358.8,402.9 359.1,402.2 359.4,401 359.8,400.9 360.1,399.8 360.4,398.7 360.8,398.5 361.1,398.3 361.4,397.2 361.8,397.1 362.1,397.3 362.4,396.9 362.8,397.4 363.1,397.8 363.4,397.9 363.8,398.4 364.1,399 364.4,399.4 364.8,400.1 365.1,400.4 365.4,401 365.8,401.3 366.1,402.1 366.4,402.7 366.8,403.2 367.1,403.4 367.4,403.4 367.8,404 368.1,404.8 368.4,404.8 368.8,405.7 369.1,405.5 369.4,406 369.8,405.9 370.1,405.9 370.4,406 370.8,405.6 371.1,405.5 371.4,404.7 371.8,403.7 372.1,402.3 372.4,402.2 372.8,401.5 373.1,400.9 373.4,399.7 373.8,399.5 374.1,398.5 374.4,397.5 374.8,397.1 375.1,395.7 375.4,395 375.8,394.6 376.1,393.9 376.4,393.4 376.8,393 377.1,392.3 377.4,392.1 377.8,392.3 378.1,392.7 378.4,393.4 378.8,393.9 379.1,395.1 379.4,395.6 379.8,396.1 380.1,397 380.4,398.1 380.8,398.9 381.1,399.2 381.4,399.8 381.8,401.3 382.1,401.8 382.4,402.3 382.8,402.8 383.1,403.8 383.4,404 383.8,404.6 384.1,404.3 384.4,405.1 384.8,405.5 385.1,405.8 385.4,405.7 385.8,406 386.1,406.6 386.4,406.5 386.8,407 387.1,407 387.4,407.2 387.8,407.2 388.1,407.1 388.4,407 388.8,406.5 389.1,406.2 389.4,406.2 389.8,406 390.1,405.2 390.4,405.5 390.8,405.1 391.1,404.1 391.5,403.8 391.8,403.4 392.1,403.3 392.5,403.1 392.8,402.6 393.1,401.9 393.5,401.8 393.8,401.4 394.1,401.2 394.5,400.8 394.8,400.1 395.1,399.9 395.5,400.1 395.8,399.9 396.1,399.7 396.5,399.5 396.8,399.9 397.1,399.8 397.5,400.4 397.8,400.5 398.1,400.3 398.5,400.5 398.8,401.2 399.1,401.4 399.5,401.4 399.8,402 400.1,402.5 400.5,402.7 400.8,403.2 401.1,403.4 401.5,403.9 401.8,404.6 402.1,404.9 402.5,405.3 402.8,406 403.1,406.2 403.5,406.1 403.8,407.1 404.1,406.8 404.5,407.3 404.8,407.8 405.1,407.9 405.5,408.3 405.8,408.4 406.1,409 406.5,409.2 406.8,409.5 407.1,409.2 407.5,409.5 407.8,410.1 408.1,410.1 408.5,410.2 408.8,410.1 409.1,410.2 409.5,409.8 409.8,410.8 410.1,410.2 410.5,410.4 410.8,410.7 411.1,410.6 411.5,410.7 411.8,410.7 412.1,410.5 412.5,411.1 412.8,410.5 413.1,410.9 413.5,410.6 413.8,410.8 414.1,410.7 414.5,410.9 414.8,410.8 415.1,411 415.5,411.2 415.8,410.9 416.1,410.9 416.5,410.6 416.8,411.5 417.1,411.1 417.5,410.8 417.8,411.4 418.1,411.1 418.5,410.6 418.8,410.7 419.1,411.2 419.5,410.6 419.8,410.6 420.1,410.7 420.5,410.7 420.8,410.7 421.1,410.9 421.5,410.8 421.8,410.5 422.1,410.6 422.5,410.2 422.8,410.6 423.1,411 423.5,410.5 423.8,410.4 424.1,410.3 424.5,410.4 424.8,410.6 425.1,410 425.5,410.5 425.8,410.3 426.1,410.6 426.5,410.9 426.8,410.5 427.1,411.6 427.5,411.4 427.8,411.2 428.2,411.5 428.5,411.2 428.8,411.4 429.2,411.4 429.5,410.8 429.8,411.2 430.2,411.1 430.5,411.2 430.8,410.9 431.2,410.5 431.5,410.4 431.8,410.4 432.2,410.4 432.5,410 432.8,410.5 433.2,410.1 433.5,410.1 433.8,410.2 434.2,410 434.5,410.2 434.8,410.3 435.2,409.8 435.5,410.1 435.8,410.1 436.2,410.5 436.5,410.4 436.8,410.5 437.2,410.6 437.5,410.4 437.8,411.1 438.2,411.1 438.5,411.3 438.8,412.2 439.2,411.9 439.5,411.7 439.8,411.7 440.2,412.1 440.5,411.9 440.8,412 441.2,412.5 441.5,412.2 441.8,412.2 442.2,412.6 442.5,413 442.8,412.5 443.2,413 443.5,413 443.8,412.9 444.2,413.1 444.5,412.7 444.8,412.8 445.2,412.7 445.5,412.8 445.8,413.1 446.2,413 446.5,412.8 446.8,413 447.2,412.3 447.5,413 447.8,413.1 448.2,412.7 448.5,412.8 448.8,413 449.2,413 449.5,412.9 449.8,412.8 450.2,412.8 450.5,413 450.8,412.9 451.2,412.8 451.5,412.8" fill="none" stroke="#2e5aa8" stroke-width="1.05" stroke-linejoin="round"/>
<path d="M265,385 265.3,384.4 265.7,384.1 266,383.7 266.3,383.7 266.7,383.5 267,383.4 267.3,382.9 267.7,382.9 268,382.7 268.3,382.5 268.7,382 269,382.1 269.3,382.1 269.7,381.4 270,381.5 270.3,381 270.7,380.8 271,380.4 271.3,380.3 271.7,380.4 272,380.1 272.3,380.2 272.7,379.3 273,379.4 273.3,379 273.7,379.2 274,379.3 274.3,378.3 274.7,378.4 275,378.2 275.3,377.9 275.7,377.5 276,377.2 276.3,377.3 276.7,376.4 277,376.3 277.3,375.9 277.7,375 278,374.8 278.3,374.8 278.7,374.9 279,374.2 279.3,374.1 279.7,374.2 280,374.5 280.3,374.6 280.7,374.8 281,374.7 281.3,374.7 281.7,374.8 282,375.2 282.3,375 282.7,374.7 283,374.7 283.4,374.2 283.7,373.3 284,373.2 284.4,372.6 284.7,372.4 285,371.9 285.4,372 285.7,371.4 286,371 286.4,370.9 286.7,371.4 287,372 287.4,372.8 287.7,373.8 288,374.6 288.4,375.3 288.7,376.6 289,377.1 289.4,378.3 289.7,379.2 290,379.6 290.4,380.3 290.7,380.6 291,380.4 291.4,381.1 291.7,381.3 292,381.3 292.4,381.5 292.7,382 293,381.7 293.4,381.9 293.7,382 294,382 294.4,382.4 294.7,382.3 295,382.2 295.4,382.1 295.7,382.4 296,382.4 296.4,382.4 296.7,382.7 297,383.4 297.4,383.9 297.7,385.1 298,385.8 298.4,386.5 298.7,387.5 299,388.3 299.4,388.6 299.7,389.6 300,390.3 300.4,390.4 300.7,390.5 301,391.2 301.4,391.3 301.7,392 302,392.3 302.4,392.6 302.7,392.7 303,392.6 303.4,393.5 303.7,393.1 304,394 304.4,394.1 304.7,394.2 305,394.6 305.4,395.1 305.7,395.9 306,395.9 306.4,396.6 306.7,396.2 307,397.2 307.4,397.5 307.7,398.1 308,398.3 308.4,398.7 308.7,398.3 309,398.7 309.4,398.5 309.7,398.7 310,398.6 310.4,398 310.7,398.3 311,398.2 311.4,397.5 311.7,397.5 312,397.1 312.4,396.6 312.7,396.7 313,396.2 313.4,396.4 313.7,395.9 314,395.9 314.4,396.4 314.7,396.5 315,396.9 315.4,396.9 315.7,397 316,397.9 316.4,397.7 316.7,398.5 317,398.8 317.4,399.3 317.7,398.7 318,399.4 318.4,399.5 318.7,399.9 319,399.6 319.4,400.3 319.7,399.8 320.1,399.2 320.4,399.7 320.7,399.4 321.1,399.1 321.4,399.3 321.7,399 322.1,398.6 322.4,398.6 322.7,398.5 323.1,398.6 323.4,398.4 323.7,398.4 324.1,398.1 324.4,398.3 324.7,398.5 325.1,399.1 325.4,398.4 325.7,398.5 326.1,398.9 326.4,399.2 326.7,399.1 327.1,398.7 327.4,399.2 327.7,399.1 328.1,399 328.4,398.9 328.7,399.2 329.1,399.3 329.4,399.4 329.7,399 330.1,399.1 330.4,399.4 330.7,399.7 331.1,399.6 331.4,399.3 331.7,399.6 332.1,399.3 332.4,399.4 332.7,399.4 333.1,399.3 333.4,399.3 333.7,399.6 334.1,399.5 334.4,398.8 334.7,399.6 335.1,399.4 335.4,399 335.7,399.2 336.1,399.3 336.4,399.4 336.7,398.9 337.1,398.8 337.4,398.6 337.7,398.9 338.1,398.6 338.4,399 338.7,398.7 339.1,398.8 339.4,398.5 339.7,398.3 340.1,398.2 340.4,398.5 340.7,397.9 341.1,398.2 341.4,398.3 341.7,398 342.1,398.2 342.4,397.7 342.7,397.5 343.1,397.5 343.4,397.2 343.7,397.3 344.1,397.1 344.4,397.3 344.7,396.9 345.1,396.9 345.4,396.7 345.7,396.5 346.1,396.3 346.4,396.6 346.7,396.4 347.1,395.9 347.4,395.5 347.7,395.4 348.1,395 348.4,394.6 348.7,394.4 349.1,394.1 349.4,393.7 349.7,393.1 350.1,392.3 350.4,391.5 350.7,390.9 351.1,390.3 351.4,389.9 351.7,389.3 352.1,389.2 352.4,389 352.7,389 353.1,389.1 353.4,389.3 353.7,388.9 354.1,388.9 354.4,389.1 354.7,389.1 355.1,388.4 355.4,389 355.8,388.6 356.1,388.2 356.4,388.2 356.8,387.5 357.1,386.7 357.4,386.4 357.8,386.1 358.1,385.8 358.4,385.6 358.8,385.1 359.1,385.1 359.4,384.9 359.8,384.5 360.1,384.1 360.4,384 360.8,383.7 361.1,384.1 361.4,383.2 361.8,382.7 362.1,382.7 362.4,382.9 362.8,382.8 363.1,382.3 363.4,382.4 363.8,381.8 364.1,381.8 364.4,381.3 364.8,380.9 365.1,381.5 365.4,380.7 365.8,380.7 366.1,380.6 366.4,380.2 366.8,379.9 367.1,379.3 367.4,379.7 367.8,378.8 368.1,378.4 368.4,378.4 368.8,378.1 369.1,378 369.4,377.9 369.8,377.2 370.1,377 370.4,376.5 370.8,375.8 371.1,375.8 371.4,375.5 371.8,374.8 372.1,375 372.4,374.5 372.8,373.9 373.1,373.5 373.4,372.7 373.8,372.4 374.1,371.4 374.4,370.9 374.8,370.5 375.1,370.1 375.4,369.3 375.8,368.5 376.1,368.2 376.4,367 376.8,365.9 377.1,364.9 377.4,363.3 377.8,362 378.1,361 378.4,359.4 378.8,358.4 379.1,356.8 379.4,355.9 379.8,354.1 380.1,352.6 380.4,350.6 380.8,348.6 381.1,346.3 381.4,342.7 381.8,340.1 382.1,336.6 382.4,333.6 382.8,330.4 383.1,327.1 383.4,324.5 383.8,321.4 384.1,319.2 384.4,315.8 384.8,313.2 385.1,310.3 385.4,307.3 385.8,304 386.1,300.4 386.4,297.4 386.8,292.8 387.1,288.8 387.4,284.4 387.8,281.5 388.1,279.4 388.4,279.1 388.8,279.8 389.1,281.9 389.4,285.2 389.8,288.6 390.1,292.6 390.4,295.9 390.8,299.3 391.1,303 391.5,305.8 391.8,309.7 392.1,312.8 392.5,315.8 392.8,318.7 393.1,321.7 393.5,324.6 393.8,327.4 394.1,330 394.5,332.9 394.8,335.6 395.1,338.1 395.5,339.9 395.8,343.4 396.1,345.5 396.5,347.8 396.8,350.7 397.1,353.6 397.5,355.9 397.8,358.2 398.1,360.3 398.5,363 398.8,364.6 399.1,366.7 399.5,368.3 399.8,369.9 400.1,371.8 400.5,373.6 400.8,374.6 401.1,375.6 401.5,377.1 401.8,378.4 402.1,379 402.5,380.9 402.8,381.5 403.1,382.9 403.5,383.7 403.8,384.7 404.1,385.4 404.5,386.8 404.8,387.6 405.1,388.7 405.5,388.9 405.8,389.8 406.1,390.2 406.5,391 406.8,391.2 407.1,391.3 407.5,391.9 407.8,392 408.1,392.3 408.5,392.7 408.8,393.2 409.1,392.8 409.5,393.2 409.8,393.2 410.1,394.1 410.5,394.2 410.8,394.5 411.1,394.4 411.5,394.1 411.8,394.4 412.1,394.7 412.5,394.8 412.8,394.8 413.1,395.1 413.5,395.1 413.8,395.3 414.1,395.9 414.5,395.7 414.8,395.4 415.1,395.9 415.5,396 415.8,396.3 416.1,396.4 416.5,396.3 416.8,396.8 417.1,397.2 417.5,398 417.8,397.8 418.1,398.5 418.5,398.9 418.8,398.7 419.1,399.1 419.5,400.1 419.8,399.7 420.1,400 420.5,400.3 420.8,400 421.1,400.5 421.5,400.3 421.8,400.2 422.1,400 422.5,399.4 422.8,399.7 423.1,399.5 423.5,399.3 423.8,398.9 424.1,398.8 424.5,398.4 424.8,398.7 425.1,398.7 425.5,398.5 425.8,398.4 426.1,398.7 426.5,398.6 426.8,398.4 427.1,399.2 427.5,399.2 427.8,399.1 428.2,399.7 428.5,399.9 428.8,400 429.2,399.7 429.5,399.6 429.8,399.7 430.2,399.5 430.5,399.1 430.8,399 431.2,399.3 431.5,398.8 431.8,398.6 432.2,398.2 432.5,398.3 432.8,398.2 433.2,398 433.5,398.2 433.8,397.7 434.2,397.8 434.5,397.6 434.8,398 435.2,398.1 435.5,398.4 435.8,398.6 436.2,398.5 436.5,399.1 436.8,399.2 437.2,399.9 437.5,400 437.8,400.8 438.2,400.8 438.5,401.2 438.8,401.2 439.2,401.6 439.5,402 439.8,401.9 440.2,402.2 440.5,402.3 440.8,402.2 441.2,402.4 441.5,402.4 441.8,402.1 442.2,402.1 442.5,401.6 442.8,401.2 443.2,401 443.5,401 443.8,400.9 444.2,400.3 444.5,400 444.8,399.5 445.2,399.6 445.5,399.4 445.8,399.1 446.2,399.3 446.5,399.1 446.8,398.7 447.2,398.7 447.5,398.8 447.8,398.9 448.2,399.1 448.5,398.8 448.8,398.8 449.2,398.8 449.5,398.9 449.8,398.8 450.2,398.8 450.5,398.7 450.8,398.4 451.2,398.7 451.5,399.1" fill="none" stroke="#d92a8e" stroke-width="1.05" stroke-linejoin="round"/>
<line x1="275" y1="246.3" x2="296" y2="246.3" stroke="#4a72bc" stroke-width="1.2" />
<text x="300" y="249.7" font-size="8.9" text-anchor="start" font-weight="normal" font-style="normal" fill="#231f20" stroke="#231f20" stroke-width="0.22" >1T' WSe<tspan font-size="6" dy="2.2">2</tspan></text>
<line x1="275" y1="259.4" x2="296" y2="259.4" stroke="#e46aa8" stroke-width="1.2" />
<text x="300" y="262.4" font-size="8.9" text-anchor="start" font-weight="normal" font-style="normal" fill="#231f20" stroke="#231f20" stroke-width="0.22" >2H WSe<tspan font-size="6" dy="2.2">2</tspan></text>
<text x="382.8" y="274.8" font-size="8.8" text-anchor="start" font-weight="normal" font-style="normal" fill="#231f20" stroke="#231f20" stroke-width="0.22" ><tspan font-style="italic">E</tspan><tspan font-size="6.6" dy="2.6">2g</tspan><tspan font-size="5.2" dx="-7.6" dy="-7.6">1</tspan></text>
<text x="395" y="324.2" font-size="8.8" text-anchor="start" font-weight="normal" font-style="normal" fill="#231f20" stroke="#231f20" stroke-width="0.22" ><tspan font-style="italic">A</tspan><tspan font-size="6.6" dy="2.4">1g</tspan></text>
<rect x="265" y="238.5" width="186.5" height="186.1" fill="none" stroke="#3a3a3a" stroke-width="0.9"/>
<line x1="265" y1="265.6" x2="267.5" y2="265.6" stroke="#3a3a3a" stroke-width="0.8" />
<text x="261.2" y="269.1" font-size="10" text-anchor="end" font-weight="normal" font-style="normal" fill="#231f20" stroke="#231f20" stroke-width="0.22" >4</text>
<line x1="265" y1="303" x2="267.5" y2="303" stroke="#3a3a3a" stroke-width="0.8" />
<text x="261.2" y="306.5" font-size="10" text-anchor="end" font-weight="normal" font-style="normal" fill="#231f20" stroke="#231f20" stroke-width="0.22" >3</text>
<line x1="265" y1="340.4" x2="267.5" y2="340.4" stroke="#3a3a3a" stroke-width="0.8" />
<text x="261.2" y="343.9" font-size="10" text-anchor="end" font-weight="normal" font-style="normal" fill="#231f20" stroke="#231f20" stroke-width="0.22" >2</text>
<line x1="265" y1="377.8" x2="267.5" y2="377.8" stroke="#3a3a3a" stroke-width="0.8" />
<text x="261.2" y="381.3" font-size="10" text-anchor="end" font-weight="normal" font-style="normal" fill="#231f20" stroke="#231f20" stroke-width="0.22" >1</text>
<line x1="265" y1="415.2" x2="267.5" y2="415.2" stroke="#3a3a3a" stroke-width="0.8" />
<text x="261.2" y="418.7" font-size="10" text-anchor="end" font-weight="normal" font-style="normal" fill="#231f20" stroke="#231f20" stroke-width="0.22" >0</text>
<line x1="265" y1="246.9" x2="266.6" y2="246.9" stroke="#3a3a3a" stroke-width="0.8" />
<line x1="265" y1="284.3" x2="266.6" y2="284.3" stroke="#3a3a3a" stroke-width="0.8" />
<line x1="265" y1="321.7" x2="266.6" y2="321.7" stroke="#3a3a3a" stroke-width="0.8" />
<line x1="265" y1="359.1" x2="266.6" y2="359.1" stroke="#3a3a3a" stroke-width="0.8" />
<line x1="265" y1="396.5" x2="266.6" y2="396.5" stroke="#3a3a3a" stroke-width="0.8" />
<line x1="265" y1="424.6" x2="265" y2="422.1" stroke="#3a3a3a" stroke-width="0.8" />
<text x="265" y="437.2" font-size="10" text-anchor="middle" font-weight="normal" font-style="normal" fill="#231f20" stroke="#231f20" stroke-width="0.22" >100</text>
<line x1="306.57" y1="424.6" x2="306.57" y2="422.1" stroke="#3a3a3a" stroke-width="0.8" />
<text x="306.57" y="437.2" font-size="10" text-anchor="middle" font-weight="normal" font-style="normal" fill="#231f20" stroke="#231f20" stroke-width="0.22" >150</text>
<line x1="348.15" y1="424.6" x2="348.15" y2="422.1" stroke="#3a3a3a" stroke-width="0.8" />
<text x="348.15" y="437.2" font-size="10" text-anchor="middle" font-weight="normal" font-style="normal" fill="#231f20" stroke="#231f20" stroke-width="0.22" >200</text>
<line x1="389.73" y1="424.6" x2="389.73" y2="422.1" stroke="#3a3a3a" stroke-width="0.8" />
<text x="389.73" y="437.2" font-size="10" text-anchor="middle" font-weight="normal" font-style="normal" fill="#231f20" stroke="#231f20" stroke-width="0.22" >250</text>
<line x1="431.3" y1="424.6" x2="431.3" y2="422.1" stroke="#3a3a3a" stroke-width="0.8" />
<text x="431.3" y="437.2" font-size="10" text-anchor="middle" font-weight="normal" font-style="normal" fill="#231f20" stroke="#231f20" stroke-width="0.22" >300</text>
<line x1="285.79" y1="424.6" x2="285.79" y2="423" stroke="#3a3a3a" stroke-width="0.8" />
<line x1="327.36" y1="424.6" x2="327.36" y2="423" stroke="#3a3a3a" stroke-width="0.8" />
<line x1="368.94" y1="424.6" x2="368.94" y2="423" stroke="#3a3a3a" stroke-width="0.8" />
<line x1="410.51" y1="424.6" x2="410.51" y2="423" stroke="#3a3a3a" stroke-width="0.8" />
<text x="358.5" y="452" font-size="9.8" text-anchor="middle" font-weight="normal" font-style="normal" fill="#231f20" stroke="#231f20" stroke-width="0.22" >Raman shift (cm<tspan font-size="6.5" dy="-3.8">−1</tspan><tspan dy="3.8">)</tspan></text>
<text x="241.2" y="333.5" font-size="9.8" text-anchor="middle" font-weight="normal" font-style="normal" fill="#231f20" stroke="#231f20" stroke-width="0.22" transform="rotate(-90 241.2 333.5)">Intensity (× 10<tspan font-size="6.5" dy="-3.8">3</tspan><tspan dy="3.8">, cts)</tspan></text>
<text x="463.6" y="242.5" font-size="15" text-anchor="start" font-weight="bold" font-style="normal" fill="#231f20" stroke="#231f20" stroke-width="0.0" >f</text>
<path d="M498.2,393.6 498.7,393.4 499.1,393.3 499.6,393.2 500.1,393.1 500.5,393 501,392.8 501.5,392.7 501.9,392.6 502.4,392.5 502.9,392.3 503.3,392.2 503.8,392.1 504.3,392 504.7,391.9 505.2,391.7 505.7,391.6 506.1,391.6 506.6,391.5 507,391.4 507.5,391.3 508,391.3 508.4,391.2 508.9,391.2 509.4,391.1 509.8,391 510.3,391 510.8,390.9 511.2,390.9 511.7,390.8 512.2,390.8 512.6,390.7 513.1,390.7 513.6,390.6 514,390.6 514.5,390.6 515,390.5 515.4,390.5 515.9,390.4 516.4,390.4 516.8,390.3 517.3,390.3 517.8,390.3 518.2,390.2 518.7,390.2 519.2,390.1 519.6,390.1 520.1,390.1 520.6,390 521,390 521.5,389.9 522,389.9 522.4,389.9 522.9,389.8 523.3,389.8 523.8,389.8 524.3,389.7 524.7,389.7 525.2,389.6 525.7,389.6 526.1,389.6 526.6,389.5 527.1,389.5 527.5,389.5 528,389.4 528.5,389.4 528.9,389.4 529.4,389.3 529.9,389.3 530.3,389.3 530.8,389.2 531.3,389.2 531.7,389.2 532.2,389.1 532.7,389.1 533.1,389.1 533.6,389 534.1,389 534.5,389 535,388.9 535.5,388.9 535.9,388.9 536.4,388.8 536.9,388.8 537.3,388.8 537.8,388.7 538.3,388.7 538.7,388.6 539.2,388.6 539.6,388.6 540.1,388.5 540.6,388.5 541,388.4 541.5,388.4 542,388.4 542.4,388.3 542.9,388.3 543.4,388.2 543.8,388.2 544.3,388.2 544.8,388.1 545.2,388.1 545.7,388.1 546.2,388 546.6,388 547.1,388 547.6,387.9 548,387.9 548.5,387.9 549,387.8 549.4,387.8 549.9,387.8 550.4,387.8 550.8,387.7 551.3,387.7 551.8,387.7 552.2,387.7 552.7,387.6 553.2,387.6 553.6,387.6 554.1,387.6 554.6,387.6 555,387.5 555.5,387.5 555.9,387.5 556.4,387.5 556.9,387.5 557.3,387.4 557.8,387.4 558.3,387.4 558.7,387.4 559.2,387.4 559.7,387.3 560.1,387.3 560.6,387.3 561.1,387.3 561.5,387.3 562,387.2 562.5,387.2 562.9,387.2 563.4,387.2 563.9,387.2 564.3,387.2 564.8,387.1 565.3,387.1 565.7,387.1 566.2,387.1 566.7,387.1 567.1,387.1 567.6,387 568.1,387 568.5,387 569,387 569.5,387 569.9,387 570.4,386.9 570.9,386.9 571.3,386.9 571.8,386.9 572.2,386.9 572.7,386.9 573.2,386.9 573.6,386.8 574.1,386.8 574.6,386.8 575,386.8 575.5,386.8 576,386.8 576.4,386.8 576.9,386.7 577.4,386.7 577.8,386.7 578.3,386.7 578.8,386.7 579.2,386.7 579.7,386.7 580.2,386.6 580.6,386.6 581.1,386.6 581.6,386.6 582,386.6 582.5,386.6 583,386.6 583.4,386.5 583.9,386.5 584.4,386.5 584.8,386.5 585.3,386.5 585.8,386.5 586.2,386.5 586.7,386.4 587.2,386.4 587.6,386.4 588.1,386.4 588.5,386.4 589,386.4 589.5,386.4 589.9,386.3 590.4,386.3 590.9,386.3 591.3,386.3 591.8,386.3 592.3,386.3 592.7,386.2 593.2,386.2 593.7,386.2 594.1,386.2 594.6,386.2 595.1,386.2 595.5,386.2 596,386.1 596.5,386.1 596.9,386.1 597.4,386.1 597.9,386.1 598.3,386.1 598.8,386 599.3,386 599.7,386 600.2,386 600.7,386 601.1,386 601.6,385.9 602.1,385.9 602.5,385.9 603,385.9 603.5,385.9 603.9,385.9 604.4,385.8 604.8,385.8 605.3,385.8 605.8,385.8 606.2,385.8 606.7,385.8 607.2,385.8 607.6,385.7 608.1,385.7 608.6,385.7 609,385.7 609.5,385.7 610,385.7 610.4,385.7 610.9,385.7 611.4,385.6 611.8,385.6 612.3,385.6 612.8,385.6 613.2,385.6 613.7,385.6 614.2,385.6 614.6,385.6 615.1,385.5 615.6,385.5 616,385.5 616.5,385.5 617,385.5 617.4,385.5 617.9,385.5 618.4,385.5 618.8,385.5 619.3,385.5 619.8,385.5 620.2,385.5 620.7,385.5 621.1,385.4 621.6,385.4 622.1,385.4 622.5,385.4 623,385.4 623.5,385.4 623.9,385.4 624.4,385.4 624.9,385.4 625.3,385.4 625.8,385.4 626.3,385.4 626.7,385.4 627.2,385.4 627.7,385.4 628.1,385.4 628.6,385.4 629.1,385.4 629.5,385.4 630,385.4 630.5,385.4 630.9,385.4 631.4,385.4 631.9,385.4 632.3,385.4 632.8,385.4 633.3,385.4 633.7,385.4 634.2,385.4 634.7,385.4 635.1,385.4 635.6,385.4 636.1,385.4 636.5,385.4 637,385.4 637.4,385.4 637.9,385.4 638.4,385.4 638.8,385.4 639.3,385.3 639.8,385.3 640.2,385.3 640.7,385.3 641.2,385.3 641.6,385.3 642.1,385.3 642.6,385.3 643,385.3 643.5,385.3 644,385.3 644.4,385.3 644.9,385.3 645.4,385.3 645.8,385.3 646.3,385.3 646.8,385.3 647.2,385.3 647.7,385.3 648.2,385.3 648.6,385.3 649.1,385.3 649.6,385.3 650,385.3 650.5,385.3 651,385.3 651.4,385.3 651.9,385.3 652.4,385.3 652.8,385.3 653.3,385.3 653.7,385.3 654.2,385.3 654.7,385.3 655.1,385.3 655.6,385.3 656.1,385.3 656.5,385.3 657,385.3 657.5,385.3 657.9,385.3 658.4,385.3 658.9,385.3 659.3,385.3 659.8,385.3 660.3,385.3 660.7,385.3 661.2,385.3 661.7,385.3 662.1,385.3 662.6,385.3 663.1,385.3 663.5,385.3 664,385.3 664.5,385.3 664.9,385.3 665.4,385.3 665.9,385.3 666.3,385.3 666.8,385.3 667.3,385.3 667.7,385.3 668.2,385.3 668.7,385.3 669.1,385.3 669.6,385.3 670,385.3 670.5,385.3 671,385.3 671.4,385.3 671.9,385.3 672.4,385.3 672.8,385.3 673.3,385.3 673.8,385.3 674.2,385.3 674.7,385.3 675.2,385.3 675.6,385.3 676.1,385.3 676.6,385.3 677,385.3 677.5,385.3 678,385.3 678.4,385.3 678.9,385.3 679.4,385.3 679.8,385.3 680.3,385.3 680.8,385.3 681.2,385.3 681.7,385.3 682.2,385.3 682.6,385.3 683.1,385.3 683.6,385.3 684,385.3" fill="none" stroke="#2e5aa8" stroke-width="1.0" stroke-linejoin="round"/>
<path d="M498.2,359.1 498.7,358.7 499.1,358.2 499.6,357.6 500.1,356.9 500.5,356.3 501,355.7 501.5,355.2 501.9,354.6 502.4,354.1 502.9,353.6 503.3,353.1 503.8,352.6 504.3,352.2 504.7,351.7 505.2,351.3 505.7,350.8 506.1,350.4 506.6,349.9 507,349.4 507.5,348.9 508,348.5 508.4,348 508.9,347.6 509.4,347.1 509.8,346.7 510.3,346.3 510.8,345.9 511.2,345.5 511.7,345.1 512.2,344.7 512.6,344.3 513.1,344 513.6,343.6 514,343.3 514.5,343 515,342.8 515.4,342.6 515.9,342.4 516.4,342.3 516.8,342.2 517.3,342.1 517.8,342.1 518.2,342 518.7,342 519.2,341.9 519.6,341.9 520.1,341.8 520.6,341.8 521,341.7 521.5,341.7 522,341.6 522.4,341.4 522.9,341.3 523.3,341 523.8,340.8 524.3,340.4 524.7,340.1 525.2,339.7 525.7,339.3 526.1,338.9 526.6,338.4 527.1,338 527.5,337.6 528,337.2 528.5,336.8 528.9,336.3 529.4,335.9 529.9,335.5 530.3,335.1 530.8,334.6 531.3,334.2 531.7,333.8 532.2,333.3 532.7,332.9 533.1,332.5 533.6,332.1 534.1,331.7 534.5,331.3 535,330.9 535.5,330.5 535.9,330.1 536.4,329.7 536.9,329.3 537.3,328.9 537.8,328.5 538.3,328.1 538.7,327.7 539.2,327.3 539.6,326.9 540.1,326.5 540.6,326.1 541,325.7 541.5,325.2 542,324.7 542.4,324.2 542.9,323.6 543.4,323 543.8,322.3 544.3,321.6 544.8,320.9 545.2,320.2 545.7,319.6 546.2,318.9 546.6,318.3 547.1,317.7 547.6,317.2 548,316.6 548.5,316.1 549,315.6 549.4,315.2 549.9,314.9 550.4,314.6 550.8,314.3 551.3,314.1 551.8,313.8 552.2,313.6 552.7,313.5 553.2,313.3 553.6,313.1 554.1,313 554.6,312.8 555,312.7 555.5,312.6 555.9,312.4 556.4,312.3 556.9,312.2 557.3,312.1 557.8,312 558.3,311.9 558.7,311.8 559.2,311.7 559.7,311.6 560.1,311.5 560.6,311.4 561.1,311.2 561.5,311.1 562,311 562.5,310.9 562.9,310.8 563.4,310.7 563.9,310.6 564.3,310.5 564.8,310.4 565.3,310.3 565.7,310.2 566.2,310 566.7,309.9 567.1,309.8 567.6,309.7 568.1,309.6 568.5,309.5 569,309.4 569.5,309.3 569.9,309.2 570.4,309.1 570.9,309 571.3,308.9 571.8,308.8 572.2,308.7 572.7,308.6 573.2,308.5 573.6,308.4 574.1,308.2 574.6,308.1 575,308 575.5,307.9 576,307.8 576.4,307.7 576.9,307.6 577.4,307.5 577.8,307.4 578.3,307.3 578.8,307.2 579.2,307.1 579.7,307 580.2,306.9 580.6,306.8 581.1,306.8 581.6,306.7 582,306.6 582.5,306.6 583,306.6 583.4,306.5 583.9,306.5 584.4,306.5 584.8,306.5 585.3,306.4 585.8,306.4 586.2,306.4 586.7,306.4 587.2,306.4 587.6,306.5 588.1,306.5 588.5,306.6 589,306.7 589.5,306.9 589.9,307.1 590.4,307.3 590.9,307.5 591.3,307.8 591.8,308.1 592.3,308.3 592.7,308.6 593.2,308.9 593.7,309.2 594.1,309.6 594.6,309.9 595.1,310.2 595.5,310.6 596,310.9 596.5,311.3 596.9,311.7 597.4,312.2 597.9,312.6 598.3,313.1 598.8,313.6 599.3,314 599.7,314.5 600.2,314.9 600.7,315.3 601.1,315.7 601.6,316.1 602.1,316.5 602.5,316.8 603,317.2 603.5,317.5 603.9,317.9 604.4,318.2 604.8,318.6 605.3,318.9 605.8,319.2 606.2,319.5 606.7,319.7 607.2,319.9 607.6,320.1 608.1,320.2 608.6,320.3 609,320.4 609.5,320.4 610,320.5 610.4,320.5 610.9,320.5 611.4,320.5 611.8,320.5 612.3,320.5 612.8,320.5 613.2,320.4 613.7,320.4 614.2,320.3 614.6,320.2 615.1,320.1 615.6,319.9 616,319.8 616.5,319.5 617,319.3 617.4,319.1 617.9,318.9 618.4,318.7 618.8,318.6 619.3,318.5 619.8,318.4 620.2,318.4 620.7,318.4 621.1,318.4 621.6,318.5 622.1,318.7 622.5,318.9 623,319 623.5,319.3 623.9,319.5 624.4,319.8 624.9,320 625.3,320.3 625.8,320.6 626.3,321 626.7,321.4 627.2,321.8 627.7,322.3 628.1,322.8 628.6,323.4 629.1,324 629.5,324.6 630,325.3 630.5,325.9 630.9,326.6 631.4,327.2 631.9,327.8 632.3,328.4 632.8,329 633.3,329.6 633.7,330.2 634.2,330.7 634.7,331.2 635.1,331.8 635.6,332.3 636.1,332.8 636.5,333.4 637,333.9 637.4,334.4 637.9,334.9 638.4,335.4 638.8,336 639.3,336.5 639.8,337 640.2,337.5 640.7,338 641.2,338.5 641.6,339 642.1,339.5 642.6,339.9 643,340.4 643.5,340.9 644,341.4 644.4,341.8 644.9,342.3 645.4,342.7 645.8,343.2 646.3,343.6 646.8,344.1 647.2,344.5 647.7,344.9 648.2,345.4 648.6,345.8 649.1,346.2 649.6,346.6 650,347 650.5,347.5 651,347.9 651.4,348.3 651.9,348.7 652.4,349.1 652.8,349.5 653.3,349.9 653.7,350.3 654.2,350.7 654.7,351.1 655.1,351.5 655.6,351.9 656.1,352.3 656.5,352.7 657,353.1 657.5,353.5 657.9,353.9 658.4,354.3 658.9,354.7 659.3,355 659.8,355.4 660.3,355.8 660.7,356.2 661.2,356.5 661.7,356.9 662.1,357.3 662.6,357.7 663.1,358 663.5,358.4 664,358.8 664.5,359.2 664.9,359.6 665.4,359.9 665.9,360.3 666.3,360.7 666.8,361.1 667.3,361.5 667.7,361.9 668.2,362.3 668.7,362.7 669.1,363.1 669.6,363.5 670,363.9 670.5,364.3 671,364.7 671.4,365.1 671.9,365.5 672.4,365.9 672.8,366.3 673.3,366.7 673.8,367.1 674.2,367.5 674.7,367.9 675.2,368.4 675.6,368.8 676.1,369.2 676.6,369.6 677,370 677.5,370.4 678,370.9 678.4,371.3 678.9,371.7 679.4,372.1 679.8,372.6 680.3,373 680.8,373.4 681.2,373.8 681.7,374.3 682.2,374.7 682.6,375.1 683.1,375.5 683.6,375.8 684,376.1" fill="none" stroke="#d92a8e" stroke-width="1.0" stroke-linejoin="round"/>
<line x1="508.5" y1="246.2" x2="527.8" y2="246.2" stroke="#4a72bc" stroke-width="1.2" />
<text x="531" y="249.3" font-size="8.9" text-anchor="start" font-weight="normal" font-style="normal" fill="#231f20" stroke="#231f20" stroke-width="0.22" >1T' WSe<tspan font-size="6" dy="2.2">2</tspan></text>
<line x1="508.5" y1="260" x2="527.8" y2="260" stroke="#e46aa8" stroke-width="1.2" />
<text x="531" y="263.2" font-size="8.9" text-anchor="start" font-weight="normal" font-style="normal" fill="#231f20" stroke="#231f20" stroke-width="0.22" >2H WSe<tspan font-size="6" dy="2.2">2</tspan></text>
<text x="546.3" y="307.6" font-size="8.6" text-anchor="start" font-weight="normal" font-style="normal" fill="#231f20" stroke="#231f20" stroke-width="0.22" >B'</text>
<text x="581.8" y="296.4" font-size="8.6" text-anchor="start" font-weight="normal" font-style="normal" fill="#231f20" stroke="#231f20" stroke-width="0.22" >B</text>
<text x="617.3" y="313.1" font-size="8.6" text-anchor="start" font-weight="normal" font-style="normal" fill="#231f20" stroke="#231f20" stroke-width="0.22" >A</text>
<rect x="498.2" y="238.5" width="186.2" height="186.1" fill="none" stroke="#3a3a3a" stroke-width="0.9"/>
<line x1="498.2" y1="255" x2="500.7" y2="255" stroke="#3a3a3a" stroke-width="0.8" />
<text x="494.4" y="258.5" font-size="10" text-anchor="end" font-weight="normal" font-style="normal" fill="#231f20" stroke="#231f20" stroke-width="0.22" >1.0</text>
<line x1="498.2" y1="288.92" x2="500.7" y2="288.92" stroke="#3a3a3a" stroke-width="0.8" />
<text x="494.4" y="292.42" font-size="10" text-anchor="end" font-weight="normal" font-style="normal" fill="#231f20" stroke="#231f20" stroke-width="0.22" >0.8</text>
<line x1="498.2" y1="322.84" x2="500.7" y2="322.84" stroke="#3a3a3a" stroke-width="0.8" />
<text x="494.4" y="326.34" font-size="10" text-anchor="end" font-weight="normal" font-style="normal" fill="#231f20" stroke="#231f20" stroke-width="0.22" >0.6</text>
<line x1="498.2" y1="356.76" x2="500.7" y2="356.76" stroke="#3a3a3a" stroke-width="0.8" />
<text x="494.4" y="360.26" font-size="10" text-anchor="end" font-weight="normal" font-style="normal" fill="#231f20" stroke="#231f20" stroke-width="0.22" >0.4</text>
<line x1="498.2" y1="390.68" x2="500.7" y2="390.68" stroke="#3a3a3a" stroke-width="0.8" />
<text x="494.4" y="394.18" font-size="10" text-anchor="end" font-weight="normal" font-style="normal" fill="#231f20" stroke="#231f20" stroke-width="0.22" >0.2</text>
<line x1="498.2" y1="424.6" x2="500.7" y2="424.6" stroke="#3a3a3a" stroke-width="0.8" />
<text x="494.4" y="428.1" font-size="10" text-anchor="end" font-weight="normal" font-style="normal" fill="#231f20" stroke="#231f20" stroke-width="0.22" >0.0</text>
<line x1="498.2" y1="271.96" x2="499.8" y2="271.96" stroke="#3a3a3a" stroke-width="0.8" />
<line x1="498.2" y1="305.88" x2="499.8" y2="305.88" stroke="#3a3a3a" stroke-width="0.8" />
<line x1="498.2" y1="339.8" x2="499.8" y2="339.8" stroke="#3a3a3a" stroke-width="0.8" />
<line x1="498.2" y1="373.72" x2="499.8" y2="373.72" stroke="#3a3a3a" stroke-width="0.8" />
<line x1="498.2" y1="407.64" x2="499.8" y2="407.64" stroke="#3a3a3a" stroke-width="0.8" />
<line x1="514.62" y1="424.6" x2="514.62" y2="422.1" stroke="#3a3a3a" stroke-width="0.8" />
<text x="514.62" y="437.2" font-size="10" text-anchor="middle" font-weight="normal" font-style="normal" fill="#231f20" stroke="#231f20" stroke-width="0.22" >300</text>
<line x1="536.52" y1="424.6" x2="536.52" y2="422.1" stroke="#3a3a3a" stroke-width="0.8" />
<text x="536.52" y="437.2" font-size="10" text-anchor="middle" font-weight="normal" font-style="normal" fill="#231f20" stroke="#231f20" stroke-width="0.22" >400</text>
<line x1="558.42" y1="424.6" x2="558.42" y2="422.1" stroke="#3a3a3a" stroke-width="0.8" />
<text x="558.42" y="437.2" font-size="10" text-anchor="middle" font-weight="normal" font-style="normal" fill="#231f20" stroke="#231f20" stroke-width="0.22" >500</text>
<line x1="580.33" y1="424.6" x2="580.33" y2="422.1" stroke="#3a3a3a" stroke-width="0.8" />
<text x="580.33" y="437.2" font-size="10" text-anchor="middle" font-weight="normal" font-style="normal" fill="#231f20" stroke="#231f20" stroke-width="0.22" >600</text>
<line x1="602.23" y1="424.6" x2="602.23" y2="422.1" stroke="#3a3a3a" stroke-width="0.8" />
<text x="602.23" y="437.2" font-size="10" text-anchor="middle" font-weight="normal" font-style="normal" fill="#231f20" stroke="#231f20" stroke-width="0.22" >700</text>
<line x1="624.12" y1="424.6" x2="624.12" y2="422.1" stroke="#3a3a3a" stroke-width="0.8" />
<text x="624.12" y="437.2" font-size="10" text-anchor="middle" font-weight="normal" font-style="normal" fill="#231f20" stroke="#231f20" stroke-width="0.22" >800</text>
<line x1="646.02" y1="424.6" x2="646.02" y2="422.1" stroke="#3a3a3a" stroke-width="0.8" />
<text x="646.02" y="437.2" font-size="10" text-anchor="middle" font-weight="normal" font-style="normal" fill="#231f20" stroke="#231f20" stroke-width="0.22" >900</text>
<line x1="667.92" y1="424.6" x2="667.92" y2="422.1" stroke="#3a3a3a" stroke-width="0.8" />
<text x="667.92" y="437.2" font-size="10" text-anchor="middle" font-weight="normal" font-style="normal" fill="#231f20" stroke="#231f20" stroke-width="0.22" >1000</text>
<line x1="503.68" y1="424.6" x2="503.68" y2="423" stroke="#3a3a3a" stroke-width="0.8" />
<line x1="525.58" y1="424.6" x2="525.58" y2="423" stroke="#3a3a3a" stroke-width="0.8" />
<line x1="547.48" y1="424.6" x2="547.48" y2="423" stroke="#3a3a3a" stroke-width="0.8" />
<line x1="569.38" y1="424.6" x2="569.38" y2="423" stroke="#3a3a3a" stroke-width="0.8" />
<line x1="591.27" y1="424.6" x2="591.27" y2="423" stroke="#3a3a3a" stroke-width="0.8" />
<line x1="613.17" y1="424.6" x2="613.17" y2="423" stroke="#3a3a3a" stroke-width="0.8" />
<line x1="635.08" y1="424.6" x2="635.08" y2="423" stroke="#3a3a3a" stroke-width="0.8" />
<line x1="656.98" y1="424.6" x2="656.98" y2="423" stroke="#3a3a3a" stroke-width="0.8" />
<line x1="678.88" y1="424.6" x2="678.88" y2="423" stroke="#3a3a3a" stroke-width="0.8" />
<text x="590.7" y="452" font-size="9.8" text-anchor="middle" font-weight="normal" font-style="normal" fill="#231f20" stroke="#231f20" stroke-width="0.22" >Wavelength (nm)</text>
<text x="472" y="331" font-size="9.8" text-anchor="middle" font-weight="normal" font-style="normal" fill="#231f20" stroke="#231f20" stroke-width="0.22" transform="rotate(-90 472 331)">Absorbance</text>
</svg></body></html>
